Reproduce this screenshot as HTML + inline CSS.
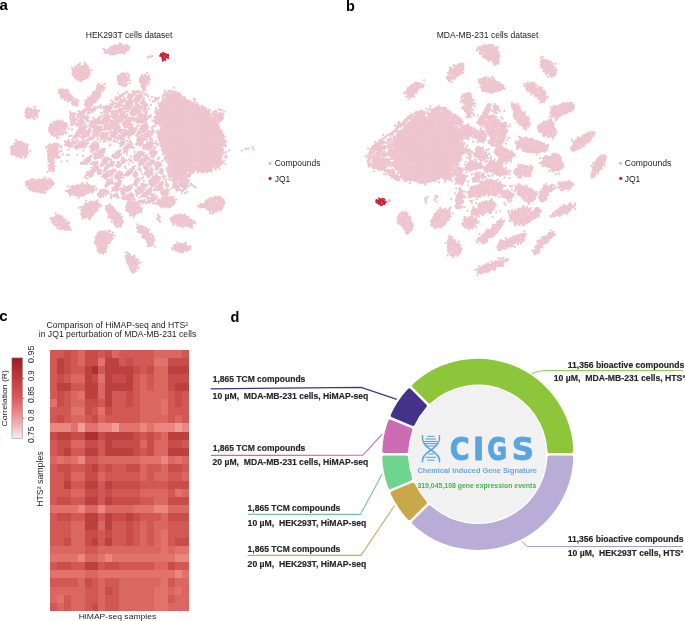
<!DOCTYPE html>
<html><head><meta charset="utf-8">
<style>
html,body{margin:0;padding:0;background:#fff;}
body{width:685px;height:621px;overflow:hidden;}
svg{display:block;}
</style></head>
<body>
<svg width="685" height="621" viewBox="0 0 685 621">
<rect width="685" height="621" fill="#fff"/>
<!-- panel a -->
<path d="M165.2 90.9h0M168.9 91.0h0M170.1 91.1h0M172.1 91.2h0M175.7 91.3h0M165.0 93.1h0M167.7 92.4h0M171.5 93.0h0M173.4 92.6h0M174.9 92.9h0M176.1 92.8h0M178.6 92.9h0M163.8 94.4h0M165.8 94.1h0M167.3 94.1h0M168.9 94.3h0M174.1 94.5h0M176.0 93.9h0M177.4 94.5h0M179.4 93.8h0M180.4 94.1h0M162.9 96.0h0M164.4 95.3h0M166.3 95.4h0M167.6 95.3h0M173.3 95.4h0M174.8 95.3h0M176.4 95.2h0M178.0 95.2h0M180.1 95.7h0M181.3 95.6h0M162.5 96.8h0M167.5 97.2h0M169.1 97.4h0M170.2 97.1h0M172.3 97.4h0M174.2 97.4h0M175.7 97.4h0M177.5 97.3h0M178.8 96.7h0M180.4 97.0h0M182.1 97.4h0M184.2 97.2h0M163.2 98.6h0M164.9 98.8h0M166.1 98.9h0M168.0 98.1h0M169.3 98.6h0M171.4 98.4h0M172.8 98.4h0M174.6 98.9h0M176.1 98.8h0M178.5 98.2h0M180.3 98.8h0M182.0 98.4h0M183.2 98.5h0M185.4 98.7h0M163.7 100.1h0M165.3 99.9h0M166.8 99.9h0M169.3 99.7h0M170.6 100.2h0M172.6 99.8h0M173.7 99.8h0M175.6 100.0h0M177.8 100.4h0M179.4 99.6h0M180.3 100.2h0M182.8 100.0h0M184.2 99.6h0M185.8 100.4h0M187.8 100.4h0M162.9 101.3h0M165.0 101.4h0M166.6 101.3h0M167.7 101.8h0M169.5 101.9h0M171.4 101.3h0M172.9 101.5h0M176.2 101.4h0M177.9 102.0h0M179.6 101.1h0M181.2 101.4h0M183.7 101.9h0M185.2 102.0h0M187.1 101.4h0M188.1 101.9h0M190.3 101.1h0M158.4 103.0h0M160.8 103.4h0M161.9 102.8h0M163.7 103.0h0M165.8 102.7h0M167.4 103.2h0M169.1 103.3h0M170.6 102.9h0M172.1 102.9h0M174.2 102.6h0M175.4 103.2h0M177.1 102.6h0M178.6 103.1h0M180.6 103.4h0M182.8 103.5h0M183.9 102.6h0M185.5 103.0h0M187.7 103.0h0M189.0 102.9h0M192.9 103.3h0M196.4 102.8h0M159.3 104.6h0M161.3 104.2h0M162.5 104.3h0M164.8 104.2h0M166.1 104.2h0M168.3 104.5h0M169.3 104.1h0M171.3 104.5h0M173.2 104.1h0M174.5 104.7h0M176.4 104.3h0M178.0 104.9h0M179.7 104.5h0M183.6 104.9h0M184.9 104.2h0M186.9 104.2h0M191.7 104.8h0M193.5 104.2h0M194.8 104.5h0M197.0 104.9h0M198.2 104.6h0M158.9 105.6h0M160.7 105.6h0M162.1 106.0h0M163.9 105.8h0M165.4 106.0h0M167.1 106.1h0M168.8 105.9h0M174.2 106.2h0M175.6 105.7h0M177.3 105.6h0M178.7 105.9h0M180.4 105.9h0M182.5 105.6h0M184.3 105.6h0M186.1 106.2h0M187.6 105.6h0M189.3 105.9h0M193.0 106.4h0M201.4 106.4h0M202.5 105.8h0M159.9 107.5h0M161.1 107.7h0M162.8 107.2h0M164.8 107.0h0M166.6 107.2h0M172.7 107.1h0M174.9 107.4h0M176.5 107.8h0M177.9 107.2h0M180.0 107.0h0M181.2 107.3h0M182.9 107.3h0M184.8 107.5h0M186.8 107.2h0M188.5 107.4h0M189.8 107.8h0M191.6 107.1h0M196.8 107.2h0M202.1 107.4h0M204.1 107.7h0M205.2 107.8h0M156.7 108.6h0M160.2 109.2h0M162.2 109.2h0M163.9 108.7h0M165.5 108.9h0M167.4 108.9h0M175.9 109.3h0M177.6 108.8h0M179.4 108.8h0M180.5 109.3h0M182.6 109.1h0M184.3 109.4h0M185.8 109.2h0M187.7 109.2h0M189.2 109.1h0M191.0 108.8h0M192.4 109.0h0M195.7 108.5h0M197.4 109.3h0M199.3 108.6h0M200.7 108.5h0M203.0 109.0h0M204.7 109.1h0M205.9 109.0h0M157.7 110.2h0M159.9 110.4h0M161.5 110.5h0M162.5 110.3h0M164.5 110.7h0M166.2 110.6h0M168.0 110.2h0M170.0 110.0h0M171.7 110.1h0M175.0 110.8h0M176.1 110.4h0M178.2 110.7h0M179.6 110.4h0M181.5 110.7h0M183.1 110.8h0M186.9 110.4h0M188.0 110.5h0M189.7 110.7h0M192.0 110.7h0M193.6 110.3h0M195.1 110.3h0M197.3 110.0h0M198.9 110.0h0M200.0 110.2h0M202.4 110.4h0M203.6 110.8h0M205.2 110.4h0M207.1 110.6h0M156.8 111.6h0M159.1 112.1h0M160.0 112.3h0M161.7 111.8h0M164.2 112.2h0M165.7 111.8h0M166.9 112.0h0M168.5 111.6h0M174.1 111.9h0M175.8 111.9h0M177.0 112.0h0M179.0 112.1h0M181.1 111.8h0M182.5 112.1h0M184.1 111.6h0M187.8 112.1h0M189.6 112.0h0M191.1 111.8h0M192.5 112.0h0M194.0 111.8h0M196.3 112.1h0M197.9 111.7h0M199.4 111.8h0M201.3 111.8h0M203.0 112.3h0M204.3 112.0h0M209.2 111.9h0M213.4 111.9h0M214.4 112.0h0M216.5 112.1h0M155.9 113.3h0M157.4 113.3h0M159.4 113.5h0M161.1 113.2h0M162.7 113.6h0M165.0 113.4h0M166.0 113.6h0M167.9 113.1h0M169.4 113.6h0M171.7 113.5h0M173.1 113.4h0M174.6 113.8h0M176.4 113.5h0M178.5 113.6h0M179.9 113.2h0M181.6 113.0h0M183.6 113.2h0M186.6 113.1h0M188.3 113.1h0M189.7 113.6h0M191.6 113.1h0M193.3 113.3h0M195.1 113.5h0M197.0 113.2h0M199.0 113.7h0M199.9 113.7h0M202.4 113.6h0M203.4 113.7h0M205.5 112.9h0M206.7 113.8h0M212.0 113.6h0M213.8 113.1h0M216.0 113.6h0M219.1 113.6h0M220.9 113.7h0M222.7 113.7h0M156.7 114.5h0M158.6 114.4h0M160.3 114.5h0M162.0 114.8h0M163.8 115.2h0M165.0 115.1h0M167.1 114.9h0M169.0 115.1h0M170.4 114.8h0M172.7 114.5h0M174.1 115.0h0M175.2 114.9h0M177.5 115.2h0M178.9 115.3h0M180.8 114.8h0M182.8 114.4h0M184.3 115.0h0M185.7 115.2h0M187.4 114.8h0M189.3 115.1h0M190.7 114.8h0M192.6 114.9h0M194.6 114.7h0M196.3 114.8h0M197.8 114.6h0M199.5 115.3h0M201.3 115.1h0M202.7 114.7h0M204.4 114.9h0M206.4 115.1h0M207.5 115.0h0M210.0 114.9h0M210.9 114.7h0M212.6 114.6h0M215.1 114.9h0M216.6 115.1h0M218.5 114.9h0M220.0 115.0h0M221.7 114.9h0M223.4 114.6h0M156.3 116.7h0M157.9 116.2h0M159.8 116.6h0M161.3 116.1h0M164.4 116.3h0M166.4 116.7h0M167.6 116.4h0M169.3 116.0h0M171.7 116.4h0M173.5 116.3h0M174.4 116.2h0M176.6 116.7h0M178.6 116.3h0M179.8 116.0h0M181.7 116.1h0M183.0 115.9h0M184.6 116.5h0M186.4 116.7h0M188.0 116.7h0M189.8 115.9h0M192.0 116.1h0M193.7 116.0h0M194.8 116.6h0M197.1 116.6h0M200.4 116.5h0M202.0 116.7h0M203.5 116.7h0M205.6 115.9h0M206.7 116.5h0M210.3 116.5h0M213.9 115.9h0M215.5 116.4h0M217.2 116.5h0M218.7 116.6h0M220.6 116.5h0M222.5 116.2h0M157.1 118.1h0M158.5 117.9h0M160.8 118.1h0M162.1 117.6h0M163.7 118.2h0M165.3 118.0h0M170.1 117.6h0M172.2 117.9h0M174.2 118.1h0M175.2 118.1h0M177.6 118.1h0M179.1 117.6h0M181.1 118.1h0M182.6 118.2h0M184.0 117.4h0M185.9 118.1h0M187.3 118.0h0M189.6 117.6h0M191.0 118.0h0M192.6 117.5h0M194.1 118.0h0M196.3 117.8h0M197.4 118.1h0M199.7 117.6h0M201.2 118.2h0M203.2 117.8h0M204.5 117.9h0M206.0 117.5h0M207.7 118.0h0M209.5 117.9h0M211.3 117.8h0M212.7 117.4h0M215.2 117.7h0M216.1 117.9h0M218.4 117.5h0M219.9 117.7h0M221.6 117.4h0M222.8 118.2h0M156.5 119.5h0M158.1 119.7h0M159.3 118.9h0M160.9 119.0h0M162.5 118.9h0M164.7 119.6h0M166.3 119.7h0M171.1 119.7h0M172.9 119.3h0M174.9 119.7h0M176.7 119.2h0M178.2 119.0h0M180.3 119.7h0M181.3 118.9h0M183.1 119.1h0M185.4 119.6h0M187.0 118.9h0M191.4 119.0h0M193.7 119.7h0M195.4 119.1h0M197.0 119.5h0M198.2 119.1h0M200.1 118.9h0M202.0 119.0h0M203.5 119.0h0M205.6 118.8h0M208.4 119.7h0M212.5 119.6h0M213.6 119.2h0M215.2 119.7h0M217.6 119.4h0M219.0 119.1h0M221.0 119.3h0M222.5 119.0h0M155.0 120.7h0M156.6 120.6h0M159.0 120.6h0M160.1 120.8h0M161.9 121.1h0M163.4 121.2h0M165.1 121.1h0M168.8 120.6h0M174.4 121.1h0M175.3 120.6h0M177.7 120.4h0M179.3 120.6h0M181.2 120.3h0M182.7 120.6h0M183.8 120.3h0M186.1 120.8h0M187.3 120.7h0M189.6 120.5h0M191.0 120.4h0M192.4 121.0h0M194.5 120.5h0M195.7 120.4h0M197.8 120.8h0M199.2 120.5h0M201.3 120.9h0M203.1 120.8h0M204.3 120.4h0M206.5 120.7h0M209.9 120.6h0M211.7 121.1h0M213.0 120.3h0M215.1 120.7h0M216.8 120.5h0M217.9 121.1h0M219.7 120.5h0M155.9 122.4h0M157.7 122.5h0M159.1 122.6h0M161.6 122.2h0M162.9 122.3h0M164.6 121.8h0M169.5 122.5h0M173.3 122.0h0M174.4 122.3h0M176.6 122.3h0M178.4 121.9h0M180.2 122.4h0M181.2 121.9h0M183.3 122.2h0M186.6 121.9h0M188.5 122.6h0M189.8 122.3h0M195.1 122.2h0M197.2 122.3h0M200.5 122.1h0M201.8 122.1h0M203.6 122.7h0M205.7 122.6h0M207.4 122.6h0M208.4 122.3h0M210.9 122.6h0M212.0 122.2h0M214.0 122.1h0M215.6 121.9h0M217.2 122.2h0M218.6 121.9h0M155.4 123.5h0M157.0 124.1h0M158.8 123.5h0M160.4 123.7h0M162.5 123.5h0M163.6 123.8h0M165.1 123.8h0M168.6 123.7h0M170.6 123.4h0M171.9 123.4h0M173.8 123.6h0M175.5 123.5h0M177.0 123.8h0M179.4 123.8h0M180.8 123.9h0M182.2 123.9h0M184.1 123.8h0M186.0 123.7h0M187.4 123.5h0M189.0 123.7h0M194.7 123.5h0M196.1 123.7h0M197.6 124.2h0M200.8 123.3h0M203.2 123.7h0M204.2 123.6h0M206.2 123.9h0M207.6 123.5h0M210.1 123.9h0M211.0 123.6h0M212.9 123.9h0M214.9 124.0h0M216.7 123.7h0M218.4 123.9h0M159.6 125.1h0M161.2 125.2h0M163.1 125.0h0M164.5 125.2h0M166.2 125.0h0M168.3 125.5h0M169.7 125.1h0M171.1 125.0h0M172.8 125.3h0M176.9 125.0h0M178.5 125.5h0M180.3 124.9h0M181.5 125.6h0M182.9 124.8h0M185.1 125.2h0M187.1 125.4h0M193.4 125.3h0M195.1 125.6h0M200.2 125.3h0M202.1 125.5h0M204.1 125.2h0M205.3 125.3h0M207.5 125.1h0M208.8 125.5h0M210.2 125.0h0M212.6 125.5h0M213.9 124.8h0M216.0 125.4h0M217.6 125.6h0M155.4 126.3h0M163.9 126.4h0M165.4 126.7h0M166.9 126.8h0M168.9 127.1h0M170.6 126.6h0M171.9 126.4h0M175.3 126.4h0M177.4 127.0h0M179.2 127.0h0M180.4 126.2h0M182.7 126.5h0M184.3 126.5h0M185.6 126.5h0M187.2 127.0h0M190.9 126.6h0M192.2 127.0h0M194.4 127.1h0M196.0 126.8h0M201.0 127.0h0M203.1 126.5h0M204.6 127.1h0M206.2 127.1h0M207.7 126.6h0M209.8 126.4h0M211.2 127.0h0M213.0 126.9h0M214.5 126.4h0M216.3 126.4h0M218.6 126.5h0M160.8 127.9h0M164.5 128.5h0M166.6 127.8h0M169.6 128.6h0M171.1 128.6h0M173.1 127.9h0M174.8 127.8h0M176.7 127.9h0M178.6 128.2h0M179.8 127.9h0M181.7 127.9h0M183.6 127.8h0M185.0 128.2h0M186.5 128.4h0M193.2 128.5h0M195.0 128.3h0M196.5 128.2h0M200.1 127.8h0M201.8 127.9h0M203.4 128.3h0M205.2 128.1h0M207.5 128.4h0M209.1 128.5h0M210.2 128.0h0M211.8 128.3h0M214.0 128.0h0M215.5 128.3h0M217.5 127.9h0M219.3 128.0h0M160.7 129.7h0M163.7 129.8h0M165.3 129.2h0M170.9 129.7h0M171.8 129.4h0M177.6 129.3h0M179.2 129.5h0M181.0 129.9h0M182.3 129.3h0M184.6 129.6h0M186.2 129.8h0M187.8 129.9h0M189.4 129.6h0M190.5 129.8h0M192.6 129.6h0M194.7 129.3h0M196.3 129.2h0M197.9 129.9h0M199.2 129.7h0M201.6 129.8h0M202.9 129.4h0M204.2 129.5h0M206.2 129.4h0M207.8 129.3h0M209.8 129.8h0M213.1 129.6h0M215.1 129.5h0M216.3 130.0h0M217.8 129.7h0M219.7 129.9h0M157.4 130.9h0M159.2 131.3h0M161.2 130.8h0M162.7 131.1h0M164.5 130.8h0M168.4 131.3h0M169.3 131.3h0M171.8 131.2h0M172.7 131.1h0M176.5 130.7h0M178.6 131.2h0M180.0 131.5h0M181.7 130.9h0M183.1 130.8h0M184.6 131.4h0M187.0 130.9h0M191.5 131.4h0M193.8 131.3h0M195.0 130.8h0M197.2 131.0h0M198.5 131.2h0M200.2 131.4h0M201.8 130.7h0M203.8 131.2h0M205.7 131.3h0M207.5 131.5h0M208.8 131.1h0M210.2 130.9h0M212.3 130.7h0M214.1 130.8h0M215.5 131.5h0M216.9 130.7h0M218.9 130.8h0M220.9 130.7h0M157.1 132.9h0M159.0 132.3h0M160.2 132.5h0M162.1 132.5h0M163.5 132.2h0M165.3 132.6h0M167.6 133.0h0M169.2 133.0h0M171.0 132.7h0M172.5 132.2h0M177.8 132.6h0M179.2 132.4h0M180.6 132.9h0M184.3 132.5h0M185.5 132.7h0M187.4 132.7h0M189.2 132.6h0M192.3 132.3h0M194.7 132.6h0M197.5 132.2h0M201.1 132.6h0M202.6 132.7h0M204.2 132.6h0M206.3 132.2h0M207.9 132.2h0M209.6 132.9h0M211.4 132.8h0M213.3 132.2h0M215.2 132.8h0M216.1 132.9h0M218.1 132.3h0M220.3 132.6h0M221.8 132.3h0M158.1 134.2h0M159.8 134.1h0M161.6 134.4h0M162.6 134.3h0M164.5 134.3h0M166.5 134.4h0M167.7 134.0h0M169.9 134.5h0M171.6 133.7h0M173.2 133.7h0M174.8 134.3h0M176.2 134.5h0M178.4 133.8h0M179.6 134.0h0M181.9 134.1h0M183.0 133.6h0M184.6 134.3h0M186.4 134.1h0M188.2 134.2h0M190.0 133.7h0M192.1 134.1h0M193.7 134.3h0M196.8 133.8h0M201.7 134.4h0M203.9 134.0h0M205.4 133.8h0M207.4 134.0h0M209.1 134.2h0M210.1 133.9h0M211.9 134.4h0M214.0 133.7h0M215.3 133.9h0M217.3 134.1h0M218.9 133.9h0M220.3 134.1h0M222.3 133.6h0M158.7 136.0h0M160.8 135.1h0M162.1 135.8h0M164.1 135.8h0M165.6 135.7h0M167.0 135.4h0M169.1 135.9h0M172.1 135.8h0M174.2 135.6h0M175.8 135.4h0M177.4 135.5h0M178.7 135.4h0M180.6 136.0h0M182.4 135.4h0M183.9 135.3h0M187.1 135.9h0M189.2 135.5h0M194.2 135.4h0M196.3 135.6h0M198.1 135.4h0M199.8 135.6h0M200.8 135.3h0M202.9 136.0h0M204.4 135.8h0M206.2 135.9h0M207.6 135.5h0M210.0 135.3h0M211.1 135.1h0M212.7 135.3h0M214.9 135.3h0M220.0 135.3h0M221.8 136.0h0M223.3 135.2h0M158.2 136.8h0M159.3 137.3h0M161.3 136.9h0M163.1 136.9h0M164.2 137.0h0M165.9 137.1h0M167.9 137.0h0M169.8 136.8h0M173.5 137.1h0M175.2 136.6h0M176.6 137.2h0M178.0 136.7h0M179.6 136.7h0M181.8 136.7h0M183.6 137.0h0M185.0 137.1h0M186.7 137.2h0M188.5 136.9h0M190.3 136.8h0M193.7 136.9h0M196.9 136.8h0M198.6 137.4h0M200.0 136.6h0M202.0 137.2h0M203.9 136.9h0M205.8 136.8h0M207.3 136.7h0M208.4 136.7h0M210.1 137.0h0M212.2 136.7h0M214.3 136.9h0M215.3 136.7h0M222.8 137.0h0M158.6 138.8h0M160.0 138.6h0M162.0 138.9h0M164.2 138.6h0M165.2 138.3h0M166.9 138.4h0M168.6 138.2h0M170.8 138.6h0M172.1 139.0h0M173.7 138.6h0M175.3 138.8h0M177.7 138.3h0M179.3 138.8h0M180.6 138.4h0M182.4 138.9h0M183.8 138.7h0M185.9 138.5h0M187.6 138.9h0M193.0 138.2h0M194.7 139.0h0M195.9 138.1h0M197.4 138.9h0M199.0 138.9h0M200.8 138.7h0M202.5 138.2h0M204.7 138.1h0M206.1 138.9h0M208.1 138.9h0M210.1 138.1h0M211.1 138.8h0M221.2 138.5h0M222.9 138.4h0M159.2 140.4h0M161.5 140.2h0M162.7 139.7h0M164.4 139.6h0M165.9 140.0h0M167.9 140.0h0M169.6 139.5h0M171.6 140.1h0M173.1 140.0h0M175.0 140.4h0M176.8 140.2h0M178.1 139.8h0M185.4 139.5h0M186.8 140.4h0M191.5 139.6h0M193.8 140.2h0M195.6 139.6h0M197.1 139.8h0M204.0 140.0h0M205.5 140.4h0M206.9 140.1h0M209.0 139.9h0M210.7 139.9h0M214.1 139.8h0M217.1 140.1h0M218.8 140.4h0M222.4 140.0h0M223.8 139.7h0M160.6 141.8h0M162.4 141.1h0M163.6 141.8h0M165.7 141.1h0M166.8 141.2h0M168.5 141.3h0M170.8 141.5h0M172.2 141.1h0M173.9 141.9h0M175.8 141.4h0M177.3 141.7h0M179.3 141.1h0M182.5 141.2h0M184.0 141.3h0M185.7 141.0h0M187.3 141.5h0M191.1 141.3h0M192.5 141.2h0M194.7 141.1h0M196.2 141.8h0M197.5 141.4h0M202.8 141.3h0M204.7 141.3h0M206.2 141.6h0M208.2 141.3h0M209.5 141.5h0M211.7 141.2h0M219.9 141.5h0M221.9 141.7h0M222.8 141.5h0M224.9 141.4h0M159.7 143.2h0M161.1 142.5h0M163.1 143.0h0M164.8 143.2h0M166.0 142.7h0M169.3 142.6h0M171.6 143.0h0M172.7 143.1h0M175.0 142.9h0M176.1 143.1h0M178.1 143.0h0M180.3 143.2h0M181.9 142.6h0M183.2 143.0h0M184.6 143.4h0M186.5 142.7h0M188.2 142.7h0M190.4 143.0h0M191.8 142.9h0M193.1 142.8h0M195.5 143.2h0M197.2 142.7h0M198.3 142.5h0M200.3 142.8h0M202.0 142.9h0M203.8 142.8h0M205.7 142.7h0M207.5 143.0h0M208.4 142.8h0M210.5 142.9h0M212.3 142.8h0M213.7 143.2h0M217.6 143.0h0M219.0 143.3h0M220.7 143.3h0M222.0 142.9h0M224.2 142.5h0M160.2 144.2h0M162.4 144.1h0M164.1 144.2h0M165.1 144.1h0M167.4 144.8h0M168.8 144.6h0M172.4 144.1h0M173.6 144.6h0M175.2 144.7h0M177.2 144.2h0M179.1 144.3h0M180.8 144.1h0M182.8 144.3h0M184.5 144.1h0M186.1 144.9h0M187.5 144.0h0M190.7 144.5h0M192.3 144.4h0M194.6 144.4h0M196.2 144.1h0M198.0 144.1h0M199.8 144.9h0M201.5 144.4h0M202.7 144.3h0M204.8 144.4h0M206.6 144.1h0M207.9 144.8h0M209.7 144.5h0M211.0 144.1h0M212.8 144.8h0M215.1 144.2h0M218.2 144.8h0M219.7 144.8h0M221.7 144.0h0M223.1 144.4h0M224.7 144.6h0M160.8 145.9h0M162.5 146.0h0M164.3 146.0h0M166.2 145.8h0M168.1 145.6h0M173.4 145.9h0M174.5 145.5h0M176.8 145.6h0M178.2 145.9h0M179.6 145.9h0M181.3 145.9h0M183.3 145.8h0M184.7 145.8h0M186.4 145.6h0M190.1 146.3h0M191.4 146.3h0M193.5 146.2h0M195.3 146.1h0M196.7 146.1h0M198.3 145.7h0M199.9 145.8h0M202.0 145.7h0M204.1 145.5h0M205.5 145.7h0M207.2 146.2h0M209.0 145.5h0M210.3 146.0h0M214.0 146.1h0M215.9 145.8h0M217.6 145.9h0M219.4 145.5h0M222.3 145.5h0M223.9 146.1h0M226.0 145.6h0M162.3 147.7h0M164.0 147.5h0M165.2 147.5h0M167.5 147.6h0M168.5 147.6h0M174.2 147.1h0M175.9 147.8h0M177.7 147.6h0M179.3 147.7h0M180.8 147.3h0M182.7 147.6h0M184.5 147.2h0M186.3 147.4h0M189.7 147.6h0M190.7 147.7h0M192.4 147.1h0M194.3 147.1h0M196.0 147.7h0M197.9 147.6h0M199.4 147.6h0M201.4 147.5h0M203.2 147.7h0M204.5 147.0h0M206.4 147.7h0M207.8 147.5h0M210.0 147.6h0M210.9 147.4h0M215.0 147.3h0M216.5 147.3h0M218.0 147.1h0M219.7 147.7h0M163.0 149.2h0M164.5 148.9h0M166.7 148.9h0M168.4 148.6h0M170.0 148.6h0M171.4 148.4h0M172.8 149.3h0M174.8 149.1h0M176.3 148.7h0M177.8 148.9h0M180.2 148.9h0M181.5 149.2h0M183.7 149.0h0M184.6 149.0h0M186.6 149.3h0M188.3 149.0h0M190.2 148.7h0M191.8 149.0h0M193.9 148.9h0M195.1 149.3h0M196.5 149.2h0M198.8 148.9h0M200.3 149.1h0M202.4 149.1h0M203.9 148.4h0M205.2 148.5h0M207.5 149.2h0M208.5 148.9h0M210.6 148.5h0M212.1 149.1h0M215.8 148.7h0M217.3 148.8h0M219.4 149.0h0M161.9 149.9h0M163.6 150.2h0M165.9 150.8h0M166.9 150.2h0M169.2 150.1h0M170.4 150.3h0M171.9 150.1h0M173.9 150.2h0M176.1 150.1h0M177.1 150.7h0M179.0 150.6h0M180.9 150.6h0M182.3 150.0h0M184.4 150.3h0M185.9 150.5h0M187.8 150.1h0M189.1 150.7h0M191.0 150.1h0M192.8 150.1h0M194.6 149.9h0M196.3 150.4h0M197.6 150.7h0M199.2 150.1h0M200.8 150.4h0M203.1 150.5h0M204.5 150.6h0M205.9 150.2h0M208.1 150.8h0M209.8 150.5h0M211.6 150.2h0M216.7 150.2h0M217.9 150.7h0M219.9 150.4h0M221.7 150.7h0M222.9 150.2h0M163.1 151.8h0M166.5 152.1h0M168.1 152.2h0M169.4 152.0h0M171.6 151.9h0M172.9 151.4h0M174.9 152.1h0M176.3 151.6h0M178.0 151.5h0M180.1 152.2h0M181.9 151.7h0M183.5 151.4h0M185.3 151.7h0M186.3 151.9h0M188.1 151.6h0M189.7 151.8h0M191.8 152.1h0M193.1 152.1h0M194.8 151.6h0M197.0 151.7h0M198.4 151.9h0M200.0 152.1h0M201.7 152.1h0M204.0 151.9h0M205.0 152.1h0M208.7 151.4h0M210.6 152.0h0M212.3 151.7h0M215.4 152.1h0M217.7 152.1h0M219.4 151.7h0M221.1 151.4h0M222.4 151.5h0M226.0 151.8h0M163.8 153.5h0M165.9 153.5h0M167.6 153.7h0M169.1 153.5h0M170.2 153.0h0M174.1 153.4h0M175.4 153.2h0M177.0 153.4h0M179.5 153.1h0M180.3 153.0h0M182.3 153.7h0M184.4 153.3h0M185.5 152.9h0M187.2 153.5h0M189.2 153.7h0M191.3 153.6h0M194.0 152.9h0M196.1 153.3h0M197.5 153.1h0M199.0 153.7h0M201.3 153.7h0M203.3 153.2h0M204.8 153.2h0M206.5 153.6h0M207.6 152.9h0M209.4 153.4h0M211.2 152.9h0M213.3 153.6h0M214.7 152.9h0M216.8 153.3h0M217.8 153.1h0M220.0 153.6h0M221.5 153.4h0M223.0 153.1h0M225.3 153.2h0M162.9 154.7h0M166.1 154.9h0M168.2 154.8h0M169.4 155.1h0M172.9 155.2h0M174.6 154.7h0M176.8 155.1h0M178.3 155.0h0M179.5 154.4h0M182.0 155.0h0M182.9 154.4h0M184.8 155.2h0M186.4 154.9h0M188.8 154.9h0M190.5 154.6h0M191.5 154.3h0M195.6 155.0h0M196.6 155.1h0M198.3 154.8h0M199.9 155.0h0M205.5 155.1h0M207.1 154.9h0M208.9 155.0h0M210.1 154.4h0M212.2 154.6h0M213.8 154.3h0M215.8 154.3h0M217.6 155.1h0M219.0 154.4h0M220.8 154.5h0M222.3 154.4h0M165.6 156.3h0M167.2 156.2h0M168.8 156.4h0M170.7 156.6h0M172.5 156.5h0M174.3 156.6h0M175.8 155.8h0M177.5 156.6h0M179.0 156.6h0M180.5 156.7h0M182.4 156.4h0M183.9 156.1h0M185.7 156.1h0M187.2 156.2h0M189.7 156.4h0M195.8 156.2h0M197.3 156.0h0M201.0 156.5h0M203.1 156.6h0M204.8 156.3h0M205.9 156.5h0M207.8 156.4h0M211.8 156.0h0M213.1 156.4h0M214.8 156.6h0M216.4 156.6h0M218.3 156.7h0M219.5 156.0h0M221.4 156.6h0M225.1 156.7h0M226.4 156.2h0M164.7 157.9h0M166.4 157.9h0M167.8 157.3h0M169.3 157.3h0M171.3 157.4h0M172.8 157.7h0M175.2 157.9h0M176.3 158.0h0M177.9 157.4h0M179.7 157.7h0M181.8 157.7h0M183.5 157.4h0M185.4 157.6h0M187.0 157.3h0M188.7 157.5h0M190.4 158.0h0M202.4 157.6h0M203.8 157.8h0M205.2 157.3h0M206.7 158.1h0M208.5 158.2h0M211.9 158.0h0M213.7 157.6h0M215.6 157.4h0M217.1 158.0h0M218.8 157.6h0M220.9 157.5h0M225.9 157.7h0M165.2 159.2h0M166.8 158.8h0M168.7 159.2h0M170.9 159.3h0M171.9 159.0h0M174.2 159.3h0M176.0 159.6h0M177.7 158.9h0M179.4 159.2h0M180.5 158.9h0M182.8 159.0h0M183.8 159.0h0M186.2 159.2h0M187.8 158.8h0M189.2 159.0h0M190.7 159.4h0M194.8 159.2h0M197.9 159.2h0M199.0 159.2h0M201.4 159.2h0M202.6 159.2h0M204.6 159.3h0M205.9 159.5h0M208.4 159.4h0M210.0 159.1h0M211.7 158.9h0M212.8 159.3h0M215.1 158.8h0M216.2 158.8h0M218.1 158.9h0M219.6 159.4h0M166.2 160.8h0M169.4 161.0h0M171.0 160.8h0M172.9 160.7h0M176.2 160.5h0M177.9 161.1h0M179.6 160.4h0M183.6 160.3h0M184.8 160.4h0M186.8 160.6h0M188.3 161.0h0M190.2 161.0h0M192.2 160.5h0M193.9 160.6h0M194.8 161.1h0M196.5 160.3h0M198.4 160.5h0M200.7 161.0h0M201.9 160.7h0M204.0 161.0h0M205.5 160.7h0M206.8 160.5h0M208.9 160.8h0M210.8 161.1h0M212.6 160.4h0M213.5 161.0h0M215.7 160.4h0M217.5 160.5h0M218.8 160.6h0M224.2 160.7h0M167.4 162.0h0M169.0 162.4h0M170.2 161.9h0M172.0 162.0h0M173.5 161.8h0M177.0 162.2h0M179.4 162.2h0M180.6 162.4h0M182.4 161.9h0M184.1 161.7h0M186.0 161.9h0M187.4 162.6h0M189.5 162.5h0M191.1 162.3h0M192.8 162.6h0M194.1 162.4h0M195.9 162.0h0M198.0 162.3h0M199.8 162.5h0M201.2 161.9h0M202.4 162.2h0M204.8 162.0h0M205.9 161.7h0M207.7 162.3h0M209.2 161.9h0M211.1 162.4h0M213.5 161.7h0M214.4 162.6h0M216.9 161.9h0M218.0 162.2h0M219.7 162.1h0M221.5 162.0h0M222.8 161.8h0M172.9 163.3h0M174.9 163.7h0M176.2 163.4h0M178.3 163.3h0M180.0 163.4h0M181.4 163.6h0M183.3 163.9h0M184.6 163.9h0M186.4 163.5h0M188.5 163.8h0M190.2 164.0h0M191.5 163.5h0M193.6 163.4h0M194.9 163.4h0M198.8 164.1h0M200.6 163.5h0M201.8 163.8h0M203.3 163.7h0M205.0 163.2h0M207.1 163.3h0M209.2 164.0h0M210.5 163.4h0M211.9 163.7h0M213.9 163.5h0M215.8 163.7h0M217.5 163.3h0M218.6 163.5h0M220.7 163.4h0M222.6 163.4h0M169.1 165.1h0M170.2 165.0h0M173.5 164.9h0M175.9 164.8h0M177.0 164.7h0M178.7 165.2h0M181.0 164.8h0M182.2 165.4h0M184.1 165.0h0M185.5 164.9h0M188.0 164.8h0M189.0 165.3h0M191.3 165.5h0M192.6 165.5h0M194.4 164.9h0M198.0 164.8h0M199.2 165.5h0M200.8 165.4h0M202.7 164.9h0M204.3 165.1h0M206.7 164.8h0M208.3 165.0h0M209.4 165.3h0M211.2 164.8h0M215.1 165.2h0M216.0 165.4h0M218.2 165.5h0M220.3 165.0h0M168.3 166.3h0M169.7 166.5h0M171.7 166.5h0M173.4 166.9h0M175.1 166.3h0M176.9 166.8h0M178.4 166.7h0M179.5 166.9h0M181.6 166.6h0M183.2 166.9h0M185.3 166.9h0M186.4 166.5h0M188.2 166.2h0M189.9 166.2h0M192.1 166.4h0M193.1 166.2h0M195.4 166.3h0M196.9 166.5h0M198.9 167.0h0M200.1 166.7h0M202.4 166.6h0M204.1 166.8h0M205.2 166.9h0M207.2 166.3h0M208.9 166.9h0M210.5 166.6h0M212.1 167.0h0M215.5 166.5h0M217.7 166.8h0M218.7 167.0h0M168.9 168.2h0M170.2 168.5h0M172.7 168.1h0M176.0 168.1h0M177.6 168.4h0M178.9 168.5h0M180.5 167.7h0M182.5 168.4h0M184.5 168.5h0M185.9 168.5h0M187.6 167.8h0M189.4 168.4h0M190.9 168.2h0M192.4 167.9h0M194.3 168.1h0M196.0 167.7h0M197.3 167.9h0M199.6 168.3h0M200.9 167.9h0M202.9 167.8h0M204.6 168.5h0M208.1 168.3h0M209.8 168.3h0M211.1 168.4h0M215.1 168.0h0M216.1 167.7h0M168.1 169.2h0M169.4 169.2h0M171.6 170.0h0M173.0 169.4h0M176.7 169.5h0M177.9 169.9h0M180.0 169.1h0M181.9 169.8h0M183.2 169.7h0M185.4 169.5h0M186.6 169.4h0M193.8 169.8h0M195.3 169.7h0M196.8 170.0h0M198.6 169.5h0M200.0 169.2h0M202.4 169.8h0M203.3 169.4h0M205.4 169.6h0M207.0 169.9h0M208.7 169.6h0M210.9 169.7h0M215.9 169.4h0M168.7 170.7h0M170.9 171.3h0M172.3 171.5h0M173.5 170.6h0M175.3 170.6h0M177.5 171.2h0M178.7 170.7h0M180.5 171.1h0M182.6 171.5h0M187.3 170.8h0M191.1 170.8h0M192.4 170.7h0M194.2 171.3h0M197.9 170.6h0M199.4 171.3h0M201.2 171.0h0M203.2 171.1h0M204.4 171.0h0M206.6 171.4h0M208.3 171.1h0M209.3 170.8h0M211.2 171.2h0M168.4 172.8h0M169.4 172.8h0M171.5 172.9h0M173.2 172.5h0M175.2 172.2h0M176.7 172.2h0M178.0 172.2h0M180.2 172.5h0M181.8 172.3h0M183.5 172.7h0M190.0 172.9h0M192.2 173.0h0M193.4 172.6h0M202.2 172.2h0M203.9 172.1h0M170.8 173.8h0M172.2 174.3h0M175.3 174.2h0M177.4 173.9h0M178.8 173.7h0M180.7 174.0h0M182.2 173.9h0M184.2 174.2h0M185.9 173.7h0M187.9 173.9h0M189.7 174.4h0M190.6 174.1h0M168.4 175.4h0M169.9 175.1h0M171.7 175.9h0M172.7 175.7h0M178.6 175.9h0M180.3 175.6h0M181.7 175.2h0M183.5 175.5h0M184.9 175.8h0M186.5 175.2h0M188.1 175.2h0M190.2 175.8h0M169.0 176.6h0M170.9 176.5h0M172.0 176.9h0M173.7 176.6h0M175.8 177.4h0M177.2 176.8h0M179.2 176.7h0M180.7 177.1h0M182.4 176.7h0M183.8 177.0h0M186.3 177.3h0M187.2 177.0h0M189.2 176.7h0M169.5 178.4h0M173.2 178.2h0M174.8 178.2h0M176.7 178.6h0M178.5 178.5h0M179.7 178.8h0M181.6 178.3h0M183.1 178.4h0M185.2 178.7h0M186.7 178.6h0M171.8 180.1h0M174.0 179.7h0M175.4 180.2h0M177.7 179.7h0M179.1 180.0h0M180.6 179.5h0M182.3 180.0h0M184.2 179.9h0M185.5 179.7h0M187.4 179.8h0M189.1 180.3h0M173.0 181.1h0M174.9 181.5h0M176.5 181.3h0M179.9 181.7h0M181.5 181.6h0M182.9 181.1h0M185.4 181.6h0M186.9 181.4h0M188.4 181.1h0M174.3 183.2h0M175.9 182.6h0M177.0 183.3h0M179.1 183.0h0M181.1 182.6h0M182.6 182.8h0M184.4 182.8h0M185.6 183.3h0M187.4 183.1h0M173.1 184.3h0M174.8 184.7h0M176.1 184.7h0M180.1 184.4h0M181.6 184.1h0M183.6 184.2h0M185.2 184.1h0M186.8 184.5h0M173.7 186.0h0M175.8 186.0h0M176.9 185.8h0M178.9 185.9h0M180.6 185.5h0M182.6 185.6h0M184.4 185.7h0M185.9 186.1h0M187.2 186.0h0M173.3 187.0h0M175.2 187.2h0M176.6 187.6h0M177.8 186.9h0M181.8 187.1h0M183.3 187.0h0M184.9 187.1h0M186.8 187.1h0M176.0 188.9h0M177.1 188.5h0M179.1 188.5h0M183.9 189.1h0M185.7 189.1h0M178.6 190.0h0M179.5 190.2h0M181.2 190.3h0M183.2 190.7h0M159.1 97.6h0M219.5 168.7h0M220.1 121.0h0M171.1 176.7h0M164.4 151.3h0M221.5 130.9h0M224.6 136.9h0M184.0 187.9h0M208.9 113.9h0M193.7 98.8h0M200.5 170.9h0M202.9 170.7h0M176.6 190.7h0M187.3 191.8h0M188.2 101.3h0M218.8 108.8h0M166.8 168.1h0M194.2 101.5h0M210.4 168.9h0M188.7 185.9h0M221.8 110.2h0M164.9 90.8h0M185.1 193.2h0M166.6 161.0h0M225.5 146.2h0M156.1 112.8h0M204.1 108.0h0M173.7 87.6h0M181.8 193.3h0M216.3 113.6h0M159.3 136.3h0M195.2 99.4h0M219.5 113.0h0M197.7 169.1h0M187.4 101.4h0M155.8 108.3h0M206.6 172.8h0M187.7 183.1h0M229.2 150.6h0M190.0 173.5h0M209.6 110.1h0M219.9 110.2h0M182.4 191.1h0M215.9 110.5h0M186.5 184.2h0M185.0 187.2h0M188.3 101.6h0M167.2 171.1h0M221.7 120.0h0M197.9 172.5h0M209.0 109.8h0M185.7 187.6h0M222.2 118.4h0M226.2 141.6h0M173.4 92.2h0M156.8 132.7h0M224.2 111.7h0M154.5 117.2h0M225.4 164.1h0M154.7 121.4h0M121.2 44.2h0M113.8 45.7h0M115.3 45.3h0M117.4 46.0h0M118.2 45.4h0M120.2 45.3h0M122.0 45.9h0M123.3 45.9h0M125.3 45.1h0M127.5 45.4h0M111.2 47.2h0M112.6 47.4h0M114.7 47.1h0M116.1 46.9h0M117.5 47.4h0M119.6 46.7h0M121.6 47.4h0M122.5 47.2h0M124.4 47.1h0M126.6 46.9h0M128.0 47.2h0M129.4 47.2h0M109.8 48.2h0M111.9 48.2h0M113.8 48.2h0M115.4 48.8h0M116.6 48.3h0M118.9 48.5h0M120.7 48.4h0M122.0 48.9h0M123.6 48.9h0M125.8 48.3h0M127.2 48.9h0M128.5 48.8h0M108.0 49.6h0M109.6 50.2h0M110.8 50.2h0M112.6 50.2h0M114.0 50.4h0M116.0 50.3h0M117.8 50.3h0M119.3 50.0h0M120.8 50.0h0M122.5 50.3h0M124.8 49.9h0M126.7 50.4h0M128.4 49.6h0M105.1 51.0h0M107.1 51.4h0M108.5 51.8h0M109.9 51.1h0M112.2 51.3h0M113.1 51.2h0M115.7 51.7h0M116.7 51.2h0M119.0 51.6h0M120.4 51.1h0M122.0 51.9h0M123.3 51.4h0M125.0 51.9h0M105.9 53.0h0M107.3 53.0h0M109.6 52.6h0M111.3 52.9h0M112.5 52.7h0M114.4 53.1h0M116.2 53.3h0M117.8 53.0h0M119.9 52.7h0M120.8 52.8h0M122.7 52.6h0M109.8 54.3h0M112.1 54.7h0M114.0 54.1h0M115.0 54.1h0M104.7 52.6h0M124.3 53.9h0M127.7 48.9h0M105.0 49.6h0M115.1 53.2h0M119.7 43.6h0M128.1 50.0h0M104.9 52.4h0M103.4 49.1h0M80.0 63.5h0M78.1 65.0h0M79.5 65.2h0M84.3 65.2h0M86.0 64.8h0M77.1 66.2h0M78.8 66.1h0M80.5 66.0h0M82.1 66.3h0M83.6 66.6h0M85.6 66.0h0M87.4 66.1h0M76.4 67.6h0M77.5 68.2h0M79.7 67.4h0M81.5 68.2h0M83.1 67.7h0M84.6 67.4h0M86.4 68.2h0M88.2 67.5h0M73.1 68.9h0M75.0 69.2h0M77.0 69.7h0M78.9 69.5h0M80.5 69.4h0M81.6 69.4h0M83.8 69.4h0M85.5 68.8h0M87.2 69.5h0M88.4 69.3h0M72.6 70.7h0M74.6 70.7h0M76.4 70.5h0M78.2 70.9h0M79.4 70.9h0M81.4 70.7h0M83.0 70.9h0M85.0 71.0h0M86.3 70.9h0M87.8 70.5h0M89.7 70.5h0M73.4 72.2h0M75.3 72.0h0M76.7 72.3h0M78.9 72.6h0M80.3 72.0h0M82.1 72.5h0M83.7 71.8h0M85.3 72.2h0M86.8 72.6h0M88.7 72.2h0M72.3 73.8h0M74.7 73.2h0M75.7 73.4h0M77.6 73.9h0M79.8 74.1h0M81.2 73.3h0M83.2 73.8h0M84.6 73.5h0M86.0 73.6h0M87.9 73.4h0M89.5 73.3h0M73.4 75.4h0M75.2 75.2h0M76.9 75.4h0M78.2 75.4h0M80.3 75.2h0M82.3 75.2h0M83.8 74.8h0M85.2 75.5h0M86.7 74.8h0M88.5 75.5h0M74.6 76.4h0M75.7 76.5h0M77.9 77.0h0M79.4 76.7h0M80.7 76.4h0M83.0 76.3h0M84.4 76.2h0M86.4 76.6h0M88.1 76.5h0M75.3 78.3h0M77.0 78.0h0M78.2 78.5h0M80.1 78.5h0M81.7 78.5h0M83.7 77.8h0M85.2 78.3h0M87.5 78.0h0M77.4 79.9h0M79.8 79.8h0M81.2 80.0h0M83.1 79.1h0M84.9 79.3h0M80.3 81.1h0M81.6 81.0h0M78.8 64.7h0M91.8 70.3h0M72.9 68.9h0M85.6 64.1h0M71.9 67.6h0M84.5 62.6h0M80.3 80.5h0M90.0 73.9h0M75.2 67.0h0M58.7 90.2h0M60.8 89.7h0M62.5 89.5h0M64.3 90.3h0M65.6 90.4h0M67.2 89.7h0M59.6 91.5h0M61.8 91.7h0M63.0 91.0h0M64.6 91.0h0M66.1 91.1h0M68.2 91.5h0M58.6 93.1h0M60.8 93.3h0M62.1 93.2h0M63.9 93.2h0M65.4 93.0h0M67.4 93.2h0M68.7 93.4h0M61.3 94.5h0M63.3 94.6h0M65.0 94.9h0M66.1 94.7h0M68.0 94.0h0M69.7 94.2h0M60.8 95.9h0M61.9 95.8h0M63.9 95.9h0M65.8 95.5h0M67.4 95.9h0M68.7 95.7h0M71.0 96.2h0M61.8 97.1h0M63.0 97.5h0M65.1 97.1h0M66.5 97.7h0M68.5 97.4h0M69.9 97.4h0M71.9 97.1h0M73.1 97.7h0M64.4 99.2h0M67.2 98.7h0M68.8 99.0h0M70.5 99.2h0M72.2 99.2h0M68.3 100.3h0M70.0 100.0h0M71.9 100.5h0M73.3 100.4h0M75.2 100.7h0M72.9 101.7h0M73.9 102.0h0M75.9 102.0h0M71.9 103.0h0M73.1 102.8h0M74.7 103.7h0M76.4 103.2h0M72.8 104.8h0M74.3 104.7h0M75.6 104.6h0M77.7 104.6h0M77.0 105.9h0M77.4 102.9h0M78.5 100.6h0M75.7 98.9h0M77.6 100.4h0M70.3 94.9h0M68.3 101.5h0M61.5 98.0h0M65.4 100.0h0M76.4 105.5h0M60.8 95.0h0M26.8 109.1h0M28.7 109.3h0M29.8 109.1h0M31.5 108.8h0M35.0 109.4h0M25.8 110.1h0M27.1 110.6h0M29.3 110.2h0M31.1 110.3h0M32.7 110.6h0M34.2 111.0h0M35.9 110.5h0M37.7 110.9h0M25.4 112.3h0M26.7 112.2h0M28.5 112.5h0M30.5 112.3h0M31.5 112.1h0M33.4 111.8h0M35.4 111.8h0M37.0 112.0h0M26.0 114.0h0M27.9 113.8h0M29.0 113.7h0M30.9 113.9h0M32.6 113.4h0M33.9 113.5h0M36.0 113.3h0M37.3 113.5h0M26.6 114.9h0M28.4 115.0h0M29.9 114.7h0M31.3 115.0h0M33.9 114.8h0M35.0 114.8h0M37.1 115.0h0M25.5 116.2h0M27.4 116.4h0M29.1 116.9h0M30.8 116.5h0M33.0 116.6h0M34.4 116.8h0M35.9 116.1h0M26.9 117.8h0M28.5 117.8h0M30.4 117.8h0M33.2 117.7h0M39.2 110.8h0M34.9 106.8h0M37.5 117.3h0M25.6 113.0h0M34.6 119.2h0M27.8 107.6h0M58.7 120.5h0M54.0 121.8h0M56.4 121.3h0M57.5 122.0h0M59.2 121.9h0M60.8 121.4h0M62.7 121.5h0M53.7 122.7h0M55.0 122.9h0M57.0 123.3h0M59.0 123.1h0M59.9 123.3h0M62.3 122.7h0M63.7 123.1h0M65.6 123.4h0M50.8 124.3h0M52.7 124.6h0M53.9 124.4h0M55.9 124.7h0M58.0 124.8h0M59.9 124.3h0M61.1 124.3h0M63.0 124.1h0M64.2 124.8h0M66.4 125.0h0M50.2 125.8h0M52.2 125.7h0M53.3 125.8h0M55.6 126.3h0M56.6 125.8h0M58.5 126.0h0M59.9 125.7h0M61.7 125.6h0M63.9 125.8h0M65.6 125.9h0M67.0 126.0h0M48.8 127.9h0M50.6 127.5h0M52.2 127.7h0M54.3 127.4h0M56.1 127.4h0M57.3 127.8h0M59.5 127.1h0M60.8 127.8h0M62.6 127.5h0M64.5 127.8h0M66.6 127.1h0M49.7 129.3h0M51.7 129.3h0M53.3 128.8h0M54.9 128.8h0M57.1 128.9h0M58.4 129.1h0M60.4 128.6h0M62.3 128.8h0M63.8 128.8h0M65.2 128.9h0M49.2 130.7h0M50.6 130.5h0M53.0 130.3h0M54.5 130.5h0M56.0 130.7h0M57.7 130.0h0M59.3 130.1h0M60.7 130.9h0M62.7 130.3h0M65.0 130.1h0M49.8 131.9h0M51.7 131.8h0M53.1 132.1h0M54.8 131.8h0M56.9 131.5h0M58.3 131.8h0M60.5 131.6h0M62.2 131.7h0M64.0 132.4h0M65.8 132.4h0M51.1 133.1h0M52.7 133.3h0M54.0 133.8h0M56.4 133.7h0M57.7 133.8h0M59.5 133.3h0M61.4 133.8h0M63.2 133.6h0M55.5 135.2h0M57.1 134.6h0M58.6 134.7h0M60.1 134.7h0M54.0 136.1h0M56.5 136.2h0M66.3 123.4h0M50.7 124.0h0M57.2 137.1h0M62.3 134.8h0M66.2 133.2h0M58.4 137.7h0M66.5 125.3h0M52.0 134.9h0M57.1 137.9h0M17.3 141.8h0M19.5 141.8h0M14.5 143.3h0M16.7 142.8h0M18.2 143.0h0M20.0 143.2h0M22.0 142.7h0M22.9 143.1h0M15.9 144.0h0M17.6 144.8h0M19.4 144.6h0M21.2 144.6h0M22.5 144.6h0M24.5 144.5h0M26.1 144.1h0M11.8 146.1h0M13.0 146.3h0M14.5 145.4h0M16.4 145.5h0M18.7 145.7h0M19.8 146.2h0M21.7 146.0h0M23.3 145.8h0M25.5 145.6h0M12.2 146.9h0M14.4 147.0h0M16.0 146.9h0M17.5 147.0h0M18.9 147.2h0M21.0 147.3h0M22.4 147.2h0M24.2 147.1h0M26.3 147.0h0M27.3 147.4h0M11.3 149.0h0M12.7 149.0h0M14.7 149.2h0M16.4 148.7h0M18.1 148.8h0M19.8 148.9h0M21.6 149.0h0M23.2 148.8h0M25.1 149.0h0M26.9 148.7h0M12.0 150.4h0M13.9 150.6h0M15.5 150.0h0M17.1 150.0h0M19.3 150.3h0M20.6 150.6h0M22.7 150.2h0M24.3 150.4h0M25.8 149.9h0M27.5 150.7h0M11.3 151.9h0M12.8 152.0h0M15.2 151.6h0M16.4 151.8h0M18.0 151.5h0M19.6 151.9h0M21.7 152.2h0M23.8 152.1h0M25.5 152.1h0M26.3 151.4h0M12.2 153.2h0M13.7 153.3h0M15.5 152.9h0M17.7 153.3h0M19.4 153.0h0M20.9 153.0h0M22.8 153.0h0M24.3 153.3h0M25.7 152.9h0M27.6 153.3h0M12.9 154.5h0M15.1 154.5h0M16.7 154.3h0M17.9 154.9h0M19.9 154.4h0M21.6 155.1h0M23.3 154.8h0M25.0 154.7h0M26.3 155.1h0M15.7 155.9h0M17.0 156.4h0M18.8 156.2h0M20.4 155.8h0M22.2 156.3h0M26.0 156.2h0M20.1 157.4h0M21.8 157.8h0M16.3 140.7h0M25.1 157.7h0M21.2 141.8h0M11.1 154.3h0M16.0 140.1h0M10.8 147.6h0M27.3 152.3h0M28.0 145.2h0M30.3 151.1h0M49.8 144.2h0M53.3 144.1h0M54.9 143.7h0M57.0 143.8h0M48.9 145.5h0M50.7 144.9h0M52.8 145.2h0M54.1 145.8h0M55.5 145.0h0M57.2 145.0h0M47.7 146.6h0M49.9 146.5h0M51.4 147.2h0M53.2 146.6h0M55.0 146.5h0M56.7 147.0h0M58.0 146.9h0M49.1 148.7h0M50.8 148.0h0M52.1 148.5h0M54.4 147.9h0M55.7 148.1h0M57.5 148.7h0M48.4 149.6h0M50.0 149.7h0M51.5 149.8h0M53.4 149.5h0M55.3 149.5h0M56.5 150.1h0M47.7 150.9h0M49.4 151.0h0M50.3 151.5h0M52.1 151.5h0M53.7 150.9h0M55.7 150.9h0M57.5 151.1h0M59.4 151.3h0M48.6 153.1h0M49.6 153.1h0M51.9 152.8h0M53.3 152.5h0M54.8 152.5h0M56.4 152.9h0M58.2 153.0h0M48.6 154.5h0M50.7 154.4h0M52.2 154.4h0M54.0 154.4h0M55.9 153.9h0M57.3 154.5h0M48.2 155.9h0M49.7 155.7h0M51.5 155.9h0M52.9 155.7h0M54.7 155.8h0M56.4 155.4h0M58.1 156.1h0M49.2 157.0h0M50.7 156.7h0M52.8 157.3h0M53.8 157.2h0M55.8 157.3h0M57.3 157.6h0M48.4 159.0h0M49.7 158.9h0M51.9 159.0h0M52.9 159.0h0M49.1 160.4h0M50.9 160.1h0M52.4 160.2h0M53.8 159.9h0M48.3 161.2h0M49.8 162.0h0M51.3 161.6h0M52.9 161.4h0M50.7 163.3h0M52.0 162.7h0M53.9 162.8h0M49.5 164.9h0M51.8 164.7h0M53.4 164.4h0M48.6 166.0h0M50.4 166.4h0M52.1 166.3h0M54.4 165.9h0M49.8 167.4h0M51.7 167.9h0M53.4 167.3h0M49.2 168.6h0M50.7 168.8h0M52.5 168.9h0M54.1 169.1h0M49.5 170.4h0M51.9 170.8h0M53.7 170.9h0M48.4 157.4h0M46.1 147.8h0M60.7 145.8h0M47.9 152.9h0M47.5 171.7h0M59.5 157.2h0M58.6 144.7h0M53.5 167.3h0M59.0 158.0h0M61.2 147.5h0M47.6 150.9h0M46.7 147.3h0M97.1 86.4h0M101.6 85.8h0M97.4 87.4h0M99.7 87.1h0M101.1 87.1h0M103.1 87.7h0M104.7 87.7h0M97.0 88.6h0M98.7 89.0h0M100.4 88.8h0M101.4 88.6h0M103.8 88.9h0M96.0 90.6h0M97.2 90.7h0M99.7 90.3h0M101.0 90.6h0M103.1 90.6h0M93.3 92.2h0M94.7 91.9h0M97.0 92.1h0M98.3 91.6h0M100.6 92.0h0M92.7 93.6h0M94.3 93.2h0M95.9 93.6h0M97.7 93.7h0M98.9 93.6h0M100.6 93.5h0M93.1 94.8h0M95.2 95.2h0M96.8 95.3h0M98.4 95.0h0M99.7 94.8h0M91.2 95.9h0M92.2 95.9h0M94.2 96.7h0M96.1 96.0h0M97.6 96.2h0M99.7 96.5h0M90.2 98.0h0M91.5 98.0h0M93.1 97.9h0M94.6 97.5h0M96.5 97.7h0M98.7 97.4h0M88.7 99.3h0M90.9 99.5h0M92.2 99.4h0M94.6 99.1h0M96.2 99.7h0M97.8 99.2h0M86.9 101.1h0M88.4 100.7h0M89.7 100.8h0M91.5 101.1h0M92.9 100.9h0M94.9 100.7h0M85.9 102.3h0M87.1 102.2h0M88.7 102.0h0M91.2 102.1h0M92.2 102.2h0M93.8 102.3h0M95.7 102.0h0M84.7 104.2h0M86.4 104.0h0M88.5 104.0h0M89.9 103.7h0M92.0 103.4h0M93.1 103.3h0M85.5 105.5h0M87.3 105.6h0M88.7 105.0h0M90.6 105.5h0M92.1 105.4h0M87.0 107.1h0M88.0 106.5h0M89.7 106.8h0M89.5 108.3h0M85.3 100.3h0M87.1 100.1h0M98.0 83.8h0M98.7 84.5h0M99.9 96.1h0M88.1 97.5h0M102.7 85.4h0M104.7 84.1h0M95.8 100.5h0M103.8 89.2h0M100.3 85.7h0M121.5 73.7h0M123.3 74.1h0M124.8 73.9h0M126.2 74.2h0M118.6 75.7h0M120.4 75.4h0M121.9 75.2h0M123.5 76.0h0M125.3 75.7h0M128.6 75.9h0M117.7 76.6h0M119.7 77.4h0M120.9 76.8h0M122.6 77.4h0M124.5 76.9h0M126.0 76.8h0M128.2 77.0h0M118.8 78.1h0M120.4 78.6h0M122.1 78.2h0M123.9 78.7h0M125.9 78.2h0M127.2 78.3h0M128.7 78.3h0M117.8 80.1h0M119.5 79.6h0M120.8 80.1h0M122.6 79.9h0M124.5 79.9h0M126.4 80.3h0M128.1 80.0h0M118.7 81.2h0M120.2 81.4h0M122.3 81.6h0M123.4 81.7h0M125.9 81.4h0M126.9 81.0h0M119.1 83.3h0M121.5 82.8h0M122.6 82.8h0M125.1 82.8h0M126.2 82.6h0M119.0 84.2h0M120.6 84.5h0M122.1 84.7h0M123.5 84.7h0M125.2 84.1h0M127.0 84.6h0M122.7 85.8h0M124.5 86.2h0M126.0 85.5h0M130.4 80.6h0M129.5 83.4h0M129.1 74.7h0M118.0 78.5h0M118.2 77.1h0M123.1 73.4h0M126.9 73.5h0M150.8 56.6h0M152.3 56.0h0M147.8 57.7h0M148.9 56.7h0M151.8 56.4h0M141.9 75.2h0M145.4 75.6h0M141.4 77.1h0M142.8 76.8h0M144.3 76.5h0M146.6 76.9h0M148.0 76.9h0M140.2 78.3h0M141.8 78.3h0M143.6 78.0h0M145.7 78.1h0M147.4 78.5h0M148.7 77.8h0M139.8 79.8h0M141.3 79.9h0M142.9 80.1h0M144.2 80.1h0M146.4 79.6h0M148.4 80.1h0M149.8 79.3h0M140.5 81.1h0M142.1 81.5h0M143.4 81.5h0M145.3 81.0h0M146.7 80.8h0M141.0 82.6h0M143.0 82.5h0M144.8 82.4h0M145.9 82.7h0M148.2 82.3h0M149.3 82.8h0M142.2 83.8h0M143.7 83.8h0M145.1 84.0h0M147.5 84.5h0M141.3 85.6h0M142.8 85.9h0M144.4 85.5h0M141.8 87.1h0M143.6 87.2h0M145.7 86.8h0M143.3 88.9h0M144.9 88.5h0M143.3 90.2h0M145.5 90.3h0M147.3 73.0h0M143.3 91.3h0M145.2 74.8h0M139.6 81.8h0M148.9 76.7h0M148.8 75.9h0M144.3 88.8h0M168.0 94.4h0M169.1 94.8h0M171.0 94.3h0M173.1 94.3h0M174.3 94.2h0M176.4 94.8h0M177.4 94.9h0M167.0 96.0h0M168.4 96.1h0M170.2 95.9h0M171.6 95.6h0M173.7 96.4h0M175.3 96.0h0M176.9 95.5h0M178.6 96.2h0M180.1 96.0h0M165.6 97.9h0M168.0 97.6h0M169.2 97.5h0M170.7 97.8h0M173.2 97.8h0M174.4 97.4h0M176.2 97.4h0M178.2 97.7h0M179.9 97.6h0M180.9 97.5h0M165.5 98.9h0M166.4 99.2h0M168.6 99.3h0M170.1 98.7h0M171.6 98.5h0M173.2 99.2h0M175.1 98.7h0M177.4 98.6h0M178.8 98.7h0M180.8 99.2h0M182.1 98.6h0M183.9 98.6h0M164.2 100.6h0M165.8 100.1h0M167.8 100.3h0M169.3 100.7h0M171.4 100.0h0M172.7 100.2h0M174.9 100.7h0M176.2 100.4h0M177.7 100.5h0M179.5 100.0h0M180.9 100.0h0M183.3 100.4h0M184.9 100.7h0M163.8 102.1h0M165.1 101.6h0M166.7 101.6h0M168.1 102.2h0M170.0 101.6h0M171.8 101.5h0M173.2 102.0h0M175.4 101.5h0M176.9 101.6h0M178.9 101.8h0M180.4 102.2h0M181.8 102.1h0M183.4 101.7h0M185.1 101.8h0M187.4 102.0h0M188.7 101.8h0M164.6 103.4h0M165.6 103.0h0M167.3 103.2h0M169.6 103.4h0M171.4 103.0h0M172.7 102.9h0M174.2 103.3h0M176.1 103.7h0M177.8 103.6h0M179.5 103.0h0M181.6 103.1h0M183.3 102.9h0M184.5 103.5h0M186.4 102.9h0M187.9 103.8h0M190.1 103.4h0M191.2 103.0h0M192.9 103.6h0M162.1 105.0h0M163.2 104.9h0M165.1 105.0h0M166.5 105.1h0M168.9 104.6h0M170.1 105.2h0M171.6 104.8h0M173.7 104.7h0M175.7 104.8h0M176.9 105.3h0M178.5 105.0h0M180.3 104.6h0M182.0 105.0h0M183.8 105.2h0M185.8 104.9h0M187.0 105.2h0M188.9 104.6h0M191.0 104.8h0M192.2 105.2h0M194.4 104.8h0M162.5 106.2h0M164.1 106.0h0M165.9 106.3h0M167.5 106.1h0M169.5 106.3h0M170.6 106.2h0M172.6 106.3h0M174.9 106.1h0M176.1 106.7h0M178.1 106.5h0M179.6 106.5h0M181.4 106.7h0M183.2 106.1h0M184.8 106.6h0M186.2 106.3h0M188.3 105.9h0M189.5 106.4h0M191.3 106.6h0M192.9 106.3h0M194.8 106.0h0M196.9 106.2h0M197.9 106.1h0M161.9 107.7h0M163.1 108.2h0M165.0 107.7h0M166.8 107.5h0M168.1 107.6h0M170.4 108.2h0M171.8 107.7h0M173.3 107.4h0M175.6 108.0h0M176.8 107.7h0M179.1 107.5h0M180.2 107.7h0M182.3 107.8h0M183.6 107.4h0M185.5 107.7h0M186.8 107.9h0M188.6 107.9h0M190.3 107.8h0M192.7 107.4h0M194.1 107.6h0M195.7 107.4h0M197.0 108.1h0M199.0 107.4h0M202.1 108.1h0M162.5 109.5h0M164.0 108.9h0M165.9 109.1h0M167.9 109.3h0M169.5 109.4h0M170.7 109.4h0M172.7 109.2h0M174.6 109.2h0M175.8 109.4h0M178.0 109.7h0M180.0 108.9h0M181.4 108.9h0M183.1 109.7h0M184.5 109.6h0M186.5 109.3h0M188.4 109.1h0M189.6 109.5h0M191.4 108.9h0M193.2 109.4h0M194.8 109.1h0M196.4 109.5h0M198.3 108.9h0M200.3 109.2h0M201.7 109.7h0M163.5 110.8h0M165.0 111.1h0M166.8 110.7h0M168.1 110.7h0M170.6 110.3h0M172.0 110.4h0M173.6 111.0h0M174.9 111.0h0M176.7 110.6h0M178.5 110.8h0M180.6 110.9h0M182.1 110.4h0M184.1 110.7h0M185.9 110.3h0M187.6 110.9h0M188.9 110.8h0M190.5 110.5h0M192.4 110.4h0M193.7 110.9h0M196.1 111.2h0M197.4 111.0h0M199.0 111.2h0M200.7 110.5h0M202.4 110.8h0M161.2 112.6h0M162.9 112.3h0M164.5 112.3h0M166.3 111.9h0M167.6 112.0h0M169.2 111.8h0M171.0 112.2h0M172.7 111.9h0M174.0 112.7h0M176.1 111.9h0M177.6 112.5h0M179.2 112.4h0M181.1 112.6h0M182.7 112.6h0M184.5 112.7h0M186.6 112.4h0M188.3 112.0h0M190.1 112.0h0M191.5 112.1h0M192.8 112.6h0M194.8 112.5h0M196.4 112.1h0M198.2 111.9h0M199.6 112.2h0M201.5 112.2h0M203.0 111.8h0M204.9 112.0h0M206.4 112.3h0M161.5 113.8h0M163.7 114.0h0M164.8 113.6h0M167.2 113.6h0M168.6 113.7h0M170.4 113.9h0M171.8 114.0h0M173.4 113.5h0M175.5 113.5h0M177.0 113.9h0M178.5 113.6h0M180.4 113.8h0M181.8 113.4h0M183.6 113.6h0M185.8 113.6h0M187.3 113.4h0M189.1 114.0h0M190.7 114.0h0M192.4 113.8h0M193.8 113.3h0M195.8 113.6h0M197.6 113.7h0M198.8 113.3h0M200.6 113.8h0M202.5 113.3h0M204.2 113.6h0M206.3 114.0h0M207.9 113.5h0M162.1 115.2h0M163.8 114.8h0M166.3 114.9h0M167.9 115.2h0M169.2 115.2h0M171.2 115.0h0M172.8 115.4h0M174.5 115.0h0M176.0 114.9h0M177.8 114.7h0M179.3 115.0h0M181.0 114.8h0M182.9 115.2h0M184.4 115.1h0M186.6 115.5h0M187.9 114.8h0M189.4 115.1h0M191.2 114.9h0M193.3 115.5h0M195.1 115.2h0M196.6 115.3h0M198.0 114.9h0M200.1 115.3h0M201.5 114.9h0M203.2 115.3h0M204.8 115.4h0M207.2 114.7h0M208.1 115.4h0M160.4 117.1h0M161.4 116.9h0M163.0 116.8h0M164.9 116.7h0M166.6 116.4h0M168.6 117.0h0M170.2 116.7h0M171.8 117.1h0M173.3 117.0h0M175.1 116.4h0M176.9 116.7h0M178.3 116.4h0M180.4 116.4h0M182.4 116.3h0M183.4 117.1h0M185.7 117.0h0M187.2 116.6h0M189.0 116.7h0M190.4 116.4h0M192.7 116.4h0M193.6 116.6h0M195.5 116.7h0M197.1 116.6h0M198.9 116.4h0M201.1 116.4h0M202.8 117.1h0M204.3 116.8h0M206.2 117.0h0M207.8 116.5h0M209.1 116.6h0M161.1 118.2h0M162.2 118.0h0M164.3 118.1h0M166.2 118.4h0M167.4 117.7h0M169.2 118.3h0M171.4 118.5h0M172.6 117.7h0M174.1 118.2h0M176.5 117.7h0M177.5 118.0h0M179.9 118.0h0M180.9 117.8h0M183.3 118.2h0M184.9 118.1h0M186.1 117.8h0M187.7 117.8h0M189.7 117.8h0M191.8 118.5h0M193.3 118.6h0M195.0 118.5h0M196.8 118.1h0M198.6 118.3h0M200.0 118.1h0M201.5 117.9h0M203.1 118.2h0M205.2 117.9h0M206.7 118.2h0M208.6 118.1h0M210.0 118.5h0M211.6 118.3h0M161.8 119.5h0M163.3 119.6h0M165.2 119.7h0M167.0 120.0h0M168.5 119.7h0M170.1 119.6h0M171.5 119.5h0M173.7 119.2h0M175.5 119.6h0M177.4 119.6h0M178.8 119.9h0M180.8 119.4h0M182.3 120.0h0M183.8 119.5h0M185.5 119.4h0M186.8 119.5h0M188.5 119.5h0M190.5 119.2h0M192.3 119.7h0M193.8 119.5h0M195.6 120.0h0M197.3 119.5h0M198.7 119.9h0M200.8 119.5h0M202.3 119.6h0M203.8 119.4h0M205.6 119.8h0M207.9 119.7h0M209.0 119.3h0M210.6 119.6h0M161.0 120.8h0M162.8 120.7h0M164.4 120.8h0M166.1 121.4h0M167.3 120.7h0M169.2 121.0h0M171.1 121.4h0M172.4 120.8h0M174.9 121.2h0M176.6 121.0h0M177.8 120.7h0M179.6 121.5h0M181.2 121.3h0M182.7 121.5h0M184.3 120.9h0M186.4 121.2h0M188.0 120.9h0M189.8 121.2h0M191.8 121.3h0M193.1 121.5h0M194.9 121.2h0M196.4 120.8h0M198.0 121.4h0M200.0 120.9h0M201.5 121.4h0M203.2 120.8h0M205.0 121.5h0M207.1 121.4h0M208.8 121.0h0M209.9 121.1h0M211.4 121.5h0M213.3 120.8h0M162.1 122.3h0M163.5 122.9h0M164.7 122.3h0M167.1 123.0h0M168.1 122.7h0M170.4 122.4h0M172.2 122.7h0M173.5 122.3h0M175.7 123.0h0M176.8 122.8h0M178.8 122.8h0M180.1 122.3h0M182.4 122.2h0M183.4 123.0h0M185.1 122.4h0M187.4 122.2h0M189.3 122.8h0M190.8 122.4h0M192.3 123.0h0M193.6 122.5h0M195.7 122.7h0M197.5 122.7h0M198.8 122.6h0M201.1 122.8h0M202.1 122.8h0M204.2 122.3h0M205.7 122.4h0M207.2 122.3h0M209.2 122.3h0M210.9 122.7h0M212.5 122.2h0M214.3 122.4h0M160.9 124.3h0M162.3 124.1h0M164.1 123.8h0M166.2 124.3h0M167.3 123.6h0M169.7 124.1h0M171.1 124.1h0M172.5 123.6h0M174.3 124.4h0M176.3 124.5h0M177.5 124.3h0M179.9 124.5h0M181.6 124.2h0M183.4 123.9h0M184.7 124.5h0M186.7 124.0h0M187.9 124.0h0M189.5 124.0h0M191.8 123.7h0M193.4 124.0h0M195.0 124.4h0M196.6 124.3h0M198.0 124.2h0M199.6 124.3h0M201.6 124.0h0M203.1 123.6h0M204.8 124.0h0M207.2 124.4h0M208.6 123.8h0M210.4 124.5h0M212.0 123.9h0M213.5 124.2h0M215.2 123.9h0M161.6 125.7h0M163.5 125.5h0M164.7 125.9h0M166.6 125.5h0M168.4 125.7h0M170.6 125.3h0M171.6 125.2h0M174.0 125.3h0M174.9 125.2h0M176.9 125.8h0M178.3 125.7h0M180.8 125.4h0M182.3 125.6h0M183.9 125.8h0M185.1 125.1h0M187.6 125.3h0M189.3 125.4h0M190.3 125.8h0M192.0 125.2h0M194.0 125.7h0M195.4 125.7h0M197.8 125.5h0M199.5 125.7h0M201.2 125.1h0M202.5 125.6h0M204.2 125.8h0M206.1 126.0h0M207.3 125.2h0M209.4 125.1h0M210.6 125.4h0M213.1 125.9h0M214.0 125.8h0M162.5 127.0h0M164.6 126.7h0M165.8 127.1h0M167.6 126.9h0M169.4 127.1h0M170.7 127.0h0M173.1 127.1h0M174.7 126.8h0M175.7 127.3h0M177.6 127.0h0M179.2 127.2h0M181.6 126.6h0M183.3 127.1h0M184.9 126.8h0M186.7 126.7h0M188.3 127.0h0M189.8 126.9h0M191.8 126.7h0M193.0 127.1h0M194.5 126.7h0M196.7 126.9h0M197.9 126.6h0M200.3 127.3h0M201.9 127.3h0M203.2 126.8h0M204.9 126.9h0M206.4 127.2h0M208.8 127.0h0M210.1 127.2h0M212.1 126.9h0M213.8 127.4h0M215.0 127.0h0M163.0 128.9h0M164.7 128.2h0M167.2 128.4h0M168.8 128.3h0M170.6 128.2h0M172.0 128.2h0M173.4 128.4h0M175.4 128.2h0M177.0 128.4h0M179.0 128.5h0M180.5 128.6h0M181.9 128.3h0M184.0 128.1h0M185.6 128.9h0M187.6 128.7h0M189.1 128.4h0M190.6 128.4h0M192.2 128.7h0M193.9 128.5h0M195.3 128.8h0M197.0 128.9h0M199.1 128.3h0M201.2 128.9h0M202.1 128.7h0M204.1 128.5h0M206.3 128.6h0M207.3 128.8h0M209.3 128.8h0M210.6 128.9h0M212.7 128.2h0M214.8 128.5h0M215.8 128.8h0M161.2 130.2h0M162.9 130.0h0M164.3 130.1h0M166.3 129.6h0M168.0 130.2h0M169.6 130.0h0M171.4 130.1h0M172.6 129.9h0M174.3 129.5h0M176.3 130.0h0M178.1 130.2h0M179.2 129.6h0M180.9 130.2h0M182.6 130.4h0M184.5 130.1h0M186.7 130.4h0M187.9 130.1h0M189.8 130.0h0M191.5 130.4h0M193.1 129.8h0M195.1 130.1h0M196.4 130.3h0M197.8 129.9h0M199.7 130.3h0M201.8 130.0h0M203.4 129.8h0M205.3 130.1h0M206.4 129.6h0M208.2 130.2h0M209.8 129.7h0M211.5 129.6h0M213.4 130.4h0M215.0 130.4h0M216.7 130.1h0M162.1 131.7h0M163.0 131.3h0M165.1 131.2h0M167.2 131.5h0M168.5 131.3h0M170.3 131.8h0M171.7 131.5h0M173.6 131.4h0M175.7 131.7h0M177.2 131.4h0M178.5 131.3h0M180.8 131.2h0M182.2 131.1h0M183.8 131.1h0M185.9 131.7h0M186.8 131.7h0M189.0 131.5h0M190.9 131.3h0M191.9 131.8h0M193.7 131.5h0M195.5 131.7h0M197.1 131.9h0M198.8 131.1h0M200.4 131.7h0M202.3 131.0h0M204.0 131.8h0M206.1 131.9h0M207.6 131.1h0M209.6 131.2h0M210.7 131.8h0M212.9 131.2h0M214.2 131.0h0M215.9 131.6h0M217.7 131.1h0M219.1 131.8h0M162.7 132.7h0M164.1 132.7h0M166.0 132.7h0M168.0 132.9h0M169.1 133.3h0M171.4 133.3h0M173.1 133.0h0M174.9 132.5h0M176.5 133.1h0M177.9 132.6h0M179.2 133.4h0M181.6 132.9h0M182.6 133.3h0M184.7 132.9h0M185.9 133.1h0M187.6 132.5h0M189.7 132.5h0M191.7 132.8h0M192.8 133.3h0M194.4 133.1h0M196.9 133.0h0M198.4 132.6h0M200.2 133.0h0M202.0 132.6h0M203.3 132.7h0M205.2 132.5h0M207.1 132.9h0M208.3 133.4h0M209.8 132.7h0M212.1 133.2h0M213.2 132.7h0M215.0 132.9h0M217.0 133.2h0M219.1 133.2h0M163.6 134.3h0M165.4 134.2h0M166.8 134.6h0M168.3 134.7h0M170.3 134.1h0M172.0 134.0h0M173.6 134.4h0M175.5 134.7h0M177.3 134.8h0M178.5 134.4h0M180.6 134.0h0M181.8 134.4h0M183.9 134.0h0M185.8 134.7h0M187.6 134.8h0M188.7 134.5h0M190.2 134.3h0M192.5 134.7h0M193.7 134.8h0M195.7 134.7h0M197.1 134.3h0M199.0 134.7h0M200.6 134.8h0M202.2 134.8h0M204.4 134.4h0M206.3 134.8h0M207.6 134.5h0M209.1 134.8h0M210.6 134.4h0M212.4 134.4h0M214.3 134.2h0M216.0 134.3h0M217.8 134.2h0M164.0 135.9h0M165.9 135.8h0M168.1 135.6h0M169.0 135.9h0M171.3 136.1h0M172.8 135.7h0M174.3 135.7h0M175.8 135.8h0M178.0 135.7h0M179.3 136.0h0M181.0 135.7h0M182.5 135.8h0M184.4 135.6h0M186.6 135.5h0M188.3 136.3h0M189.5 135.5h0M191.4 136.3h0M193.3 135.7h0M195.0 135.8h0M196.3 135.9h0M198.4 135.6h0M200.2 136.0h0M201.6 136.2h0M203.4 135.7h0M205.3 136.3h0M207.0 135.8h0M208.2 135.9h0M210.2 136.1h0M212.1 135.9h0M213.3 135.9h0M215.5 136.1h0M216.7 135.6h0M218.5 135.8h0M220.2 136.1h0M163.7 137.7h0M165.3 137.3h0M166.7 137.1h0M168.3 137.4h0M170.0 137.6h0M172.2 137.2h0M174.0 137.1h0M175.2 137.3h0M176.6 137.3h0M179.1 137.2h0M180.6 137.5h0M182.0 137.4h0M184.2 137.2h0M185.9 136.9h0M187.2 137.4h0M189.1 137.2h0M190.3 136.9h0M192.7 137.8h0M194.0 137.4h0M196.1 137.7h0M197.8 137.0h0M199.4 137.8h0M201.0 137.5h0M202.8 137.8h0M204.1 137.8h0M205.5 137.2h0M207.4 137.2h0M209.6 137.1h0M211.2 137.6h0M212.3 137.8h0M214.5 137.6h0M215.9 137.7h0M217.7 137.5h0M219.7 137.4h0M164.7 138.9h0M165.7 138.7h0M167.2 139.1h0M169.1 138.5h0M171.1 138.6h0M173.1 138.9h0M174.3 139.1h0M176.0 139.2h0M178.2 139.2h0M179.6 138.9h0M180.9 138.7h0M182.6 138.4h0M185.0 138.9h0M186.4 139.2h0M187.8 139.3h0M189.5 139.1h0M191.8 138.9h0M192.9 138.9h0M195.2 138.7h0M197.0 138.6h0M198.0 139.2h0M199.6 138.8h0M201.7 138.9h0M203.3 139.0h0M205.1 138.7h0M206.5 138.7h0M208.3 138.9h0M210.0 139.2h0M211.8 138.5h0M213.7 138.8h0M215.6 139.2h0M217.2 138.9h0M218.9 138.7h0M220.8 139.1h0M163.2 139.9h0M165.2 140.4h0M166.5 140.2h0M168.1 140.6h0M170.6 140.2h0M171.6 140.7h0M174.0 140.7h0M175.0 140.3h0M177.3 140.5h0M179.0 140.3h0M180.0 140.6h0M181.8 140.1h0M183.6 140.3h0M185.2 140.6h0M186.9 140.1h0M189.2 140.6h0M190.4 140.2h0M192.5 140.1h0M194.2 140.0h0M195.3 140.5h0M197.6 140.4h0M199.4 140.5h0M200.7 140.0h0M202.4 140.7h0M203.8 140.4h0M206.3 140.2h0M207.9 140.2h0M209.4 140.7h0M211.0 140.4h0M212.7 140.4h0M214.7 140.1h0M215.8 140.6h0M217.9 139.9h0M219.8 140.0h0M221.5 140.0h0M164.6 141.7h0M166.2 141.6h0M168.1 141.9h0M169.3 141.6h0M171.3 142.1h0M173.0 141.5h0M174.6 142.1h0M176.2 142.1h0M177.4 141.9h0M179.2 141.9h0M181.2 141.9h0M183.3 142.2h0M184.9 141.6h0M186.3 141.5h0M188.4 142.0h0M189.7 142.1h0M191.6 141.8h0M193.4 141.9h0M194.6 141.8h0M196.1 142.2h0M198.1 141.9h0M200.2 141.6h0M201.5 141.9h0M203.3 142.2h0M205.3 141.7h0M206.6 141.8h0M208.7 141.9h0M210.5 142.1h0M212.3 141.8h0M213.6 141.6h0M215.6 142.0h0M216.8 141.7h0M218.2 142.1h0M220.3 141.5h0M165.3 143.7h0M166.7 142.9h0M168.9 143.4h0M170.5 143.1h0M171.7 143.1h0M174.0 143.2h0M175.3 143.7h0M177.2 143.1h0M178.7 143.5h0M180.3 143.5h0M182.5 142.9h0M183.9 143.4h0M185.5 143.5h0M187.3 143.0h0M188.6 143.6h0M190.7 143.6h0M192.1 143.3h0M194.4 143.5h0M195.9 143.5h0M197.2 143.6h0M198.7 143.7h0M200.5 143.6h0M202.2 143.3h0M204.1 143.1h0M206.1 143.0h0M207.2 143.5h0M209.4 142.8h0M210.7 143.6h0M212.4 143.5h0M214.1 143.0h0M216.2 143.7h0M218.2 143.5h0M219.2 143.0h0M221.6 143.7h0M166.0 144.5h0M167.8 144.7h0M169.3 144.8h0M171.0 144.5h0M173.1 144.4h0M174.6 144.5h0M176.2 144.5h0M177.9 144.4h0M179.2 144.7h0M181.1 144.9h0M182.6 144.6h0M184.6 144.4h0M186.4 144.6h0M188.4 144.7h0M189.3 145.2h0M191.3 144.7h0M192.7 144.7h0M194.5 144.5h0M196.8 144.9h0M198.4 145.2h0M199.7 144.9h0M202.0 145.0h0M203.8 144.7h0M205.1 145.1h0M206.7 145.2h0M208.3 144.9h0M210.0 144.6h0M211.9 145.2h0M213.2 144.4h0M215.3 144.4h0M216.8 144.4h0M219.0 144.4h0M220.7 145.0h0M221.8 145.2h0M166.9 146.3h0M168.9 146.5h0M170.1 146.4h0M171.9 146.3h0M173.5 146.7h0M175.1 146.2h0M176.7 146.5h0M178.5 145.8h0M180.5 146.2h0M181.7 145.8h0M183.5 146.7h0M185.9 146.0h0M187.5 146.1h0M189.3 146.4h0M190.2 145.8h0M192.2 146.4h0M194.4 146.2h0M195.7 145.8h0M197.1 146.4h0M199.4 146.3h0M200.4 146.5h0M202.8 146.4h0M204.6 146.2h0M205.7 146.5h0M207.4 146.5h0M209.4 146.5h0M211.1 146.4h0M212.5 146.3h0M214.6 145.8h0M216.4 145.9h0M217.5 146.3h0M219.2 146.4h0M221.3 146.3h0M166.0 147.4h0M167.9 148.1h0M169.3 147.8h0M171.3 147.3h0M173.1 148.0h0M174.2 147.5h0M176.2 147.9h0M177.6 147.5h0M179.6 147.5h0M181.3 147.5h0M183.3 147.9h0M184.5 148.0h0M186.0 148.1h0M187.9 148.0h0M189.7 148.0h0M191.4 148.0h0M193.1 147.3h0M195.2 147.7h0M196.8 147.4h0M198.4 147.4h0M200.2 147.9h0M202.0 148.1h0M203.7 147.4h0M204.6 147.8h0M207.1 147.5h0M208.9 147.5h0M210.5 147.4h0M211.7 147.6h0M213.7 147.7h0M215.4 147.9h0M217.1 147.4h0M218.4 148.2h0M220.1 148.0h0M221.6 147.7h0M166.6 149.6h0M168.5 148.9h0M170.2 149.5h0M171.8 149.4h0M173.5 148.9h0M175.5 148.9h0M177.0 148.8h0M178.5 149.1h0M180.6 148.9h0M181.9 149.4h0M183.8 149.5h0M185.7 149.2h0M187.5 149.0h0M189.3 148.9h0M190.7 149.4h0M192.5 148.9h0M193.8 149.4h0M195.9 148.8h0M197.0 149.5h0M199.3 149.0h0M201.1 149.5h0M202.3 149.4h0M204.2 148.8h0M206.2 148.9h0M207.7 148.9h0M209.7 149.3h0M211.2 149.2h0M213.1 149.4h0M214.4 148.9h0M216.1 148.9h0M218.0 149.2h0M219.5 149.5h0M221.2 149.3h0M222.9 149.1h0M165.7 150.5h0M167.3 151.1h0M169.4 151.1h0M171.2 151.1h0M172.6 150.4h0M174.1 150.6h0M175.7 151.1h0M177.5 150.8h0M179.3 150.8h0M181.5 150.8h0M182.8 151.0h0M185.1 150.7h0M186.2 151.1h0M187.7 150.8h0M189.5 151.1h0M191.1 150.6h0M193.6 150.5h0M194.9 151.0h0M196.6 150.3h0M198.7 151.1h0M199.7 151.0h0M201.9 151.0h0M203.7 150.6h0M204.9 150.9h0M206.9 150.3h0M208.5 150.9h0M210.0 150.7h0M211.8 150.3h0M213.8 150.6h0M215.6 150.7h0M217.2 150.8h0M218.5 150.5h0M220.4 151.1h0M221.6 150.3h0M168.1 151.9h0M170.6 151.8h0M172.3 152.5h0M173.4 152.3h0M175.6 152.4h0M177.0 152.0h0M178.6 151.7h0M180.8 152.3h0M182.1 152.5h0M184.0 151.8h0M185.3 151.8h0M187.3 152.2h0M188.8 152.2h0M190.4 152.0h0M192.6 152.6h0M193.7 152.4h0M196.1 152.3h0M197.8 151.9h0M199.4 152.0h0M200.6 152.1h0M202.8 152.1h0M204.4 152.2h0M206.3 152.4h0M207.5 152.5h0M208.9 152.6h0M210.9 152.2h0M213.1 151.9h0M214.0 151.8h0M215.8 152.1h0M217.9 152.3h0M219.7 152.2h0M220.9 152.1h0M222.6 152.4h0M168.0 153.6h0M169.6 153.4h0M171.0 153.2h0M172.7 153.8h0M174.6 153.5h0M176.1 153.5h0M177.7 153.3h0M179.2 154.0h0M180.9 153.4h0M183.3 153.7h0M184.3 153.5h0M186.2 153.8h0M187.9 153.5h0M189.5 154.0h0M191.4 153.3h0M193.4 153.7h0M194.5 153.6h0M196.6 153.8h0M198.1 153.6h0M200.2 153.3h0M202.1 153.5h0M203.7 154.0h0M205.3 154.0h0M206.7 154.1h0M208.5 153.2h0M210.3 153.5h0M211.5 153.6h0M213.8 153.4h0M214.9 153.5h0M216.8 154.0h0M218.4 153.5h0M220.4 153.6h0M221.7 154.1h0M168.8 155.5h0M169.8 155.0h0M171.6 155.2h0M173.8 155.2h0M175.7 155.3h0M176.7 154.8h0M178.5 155.1h0M180.3 154.9h0M181.7 155.2h0M183.9 154.9h0M185.1 155.4h0M186.9 154.9h0M189.3 154.9h0M190.8 154.9h0M192.0 155.0h0M194.1 155.2h0M195.5 155.0h0M197.4 154.7h0M199.2 155.2h0M201.0 154.7h0M202.3 154.9h0M203.8 155.2h0M205.7 155.5h0M207.3 155.2h0M209.7 155.1h0M210.8 155.1h0M212.6 155.5h0M214.5 155.2h0M215.8 155.1h0M217.9 154.7h0M219.1 155.1h0M220.8 155.6h0M167.6 156.7h0M169.1 156.7h0M171.0 156.2h0M173.0 156.8h0M174.5 156.9h0M176.3 156.7h0M178.3 156.8h0M179.4 156.4h0M180.9 156.4h0M183.3 156.6h0M184.9 156.5h0M186.6 156.5h0M188.1 156.5h0M190.0 156.2h0M191.7 156.3h0M193.3 156.3h0M195.2 156.4h0M196.9 156.2h0M198.3 156.8h0M200.4 156.8h0M201.3 156.7h0M203.5 156.7h0M205.1 156.7h0M206.3 156.6h0M208.1 156.9h0M209.7 157.0h0M211.6 156.7h0M213.1 156.5h0M215.4 156.2h0M217.2 156.8h0M218.7 157.0h0M220.0 156.2h0M168.6 158.1h0M169.9 158.3h0M171.9 158.1h0M174.0 158.3h0M175.5 157.7h0M176.7 157.7h0M178.5 158.4h0M180.6 157.7h0M181.7 158.3h0M183.8 157.8h0M185.5 157.8h0M187.3 158.4h0M189.3 157.8h0M190.7 158.0h0M191.9 158.0h0M194.3 158.5h0M196.1 158.4h0M197.0 158.3h0M199.4 158.1h0M200.8 158.0h0M202.8 157.8h0M204.6 157.8h0M205.9 158.2h0M207.5 158.5h0M209.0 158.2h0M211.4 158.5h0M212.8 157.9h0M214.0 158.1h0M215.8 158.4h0M218.0 157.7h0M219.6 158.2h0M221.1 158.2h0M169.3 159.9h0M170.8 159.5h0M172.9 159.3h0M174.2 159.8h0M175.8 159.8h0M178.2 159.9h0M179.6 159.5h0M181.1 159.8h0M182.6 159.3h0M184.6 159.9h0M186.3 159.3h0M188.2 159.9h0M189.5 159.2h0M191.8 159.6h0M193.1 159.4h0M194.4 159.1h0M196.9 159.5h0M198.6 159.1h0M199.9 159.3h0M201.7 159.6h0M203.8 159.6h0M205.0 159.8h0M206.5 159.7h0M208.2 159.5h0M210.4 159.5h0M211.6 159.4h0M213.3 159.2h0M215.0 159.5h0M217.1 159.4h0M219.1 159.2h0M220.2 159.4h0M170.3 161.3h0M172.3 160.6h0M173.5 160.8h0M175.6 160.8h0M177.0 161.3h0M178.4 160.7h0M180.4 160.7h0M182.1 160.7h0M184.2 161.1h0M185.8 161.1h0M186.9 161.0h0M188.5 160.6h0M190.3 160.8h0M192.7 161.0h0M193.7 161.3h0M195.3 160.9h0M197.0 161.4h0M198.9 161.5h0M201.1 161.4h0M202.2 160.9h0M204.5 161.2h0M205.7 160.9h0M207.4 161.2h0M209.1 161.2h0M211.4 160.7h0M212.9 161.2h0M214.8 161.0h0M216.3 161.2h0M217.8 160.8h0M219.2 161.5h0M170.8 162.6h0M172.6 162.4h0M174.6 162.6h0M176.1 162.8h0M177.9 162.2h0M179.8 162.5h0M181.6 162.6h0M182.7 162.1h0M184.6 162.4h0M186.8 162.4h0M188.1 162.9h0M189.7 162.5h0M191.8 162.5h0M193.5 162.5h0M194.9 162.3h0M196.7 162.9h0M198.4 162.4h0M199.6 162.8h0M201.7 162.9h0M203.1 162.8h0M204.7 162.9h0M206.9 162.8h0M208.5 162.3h0M210.1 162.3h0M212.3 162.4h0M213.8 162.4h0M215.1 162.9h0M217.1 162.6h0M219.1 162.9h0M172.0 164.2h0M173.5 164.0h0M175.0 163.6h0M176.7 164.1h0M178.7 164.3h0M180.2 163.8h0M182.5 164.1h0M184.1 164.0h0M185.7 163.6h0M187.0 163.9h0M189.1 164.1h0M190.9 164.0h0M191.9 163.7h0M194.2 163.7h0M195.5 163.6h0M197.8 164.2h0M199.2 164.4h0M200.4 163.9h0M202.3 163.6h0M204.1 164.1h0M205.9 164.3h0M207.8 164.4h0M208.9 164.1h0M210.6 163.8h0M212.7 163.7h0M214.0 163.6h0M216.4 164.0h0M217.8 164.3h0M172.8 165.5h0M174.6 165.6h0M176.6 165.1h0M177.5 165.4h0M179.6 165.5h0M181.1 165.7h0M182.6 165.8h0M185.0 165.4h0M186.1 165.7h0M188.1 165.9h0M189.7 165.1h0M191.1 165.8h0M193.1 165.4h0M194.6 165.3h0M196.7 165.6h0M198.3 165.3h0M199.8 165.4h0M202.1 165.3h0M202.9 165.5h0M205.3 165.2h0M206.9 165.2h0M208.6 165.8h0M210.1 165.2h0M211.6 165.3h0M213.2 165.1h0M215.1 165.3h0M171.6 166.8h0M173.9 166.6h0M175.7 166.6h0M177.2 167.1h0M178.3 167.1h0M180.4 166.8h0M182.0 167.2h0M183.5 167.3h0M185.2 166.8h0M186.9 167.0h0M189.1 167.3h0M190.4 166.7h0M192.5 167.4h0M194.4 167.3h0M196.0 167.1h0M197.3 167.2h0M199.0 166.9h0M201.2 167.4h0M202.9 167.1h0M204.1 166.7h0M206.0 167.3h0M207.2 167.3h0M209.5 166.9h0M210.6 166.7h0M212.8 167.0h0M172.5 168.2h0M174.8 168.7h0M176.5 168.5h0M178.0 168.3h0M179.8 168.5h0M180.8 168.3h0M183.3 168.8h0M184.5 168.1h0M186.3 168.5h0M187.6 168.5h0M189.7 168.1h0M191.7 168.3h0M192.9 168.2h0M194.7 168.7h0M196.8 168.0h0M198.5 168.0h0M203.2 168.4h0M205.4 168.6h0M206.7 168.3h0M208.8 168.4h0M210.2 168.7h0M211.4 168.0h0M171.5 169.5h0M173.4 170.3h0M175.4 169.7h0M177.2 170.3h0M178.8 169.8h0M180.7 170.2h0M181.9 169.5h0M183.6 169.8h0M185.7 170.1h0M186.9 169.8h0M188.8 170.0h0M190.6 169.5h0M192.6 170.1h0M172.8 171.2h0M174.8 171.0h0M176.1 171.7h0M177.7 171.5h0M179.5 171.0h0M181.0 171.1h0M183.3 171.0h0M184.2 171.2h0M186.2 171.7h0M187.7 171.2h0M189.5 171.3h0M173.4 173.1h0M175.0 172.5h0M177.3 172.7h0M178.6 172.8h0M180.6 172.6h0M181.7 172.4h0M183.8 173.3h0M185.4 172.6h0M173.1 174.1h0M174.8 173.9h0M176.3 174.1h0M178.1 174.7h0M179.2 174.7h0M180.9 174.0h0M182.8 174.7h0M184.9 174.3h0M174.0 175.4h0M175.2 176.2h0M177.3 175.8h0M178.5 175.8h0M180.3 176.0h0M182.2 175.5h0M177.7 177.1h0M179.8 177.5h0M168.0 152.1h0M161.7 106.7h0M207.2 111.6h0M172.8 170.4h0M221.0 157.3h0M165.6 97.8h0M191.3 169.5h0M162.9 100.4h0M171.2 91.8h0M169.7 159.7h0M219.4 132.0h0M199.1 106.8h0M170.0 92.0h0M221.9 155.6h0M161.1 139.2h0M171.4 172.5h0M189.5 101.1h0M208.2 111.4h0M209.2 167.4h0M168.7 162.7h0M173.3 94.9h0M165.2 143.2h0M221.2 160.4h0M205.6 169.7h0M165.8 97.8h0M189.1 101.6h0M219.1 164.6h0M222.1 140.1h0M161.1 130.9h0M211.6 167.1h0M201.1 169.3h0M168.5 163.5h0M221.8 163.1h0M179.2 95.0h0M161.6 102.1h0M165.5 153.0h0M171.6 93.1h0M211.8 169.4h0M202.7 169.3h0M173.0 174.1h0M245.2 148.8h0M246.9 148.7h0M248.5 148.6h0M241.7 150.7h0M252.7 147.1h0M253.3 149.5h0M95.2 167.4h0M96.8 168.2h0M98.1 167.9h0M94.4 169.5h0M96.2 169.1h0M97.2 169.4h0M90.3 170.9h0M91.6 170.6h0M93.2 170.9h0M94.8 171.3h0M87.1 172.5h0M89.0 172.6h0M90.4 172.4h0M92.4 172.4h0M93.8 172.1h0M88.3 174.0h0M89.7 174.0h0M91.7 174.1h0M93.1 173.6h0M85.6 175.1h0M87.0 175.1h0M88.8 175.6h0M91.0 174.9h0M92.7 175.0h0M85.2 176.8h0M89.7 176.5h0M91.4 176.4h0M85.6 177.8h0M87.7 178.4h0M93.1 168.4h0M94.1 165.7h0M97.5 166.7h0M97.4 167.2h0M76.2 185.7h0M78.3 184.9h0M81.2 185.1h0M82.9 185.1h0M84.6 185.1h0M86.6 185.3h0M88.5 185.1h0M89.5 185.3h0M72.5 186.3h0M74.0 186.7h0M75.9 187.2h0M77.4 186.4h0M79.0 186.4h0M80.5 186.4h0M82.1 186.4h0M84.0 186.4h0M85.5 187.0h0M87.2 186.8h0M89.4 186.9h0M91.1 187.1h0M92.3 186.5h0M71.6 187.9h0M73.3 188.0h0M74.9 187.9h0M76.4 188.3h0M78.1 188.6h0M79.3 188.4h0M81.8 188.3h0M82.9 188.5h0M84.8 188.0h0M86.8 188.5h0M88.5 188.2h0M89.5 187.8h0M91.7 187.8h0M93.5 187.9h0M69.1 189.7h0M70.4 190.0h0M71.9 190.1h0M73.6 189.3h0M75.3 189.6h0M77.3 189.3h0M79.3 190.0h0M80.8 190.2h0M81.9 189.9h0M84.3 189.4h0M85.6 189.4h0M87.8 189.7h0M89.4 189.5h0M90.9 189.9h0M92.4 189.5h0M93.8 189.8h0M67.8 190.9h0M69.4 191.0h0M70.9 191.3h0M72.6 190.9h0M74.5 191.6h0M76.5 190.9h0M78.4 191.6h0M79.6 191.5h0M81.6 191.2h0M83.5 191.3h0M85.0 191.6h0M86.5 190.8h0M87.8 191.4h0M89.9 191.5h0M92.1 191.0h0M93.1 191.3h0M68.6 192.4h0M70.6 192.9h0M72.4 192.7h0M74.0 192.9h0M75.7 192.5h0M77.3 193.0h0M78.7 192.5h0M80.2 192.8h0M82.0 192.6h0M83.7 192.3h0M86.0 192.5h0M87.8 192.9h0M89.2 192.7h0M92.2 192.7h0M69.9 194.1h0M71.0 193.9h0M72.8 194.0h0M75.0 194.2h0M76.3 194.3h0M77.8 194.0h0M79.7 193.8h0M81.3 194.2h0M83.2 193.9h0M84.5 194.2h0M86.2 193.7h0M70.0 195.5h0M75.3 195.6h0M77.3 195.2h0M78.9 195.9h0M80.4 195.7h0M82.5 195.7h0M83.9 195.6h0M87.1 183.0h0M73.3 185.9h0M81.8 183.9h0M96.3 189.6h0M68.0 186.6h0M82.4 183.0h0M66.1 190.9h0M70.9 186.7h0M78.5 198.1h0M79.9 195.7h0M96.4 188.7h0M30.8 179.7h0M32.9 179.2h0M34.5 179.8h0M37.7 179.5h0M39.5 179.9h0M41.6 179.8h0M43.4 179.1h0M45.1 179.4h0M48.0 179.2h0M28.7 181.3h0M30.1 180.7h0M32.1 181.1h0M33.5 180.5h0M35.1 181.1h0M36.7 180.9h0M38.9 180.8h0M40.1 181.1h0M42.3 181.1h0M44.2 180.8h0M45.5 180.9h0M47.5 180.8h0M48.7 180.8h0M50.9 181.2h0M52.0 181.2h0M26.1 182.2h0M27.2 182.8h0M29.2 182.7h0M31.4 182.8h0M33.0 182.6h0M34.7 182.8h0M36.5 182.8h0M37.7 182.8h0M39.2 182.2h0M41.6 182.5h0M43.4 182.3h0M44.3 182.1h0M46.7 182.7h0M48.0 182.6h0M49.3 182.8h0M51.3 182.2h0M53.1 182.4h0M26.6 183.8h0M28.9 184.1h0M30.4 184.2h0M31.8 183.8h0M33.6 184.2h0M35.0 184.1h0M37.0 184.3h0M38.9 184.3h0M40.3 183.9h0M41.9 183.7h0M43.6 183.7h0M45.6 184.0h0M47.4 184.1h0M49.3 183.9h0M50.7 183.9h0M52.3 183.8h0M53.8 183.8h0M26.0 185.5h0M28.1 185.5h0M29.8 185.2h0M31.1 185.5h0M32.7 185.4h0M34.2 185.8h0M35.8 185.7h0M37.8 185.3h0M39.4 185.8h0M41.1 185.5h0M42.9 185.5h0M44.7 185.4h0M46.0 185.0h0M48.2 184.9h0M49.8 185.2h0M51.7 185.2h0M52.7 185.1h0M30.1 187.0h0M31.6 186.8h0M33.4 187.0h0M35.7 186.8h0M37.0 187.0h0M38.9 186.7h0M40.2 187.0h0M41.9 186.9h0M43.9 186.9h0M45.9 186.7h0M46.9 186.8h0M49.3 187.2h0M50.2 186.6h0M29.7 188.0h0M31.0 188.2h0M33.0 188.6h0M34.5 188.4h0M36.0 188.4h0M37.4 188.6h0M40.0 188.3h0M41.2 188.4h0M42.8 188.7h0M44.4 188.3h0M46.5 188.6h0M47.9 188.0h0M49.9 188.0h0M30.4 190.0h0M32.3 189.7h0M33.5 190.2h0M35.6 190.3h0M36.6 190.2h0M38.6 190.1h0M40.1 189.9h0M42.3 190.0h0M44.0 189.5h0M45.9 189.4h0M47.5 189.9h0M36.5 191.2h0M37.9 191.7h0M39.5 191.6h0M40.9 191.5h0M42.6 191.1h0M44.3 191.7h0M40.4 192.4h0M42.0 192.6h0M44.1 192.6h0M39.3 191.1h0M45.2 192.8h0M50.9 180.1h0M49.2 187.6h0M27.7 188.3h0M30.1 180.6h0M45.1 178.2h0M32.9 191.0h0M50.2 179.1h0M34.9 191.7h0M27.1 181.3h0M28.9 187.9h0M56.5 215.4h0M58.1 215.3h0M59.3 215.3h0M55.1 216.8h0M57.0 216.7h0M58.6 216.7h0M60.5 216.5h0M62.0 216.4h0M52.5 218.2h0M54.4 217.9h0M56.3 218.3h0M58.3 218.0h0M59.8 218.2h0M61.3 217.7h0M62.8 218.1h0M51.9 219.3h0M53.8 219.3h0M55.5 219.9h0M57.4 219.6h0M58.9 219.9h0M60.7 219.7h0M62.5 219.8h0M63.7 219.5h0M65.8 220.0h0M52.7 220.8h0M54.1 221.4h0M55.9 220.8h0M57.9 220.7h0M59.5 220.8h0M61.6 221.1h0M62.9 221.1h0M64.2 221.4h0M52.3 222.7h0M53.9 222.4h0M55.2 222.2h0M57.0 223.0h0M58.9 222.5h0M60.2 222.3h0M62.0 222.4h0M63.8 222.6h0M65.4 222.7h0M67.1 222.6h0M54.1 224.3h0M56.5 224.2h0M57.6 223.7h0M59.8 224.1h0M60.9 224.5h0M63.2 224.5h0M65.1 224.3h0M66.7 224.5h0M67.7 223.9h0M55.0 225.4h0M57.1 225.8h0M59.0 225.2h0M60.6 225.1h0M61.9 225.1h0M63.8 225.2h0M65.6 225.4h0M67.5 225.4h0M57.6 226.9h0M60.9 226.9h0M62.5 227.0h0M64.4 226.8h0M66.2 227.3h0M67.7 226.6h0M69.4 226.9h0M60.5 228.4h0M62.1 228.9h0M63.8 228.5h0M65.5 228.1h0M67.4 228.1h0M69.3 228.0h0M65.0 229.6h0M66.2 229.6h0M68.4 229.9h0M69.8 229.6h0M59.5 228.8h0M61.3 228.1h0M51.8 220.3h0M70.9 229.7h0M55.7 213.1h0M68.3 222.1h0M50.6 218.2h0M57.5 228.3h0M69.1 223.5h0M97.6 200.3h0M89.9 202.1h0M91.3 201.9h0M92.8 201.6h0M95.0 201.9h0M96.7 201.4h0M86.9 203.3h0M88.9 203.5h0M90.8 203.0h0M92.0 203.1h0M93.6 203.5h0M95.8 203.3h0M97.3 203.0h0M98.7 203.4h0M84.7 205.0h0M85.8 205.0h0M87.9 204.3h0M89.6 204.4h0M91.4 204.8h0M93.3 205.0h0M95.0 204.8h0M96.6 205.0h0M98.4 204.6h0M100.1 205.1h0M85.0 206.0h0M87.1 206.3h0M88.9 205.8h0M90.1 206.1h0M92.3 205.9h0M94.0 205.9h0M95.3 206.4h0M96.9 206.4h0M98.9 205.7h0M81.0 207.6h0M82.4 207.5h0M84.4 207.6h0M86.5 207.5h0M88.2 207.4h0M89.8 207.3h0M91.3 207.8h0M93.2 207.2h0M94.9 207.3h0M96.8 207.4h0M98.4 207.3h0M82.2 209.3h0M83.5 208.8h0M85.4 209.4h0M87.2 209.3h0M88.3 209.0h0M90.2 209.1h0M92.3 209.2h0M93.4 208.9h0M95.3 209.0h0M97.0 208.8h0M81.4 210.3h0M83.2 210.7h0M84.8 210.9h0M86.4 210.9h0M87.6 210.7h0M89.4 210.3h0M91.0 210.7h0M92.6 210.2h0M95.0 210.8h0M95.9 210.3h0M97.6 210.6h0M82.1 212.1h0M83.8 211.7h0M85.7 212.3h0M86.6 211.6h0M89.0 212.3h0M90.3 212.4h0M92.2 212.0h0M93.4 212.0h0M95.4 212.0h0M80.8 213.8h0M82.8 213.4h0M84.8 213.9h0M86.1 213.2h0M87.7 213.2h0M89.9 213.7h0M91.1 213.6h0M93.3 214.0h0M81.8 215.2h0M83.3 215.0h0M85.1 215.4h0M86.6 214.9h0M89.1 215.2h0M90.2 215.2h0M92.1 214.6h0M93.4 214.6h0M82.6 216.6h0M84.2 216.2h0M85.9 216.4h0M87.7 216.6h0M89.1 216.3h0M91.3 216.7h0M83.3 217.6h0M85.4 217.9h0M90.2 217.6h0M86.2 200.6h0M83.6 206.9h0M79.1 207.7h0M89.1 219.0h0M90.5 201.6h0M82.2 206.9h0M89.9 219.4h0M82.4 218.4h0M85.2 203.6h0M101.0 206.0h0M100.3 231.3h0M102.5 231.8h0M103.8 231.7h0M105.7 231.5h0M109.2 232.1h0M98.3 233.2h0M99.8 233.5h0M101.1 233.2h0M103.0 232.8h0M105.1 232.9h0M106.2 232.8h0M108.5 233.3h0M97.3 234.7h0M98.8 234.7h0M100.7 234.7h0M102.5 234.5h0M103.7 234.6h0M105.9 234.6h0M106.9 234.6h0M109.4 234.3h0M110.8 234.4h0M112.5 234.9h0M96.3 236.6h0M97.6 235.9h0M99.4 236.1h0M101.7 236.2h0M103.2 235.9h0M104.8 236.3h0M106.3 235.7h0M108.6 236.1h0M110.3 236.2h0M111.5 235.8h0M95.5 237.2h0M97.0 237.5h0M98.5 237.6h0M100.5 237.3h0M102.3 238.0h0M104.3 237.9h0M105.5 237.4h0M107.3 238.0h0M108.8 237.2h0M111.1 237.2h0M96.1 239.3h0M98.2 238.7h0M99.7 239.1h0M101.1 238.7h0M102.9 239.0h0M105.2 238.9h0M106.9 238.6h0M108.2 238.8h0M109.5 238.9h0M111.8 239.2h0M95.6 240.9h0M97.3 240.2h0M99.1 241.0h0M100.9 240.7h0M101.9 240.9h0M103.9 240.8h0M106.0 240.3h0M106.9 240.9h0M109.4 240.2h0M110.7 240.9h0M95.0 241.6h0M96.2 241.7h0M98.4 242.1h0M99.5 242.4h0M101.8 242.0h0M103.5 241.8h0M105.0 242.5h0M106.3 242.2h0M108.5 242.4h0M109.7 241.9h0M95.8 243.3h0M97.1 243.7h0M99.1 243.9h0M100.4 243.4h0M102.5 243.8h0M104.2 243.3h0M106.0 243.7h0M107.4 243.4h0M109.3 243.1h0M96.3 244.7h0M97.8 245.1h0M99.4 245.4h0M101.4 244.8h0M102.8 244.8h0M104.7 244.7h0M106.3 245.4h0M97.5 246.9h0M98.8 246.6h0M101.0 246.7h0M102.6 246.8h0M104.0 246.8h0M105.5 246.8h0M107.3 246.2h0M98.3 248.3h0M99.4 247.5h0M101.7 247.7h0M103.1 248.3h0M104.5 247.9h0M106.1 248.3h0M97.4 249.4h0M99.0 249.4h0M100.6 249.2h0M102.0 249.8h0M104.0 249.3h0M105.5 249.3h0M97.9 251.1h0M100.1 250.9h0M101.5 250.6h0M102.9 250.9h0M104.9 250.8h0M100.7 252.1h0M102.7 252.7h0M103.9 252.1h0M103.0 253.8h0M105.1 250.5h0M115.0 235.6h0M100.4 231.5h0M95.1 242.7h0M112.5 238.6h0M112.9 232.7h0M99.5 253.2h0M112.6 238.0h0M105.8 252.1h0M110.2 231.2h0M108.5 230.8h0M109.9 204.3h0M109.0 205.2h0M110.2 205.9h0M107.5 206.7h0M109.9 207.0h0M111.6 206.9h0M112.8 206.9h0M107.0 208.2h0M108.3 208.3h0M110.3 208.7h0M112.1 208.8h0M113.5 208.3h0M107.9 209.6h0M109.2 209.9h0M111.5 209.8h0M113.1 209.7h0M114.9 210.2h0M108.8 211.7h0M110.1 211.0h0M112.1 211.5h0M113.7 211.3h0M115.9 211.8h0M107.7 212.7h0M109.2 213.2h0M111.1 212.6h0M113.3 213.0h0M114.6 212.6h0M116.8 212.7h0M118.3 213.0h0M110.3 214.6h0M112.4 214.2h0M113.6 214.1h0M115.8 214.3h0M117.4 214.5h0M119.2 214.4h0M120.2 214.5h0M109.9 216.2h0M111.6 215.6h0M113.2 215.7h0M114.9 215.9h0M116.5 215.5h0M117.8 215.5h0M119.4 216.2h0M109.2 216.9h0M110.1 217.5h0M112.0 217.4h0M113.9 217.3h0M115.6 217.6h0M117.2 217.5h0M119.0 217.7h0M120.3 217.1h0M121.9 216.9h0M111.4 218.7h0M113.1 218.7h0M114.7 218.4h0M116.8 218.9h0M118.3 219.1h0M119.4 218.4h0M121.3 218.5h0M114.3 220.6h0M115.6 220.2h0M116.9 220.1h0M118.6 219.9h0M120.9 220.3h0M122.2 220.5h0M111.6 221.5h0M113.4 221.3h0M114.9 221.7h0M116.2 221.8h0M117.9 221.8h0M120.0 221.7h0M121.9 222.1h0M122.9 221.5h0M114.1 223.1h0M115.6 222.9h0M116.9 223.5h0M118.6 223.1h0M120.4 223.0h0M122.1 223.0h0M114.7 224.3h0M116.0 225.0h0M118.5 224.6h0M120.1 225.1h0M121.3 224.9h0M115.7 226.0h0M117.6 226.5h0M118.9 226.0h0M120.8 226.5h0M122.2 222.9h0M105.9 209.4h0M108.8 214.7h0M117.1 226.9h0M118.1 212.6h0M106.0 206.5h0M107.9 206.1h0M106.0 206.8h0M108.2 217.3h0M107.2 210.9h0M128.1 252.8h0M129.0 253.9h0M125.7 255.6h0M127.5 255.2h0M129.8 255.2h0M134.3 255.7h0M125.7 256.8h0M127.1 257.3h0M129.0 256.9h0M130.8 257.0h0M132.1 257.0h0M133.5 256.8h0M126.5 258.4h0M127.7 258.7h0M129.3 258.7h0M130.8 258.5h0M133.3 258.5h0M134.4 258.2h0M126.5 259.8h0M128.6 260.3h0M130.0 259.8h0M131.9 260.0h0M133.7 259.7h0M135.4 259.9h0M136.7 259.7h0M127.6 261.8h0M129.1 261.2h0M131.4 261.5h0M132.7 261.2h0M134.8 261.3h0M136.6 261.7h0M137.7 261.5h0M127.3 262.7h0M128.5 262.9h0M130.2 262.9h0M131.8 262.6h0M133.8 262.5h0M135.2 262.5h0M137.3 262.5h0M138.6 263.2h0M129.2 264.0h0M131.4 264.3h0M133.3 264.1h0M134.8 264.2h0M136.1 264.5h0M137.8 264.1h0M128.3 265.5h0M130.1 265.4h0M132.1 265.9h0M134.1 265.6h0M135.7 266.0h0M136.8 265.5h0M129.9 267.6h0M131.0 267.1h0M132.9 267.2h0M134.9 267.0h0M136.6 267.4h0M137.9 267.7h0M130.2 268.7h0M132.4 269.0h0M133.6 269.0h0M135.1 268.7h0M131.2 270.1h0M133.1 269.9h0M134.6 270.2h0M136.0 270.6h0M132.1 272.0h0M133.8 271.9h0M135.0 271.7h0M133.1 273.0h0M138.5 267.9h0M140.7 262.4h0M135.6 270.3h0M137.8 259.5h0M134.5 256.2h0M127.3 261.5h0M129.5 256.6h0M125.7 252.3h0M127.3 252.8h0M137.9 226.6h0M140.0 226.0h0M141.7 226.5h0M143.7 226.3h0M137.2 227.7h0M138.9 227.4h0M141.1 228.1h0M142.4 227.7h0M146.1 228.2h0M138.4 229.1h0M140.0 229.1h0M141.8 229.5h0M143.0 229.6h0M145.5 229.1h0M147.1 229.1h0M139.1 231.2h0M140.9 231.1h0M142.7 230.7h0M144.2 230.6h0M145.9 231.2h0M148.0 230.9h0M140.4 232.5h0M141.4 232.5h0M143.1 232.5h0M144.7 232.5h0M146.7 232.4h0M148.1 232.3h0M142.5 233.6h0M144.7 233.4h0M146.4 234.0h0M147.4 234.1h0M148.9 234.0h0M151.5 234.0h0M143.0 235.2h0M145.2 235.1h0M147.0 235.0h0M148.1 235.6h0M150.2 235.1h0M142.2 236.5h0M144.4 236.7h0M145.7 236.3h0M148.1 237.0h0M149.5 236.8h0M151.0 237.1h0M153.2 237.1h0M143.4 238.1h0M145.1 237.7h0M146.4 237.8h0M148.8 238.5h0M150.4 238.0h0M152.0 237.9h0M153.6 238.2h0M146.1 239.3h0M147.7 239.5h0M149.6 239.3h0M151.3 239.6h0M152.4 239.4h0M154.7 240.1h0M147.1 241.4h0M148.9 240.9h0M150.2 241.6h0M152.3 241.3h0M153.2 241.1h0M147.8 243.0h0M149.7 242.2h0M151.3 242.4h0M152.8 242.9h0M148.6 243.7h0M150.0 244.1h0M152.1 244.3h0M153.2 244.5h0M149.0 245.8h0M150.7 245.9h0M152.9 235.9h0M147.5 245.8h0M137.8 231.7h0M137.4 224.4h0M155.2 246.6h0M149.7 229.6h0M146.4 228.3h0M144.0 227.0h0M139.0 232.4h0M146.4 228.6h0M178.2 243.6h0M180.2 243.6h0M174.2 244.8h0M175.7 245.2h0M177.8 244.8h0M179.5 244.5h0M180.9 245.0h0M182.5 244.5h0M183.9 244.5h0M185.6 245.0h0M175.3 246.2h0M177.0 246.5h0M178.6 246.2h0M180.1 246.7h0M181.9 246.6h0M183.3 245.9h0M185.0 246.2h0M186.5 246.6h0M188.7 246.4h0M190.4 246.4h0M172.1 247.8h0M174.5 247.5h0M176.1 248.2h0M177.1 247.9h0M179.1 247.8h0M180.7 248.1h0M182.9 248.1h0M184.4 247.5h0M185.8 248.1h0M187.2 248.1h0M189.6 248.0h0M173.3 249.3h0M174.9 249.2h0M176.2 249.0h0M177.9 249.5h0M180.2 249.1h0M182.0 249.4h0M183.7 249.0h0M185.2 249.3h0M186.6 249.3h0M188.6 248.9h0M190.3 249.5h0M176.0 250.7h0M177.6 250.6h0M178.7 250.9h0M180.5 251.0h0M182.5 251.0h0M184.3 250.5h0M186.3 250.7h0M187.4 250.6h0M182.0 251.8h0M183.0 252.2h0M176.2 249.8h0M177.3 242.6h0M174.2 245.6h0M172.5 249.6h0M185.8 243.0h0M180.2 252.5h0M185.9 249.9h0M175.1 215.5h0M176.9 215.3h0M178.5 215.9h0M180.9 215.3h0M182.2 215.1h0M184.1 215.3h0M173.1 216.7h0M174.7 217.3h0M176.0 217.0h0M178.1 217.4h0M179.7 217.3h0M181.7 217.4h0M182.7 216.9h0M184.8 217.1h0M186.0 217.0h0M188.5 217.0h0M170.2 218.4h0M172.1 218.2h0M173.4 218.4h0M175.1 218.5h0M177.0 218.8h0M178.5 218.5h0M180.3 218.1h0M181.8 218.5h0M183.9 218.5h0M185.7 218.1h0M187.7 218.8h0M188.7 218.1h0M171.4 219.6h0M173.2 219.6h0M174.3 219.7h0M176.0 220.0h0M177.5 220.2h0M179.9 220.3h0M181.4 219.6h0M182.8 219.6h0M185.1 220.0h0M186.6 220.2h0M188.3 220.3h0M189.5 219.8h0M191.5 220.0h0M174.0 221.1h0M175.4 221.1h0M176.7 221.5h0M179.1 221.3h0M180.8 221.2h0M182.3 221.7h0M183.6 221.6h0M185.4 221.3h0M186.9 221.8h0M188.8 221.3h0M191.0 221.3h0M192.4 221.5h0M194.3 221.3h0M173.1 222.6h0M174.1 223.1h0M176.1 222.7h0M178.2 223.0h0M179.3 222.9h0M181.4 222.5h0M183.0 223.0h0M184.4 223.2h0M186.3 222.9h0M187.9 222.8h0M190.2 222.8h0M191.5 222.7h0M193.1 222.7h0M195.3 223.3h0M174.0 224.1h0M177.2 224.3h0M179.0 224.8h0M180.2 223.9h0M182.3 224.0h0M184.2 224.7h0M186.0 224.0h0M187.2 224.0h0M189.1 224.0h0M190.3 224.1h0M192.0 224.7h0M177.5 225.7h0M179.9 226.0h0M181.5 225.7h0M182.7 226.1h0M184.3 225.8h0M186.3 225.6h0M187.7 225.7h0M189.9 225.8h0M191.8 226.0h0M185.0 214.7h0M192.1 227.9h0M171.8 221.5h0M182.4 227.7h0M188.0 217.4h0M173.5 224.8h0M191.5 227.5h0M179.7 214.3h0M172.0 222.0h0M189.4 226.6h0M165.9 197.0h0M167.7 197.2h0M169.2 197.3h0M170.4 197.1h0M172.6 196.9h0M161.7 198.6h0M163.1 198.3h0M164.7 198.2h0M166.4 198.3h0M168.3 198.0h0M169.6 198.5h0M171.7 198.3h0M173.3 198.2h0M162.2 199.4h0M163.8 199.8h0M165.8 200.1h0M166.9 199.7h0M168.8 199.8h0M171.1 200.2h0M172.7 200.2h0M174.2 199.9h0M161.3 201.7h0M163.1 201.6h0M164.6 201.3h0M166.5 201.1h0M168.1 200.9h0M169.6 201.2h0M171.8 201.4h0M173.5 200.9h0M174.7 201.7h0M160.6 202.8h0M162.6 203.1h0M164.0 202.7h0M165.6 203.2h0M167.0 202.8h0M169.3 202.9h0M170.4 203.1h0M172.8 203.0h0M173.9 203.2h0M160.0 204.3h0M161.0 203.9h0M163.2 204.5h0M164.7 204.5h0M166.4 204.2h0M168.4 204.4h0M170.0 203.9h0M171.8 204.5h0M173.5 204.4h0M160.3 205.9h0M162.5 205.7h0M163.8 205.6h0M165.3 206.0h0M167.4 206.2h0M168.8 206.2h0M170.9 205.8h0M161.6 207.0h0M165.2 207.1h0M168.6 207.3h0M170.2 206.8h0M172.7 196.8h0M162.1 207.5h0M167.7 206.7h0M158.2 204.5h0M161.0 201.7h0M174.2 203.6h0M176.3 199.6h0M167.6 194.5h0M157.9 214.5h0M158.6 215.5h0M158.3 217.3h0M159.7 217.2h0M157.2 219.0h0M158.4 218.8h0M158.4 219.6h0M159.4 221.2h0M160.4 221.8h0M214.9 196.8h0M215.8 196.8h0M217.7 197.1h0M219.5 197.2h0M210.6 198.2h0M211.9 198.7h0M213.8 198.3h0M215.7 198.0h0M216.8 198.5h0M218.8 198.5h0M220.8 198.5h0M221.9 198.6h0M209.1 200.2h0M211.6 200.2h0M212.5 199.6h0M214.4 199.5h0M216.0 199.5h0M218.0 200.2h0M219.5 200.1h0M221.7 199.9h0M223.4 199.6h0M208.4 201.7h0M210.5 201.0h0M212.1 200.9h0M213.7 201.7h0M215.0 201.3h0M217.5 201.0h0M218.8 201.6h0M220.8 201.3h0M222.3 201.4h0M224.1 201.7h0M205.7 203.0h0M207.3 202.4h0M209.4 203.1h0M211.6 202.6h0M212.7 202.4h0M214.2 202.5h0M216.5 203.0h0M218.1 203.0h0M219.4 203.2h0M221.4 202.6h0M223.3 202.6h0M224.3 203.0h0M200.4 204.1h0M202.2 204.4h0M203.5 204.1h0M205.6 204.4h0M206.7 204.1h0M208.4 204.1h0M210.7 204.3h0M212.1 204.5h0M213.3 204.4h0M215.7 203.9h0M217.5 204.3h0M218.4 204.7h0M220.4 204.6h0M222.6 203.9h0M223.7 204.3h0M200.8 205.7h0M202.6 206.0h0M204.4 205.7h0M206.4 205.7h0M208.2 205.4h0M209.1 205.9h0M211.5 205.3h0M212.7 206.0h0M214.7 205.8h0M216.4 206.1h0M218.0 205.6h0M219.4 205.6h0M221.6 206.1h0M222.9 205.5h0M200.3 206.8h0M202.0 206.8h0M203.2 207.2h0M205.4 207.0h0M207.0 206.8h0M208.3 207.1h0M209.9 207.5h0M212.1 207.5h0M213.7 207.3h0M215.0 207.6h0M216.9 207.4h0M219.1 207.1h0M220.4 207.5h0M222.5 207.6h0M206.4 208.4h0M207.7 209.0h0M209.4 208.4h0M210.7 208.9h0M212.4 208.6h0M214.5 208.4h0M216.2 208.9h0M217.6 208.6h0M219.8 208.8h0M221.4 208.5h0M209.0 210.1h0M209.9 210.4h0M212.4 209.8h0M213.4 209.8h0M215.3 210.1h0M216.7 210.6h0M219.0 210.0h0M220.6 210.2h0M209.9 211.3h0M213.0 211.7h0M214.5 211.3h0M216.5 211.5h0M212.4 213.5h0M213.5 212.7h0M201.1 207.3h0M198.3 206.0h0M219.9 196.6h0M199.9 207.5h0M214.6 211.1h0M198.2 206.1h0M205.8 201.2h0M210.0 213.2h0M207.5 199.8h0M209.5 198.3h0M221.5 208.9h0M191.1 184.2h0M193.0 185.7h0M194.3 186.8h0M195.7 187.3h0M191.5 185.2h0M192.0 185.1h0M190.8 183.6h0M129.3 201.6h0M130.8 202.1h0M135.8 202.1h0M126.9 203.4h0M128.2 202.7h0M130.0 203.2h0M131.6 203.4h0M133.5 202.9h0M135.2 202.8h0M137.1 203.6h0M127.6 204.4h0M129.6 204.7h0M131.2 204.9h0M132.4 204.4h0M134.2 204.6h0M136.3 204.3h0M137.5 204.2h0M139.7 205.0h0M126.6 205.7h0M128.2 206.1h0M130.0 206.2h0M131.5 206.0h0M133.9 205.9h0M135.6 205.7h0M137.3 206.5h0M139.0 206.6h0M126.1 207.3h0M127.9 207.8h0M129.4 207.8h0M130.8 207.9h0M133.0 207.7h0M134.5 207.4h0M136.0 207.8h0M137.8 207.6h0M139.1 207.2h0M141.1 207.9h0M127.1 208.9h0M128.8 209.0h0M130.4 209.1h0M131.9 208.7h0M133.2 209.4h0M134.8 209.2h0M137.3 209.2h0M138.7 209.3h0M140.6 208.9h0M141.7 208.9h0M126.0 210.3h0M127.4 210.5h0M129.1 210.7h0M131.3 210.6h0M132.9 210.3h0M134.7 210.9h0M135.7 210.1h0M137.7 210.3h0M139.0 210.2h0M141.4 210.5h0M128.8 212.0h0M130.5 212.2h0M131.7 211.7h0M133.9 211.6h0M135.1 211.9h0M137.1 211.9h0M138.2 211.9h0M139.9 212.1h0M130.9 213.5h0M133.0 213.7h0M134.2 213.9h0M136.1 213.1h0M137.8 213.3h0M130.5 214.6h0M131.9 214.7h0M133.6 214.8h0M135.2 214.7h0M134.2 216.0h0M127.7 204.3h0M138.6 203.7h0M141.0 212.2h0M141.6 209.9h0M130.0 215.5h0M136.7 202.7h0M133.5 217.4h0M140.1 209.8h0M132.4 91.5h0M134.0 91.7h0M124.8 93.0h0M126.9 92.7h0M133.8 93.0h0M135.4 92.5h0M137.1 92.5h0M122.4 94.0h0M123.7 94.2h0M128.9 94.0h0M131.2 94.3h0M133.0 94.5h0M134.3 94.6h0M135.7 94.6h0M139.0 94.7h0M141.4 94.4h0M120.1 95.5h0M121.9 95.7h0M123.1 95.9h0M128.3 95.3h0M129.8 95.4h0M131.7 95.8h0M133.3 95.4h0M136.9 95.8h0M138.2 95.9h0M139.9 95.6h0M141.6 95.5h0M115.9 97.3h0M117.0 97.5h0M119.1 96.8h0M120.3 97.5h0M127.8 97.2h0M129.2 97.3h0M130.6 97.0h0M132.7 97.1h0M136.0 97.1h0M138.0 97.3h0M139.3 97.0h0M140.8 97.1h0M142.4 97.5h0M115.0 98.3h0M116.2 99.0h0M118.2 99.1h0M120.0 98.7h0M123.5 99.0h0M125.0 98.4h0M128.2 98.6h0M130.3 98.7h0M131.5 98.4h0M135.0 99.0h0M137.2 98.6h0M138.3 98.4h0M139.8 98.9h0M144.0 98.9h0M115.8 99.9h0M117.0 100.3h0M121.0 100.1h0M122.7 100.0h0M124.3 100.4h0M126.0 100.6h0M128.9 100.3h0M131.1 100.2h0M133.9 100.5h0M136.2 100.4h0M137.7 100.1h0M139.3 100.6h0M143.0 100.3h0M112.7 101.3h0M119.7 101.9h0M121.5 101.5h0M123.5 101.4h0M126.8 101.7h0M128.4 101.9h0M130.2 101.3h0M132.2 101.4h0M135.5 101.9h0M137.0 101.9h0M138.6 101.2h0M142.1 101.6h0M144.0 101.5h0M144.9 101.9h0M112.4 103.3h0M113.7 103.1h0M115.6 103.4h0M117.0 103.4h0M119.0 102.7h0M120.9 102.7h0M122.1 102.8h0M125.7 103.0h0M127.5 102.9h0M129.6 103.3h0M130.9 102.9h0M132.3 102.7h0M136.1 103.3h0M140.9 103.1h0M142.7 103.0h0M144.1 103.0h0M110.0 104.3h0M111.5 104.2h0M112.7 104.7h0M116.7 104.8h0M118.3 104.9h0M119.4 104.4h0M121.7 104.9h0M125.4 104.6h0M127.0 104.8h0M128.4 105.0h0M129.7 104.9h0M131.3 104.2h0M135.5 104.3h0M137.1 104.6h0M138.4 104.4h0M143.4 104.6h0M145.6 104.2h0M105.8 106.2h0M107.3 106.1h0M108.7 106.5h0M110.8 106.4h0M112.2 105.9h0M115.5 106.5h0M117.2 106.3h0M119.2 106.5h0M120.7 105.8h0M123.7 106.2h0M126.2 105.7h0M127.9 105.7h0M129.6 106.4h0M130.9 106.3h0M132.7 105.8h0M135.7 105.8h0M137.8 106.0h0M139.3 106.2h0M141.4 105.8h0M144.7 106.2h0M146.0 105.7h0M94.5 107.2h0M96.0 107.7h0M97.8 107.4h0M103.1 107.2h0M104.2 107.3h0M106.4 107.8h0M107.8 107.5h0M109.7 107.9h0M111.5 108.0h0M114.8 107.7h0M116.8 107.3h0M123.1 107.6h0M125.2 108.0h0M126.8 107.6h0M128.7 107.3h0M130.2 107.4h0M133.3 107.7h0M135.3 108.0h0M137.3 107.6h0M138.7 107.4h0M140.4 107.2h0M142.1 107.6h0M144.0 107.7h0M145.0 107.5h0M88.2 109.2h0M90.5 108.7h0M91.4 109.1h0M93.5 109.0h0M95.1 109.1h0M103.7 108.8h0M105.0 108.6h0M107.0 108.8h0M108.5 109.2h0M110.5 109.5h0M118.9 108.8h0M120.7 109.1h0M122.4 109.4h0M123.7 108.8h0M125.4 108.9h0M127.2 109.1h0M129.0 108.6h0M131.2 109.3h0M132.5 109.3h0M134.6 109.1h0M136.2 109.3h0M137.5 109.1h0M139.1 108.6h0M140.9 108.8h0M144.3 108.6h0M145.9 108.8h0M82.8 111.0h0M84.1 110.7h0M86.1 110.5h0M89.5 110.1h0M91.0 110.2h0M92.7 110.9h0M94.4 110.4h0M104.4 110.9h0M106.5 110.3h0M107.5 110.9h0M109.5 110.9h0M113.2 110.8h0M115.0 110.8h0M116.4 110.8h0M118.1 110.8h0M119.7 110.8h0M121.5 110.3h0M128.3 110.8h0M131.4 110.7h0M133.3 110.9h0M134.7 110.7h0M136.7 110.8h0M138.4 110.9h0M140.5 110.7h0M143.2 110.7h0M145.4 111.0h0M80.1 112.0h0M81.6 112.5h0M83.0 112.3h0M84.7 111.9h0M88.3 111.8h0M90.0 112.4h0M92.2 111.9h0M103.7 112.3h0M105.7 112.1h0M107.2 112.3h0M110.7 111.8h0M112.2 112.0h0M114.2 111.7h0M115.2 111.8h0M117.6 111.6h0M119.4 112.1h0M120.4 112.0h0M122.1 112.4h0M124.0 111.7h0M125.9 111.6h0M127.5 111.7h0M131.2 112.1h0M132.2 112.4h0M134.7 111.8h0M136.3 112.2h0M137.7 111.9h0M139.4 112.1h0M144.5 111.6h0M70.3 113.9h0M72.3 113.5h0M73.9 113.2h0M75.9 113.9h0M78.7 113.7h0M81.1 113.7h0M82.2 113.1h0M84.4 113.5h0M87.4 113.6h0M89.5 113.7h0M101.1 113.1h0M104.1 113.1h0M107.9 113.7h0M111.5 113.5h0M113.0 113.4h0M115.2 113.1h0M116.3 113.5h0M117.8 113.6h0M121.1 113.8h0M123.5 113.8h0M124.8 113.7h0M130.4 113.2h0M131.9 113.5h0M133.4 113.2h0M135.5 113.5h0M136.7 113.5h0M139.0 113.6h0M140.4 113.6h0M142.2 113.6h0M145.6 113.9h0M146.6 113.3h0M71.6 114.7h0M73.1 115.4h0M74.6 114.6h0M78.4 114.7h0M80.3 114.7h0M81.5 114.5h0M83.5 115.1h0M102.3 115.4h0M105.5 114.8h0M106.8 114.7h0M112.6 115.4h0M114.0 115.2h0M115.4 114.5h0M117.3 114.9h0M120.3 115.1h0M122.4 115.1h0M124.4 114.8h0M127.1 115.0h0M130.5 114.5h0M133.0 115.4h0M134.7 115.1h0M136.4 114.6h0M139.1 115.3h0M141.0 115.3h0M142.6 115.1h0M144.6 115.0h0M146.0 114.8h0M70.6 116.0h0M72.3 116.1h0M73.6 116.3h0M77.4 116.2h0M78.7 116.5h0M81.1 116.7h0M82.6 116.3h0M84.5 116.4h0M85.8 116.8h0M87.7 116.5h0M99.4 116.6h0M101.4 116.6h0M104.4 116.5h0M106.7 116.5h0M108.3 116.2h0M109.3 116.4h0M111.1 116.5h0M112.8 116.7h0M114.8 116.5h0M116.5 116.6h0M118.3 116.4h0M119.8 116.9h0M121.2 116.8h0M123.5 116.3h0M125.1 116.3h0M126.8 116.3h0M138.6 116.2h0M140.5 116.3h0M141.7 116.9h0M144.0 116.8h0M145.7 116.8h0M147.0 116.9h0M70.0 117.5h0M73.0 117.8h0M74.7 117.5h0M78.1 117.7h0M80.3 117.9h0M83.5 117.7h0M85.1 117.9h0M86.7 118.3h0M88.1 118.0h0M93.1 118.2h0M98.8 117.6h0M100.2 117.7h0M104.1 117.7h0M105.3 118.3h0M107.3 117.7h0M108.7 118.0h0M112.6 118.2h0M114.2 118.4h0M115.2 117.9h0M117.1 118.3h0M119.4 117.7h0M120.4 118.0h0M122.5 117.5h0M124.5 118.2h0M125.9 117.7h0M128.8 117.6h0M131.0 117.8h0M132.4 117.8h0M134.2 118.1h0M137.3 117.9h0M139.5 118.3h0M140.7 118.2h0M142.6 117.5h0M144.6 117.7h0M146.4 118.4h0M70.6 119.6h0M71.8 119.5h0M73.5 119.3h0M75.8 119.1h0M77.1 119.8h0M80.4 119.5h0M82.4 119.1h0M85.8 119.0h0M87.4 119.8h0M94.5 119.8h0M95.6 119.5h0M97.4 119.3h0M99.2 119.5h0M102.6 119.4h0M104.7 119.2h0M106.4 119.4h0M107.9 119.6h0M109.3 119.5h0M116.5 119.6h0M118.3 119.0h0M119.4 119.3h0M121.4 119.3h0M123.0 119.8h0M126.5 119.5h0M128.3 119.2h0M130.2 119.5h0M131.8 119.8h0M133.3 119.1h0M135.1 119.1h0M137.1 119.4h0M138.6 119.3h0M139.9 119.7h0M141.8 119.1h0M143.9 119.6h0M145.7 119.3h0M147.3 119.6h0M71.8 121.1h0M72.7 120.7h0M74.8 121.0h0M78.5 120.6h0M80.2 121.2h0M81.9 121.1h0M83.0 120.6h0M86.6 121.3h0M88.5 121.0h0M91.6 120.9h0M93.9 120.8h0M95.2 120.9h0M97.1 121.0h0M98.3 120.8h0M100.1 120.7h0M101.8 121.2h0M103.3 120.6h0M105.4 121.0h0M107.1 121.2h0M108.7 121.0h0M110.5 120.6h0M111.8 120.7h0M114.3 120.5h0M115.2 121.2h0M117.2 120.5h0M119.1 120.8h0M121.0 121.2h0M122.0 120.6h0M125.5 120.9h0M127.7 120.9h0M129.2 121.1h0M131.1 120.5h0M132.8 120.4h0M134.1 120.8h0M136.2 121.1h0M138.1 120.9h0M139.3 120.5h0M140.9 120.7h0M142.6 121.2h0M144.5 120.6h0M146.0 120.9h0M70.9 122.2h0M72.3 122.1h0M74.4 122.6h0M75.6 122.8h0M78.8 122.1h0M80.6 121.9h0M82.3 122.0h0M84.0 122.7h0M90.6 122.3h0M92.7 122.2h0M94.5 122.4h0M95.7 122.1h0M97.3 122.2h0M99.4 122.6h0M101.4 122.5h0M103.2 122.4h0M104.2 121.9h0M106.4 121.9h0M107.8 122.1h0M111.0 122.2h0M113.1 122.3h0M114.5 122.6h0M116.3 122.6h0M118.5 122.5h0M119.5 122.4h0M123.5 122.2h0M125.2 122.3h0M126.5 122.1h0M128.7 122.2h0M130.0 122.7h0M136.8 122.4h0M138.3 122.4h0M140.3 122.4h0M141.6 122.0h0M143.3 122.1h0M71.8 124.2h0M73.1 123.5h0M74.8 123.4h0M76.4 124.0h0M77.8 123.8h0M79.7 124.2h0M81.2 123.8h0M83.6 123.7h0M85.4 124.3h0M90.0 123.6h0M92.1 123.6h0M93.1 124.1h0M95.4 123.7h0M97.3 123.6h0M98.8 123.6h0M100.7 123.4h0M102.3 123.4h0M104.0 124.2h0M105.7 123.8h0M106.8 123.6h0M108.6 123.8h0M110.8 123.4h0M112.2 123.6h0M113.8 124.2h0M115.4 124.2h0M117.3 123.6h0M122.8 123.8h0M123.8 123.8h0M125.8 123.9h0M127.5 124.1h0M128.9 124.1h0M130.7 124.3h0M144.3 123.5h0M146.3 124.1h0M70.8 125.3h0M72.6 125.2h0M76.1 125.6h0M77.7 125.3h0M79.0 125.6h0M81.1 125.5h0M83.9 125.0h0M89.5 125.3h0M91.4 125.7h0M92.6 125.2h0M94.7 125.8h0M96.3 125.6h0M104.4 124.9h0M106.1 125.8h0M107.8 125.8h0M110.0 125.7h0M111.7 125.3h0M113.1 125.0h0M115.0 125.1h0M116.2 125.0h0M118.4 125.1h0M123.5 125.1h0M124.9 125.8h0M126.6 125.2h0M128.3 125.5h0M130.0 125.6h0M132.2 124.9h0M138.7 125.1h0M142.0 124.9h0M143.8 125.0h0M145.3 125.3h0M147.3 125.2h0M81.2 127.1h0M83.0 127.1h0M85.1 126.8h0M87.1 126.4h0M89.7 126.5h0M92.2 127.2h0M93.9 127.2h0M97.3 127.2h0M98.6 126.5h0M100.0 126.6h0M101.9 126.8h0M105.0 126.9h0M107.2 126.6h0M108.5 127.0h0M110.9 127.2h0M112.2 126.9h0M114.3 127.1h0M117.0 126.4h0M119.3 126.4h0M124.5 127.0h0M125.5 127.0h0M127.3 126.7h0M131.0 127.0h0M132.5 127.1h0M137.3 126.5h0M140.8 126.6h0M143.0 126.9h0M144.3 127.0h0M146.2 126.9h0M147.9 127.2h0M79.1 128.0h0M81.0 128.5h0M82.6 128.4h0M84.0 128.5h0M85.6 127.9h0M89.6 128.5h0M94.7 127.8h0M95.6 127.9h0M97.8 128.0h0M99.6 128.5h0M100.7 128.0h0M104.3 128.3h0M106.6 128.4h0M108.2 128.4h0M109.6 127.9h0M111.5 128.3h0M112.9 128.1h0M115.0 128.4h0M116.1 127.9h0M117.9 128.0h0M119.9 128.0h0M128.5 128.1h0M130.1 127.9h0M131.7 128.5h0M133.3 128.2h0M135.5 128.2h0M136.5 128.4h0M140.5 128.6h0M142.4 128.2h0M143.7 128.6h0M145.1 128.0h0M147.2 128.0h0M78.4 129.8h0M79.9 129.6h0M81.6 129.6h0M83.5 129.3h0M85.0 129.6h0M88.7 129.3h0M90.1 129.4h0M93.5 130.0h0M95.6 129.4h0M96.7 129.4h0M99.0 129.9h0M100.2 130.2h0M102.1 129.7h0M103.8 129.8h0M105.1 129.9h0M106.9 129.3h0M108.5 129.7h0M110.3 130.1h0M114.0 130.1h0M115.7 129.3h0M117.4 129.3h0M119.1 129.5h0M120.8 130.1h0M122.7 129.8h0M124.1 129.7h0M126.2 129.9h0M129.4 129.9h0M130.5 129.6h0M132.4 130.0h0M134.0 129.7h0M136.2 129.5h0M139.6 129.5h0M140.9 129.5h0M142.6 130.1h0M144.2 130.1h0M146.0 130.0h0M77.0 131.6h0M78.7 131.4h0M80.3 131.0h0M82.5 130.8h0M84.3 130.9h0M86.0 131.5h0M87.2 131.2h0M89.3 130.9h0M90.9 130.9h0M94.4 130.9h0M96.0 131.3h0M97.7 131.3h0M99.2 131.0h0M100.9 131.4h0M111.0 131.6h0M113.3 131.3h0M114.5 131.0h0M116.1 131.1h0M118.3 131.0h0M120.0 131.2h0M121.7 131.6h0M124.6 131.6h0M126.8 131.3h0M128.6 131.4h0M130.0 131.2h0M131.8 131.0h0M133.4 130.8h0M135.4 131.5h0M138.4 131.6h0M140.7 131.7h0M141.8 131.0h0M143.5 131.0h0M145.3 131.1h0M148.3 131.2h0M76.2 133.1h0M78.0 133.1h0M79.8 132.5h0M81.2 132.5h0M83.2 132.9h0M84.8 133.0h0M86.5 132.9h0M88.3 132.3h0M89.7 132.3h0M93.5 132.3h0M95.2 132.4h0M97.1 132.8h0M98.7 132.7h0M101.9 133.0h0M103.5 133.0h0M105.8 132.8h0M107.2 133.0h0M108.5 133.1h0M110.3 132.3h0M112.6 133.1h0M114.1 132.5h0M115.4 132.4h0M117.2 133.1h0M118.6 132.4h0M121.1 133.1h0M123.9 133.0h0M125.9 133.1h0M127.4 132.6h0M128.8 133.0h0M130.5 133.1h0M132.2 132.7h0M134.2 132.4h0M138.1 132.3h0M139.6 132.6h0M140.9 132.6h0M143.2 132.4h0M146.6 133.0h0M75.7 134.5h0M77.3 133.8h0M78.9 133.9h0M80.9 134.1h0M82.6 134.6h0M84.0 133.8h0M85.9 133.8h0M87.4 134.2h0M88.9 134.1h0M92.5 134.3h0M93.9 134.1h0M96.2 134.6h0M97.3 133.9h0M100.8 134.3h0M103.1 134.2h0M104.4 134.5h0M106.0 133.9h0M107.8 134.0h0M111.6 133.9h0M113.5 134.3h0M114.9 134.0h0M116.3 133.9h0M121.9 133.8h0M123.4 134.4h0M124.9 134.6h0M126.7 134.3h0M128.8 134.4h0M130.2 133.9h0M131.5 134.2h0M133.6 134.1h0M137.1 134.3h0M138.8 134.3h0M139.9 134.0h0M145.0 133.7h0M147.1 134.4h0M148.7 133.9h0M71.8 135.6h0M75.2 135.8h0M76.9 135.7h0M78.1 135.9h0M79.5 135.8h0M83.0 135.7h0M84.8 135.4h0M87.0 135.9h0M88.7 135.4h0M93.7 135.8h0M95.0 135.9h0M96.8 135.4h0M98.5 135.4h0M100.4 135.3h0M101.6 135.4h0M103.4 135.3h0M105.8 135.5h0M107.2 135.8h0M110.3 135.6h0M112.5 135.5h0M114.2 135.5h0M115.3 135.7h0M118.6 135.3h0M120.4 136.1h0M122.7 135.7h0M123.7 136.0h0M125.7 135.9h0M129.5 135.5h0M130.8 135.5h0M136.2 135.5h0M137.3 136.1h0M141.3 135.4h0M142.8 135.2h0M144.1 135.4h0M146.6 135.6h0M148.0 135.9h0M73.7 136.8h0M76.1 137.6h0M77.0 137.3h0M81.2 136.9h0M82.7 137.3h0M84.3 137.0h0M85.8 136.7h0M89.6 137.3h0M91.3 137.5h0M92.7 137.2h0M97.6 136.9h0M100.8 137.5h0M102.9 137.2h0M104.6 136.9h0M106.7 137.2h0M109.9 137.5h0M111.2 136.8h0M113.2 137.1h0M115.1 137.5h0M116.5 137.4h0M118.4 137.5h0M120.1 137.1h0M121.5 136.9h0M123.0 137.3h0M128.5 137.5h0M138.8 137.3h0M140.6 137.0h0M141.6 137.6h0M144.1 137.4h0M144.9 137.1h0M146.9 137.3h0M150.0 136.8h0M73.4 138.6h0M74.4 138.6h0M81.8 138.2h0M83.2 138.6h0M88.7 138.7h0M90.3 138.8h0M91.8 138.2h0M93.8 138.2h0M100.7 138.7h0M101.8 138.5h0M103.8 138.9h0M105.2 138.7h0M107.2 138.7h0M109.1 138.5h0M110.7 138.2h0M117.1 138.8h0M118.6 138.6h0M121.0 138.9h0M122.4 138.2h0M123.8 138.9h0M128.8 138.2h0M137.5 139.0h0M139.5 139.0h0M141.3 139.0h0M143.0 139.0h0M144.2 138.6h0M149.9 139.0h0M151.2 138.9h0M68.5 140.0h0M77.3 139.9h0M83.8 140.3h0M86.3 140.0h0M88.8 140.4h0M91.4 139.7h0M104.6 139.8h0M109.2 140.0h0M111.1 139.8h0M114.4 139.7h0M121.8 140.0h0M130.3 140.4h0M137.1 139.7h0M138.3 140.2h0M140.4 139.9h0M142.2 140.5h0M143.3 139.9h0M145.3 139.8h0M147.1 139.9h0M76.2 141.3h0M78.6 141.7h0M81.5 141.6h0M137.8 141.4h0M139.8 141.2h0M142.8 141.4h0M144.0 108.5h0M69.2 136.3h0M92.6 138.7h0M138.3 91.0h0M99.5 106.3h0M86.3 109.9h0M101.1 105.2h0M142.3 142.3h0M138.9 92.4h0M111.3 105.8h0M136.1 91.3h0M126.6 91.5h0M151.8 139.0h0M100.5 107.3h0M99.7 106.3h0M89.9 109.9h0M87.9 143.1h0M68.8 128.4h0M146.0 113.7h0M78.7 111.2h0M69.7 136.3h0M142.5 93.6h0M100.8 108.1h0M70.1 111.9h0M140.5 92.1h0M143.3 98.6h0M72.1 129.4h0M146.8 104.6h0M118.1 93.3h0M111.2 100.3h0M101.4 137.6h0M84.6 109.1h0M142.3 93.5h0M96.8 142.4h0M86.7 108.0h0M131.4 142.6h0M87.5 140.1h0M72.0 139.9h0M72.1 116.8h0M106.0 106.3h0M66.6 141.8h0M68.3 141.0h0M69.5 141.9h0M72.8 141.8h0M74.8 141.4h0M83.3 141.7h0M84.7 141.8h0M94.9 141.6h0M100.5 141.3h0M105.4 141.5h0M113.6 141.6h0M115.2 141.5h0M117.2 141.7h0M121.0 141.8h0M122.0 141.4h0M124.2 141.4h0M127.1 141.1h0M149.7 141.6h0M151.1 141.5h0M65.7 143.1h0M67.2 142.7h0M68.9 143.1h0M70.2 143.0h0M72.3 143.0h0M74.1 143.3h0M76.0 143.4h0M79.2 143.2h0M80.7 142.9h0M82.3 142.8h0M84.0 142.7h0M86.1 143.0h0M87.9 143.0h0M92.7 143.3h0M94.2 143.2h0M97.6 143.0h0M119.5 143.4h0M121.9 143.1h0M123.1 143.3h0M124.5 142.7h0M130.4 143.2h0M136.7 143.4h0M138.1 143.1h0M139.9 142.7h0M141.8 142.9h0M146.9 142.8h0M148.4 143.0h0M150.3 142.8h0M151.9 143.2h0M65.9 144.1h0M67.8 144.4h0M69.2 144.7h0M70.9 144.7h0M72.9 144.3h0M78.4 144.6h0M79.6 144.7h0M81.2 144.1h0M83.0 144.4h0M85.3 144.2h0M86.6 144.5h0M92.1 144.7h0M93.5 144.3h0M95.2 144.3h0M96.7 144.6h0M98.2 144.1h0M110.6 144.3h0M121.0 144.4h0M122.7 144.0h0M123.6 144.0h0M127.5 144.1h0M128.8 144.6h0M131.2 144.6h0M132.2 144.5h0M136.3 144.7h0M137.9 144.5h0M139.2 144.1h0M140.7 144.0h0M143.1 144.7h0M144.4 144.8h0M146.2 144.6h0M147.4 144.8h0M149.3 144.3h0M151.1 144.4h0M67.2 145.5h0M68.8 145.9h0M70.5 146.2h0M72.4 146.0h0M75.7 145.7h0M77.2 145.6h0M79.4 145.9h0M80.8 146.3h0M82.3 145.8h0M83.7 145.9h0M85.7 146.0h0M91.1 145.7h0M92.9 145.8h0M93.9 146.0h0M96.0 146.0h0M97.9 145.7h0M109.7 145.7h0M120.2 146.3h0M121.6 145.8h0M126.2 145.7h0M128.2 146.1h0M130.1 146.1h0M140.3 145.8h0M143.7 146.3h0M145.6 145.5h0M147.4 146.3h0M148.4 146.2h0M150.6 146.0h0M151.8 146.3h0M69.9 147.5h0M74.6 147.2h0M76.6 147.0h0M78.4 147.4h0M79.8 147.3h0M81.4 147.3h0M83.2 147.0h0M84.7 147.4h0M89.9 147.0h0M91.7 147.7h0M93.2 147.0h0M94.9 147.3h0M96.9 147.3h0M98.8 147.5h0M124.5 147.5h0M125.7 147.0h0M127.7 147.0h0M129.0 147.1h0M131.2 147.5h0M132.6 147.0h0M134.0 147.8h0M143.0 147.4h0M144.6 147.1h0M145.7 147.2h0M147.4 147.7h0M149.5 147.0h0M151.5 147.2h0M75.7 148.5h0M76.9 148.7h0M91.2 149.3h0M92.8 149.2h0M94.4 148.6h0M95.8 148.8h0M97.8 148.8h0M102.9 149.0h0M104.7 149.0h0M123.5 148.7h0M125.0 148.6h0M126.8 148.7h0M128.0 148.5h0M144.0 149.0h0M145.6 148.5h0M146.9 148.8h0M148.6 148.7h0M150.7 148.6h0M153.9 148.5h0M68.2 149.9h0M83.4 150.4h0M92.1 149.9h0M93.1 150.2h0M95.4 150.2h0M96.5 150.4h0M99.9 150.5h0M101.9 150.0h0M103.9 150.3h0M118.9 150.7h0M120.5 150.3h0M124.0 150.7h0M126.0 150.7h0M127.5 150.3h0M147.9 149.9h0M151.3 150.5h0M152.9 150.4h0M154.7 150.8h0M90.9 151.4h0M92.4 152.0h0M97.8 151.7h0M99.4 151.5h0M101.4 151.7h0M103.1 151.6h0M104.1 151.5h0M116.6 151.8h0M118.0 151.9h0M119.8 151.7h0M124.5 151.6h0M126.8 152.2h0M134.7 151.9h0M138.2 151.8h0M140.6 151.6h0M141.8 151.9h0M150.6 151.5h0M152.4 152.0h0M154.1 151.7h0M155.3 152.2h0M156.8 151.8h0M93.2 153.7h0M95.5 153.1h0M96.9 153.6h0M98.6 152.9h0M100.3 153.0h0M102.2 153.0h0M103.7 153.1h0M115.7 153.7h0M117.3 153.7h0M119.0 153.2h0M120.6 153.6h0M124.1 153.1h0M137.4 153.6h0M139.5 153.2h0M141.1 153.6h0M142.9 153.0h0M144.0 152.9h0M149.6 153.4h0M151.5 153.5h0M153.1 153.1h0M154.4 153.0h0M156.1 153.2h0M66.7 154.9h0M68.8 155.0h0M77.2 154.8h0M94.3 155.0h0M95.6 154.4h0M98.1 154.7h0M99.4 154.8h0M100.8 155.1h0M102.6 155.1h0M113.3 154.7h0M114.7 154.6h0M116.6 154.5h0M118.3 154.5h0M119.4 154.8h0M121.2 154.9h0M126.9 154.6h0M135.5 155.0h0M136.5 154.4h0M138.5 155.0h0M139.8 154.5h0M142.1 154.7h0M143.5 154.5h0M146.7 155.0h0M151.7 155.1h0M154.1 154.7h0M155.3 154.4h0M83.0 156.0h0M90.3 156.4h0M91.4 156.1h0M95.3 156.3h0M96.9 155.8h0M98.9 156.2h0M100.4 156.3h0M101.8 156.1h0M103.2 156.1h0M112.2 156.0h0M113.9 156.3h0M115.1 156.7h0M116.9 156.4h0M118.9 156.5h0M131.0 156.7h0M134.6 155.9h0M136.0 156.2h0M137.4 156.7h0M139.4 156.7h0M141.2 155.9h0M144.4 156.0h0M146.5 156.0h0M151.1 156.0h0M153.3 156.2h0M154.2 156.6h0M87.1 158.2h0M89.0 157.7h0M90.7 157.3h0M94.2 157.3h0M95.7 158.0h0M97.3 157.9h0M99.3 157.8h0M101.3 157.6h0M104.5 157.8h0M106.1 157.8h0M108.2 157.8h0M113.1 157.4h0M115.0 158.1h0M116.3 157.6h0M117.8 157.9h0M121.9 157.7h0M123.5 158.2h0M133.8 157.8h0M134.7 157.7h0M136.5 157.4h0M138.1 157.8h0M139.8 157.6h0M144.0 157.4h0M145.6 157.7h0M147.2 157.7h0M148.5 157.7h0M152.4 157.6h0M158.5 158.1h0M85.3 159.4h0M86.4 159.5h0M88.7 159.4h0M90.0 159.0h0M95.3 158.9h0M103.5 159.0h0M105.6 158.8h0M106.9 158.8h0M108.9 159.0h0M110.8 159.4h0M122.6 159.2h0M124.3 159.4h0M129.2 159.1h0M134.5 158.8h0M136.0 159.2h0M137.9 159.5h0M141.3 159.0h0M142.8 159.4h0M144.8 159.3h0M145.9 159.6h0M148.3 159.0h0M149.4 159.4h0M158.2 159.2h0M67.2 161.1h0M84.5 160.6h0M85.9 161.1h0M87.3 160.6h0M89.2 161.0h0M90.5 160.8h0M102.9 160.7h0M104.1 160.5h0M105.8 160.3h0M107.7 160.4h0M111.2 160.9h0M121.2 160.7h0M123.2 160.5h0M124.8 160.9h0M126.2 160.4h0M130.0 161.1h0M131.3 160.5h0M135.1 160.4h0M136.9 160.7h0M139.9 160.3h0M141.6 161.0h0M143.4 160.4h0M144.9 160.6h0M147.1 161.1h0M150.8 160.6h0M151.8 160.3h0M153.6 160.5h0M81.7 162.5h0M83.6 162.5h0M84.9 161.8h0M87.0 162.0h0M88.5 161.9h0M93.3 162.1h0M95.6 162.5h0M97.2 161.7h0M102.3 162.1h0M103.7 162.0h0M105.8 162.0h0M106.8 162.4h0M110.6 162.0h0M112.4 162.2h0M113.9 162.0h0M117.5 162.4h0M118.9 161.9h0M122.4 162.3h0M124.1 162.5h0M132.7 162.6h0M139.6 161.8h0M140.7 162.0h0M142.9 162.6h0M144.6 161.8h0M149.5 162.3h0M151.1 162.3h0M152.6 161.8h0M154.3 162.1h0M156.7 162.6h0M157.8 162.0h0M160.0 162.6h0M80.7 163.5h0M82.6 164.1h0M83.7 163.6h0M85.9 163.9h0M87.1 163.8h0M90.7 163.9h0M92.6 163.4h0M94.4 163.3h0M95.9 163.9h0M97.5 163.4h0M101.5 164.0h0M103.0 163.8h0M104.4 163.5h0M106.3 163.5h0M109.4 164.1h0M111.4 163.4h0M113.1 164.0h0M117.8 163.3h0M119.8 164.0h0M121.5 163.7h0M128.6 163.8h0M138.8 163.8h0M140.6 163.6h0M142.3 163.7h0M143.7 163.9h0M146.9 163.5h0M148.9 163.3h0M150.5 163.4h0M151.8 163.7h0M153.8 163.3h0M157.3 163.8h0M158.7 163.7h0M160.4 163.6h0M93.7 165.4h0M94.8 165.6h0M97.2 165.4h0M100.6 164.9h0M101.5 164.8h0M103.8 165.3h0M106.8 165.5h0M108.6 165.2h0M110.8 165.2h0M112.0 164.8h0M115.4 165.3h0M117.0 165.3h0M119.0 165.4h0M120.4 165.1h0M139.4 165.3h0M140.8 165.1h0M146.1 165.1h0M148.3 164.7h0M149.6 164.8h0M151.0 164.9h0M155.0 164.9h0M156.5 165.3h0M158.1 165.4h0M159.5 164.9h0M161.1 164.7h0M94.5 166.6h0M95.9 167.0h0M101.4 166.2h0M106.3 166.9h0M108.3 166.7h0M109.6 166.6h0M112.7 166.2h0M117.8 167.0h0M119.7 166.6h0M124.9 166.6h0M133.1 167.0h0M135.3 166.3h0M143.8 166.2h0M145.4 166.8h0M146.7 166.9h0M148.9 166.5h0M155.9 166.9h0M156.9 166.3h0M159.3 166.2h0M160.3 166.2h0M96.9 168.5h0M105.1 168.1h0M107.2 168.2h0M125.8 168.2h0M132.7 167.7h0M134.1 168.5h0M139.3 167.9h0M144.4 168.0h0M146.2 167.9h0M147.6 168.1h0M151.3 168.1h0M156.0 168.4h0M158.4 167.8h0M96.2 169.7h0M97.8 169.5h0M99.1 169.8h0M101.3 169.8h0M104.9 169.7h0M106.6 169.2h0M112.8 169.6h0M115.1 169.4h0M129.8 169.4h0M131.7 169.5h0M133.0 169.3h0M138.5 169.5h0M140.3 169.1h0M145.3 169.3h0M147.3 169.3h0M148.3 170.0h0M150.6 169.2h0M152.4 169.4h0M155.8 169.5h0M157.2 169.6h0M160.6 169.2h0M162.4 169.6h0M97.3 171.3h0M99.0 171.3h0M100.3 171.2h0M103.4 171.3h0M105.5 171.0h0M109.1 171.2h0M110.8 171.1h0M112.0 171.0h0M113.8 170.8h0M115.4 171.0h0M119.3 171.4h0M127.6 171.2h0M128.8 171.5h0M130.8 170.8h0M132.4 170.7h0M135.7 171.4h0M141.0 171.5h0M146.5 171.3h0M147.6 171.2h0M149.4 171.2h0M151.5 170.8h0M152.7 170.7h0M159.9 171.3h0M161.5 170.9h0M162.9 170.8h0M97.9 172.2h0M99.3 172.7h0M100.7 172.5h0M106.3 172.9h0M108.1 172.2h0M109.6 172.1h0M111.0 172.8h0M113.4 172.2h0M116.8 172.7h0M118.3 172.6h0M120.2 172.2h0M121.4 172.4h0M126.7 172.3h0M128.7 172.7h0M130.3 172.4h0M131.7 172.6h0M135.0 172.3h0M136.6 172.8h0M145.2 172.3h0M147.4 172.7h0M148.7 172.7h0M150.0 172.4h0M152.1 172.8h0M158.6 172.7h0M160.9 172.4h0M162.0 172.3h0M98.2 174.2h0M100.6 173.8h0M104.0 173.8h0M105.3 174.0h0M107.1 173.8h0M108.6 174.3h0M110.2 174.3h0M112.6 173.6h0M117.7 174.1h0M118.7 174.1h0M120.8 173.7h0M122.7 174.0h0M125.8 173.8h0M127.8 173.6h0M129.0 174.1h0M130.5 173.6h0M134.0 173.9h0M135.9 174.0h0M137.3 174.3h0M142.5 174.4h0M144.7 173.8h0M145.8 174.3h0M147.5 173.7h0M149.7 174.1h0M151.4 173.7h0M152.8 174.5h0M156.2 173.7h0M161.3 173.6h0M162.7 173.6h0M103.0 175.6h0M104.8 175.5h0M106.1 175.7h0M107.6 175.7h0M109.2 175.9h0M111.7 175.3h0M115.1 175.5h0M116.4 175.5h0M117.7 175.8h0M119.9 175.7h0M121.8 175.2h0M124.6 175.5h0M126.6 175.3h0M127.9 175.6h0M133.5 175.6h0M135.2 175.3h0M136.6 175.9h0M146.7 175.3h0M148.5 175.8h0M150.4 175.1h0M155.7 175.8h0M156.9 175.9h0M164.0 175.6h0M102.0 176.7h0M103.9 176.8h0M105.3 177.0h0M106.7 177.2h0M108.3 176.7h0M112.3 177.3h0M115.3 177.4h0M117.4 176.9h0M119.2 176.7h0M120.9 177.2h0M134.7 176.9h0M136.2 176.9h0M143.1 177.4h0M147.9 176.8h0M149.5 177.1h0M152.6 177.3h0M154.2 177.0h0M156.4 177.3h0M157.9 177.1h0M159.8 177.2h0M163.2 176.6h0M165.2 176.6h0M104.5 178.2h0M106.1 178.3h0M116.4 178.4h0M117.7 178.6h0M119.9 178.6h0M123.2 178.0h0M136.5 178.8h0M138.8 178.6h0M141.7 178.4h0M152.2 178.0h0M154.0 178.2h0M155.3 178.8h0M156.9 178.7h0M159.3 178.7h0M160.4 178.2h0M163.9 178.6h0M107.2 179.9h0M108.6 179.8h0M110.8 179.5h0M111.8 179.8h0M118.8 179.9h0M135.8 180.0h0M137.3 179.7h0M139.1 179.9h0M149.8 180.1h0M151.7 179.9h0M153.2 180.1h0M154.3 179.6h0M156.7 180.3h0M157.9 179.5h0M159.5 180.2h0M166.3 179.7h0M107.6 181.8h0M109.9 181.9h0M111.6 181.5h0M112.7 181.7h0M118.4 181.6h0M119.9 181.0h0M121.2 181.0h0M134.9 181.2h0M136.9 181.3h0M138.3 181.3h0M144.0 181.0h0M149.1 181.7h0M150.1 181.6h0M151.8 181.4h0M153.8 181.4h0M155.1 181.6h0M157.1 181.8h0M158.5 181.2h0M162.0 181.8h0M165.7 181.4h0M106.8 182.9h0M108.6 182.5h0M110.3 183.0h0M112.3 183.2h0M115.7 183.3h0M117.2 182.8h0M119.3 183.1h0M120.6 182.8h0M134.7 182.9h0M135.6 182.7h0M149.5 182.9h0M151.4 183.2h0M152.9 183.1h0M154.5 182.8h0M156.1 182.7h0M158.2 182.7h0M161.4 182.8h0M162.9 182.4h0M166.6 183.3h0M106.1 184.7h0M108.1 184.6h0M109.6 184.3h0M114.5 184.1h0M116.6 184.1h0M118.0 184.5h0M119.9 184.4h0M133.5 184.5h0M135.3 184.6h0M137.2 184.0h0M142.1 184.0h0M143.3 184.1h0M145.7 184.7h0M147.3 184.6h0M150.4 184.7h0M152.3 184.3h0M153.6 184.5h0M155.5 184.2h0M159.3 184.2h0M160.2 184.0h0M162.4 184.5h0M165.8 184.5h0M167.7 184.4h0M105.2 185.7h0M107.0 185.5h0M115.6 186.0h0M116.8 186.1h0M119.4 185.5h0M123.9 185.9h0M129.1 186.0h0M131.0 185.5h0M136.3 186.0h0M141.2 185.5h0M142.8 185.7h0M144.5 185.5h0M145.8 186.0h0M151.5 186.1h0M153.2 185.9h0M156.2 185.9h0M158.3 185.7h0M159.4 185.9h0M161.2 186.0h0M166.6 185.8h0M168.0 186.2h0M105.9 187.1h0M114.5 187.4h0M116.3 187.6h0M118.0 186.9h0M124.9 187.7h0M126.3 187.2h0M128.3 187.1h0M129.9 187.1h0M132.0 187.1h0M138.1 187.7h0M140.2 187.3h0M141.7 187.8h0M143.4 187.1h0M145.6 187.0h0M151.8 187.1h0M155.5 186.9h0M156.9 187.1h0M159.0 187.1h0M160.2 187.8h0M162.3 187.6h0M112.4 188.4h0M114.2 188.8h0M115.8 189.0h0M117.5 188.5h0M118.6 188.8h0M120.4 188.4h0M122.4 189.1h0M123.8 189.2h0M125.4 189.2h0M127.7 188.6h0M129.2 188.8h0M130.7 189.0h0M137.8 188.8h0M139.0 189.0h0M141.3 188.9h0M142.5 189.1h0M144.6 189.1h0M149.4 188.5h0M151.2 188.5h0M154.2 189.1h0M156.5 189.2h0M158.2 188.9h0M159.5 188.5h0M161.8 189.1h0M166.8 188.7h0M99.8 190.3h0M101.4 190.4h0M102.7 190.2h0M104.1 190.0h0M105.8 190.5h0M113.1 190.0h0M115.1 190.4h0M116.6 190.6h0M118.0 189.9h0M121.7 190.3h0M123.2 190.0h0M124.6 189.9h0M126.5 190.5h0M127.9 190.2h0M130.1 189.9h0M135.5 190.2h0M136.5 190.6h0M138.4 190.1h0M140.2 190.7h0M141.7 190.4h0M143.6 189.9h0M147.2 190.5h0M148.3 190.4h0M150.7 190.0h0M153.9 190.0h0M155.7 190.3h0M157.6 190.0h0M158.6 190.0h0M160.7 190.2h0M163.7 190.4h0M165.3 190.5h0M167.7 190.0h0M169.2 190.0h0M100.1 192.0h0M102.2 192.1h0M103.4 192.0h0M105.0 191.8h0M107.4 191.5h0M108.6 191.9h0M111.8 191.4h0M121.0 191.6h0M122.1 191.8h0M124.3 191.5h0M127.7 191.6h0M136.0 191.5h0M138.0 192.2h0M139.2 192.2h0M141.1 191.9h0M142.7 191.5h0M146.1 191.7h0M147.8 192.1h0M149.3 192.1h0M151.3 191.6h0M161.4 192.0h0M163.0 191.6h0M164.6 191.4h0M166.8 191.6h0M167.9 192.1h0M97.9 193.7h0M99.2 193.5h0M101.0 193.1h0M102.6 193.0h0M104.4 192.8h0M106.5 193.5h0M108.3 193.1h0M116.7 193.4h0M121.9 193.1h0M122.8 192.8h0M124.7 193.2h0M130.0 193.6h0M131.5 193.4h0M136.5 193.3h0M138.3 193.2h0M139.8 193.5h0M143.8 193.5h0M145.4 192.9h0M146.8 193.6h0M148.8 193.7h0M150.3 193.4h0M160.8 193.3h0M162.7 193.0h0M164.2 193.6h0M165.6 193.5h0M167.2 192.9h0M98.4 194.3h0M100.1 194.8h0M102.0 194.3h0M103.5 194.8h0M105.8 195.0h0M110.9 194.4h0M113.9 194.6h0M115.1 195.1h0M117.5 194.6h0M121.9 194.4h0M124.0 194.6h0M127.0 194.9h0M129.5 194.5h0M130.8 194.8h0M133.0 194.8h0M137.4 194.6h0M142.5 194.4h0M144.8 195.1h0M146.0 194.4h0M147.9 194.8h0M151.4 194.9h0M153.2 194.6h0M154.3 194.3h0M162.8 194.7h0M164.4 194.9h0M166.4 194.7h0M99.0 196.0h0M101.1 195.9h0M103.1 196.6h0M110.9 196.6h0M112.8 196.4h0M114.6 195.9h0M116.5 196.2h0M117.7 196.1h0M123.5 196.4h0M124.7 196.1h0M126.9 196.0h0M128.7 195.9h0M129.8 196.3h0M131.8 196.5h0M133.1 196.4h0M136.5 195.9h0M141.5 196.3h0M143.2 196.2h0M144.9 196.5h0M147.3 196.5h0M152.3 196.0h0M154.1 195.9h0M156.9 196.3h0M162.6 196.6h0M100.5 197.6h0M117.4 197.3h0M118.6 197.8h0M122.1 197.8h0M124.4 197.5h0M125.4 197.8h0M127.1 197.4h0M128.8 197.3h0M131.1 197.4h0M132.9 197.5h0M139.6 197.4h0M146.6 197.3h0M149.5 198.0h0M151.4 197.9h0M153.2 198.1h0M154.5 197.7h0M156.5 197.4h0M123.6 198.9h0M125.0 199.3h0M126.4 198.9h0M128.1 198.7h0M130.2 199.5h0M133.5 199.3h0M134.7 199.2h0M148.3 198.7h0M150.7 199.0h0M152.0 199.4h0M154.0 198.9h0M155.6 199.2h0M158.7 199.3h0M162.3 199.1h0M127.8 200.2h0M134.2 200.6h0M139.0 201.0h0M141.1 200.7h0M142.5 200.6h0M144.6 200.2h0M148.2 200.6h0M149.9 200.9h0M151.1 201.0h0M152.8 200.6h0M154.4 200.6h0M157.8 200.3h0M159.9 200.7h0M161.5 200.4h0M138.7 202.1h0M140.2 201.9h0M142.2 202.4h0M143.2 201.9h0M145.2 202.1h0M147.3 202.4h0M149.0 201.8h0M150.1 202.0h0M152.4 201.8h0M157.6 201.9h0M158.6 201.8h0M160.7 201.7h0M155.0 203.3h0M156.6 203.6h0M158.2 203.6h0M160.0 203.3h0M146.0 203.2h0M148.6 202.7h0M131.6 202.0h0M64.9 145.2h0M152.1 146.4h0M99.6 196.5h0M129.7 141.7h0M98.0 195.5h0M165.8 195.7h0M129.4 142.0h0M152.5 141.1h0M89.2 139.1h0M142.5 203.5h0M107.1 138.2h0M124.2 197.8h0M61.6 151.2h0M159.7 203.0h0M153.2 203.5h0M94.8 186.3h0M171.5 188.3h0M110.9 198.2h0M108.4 140.0h0M61.5 161.6h0M97.9 139.4h0M68.1 140.5h0M62.7 154.5h0M74.4 142.7h0M123.7 141.9h0M103.6 141.6h0M86.3 164.2h0M91.4 167.7h0M144.3 201.7h0M131.9 200.2h0M120.7 138.1h0M129.5 199.9h0M152.1 144.8h0M64.8 141.5h0M169.6 179.7h0M120.0 138.9h0M162.4 161.0h0M145.6 93.3h0M145.2 94.5h0M147.4 95.1h0M147.9 96.6h0M151.9 96.9h0M155.1 98.0h0M157.0 97.9h0M149.7 99.6h0M155.8 99.7h0M157.8 99.6h0M152.6 101.5h0M154.8 101.5h0M143.7 103.6h0M145.9 103.8h0M142.7 105.0h0M144.9 104.8h0M147.3 105.1h0M151.1 105.0h0M146.4 106.6h0M145.3 109.0h0M148.7 109.1h0M143.8 110.2h0M155.8 110.8h0M145.2 112.0h0M147.0 111.7h0M155.4 112.0h0M156.8 112.0h0M145.3 115.4h0M149.4 116.0h0M151.1 115.5h0M145.8 117.6h0M148.4 117.4h0M150.1 117.3h0M156.3 117.0h0M155.1 118.7h0M145.7 121.0h0M152.4 120.5h0M154.3 121.0h0M146.6 122.7h0M147.0 126.1h0M152.7 126.5h0M154.9 126.0h0M151.6 128.2h0M147.3 129.2h0M152.8 129.7h0M148.2 131.6h0M149.7 131.6h0M152.4 130.9h0M154.1 131.4h0M150.9 132.7h0M152.8 132.7h0M150.2 135.0h0M152.1 134.6h0M150.6 136.6h0M156.2 141.3h0M152.8 143.6h0M154.7 143.3h0M156.7 143.7h0M152.0 145.2h0M157.7 145.3h0M155.3 147.2h0M153.6 148.6h0M153.1 150.8h0M155.1 153.7h0M159.3 157.7h0" stroke="#EEC5CF" stroke-width="2.3" stroke-linecap="round" fill="none"/>
<path d="M163.0 52.6h0M160.7 54.0h0M162.3 54.0h0M162.9 54.0h0M164.6 53.4h0M166.4 54.1h0M161.4 54.8h0M162.8 54.7h0M163.9 54.7h0M165.2 55.3h0M167.3 55.0h0M168.2 54.7h0M160.0 55.9h0M161.7 56.5h0M163.0 56.5h0M165.2 56.7h0M166.5 56.5h0M168.2 56.0h0M162.7 57.4h0M163.9 57.7h0M165.8 57.2h0M167.1 57.6h0M168.2 58.0h0M162.2 58.7h0M163.6 58.8h0M165.0 59.1h0M162.8 60.7h0M163.7 59.8h0M165.4 60.0h0" stroke="#C22232" stroke-width="1.9" stroke-linecap="round" fill="none"/>
<circle cx="270" cy="163.4" r="1.6" fill="#DDBCC5"/>
<circle cx="270.1" cy="178.4" r="1.6" fill="#B22A3A"/>
<!-- panel b -->
<path d="M435.6 108.1h0M437.0 107.5h0M439.1 107.6h0M440.1 108.0h0M442.1 108.0h0M443.5 107.6h0M445.7 108.1h0M426.3 108.8h0M429.1 109.3h0M430.8 109.5h0M433.2 109.2h0M434.8 109.6h0M436.6 109.5h0M437.7 109.1h0M439.2 108.7h0M441.2 108.9h0M443.1 109.2h0M444.6 109.0h0M446.3 109.1h0M420.3 110.6h0M421.8 110.6h0M431.7 110.8h0M433.7 110.2h0M435.7 110.2h0M437.1 110.9h0M439.1 110.7h0M440.1 110.5h0M442.6 110.4h0M443.8 110.5h0M445.8 110.9h0M447.2 110.5h0M449.1 111.0h0M416.1 111.9h0M417.3 112.2h0M418.8 112.4h0M420.7 112.4h0M422.3 111.9h0M424.4 111.9h0M427.6 112.2h0M432.9 111.7h0M434.8 111.9h0M436.6 111.9h0M438.2 112.0h0M439.4 111.8h0M442.9 112.2h0M445.1 112.1h0M446.6 112.5h0M447.7 112.2h0M450.1 112.4h0M451.3 112.3h0M415.0 113.5h0M416.6 113.8h0M418.3 113.8h0M419.7 113.6h0M421.4 113.9h0M423.3 113.4h0M425.0 113.4h0M427.2 113.2h0M428.4 113.9h0M429.8 113.6h0M431.6 113.7h0M433.4 113.5h0M435.4 113.6h0M439.1 114.0h0M440.5 113.6h0M442.4 113.5h0M444.2 113.9h0M445.9 113.6h0M447.7 113.2h0M448.8 113.8h0M451.0 113.6h0M410.4 115.2h0M412.1 115.1h0M415.5 115.5h0M417.9 115.3h0M419.5 114.7h0M421.0 114.8h0M423.0 114.9h0M424.1 115.2h0M429.6 115.1h0M431.3 115.5h0M432.8 114.8h0M434.4 115.5h0M439.6 114.8h0M441.5 115.3h0M442.9 115.5h0M444.8 114.7h0M446.0 115.4h0M448.3 115.1h0M449.4 114.7h0M451.5 114.7h0M453.3 114.7h0M455.1 115.0h0M408.6 116.7h0M409.7 116.5h0M411.3 116.9h0M413.2 116.7h0M415.3 116.9h0M416.7 116.5h0M418.8 116.4h0M420.1 116.5h0M422.1 116.8h0M423.1 116.3h0M424.8 116.7h0M428.3 116.4h0M430.2 116.2h0M431.8 116.2h0M439.2 116.6h0M440.2 116.2h0M442.2 116.3h0M444.3 116.6h0M445.8 116.3h0M447.3 116.9h0M448.6 116.7h0M450.8 116.8h0M452.3 117.0h0M454.0 116.2h0M455.6 116.7h0M457.3 116.2h0M407.5 117.7h0M408.7 117.9h0M410.5 118.3h0M414.4 117.7h0M415.6 117.7h0M417.6 118.4h0M419.5 117.8h0M420.7 118.5h0M422.7 118.0h0M424.3 118.4h0M426.3 118.3h0M429.1 118.2h0M432.4 117.9h0M434.7 118.4h0M440.0 118.4h0M441.2 118.4h0M443.4 117.6h0M444.5 118.1h0M446.1 117.8h0M447.9 118.1h0M450.1 117.8h0M451.3 118.4h0M453.0 118.3h0M454.5 118.0h0M456.5 117.7h0M458.2 117.6h0M459.6 118.0h0M405.0 119.8h0M406.1 119.4h0M407.8 119.2h0M411.4 119.8h0M413.0 119.3h0M414.7 119.8h0M416.9 119.7h0M418.0 119.5h0M420.1 119.9h0M422.0 119.7h0M423.8 119.5h0M424.9 119.3h0M426.4 119.3h0M430.2 119.1h0M432.3 119.6h0M433.9 119.9h0M435.0 119.8h0M440.4 119.9h0M441.9 119.7h0M443.8 119.6h0M445.3 119.8h0M447.5 119.6h0M449.0 119.6h0M450.5 119.2h0M452.0 119.7h0M453.6 119.2h0M455.8 119.5h0M457.5 119.1h0M459.3 119.8h0M461.0 119.5h0M403.8 121.3h0M405.2 120.5h0M407.6 120.9h0M410.9 120.6h0M412.1 121.0h0M414.2 120.7h0M415.4 121.3h0M417.8 121.0h0M418.9 121.4h0M420.7 120.9h0M424.6 120.9h0M429.1 120.9h0M432.5 121.0h0M434.2 120.6h0M435.9 120.7h0M437.9 121.3h0M439.2 120.9h0M441.6 121.4h0M443.2 121.0h0M444.9 121.3h0M446.8 120.9h0M448.0 120.6h0M449.7 121.0h0M451.3 121.3h0M453.1 121.0h0M454.6 121.1h0M457.0 120.7h0M458.2 120.7h0M459.7 121.0h0M461.4 120.7h0M403.4 122.7h0M405.0 122.8h0M411.7 122.2h0M413.3 122.8h0M415.4 122.1h0M417.0 122.8h0M418.0 122.8h0M420.3 122.4h0M421.5 122.1h0M430.6 122.7h0M431.6 122.2h0M433.7 122.7h0M434.9 122.8h0M437.1 122.9h0M438.6 122.2h0M445.7 122.3h0M446.9 122.4h0M449.0 122.1h0M450.2 122.5h0M452.7 122.5h0M454.3 122.2h0M455.3 122.6h0M457.4 122.5h0M459.5 122.3h0M460.8 122.5h0M462.9 122.1h0M400.8 124.0h0M402.3 124.4h0M403.6 123.7h0M405.2 124.1h0M410.8 124.1h0M412.5 124.1h0M414.0 123.9h0M417.8 123.6h0M418.8 124.1h0M421.0 123.6h0M422.6 124.3h0M424.4 123.8h0M425.8 124.4h0M427.6 123.5h0M429.3 123.5h0M431.1 124.3h0M432.8 123.9h0M434.4 123.6h0M435.9 123.5h0M438.3 124.4h0M439.5 123.8h0M441.4 123.9h0M442.8 124.4h0M444.4 124.2h0M446.5 124.2h0M447.8 123.7h0M450.1 124.1h0M451.9 123.5h0M453.4 123.7h0M455.2 124.0h0M456.9 124.2h0M458.0 123.5h0M460.2 124.1h0M461.4 124.2h0M399.3 125.2h0M401.2 125.5h0M403.2 125.6h0M404.9 125.7h0M407.9 125.5h0M409.7 125.3h0M413.4 125.5h0M415.1 125.0h0M418.0 125.0h0M420.2 125.5h0M422.1 125.3h0M423.3 125.2h0M425.4 125.4h0M426.9 125.6h0M428.9 125.5h0M430.3 125.2h0M431.8 125.4h0M438.6 125.7h0M440.4 125.8h0M442.5 125.0h0M443.8 125.2h0M445.4 125.7h0M449.4 125.2h0M450.4 125.5h0M452.0 125.2h0M455.4 125.3h0M458.7 125.7h0M461.0 125.3h0M397.1 127.2h0M398.5 127.3h0M400.4 126.7h0M407.2 127.2h0M408.9 127.3h0M410.7 127.2h0M412.3 126.9h0M414.3 126.5h0M415.8 126.8h0M417.9 126.8h0M418.8 127.3h0M421.0 127.0h0M422.8 127.3h0M423.9 126.6h0M425.7 127.4h0M427.5 126.5h0M429.3 127.0h0M431.5 126.5h0M432.6 126.6h0M439.8 127.2h0M441.3 127.2h0M442.6 126.6h0M444.8 126.7h0M449.8 127.3h0M451.9 126.9h0M453.5 126.8h0M457.0 126.9h0M461.8 126.5h0M463.7 126.7h0M465.0 127.2h0M467.1 126.6h0M396.2 128.3h0M397.9 128.0h0M404.6 128.5h0M406.0 127.9h0M408.4 128.4h0M409.5 128.6h0M411.2 128.1h0M413.1 128.6h0M414.8 128.2h0M416.4 128.0h0M418.0 128.1h0M420.2 128.5h0M423.4 128.1h0M425.5 128.4h0M427.0 128.7h0M428.4 128.8h0M430.1 128.1h0M431.9 128.0h0M433.9 128.1h0M435.2 128.3h0M440.5 128.8h0M442.4 128.6h0M445.8 128.0h0M447.3 128.2h0M448.6 128.1h0M452.4 128.0h0M454.2 128.2h0M455.8 128.0h0M457.2 128.1h0M460.7 128.0h0M462.7 128.3h0M464.5 128.2h0M465.8 128.4h0M467.6 128.4h0M395.0 130.3h0M396.7 129.8h0M402.5 129.7h0M404.0 129.7h0M405.6 130.2h0M407.3 130.2h0M409.2 129.5h0M411.0 130.0h0M412.7 130.0h0M414.5 129.9h0M415.7 130.1h0M417.7 129.8h0M419.3 130.1h0M421.0 129.8h0M425.7 130.2h0M427.9 129.7h0M429.0 130.3h0M431.5 129.5h0M432.4 130.0h0M434.5 129.9h0M436.1 129.4h0M437.5 129.6h0M439.7 130.2h0M441.1 129.8h0M443.0 129.8h0M444.9 129.6h0M446.3 129.6h0M448.2 130.0h0M451.9 129.4h0M453.3 129.8h0M454.7 129.9h0M456.8 129.6h0M458.0 129.7h0M459.6 129.7h0M461.3 129.6h0M463.0 130.1h0M464.8 129.6h0M466.8 129.7h0M468.5 129.7h0M470.4 130.0h0M392.9 131.6h0M394.5 131.3h0M396.6 131.3h0M398.1 131.4h0M399.2 131.3h0M401.0 131.0h0M402.8 131.5h0M404.5 131.2h0M406.6 131.4h0M408.6 130.9h0M410.0 131.4h0M411.7 131.1h0M412.9 131.4h0M415.4 131.1h0M416.3 131.6h0M418.4 131.2h0M420.1 131.3h0M422.2 131.3h0M425.3 131.1h0M426.6 131.6h0M429.0 131.2h0M432.2 131.5h0M433.5 131.2h0M435.4 130.9h0M436.9 131.7h0M438.8 131.3h0M440.3 131.3h0M442.5 131.8h0M450.5 131.7h0M452.2 131.5h0M453.6 131.0h0M455.6 131.1h0M457.4 131.6h0M458.7 131.4h0M461.1 131.2h0M463.0 131.3h0M464.1 131.7h0M465.8 131.7h0M468.0 131.3h0M469.5 131.7h0M470.8 131.6h0M391.9 133.0h0M393.3 132.5h0M397.1 132.7h0M398.5 133.0h0M400.3 133.0h0M402.3 133.1h0M405.5 132.8h0M409.2 132.9h0M410.3 132.6h0M412.8 133.2h0M414.5 132.6h0M415.8 133.1h0M417.7 132.9h0M419.0 132.4h0M421.0 133.0h0M422.3 133.2h0M424.0 132.6h0M426.4 133.1h0M427.5 133.2h0M431.1 132.6h0M432.9 132.9h0M436.2 132.7h0M437.9 133.0h0M439.2 132.9h0M441.5 132.6h0M442.9 133.2h0M444.9 133.3h0M446.7 132.5h0M447.7 132.5h0M450.1 132.9h0M451.9 132.5h0M452.8 132.8h0M454.5 132.6h0M456.3 133.3h0M458.5 133.1h0M459.7 132.9h0M461.4 132.7h0M463.7 133.0h0M464.8 133.2h0M467.0 132.6h0M468.6 132.6h0M470.5 133.2h0M471.6 132.7h0M473.2 132.7h0M388.0 134.7h0M389.6 134.3h0M391.3 133.9h0M392.5 134.5h0M397.6 134.7h0M399.9 134.3h0M401.4 134.1h0M402.7 134.3h0M404.6 134.7h0M406.8 134.5h0M408.2 134.1h0M410.1 134.6h0M411.7 134.4h0M413.1 134.3h0M415.0 134.5h0M416.7 134.0h0M418.7 134.7h0M420.1 133.9h0M422.1 134.6h0M423.8 134.0h0M425.5 134.5h0M427.1 134.1h0M430.5 134.1h0M431.9 134.5h0M435.2 134.0h0M436.8 134.6h0M438.3 134.3h0M440.4 134.4h0M442.2 134.5h0M443.6 134.3h0M447.1 134.4h0M449.2 134.5h0M450.8 134.5h0M452.5 134.0h0M453.7 134.6h0M455.4 134.1h0M457.8 134.2h0M459.0 134.2h0M460.9 134.0h0M463.9 133.9h0M467.2 134.7h0M469.7 133.9h0M471.2 134.4h0M473.0 134.0h0M386.7 135.6h0M393.4 136.1h0M397.0 135.6h0M398.7 135.6h0M400.1 135.4h0M402.4 136.1h0M404.2 136.0h0M406.0 135.6h0M407.7 136.1h0M409.0 136.1h0M410.4 135.5h0M415.7 135.6h0M422.7 136.0h0M424.1 135.7h0M425.9 136.2h0M428.0 135.8h0M431.0 136.0h0M432.8 135.5h0M434.9 135.6h0M435.9 136.2h0M437.5 136.1h0M439.3 135.4h0M443.3 135.8h0M444.8 135.7h0M446.1 135.9h0M448.4 136.2h0M450.0 136.2h0M451.4 135.4h0M453.1 135.6h0M455.0 136.2h0M456.8 135.4h0M458.1 135.9h0M460.4 135.7h0M461.5 136.2h0M466.6 135.9h0M468.2 135.8h0M470.5 135.7h0M384.4 137.5h0M385.8 137.0h0M394.4 137.5h0M397.5 137.6h0M399.7 137.0h0M401.0 137.1h0M403.5 137.1h0M404.9 137.4h0M406.3 137.6h0M408.0 136.8h0M410.0 137.7h0M411.9 137.2h0M416.6 137.0h0M418.2 137.1h0M421.9 137.5h0M423.7 136.9h0M425.0 137.6h0M428.9 137.6h0M431.7 137.4h0M433.9 137.3h0M435.8 136.9h0M437.0 137.3h0M438.6 137.5h0M444.1 137.3h0M445.7 137.5h0M447.0 137.5h0M449.3 137.0h0M451.0 137.0h0M452.8 137.6h0M454.3 137.3h0M455.9 137.0h0M457.7 137.2h0M459.5 137.0h0M462.2 137.6h0M464.7 137.6h0M465.8 137.4h0M468.1 136.9h0M381.8 139.2h0M383.7 138.8h0M388.2 139.2h0M390.7 138.6h0M393.7 138.5h0M395.7 138.9h0M396.9 138.9h0M398.9 139.1h0M400.1 139.1h0M402.5 139.0h0M403.6 138.9h0M405.4 138.6h0M406.9 138.5h0M408.6 138.5h0M411.1 138.6h0M412.4 138.7h0M414.5 138.7h0M419.2 138.9h0M421.3 138.4h0M422.6 139.1h0M424.5 139.1h0M425.9 138.9h0M428.1 138.7h0M429.0 138.3h0M431.4 138.7h0M433.1 138.8h0M434.3 138.4h0M436.4 138.5h0M439.6 139.2h0M442.8 139.1h0M444.7 138.4h0M446.6 139.2h0M450.2 138.6h0M451.1 139.1h0M452.8 139.1h0M455.1 138.9h0M456.2 138.6h0M458.6 138.4h0M460.4 139.0h0M461.4 138.7h0M463.8 138.5h0M466.8 138.7h0M379.0 140.5h0M380.9 140.4h0M382.2 140.5h0M387.8 140.5h0M389.2 140.3h0M391.1 140.4h0M393.2 140.1h0M394.3 140.4h0M396.3 140.3h0M398.3 140.4h0M400.0 140.6h0M401.1 140.4h0M402.9 140.6h0M404.8 140.4h0M406.1 140.4h0M408.0 140.0h0M409.5 139.9h0M411.3 140.4h0M413.6 139.8h0M414.9 140.0h0M418.7 140.2h0M419.8 140.3h0M421.5 139.9h0M423.6 139.9h0M425.1 140.4h0M426.5 140.4h0M428.4 140.7h0M430.4 140.6h0M431.6 139.8h0M433.8 140.5h0M435.6 139.8h0M444.1 140.2h0M445.9 140.5h0M446.8 140.1h0M449.2 140.5h0M450.5 139.9h0M452.4 140.2h0M453.6 140.5h0M456.0 139.9h0M457.7 140.3h0M461.0 139.8h0M462.5 140.4h0M379.7 141.7h0M382.1 142.1h0M383.9 142.1h0M384.9 142.1h0M389.9 141.8h0M394.0 141.6h0M395.8 142.0h0M396.7 141.4h0M398.8 141.5h0M400.7 141.5h0M402.0 141.3h0M403.9 141.4h0M405.6 142.1h0M407.0 141.4h0M409.0 141.4h0M410.6 141.4h0M412.6 142.1h0M414.5 141.3h0M417.1 141.3h0M419.5 141.8h0M420.9 141.4h0M422.3 142.1h0M424.0 142.0h0M425.7 141.6h0M427.3 141.4h0M429.3 141.6h0M431.1 141.4h0M432.4 141.9h0M434.5 141.6h0M436.5 141.7h0M437.5 141.3h0M439.3 141.7h0M441.1 141.4h0M443.1 141.7h0M444.6 141.4h0M449.5 142.1h0M451.1 142.0h0M453.1 141.3h0M455.0 141.3h0M456.8 141.5h0M458.7 142.0h0M459.7 141.9h0M462.0 142.1h0M376.1 143.3h0M377.3 143.2h0M379.1 142.9h0M381.1 143.2h0M383.1 143.6h0M386.0 143.1h0M387.9 142.8h0M391.5 143.3h0M392.6 142.7h0M394.1 142.8h0M396.2 143.5h0M398.1 143.2h0M399.7 142.9h0M401.6 143.4h0M403.3 143.1h0M404.6 142.8h0M406.1 143.5h0M408.5 143.3h0M409.8 143.6h0M413.2 143.2h0M415.3 143.0h0M416.7 142.8h0M418.2 143.0h0M420.1 143.2h0M421.5 143.4h0M423.8 142.7h0M424.9 143.5h0M428.8 143.5h0M430.7 143.5h0M432.1 143.0h0M434.0 142.9h0M434.9 143.3h0M437.0 142.8h0M438.4 143.3h0M440.5 142.8h0M442.5 143.4h0M444.3 142.9h0M445.2 143.6h0M450.4 143.3h0M452.0 142.9h0M454.2 143.4h0M457.2 143.3h0M459.0 143.2h0M461.1 142.9h0M374.8 144.9h0M376.8 144.8h0M378.8 144.4h0M380.5 144.6h0M381.4 144.3h0M388.4 144.8h0M390.5 144.2h0M391.8 144.8h0M393.9 144.9h0M395.4 144.6h0M396.7 144.5h0M398.9 144.4h0M400.3 145.0h0M404.3 144.7h0M406.0 144.3h0M407.5 144.7h0M409.2 144.6h0M410.6 144.2h0M412.1 144.7h0M413.9 145.1h0M417.6 144.7h0M419.5 144.3h0M420.5 144.5h0M422.9 144.7h0M424.3 144.5h0M425.9 144.9h0M427.8 144.7h0M429.8 145.1h0M431.3 144.7h0M432.5 145.0h0M434.7 144.7h0M436.5 144.4h0M437.5 144.5h0M439.9 144.8h0M441.5 144.6h0M442.9 144.6h0M444.4 144.2h0M446.2 144.9h0M447.8 144.8h0M449.9 144.7h0M451.2 144.6h0M452.9 144.5h0M455.1 144.6h0M456.9 144.7h0M458.3 144.6h0M459.8 145.1h0M372.9 146.2h0M374.6 146.0h0M375.7 145.9h0M377.3 146.3h0M379.0 146.2h0M381.3 146.4h0M382.9 146.3h0M384.1 146.2h0M385.6 146.1h0M388.2 146.0h0M389.0 146.0h0M391.4 145.8h0M392.9 146.0h0M394.6 146.2h0M398.2 146.5h0M399.9 146.0h0M401.4 146.4h0M404.8 146.2h0M406.8 146.3h0M408.3 146.0h0M410.0 146.0h0M411.5 145.7h0M413.0 145.8h0M415.0 146.0h0M416.7 145.9h0M418.0 146.0h0M420.3 146.5h0M421.7 146.1h0M423.9 146.3h0M424.9 146.5h0M426.6 145.9h0M428.7 146.6h0M430.4 146.3h0M432.2 146.2h0M433.9 146.1h0M435.0 145.7h0M437.2 146.2h0M438.6 146.2h0M440.0 146.6h0M442.0 145.9h0M444.0 146.2h0M445.5 146.2h0M450.4 146.5h0M451.9 146.3h0M455.4 146.0h0M457.5 146.0h0M459.0 146.2h0M460.5 145.9h0M372.9 147.5h0M375.0 147.8h0M377.1 148.0h0M378.7 147.3h0M379.7 147.2h0M381.6 148.0h0M383.3 147.6h0M385.1 147.4h0M387.2 147.6h0M388.3 147.2h0M390.7 147.4h0M391.7 148.0h0M395.1 147.9h0M397.2 147.2h0M398.9 147.5h0M400.1 147.7h0M402.5 147.8h0M404.0 147.6h0M405.7 148.0h0M407.3 147.9h0M408.8 147.4h0M410.8 147.3h0M412.6 147.8h0M414.5 147.9h0M415.5 147.9h0M417.7 148.0h0M418.8 147.4h0M421.2 147.9h0M422.5 147.9h0M423.9 147.9h0M425.8 147.3h0M427.7 147.9h0M429.5 147.2h0M431.5 147.3h0M432.7 147.9h0M434.4 147.6h0M436.6 147.3h0M438.2 147.8h0M440.0 147.4h0M441.5 147.7h0M442.9 147.7h0M445.0 147.5h0M446.3 147.3h0M449.5 147.8h0M451.7 147.6h0M453.3 147.8h0M456.4 147.2h0M458.3 147.9h0M459.7 147.4h0M370.7 149.5h0M372.8 149.3h0M374.1 149.2h0M375.6 149.0h0M377.9 149.5h0M379.1 149.1h0M381.0 148.7h0M382.8 148.8h0M384.5 148.9h0M389.4 148.9h0M390.8 148.8h0M392.6 149.4h0M394.4 148.9h0M396.1 148.6h0M397.8 149.5h0M399.7 149.4h0M401.7 149.4h0M403.3 149.0h0M404.6 149.2h0M406.3 149.3h0M408.3 148.7h0M409.6 148.7h0M411.5 148.9h0M413.7 148.7h0M415.1 148.9h0M416.6 148.7h0M418.1 149.2h0M419.6 148.7h0M422.2 149.4h0M423.2 149.3h0M425.4 148.7h0M426.7 149.5h0M428.8 148.9h0M431.6 149.2h0M434.1 148.8h0M436.7 149.5h0M438.8 148.7h0M441.8 149.0h0M443.7 149.4h0M445.8 149.1h0M447.1 149.5h0M450.4 148.9h0M452.3 148.7h0M453.7 148.8h0M456.0 149.2h0M457.6 148.8h0M459.1 149.4h0M460.4 149.4h0M370.1 150.9h0M374.8 150.5h0M376.6 150.3h0M378.7 150.8h0M379.8 150.1h0M381.6 150.3h0M388.7 150.8h0M390.6 150.3h0M391.8 150.7h0M393.7 150.9h0M395.3 150.6h0M396.9 150.6h0M398.7 151.0h0M400.6 150.3h0M402.0 150.7h0M403.6 150.6h0M410.8 150.3h0M412.0 150.6h0M414.4 150.9h0M415.6 150.8h0M417.3 150.5h0M419.3 150.2h0M421.3 150.4h0M422.7 150.2h0M424.0 150.7h0M429.4 150.9h0M432.8 150.5h0M436.1 150.6h0M438.2 150.8h0M441.5 150.2h0M443.4 150.4h0M444.3 150.3h0M446.6 150.7h0M448.5 150.3h0M449.5 150.2h0M451.7 150.2h0M453.6 150.4h0M454.7 151.0h0M456.7 150.9h0M457.9 150.5h0M460.1 151.0h0M369.4 152.3h0M370.5 151.6h0M372.4 152.0h0M374.3 151.9h0M377.8 152.1h0M379.6 152.1h0M380.5 151.7h0M382.9 152.2h0M384.6 152.0h0M389.5 152.0h0M390.8 151.9h0M392.6 152.0h0M394.5 151.7h0M396.6 152.1h0M398.4 152.0h0M399.8 152.4h0M401.8 152.3h0M403.2 152.4h0M404.3 152.5h0M408.6 152.1h0M409.8 152.0h0M411.7 151.7h0M413.4 152.3h0M415.3 151.7h0M416.9 152.3h0M418.6 151.9h0M420.3 151.8h0M421.5 151.6h0M423.8 152.0h0M425.1 151.9h0M427.1 152.4h0M428.9 152.3h0M430.1 151.9h0M431.9 152.5h0M433.4 151.9h0M435.1 151.7h0M436.8 152.0h0M438.9 152.5h0M440.5 152.1h0M441.9 152.0h0M443.6 152.0h0M445.4 152.2h0M447.4 152.4h0M450.7 152.2h0M452.2 152.1h0M453.9 152.4h0M455.8 151.9h0M457.9 151.7h0M459.2 152.3h0M369.8 153.9h0M371.3 153.7h0M373.4 153.2h0M376.4 153.1h0M378.0 153.7h0M380.4 153.1h0M381.4 153.8h0M383.3 153.1h0M385.0 153.3h0M386.7 153.6h0M388.5 153.2h0M390.5 153.4h0M391.9 153.9h0M393.8 153.5h0M395.8 154.0h0M396.9 153.9h0M398.9 154.0h0M400.7 153.5h0M402.5 153.3h0M404.1 153.3h0M405.2 154.0h0M407.4 153.8h0M409.2 153.9h0M411.0 153.6h0M412.6 153.9h0M414.5 153.1h0M415.9 153.9h0M417.9 153.2h0M419.5 153.8h0M421.2 153.3h0M422.8 153.2h0M424.7 153.9h0M426.4 153.4h0M427.7 153.8h0M429.1 153.5h0M430.9 153.7h0M432.9 153.9h0M434.2 153.9h0M436.6 153.2h0M437.5 153.8h0M439.7 153.7h0M441.6 153.1h0M442.7 153.6h0M444.9 153.9h0M446.1 153.9h0M451.8 153.4h0M453.3 153.3h0M455.2 153.7h0M456.8 153.9h0M458.0 153.5h0M460.2 153.2h0M367.8 155.3h0M369.3 155.5h0M371.0 154.6h0M373.9 155.0h0M375.5 155.4h0M377.1 154.7h0M379.2 154.7h0M381.3 155.1h0M382.9 155.4h0M383.9 154.7h0M385.8 155.2h0M387.5 154.6h0M389.1 155.4h0M390.8 154.8h0M392.7 154.6h0M394.3 155.0h0M395.9 154.6h0M398.2 155.0h0M399.4 154.9h0M400.9 154.7h0M404.8 155.1h0M406.6 155.2h0M408.1 154.6h0M409.5 155.0h0M411.8 154.7h0M413.5 155.3h0M415.0 155.2h0M416.9 154.9h0M418.5 154.8h0M420.1 155.0h0M422.2 154.6h0M423.3 154.7h0M425.5 155.0h0M426.7 155.3h0M428.8 154.6h0M430.7 154.9h0M432.4 155.0h0M433.8 154.8h0M435.7 154.7h0M437.3 155.3h0M438.5 155.2h0M440.5 155.2h0M441.9 154.8h0M443.6 155.3h0M446.0 154.9h0M447.5 154.6h0M450.7 154.9h0M452.1 154.8h0M454.2 155.2h0M456.0 154.7h0M457.5 154.8h0M458.8 154.6h0M371.2 156.5h0M373.4 156.3h0M374.7 156.3h0M377.0 156.9h0M378.1 156.5h0M380.1 156.9h0M383.6 156.2h0M385.3 156.4h0M390.7 156.6h0M392.4 156.8h0M393.9 156.9h0M395.5 156.2h0M397.2 156.7h0M399.1 156.4h0M400.6 156.3h0M401.8 156.1h0M404.0 156.3h0M405.3 156.3h0M407.2 156.4h0M409.1 156.4h0M410.5 156.4h0M412.8 156.7h0M414.1 156.4h0M415.4 156.5h0M417.8 156.6h0M419.0 156.5h0M421.2 156.3h0M422.5 156.5h0M424.3 156.4h0M426.1 156.2h0M427.5 156.8h0M429.0 156.8h0M432.8 156.7h0M434.1 156.2h0M435.9 156.9h0M438.1 156.2h0M439.7 156.7h0M441.6 156.6h0M442.8 156.8h0M444.7 156.9h0M446.3 156.1h0M447.8 156.6h0M449.6 156.4h0M451.4 156.5h0M452.8 156.3h0M454.8 156.2h0M456.2 156.7h0M458.3 156.2h0M459.6 156.5h0M367.6 157.7h0M368.8 157.8h0M370.7 157.6h0M372.7 158.3h0M374.2 158.3h0M376.3 157.8h0M377.9 158.3h0M378.8 158.3h0M382.4 157.8h0M391.4 158.4h0M392.7 158.2h0M394.7 158.0h0M396.2 158.2h0M397.6 158.3h0M399.3 157.8h0M401.2 157.9h0M402.8 157.7h0M404.4 158.2h0M406.5 158.1h0M408.5 157.8h0M410.1 157.6h0M411.5 157.7h0M413.5 157.7h0M415.0 157.6h0M416.9 158.4h0M418.6 158.2h0M420.2 158.1h0M422.0 158.2h0M423.5 157.6h0M425.4 157.9h0M426.6 157.7h0M428.7 157.8h0M432.0 157.6h0M434.0 157.9h0M435.0 158.3h0M436.8 158.4h0M438.8 158.2h0M440.5 158.4h0M441.8 157.6h0M443.8 157.9h0M445.9 157.7h0M447.5 157.7h0M449.4 158.2h0M450.9 157.7h0M452.2 157.7h0M454.1 157.6h0M455.4 158.0h0M457.9 157.7h0M459.1 158.2h0M369.8 159.8h0M372.9 159.4h0M374.7 159.4h0M376.5 159.0h0M378.8 159.3h0M380.5 159.5h0M382.0 159.4h0M383.9 159.0h0M385.6 159.6h0M387.1 159.2h0M388.4 159.3h0M390.6 159.2h0M394.0 159.7h0M395.5 159.7h0M396.8 159.7h0M398.4 159.3h0M400.6 159.9h0M402.5 159.5h0M404.1 159.8h0M405.4 159.7h0M407.0 159.6h0M408.6 159.3h0M410.9 159.3h0M412.5 159.8h0M413.8 159.4h0M415.8 159.6h0M417.2 159.6h0M419.0 159.5h0M420.5 159.2h0M422.9 159.7h0M424.5 159.1h0M425.6 159.6h0M427.3 159.3h0M429.3 159.0h0M431.4 159.6h0M433.0 159.7h0M434.2 159.5h0M436.0 159.0h0M438.2 159.1h0M440.0 159.5h0M441.6 159.2h0M442.7 159.8h0M444.7 159.1h0M446.1 159.4h0M447.8 159.1h0M449.4 159.6h0M451.5 159.3h0M453.1 159.0h0M455.0 159.1h0M456.3 159.7h0M458.5 159.3h0M367.6 160.7h0M372.6 160.9h0M373.8 160.6h0M375.7 160.9h0M377.7 161.0h0M379.1 161.3h0M380.6 160.5h0M382.5 161.1h0M384.1 161.0h0M385.9 160.9h0M387.4 160.8h0M389.2 160.6h0M395.0 161.1h0M396.2 161.0h0M397.9 160.8h0M399.5 160.9h0M402.8 161.2h0M404.8 161.1h0M406.5 161.3h0M408.6 160.9h0M410.2 161.1h0M411.4 160.5h0M413.5 161.0h0M415.0 161.2h0M416.7 160.7h0M418.6 160.6h0M420.1 161.2h0M421.9 160.9h0M423.2 160.8h0M424.9 161.3h0M428.6 160.9h0M430.1 160.8h0M431.8 160.8h0M433.9 160.5h0M435.5 161.0h0M436.9 160.9h0M438.8 161.2h0M440.1 161.3h0M442.4 161.1h0M447.3 160.5h0M449.4 161.0h0M452.3 160.8h0M454.4 161.0h0M456.0 161.0h0M457.3 161.0h0M458.7 160.6h0M368.1 162.7h0M373.1 162.0h0M375.0 162.6h0M376.3 162.8h0M378.1 162.5h0M380.3 162.5h0M381.7 162.2h0M383.6 162.6h0M385.5 162.3h0M387.3 162.2h0M388.3 162.4h0M390.1 162.3h0M392.1 162.6h0M393.6 162.3h0M395.7 162.8h0M397.4 162.6h0M398.8 162.0h0M400.2 162.3h0M402.0 162.7h0M403.6 162.7h0M405.2 162.4h0M407.0 162.2h0M411.1 162.3h0M412.6 162.3h0M413.8 162.1h0M415.6 162.7h0M417.8 162.3h0M419.1 162.8h0M420.7 162.2h0M422.4 162.1h0M424.6 162.4h0M427.6 162.1h0M429.5 162.1h0M431.2 162.1h0M432.6 162.7h0M434.9 162.3h0M435.9 162.4h0M438.2 162.6h0M439.2 162.4h0M441.2 162.2h0M443.1 162.1h0M444.7 162.2h0M446.8 162.4h0M447.8 162.0h0M450.2 162.1h0M455.1 162.3h0M457.0 162.8h0M458.5 162.1h0M368.8 164.3h0M371.2 164.1h0M372.3 164.0h0M374.1 163.7h0M375.9 163.8h0M377.8 163.6h0M378.8 164.3h0M380.7 163.8h0M382.9 163.9h0M384.1 164.0h0M385.9 164.2h0M388.2 163.6h0M389.6 163.7h0M391.1 163.6h0M393.2 164.2h0M394.9 163.7h0M396.2 163.7h0M398.1 163.9h0M399.3 164.0h0M401.0 163.7h0M403.2 163.7h0M404.9 164.2h0M406.4 163.8h0M408.2 164.0h0M409.5 163.6h0M414.6 163.9h0M416.4 164.0h0M418.6 163.9h0M419.8 163.4h0M421.8 164.3h0M423.6 164.1h0M425.1 164.1h0M427.0 164.0h0M428.5 163.7h0M430.2 163.6h0M431.9 164.3h0M433.3 163.9h0M435.6 163.5h0M437.4 163.6h0M438.8 164.3h0M440.1 163.8h0M442.2 163.8h0M450.8 163.8h0M452.1 163.9h0M453.7 163.6h0M457.5 163.4h0M368.4 165.3h0M369.5 165.6h0M371.9 165.2h0M373.3 165.6h0M374.7 165.0h0M376.7 165.1h0M378.7 165.2h0M379.8 165.6h0M382.2 165.5h0M383.7 165.6h0M384.8 165.0h0M386.8 165.7h0M388.7 165.4h0M390.1 165.0h0M392.3 165.7h0M393.6 165.2h0M395.7 165.4h0M397.4 165.3h0M398.8 165.2h0M400.5 165.7h0M402.1 165.4h0M404.0 165.3h0M405.3 165.2h0M406.9 165.4h0M408.9 165.1h0M412.0 165.7h0M415.6 165.8h0M417.8 165.0h0M419.5 165.7h0M420.9 165.6h0M422.6 165.3h0M424.3 165.0h0M431.5 165.0h0M433.2 165.3h0M434.6 165.3h0M436.1 165.7h0M437.6 165.5h0M439.8 165.7h0M440.9 164.9h0M443.2 165.7h0M444.6 164.9h0M456.4 165.5h0M372.3 167.2h0M373.8 167.2h0M375.7 166.6h0M377.4 166.9h0M379.4 167.2h0M381.4 166.5h0M382.5 167.0h0M384.7 166.9h0M386.3 167.1h0M391.4 166.4h0M394.5 166.7h0M396.5 166.7h0M398.1 166.4h0M400.1 166.9h0M401.0 166.6h0M402.6 166.5h0M404.8 166.9h0M406.8 167.3h0M407.8 166.6h0M412.0 166.9h0M414.6 166.7h0M418.0 166.7h0M419.7 167.0h0M421.6 167.0h0M423.9 167.0h0M424.9 166.4h0M426.9 166.9h0M428.2 166.9h0M430.0 167.1h0M431.7 166.7h0M433.9 166.9h0M435.3 166.6h0M436.8 166.4h0M438.5 166.6h0M440.4 167.0h0M442.0 166.7h0M444.1 166.5h0M445.5 167.1h0M447.4 167.0h0M448.7 167.0h0M455.6 166.7h0M457.6 167.1h0M373.4 168.0h0M375.1 168.2h0M377.0 168.1h0M378.7 168.7h0M380.2 168.2h0M382.2 168.2h0M383.4 168.2h0M395.6 168.0h0M396.9 168.4h0M398.4 168.3h0M400.8 168.3h0M403.9 168.1h0M415.7 167.9h0M417.2 168.3h0M418.9 168.6h0M420.8 168.7h0M422.5 168.3h0M424.0 168.2h0M426.0 168.5h0M427.7 168.7h0M429.6 168.4h0M430.7 168.3h0M432.6 168.2h0M434.7 168.1h0M436.2 168.4h0M437.7 168.7h0M439.3 168.1h0M441.4 167.9h0M442.7 168.5h0M445.1 168.1h0M446.3 168.1h0M448.1 168.3h0M450.0 168.0h0M451.9 168.5h0M455.2 168.1h0M377.8 169.8h0M379.0 169.4h0M381.3 170.1h0M382.5 169.8h0M384.7 169.4h0M385.9 169.8h0M388.0 169.9h0M389.1 170.1h0M391.4 170.1h0M392.7 169.5h0M396.0 169.5h0M398.3 170.2h0M399.9 169.7h0M401.4 169.6h0M403.4 170.0h0M408.2 169.8h0M410.1 169.4h0M415.3 170.0h0M418.6 170.0h0M420.5 169.6h0M421.4 169.6h0M423.7 169.8h0M424.9 169.4h0M427.2 169.6h0M428.7 170.0h0M430.2 169.5h0M431.8 169.6h0M433.7 169.6h0M435.5 169.7h0M436.9 169.9h0M439.0 170.1h0M440.4 169.5h0M441.8 170.2h0M444.2 169.9h0M445.7 169.4h0M454.1 169.8h0M455.7 169.6h0M385.1 171.1h0M386.9 170.9h0M388.9 171.4h0M390.0 171.6h0M392.1 171.1h0M393.9 171.0h0M398.6 171.3h0M400.1 171.1h0M402.2 171.7h0M403.7 171.6h0M407.6 171.6h0M408.7 171.0h0M410.5 171.2h0M412.0 171.4h0M415.6 171.2h0M417.2 170.9h0M419.4 171.4h0M420.6 170.8h0M422.2 171.1h0M424.6 170.8h0M425.8 171.6h0M427.3 170.9h0M429.1 171.2h0M431.3 171.4h0M432.5 171.0h0M434.9 170.9h0M436.3 171.3h0M437.5 171.4h0M439.7 170.9h0M440.9 170.9h0M442.8 170.9h0M444.9 171.3h0M446.3 171.0h0M447.8 170.9h0M449.5 171.5h0M451.6 171.0h0M453.5 170.9h0M455.2 171.2h0M388.1 172.5h0M389.5 173.2h0M391.2 172.4h0M393.3 173.0h0M394.3 172.9h0M397.8 172.9h0M399.9 172.3h0M401.8 172.7h0M403.1 172.8h0M404.6 172.6h0M407.8 172.5h0M409.5 172.4h0M411.8 172.4h0M413.1 172.4h0M415.3 173.1h0M418.7 173.1h0M420.2 172.9h0M421.4 172.9h0M423.1 172.8h0M425.1 173.1h0M426.4 172.9h0M428.5 172.9h0M430.1 172.4h0M432.3 173.2h0M434.0 172.7h0M435.5 172.7h0M437.4 172.6h0M439.1 172.6h0M440.6 172.7h0M441.7 172.6h0M443.9 172.4h0M446.0 172.7h0M447.3 172.4h0M448.9 173.2h0M450.9 173.1h0M453.7 173.0h0M455.5 172.7h0M389.9 174.4h0M392.3 174.0h0M393.5 174.6h0M397.2 174.2h0M400.8 174.3h0M402.0 173.8h0M403.7 174.6h0M405.3 174.5h0M407.7 174.3h0M409.1 173.9h0M410.8 174.4h0M412.2 174.0h0M414.3 174.0h0M417.4 174.2h0M419.0 174.1h0M420.5 173.8h0M422.9 174.4h0M424.7 173.8h0M425.8 174.6h0M427.4 174.5h0M433.1 174.0h0M434.8 174.3h0M436.3 174.2h0M438.2 174.7h0M439.3 174.1h0M441.7 173.9h0M443.1 174.1h0M444.8 173.8h0M446.5 174.4h0M448.3 174.0h0M450.0 174.7h0M451.6 174.2h0M453.4 174.3h0M389.8 175.4h0M391.5 176.0h0M392.7 175.4h0M394.9 176.0h0M395.9 175.5h0M397.9 176.1h0M401.0 175.6h0M403.3 175.7h0M405.0 175.7h0M406.2 175.4h0M408.3 175.5h0M410.1 175.9h0M411.8 176.0h0M413.5 175.5h0M416.9 175.4h0M418.3 175.9h0M420.2 175.7h0M421.6 175.5h0M423.5 175.7h0M425.0 175.9h0M427.2 176.0h0M428.8 175.6h0M429.8 176.1h0M432.1 175.7h0M433.9 175.6h0M435.7 175.5h0M437.2 175.8h0M438.3 175.3h0M440.4 175.6h0M442.0 175.6h0M443.6 175.5h0M445.6 175.7h0M447.2 175.3h0M448.7 175.6h0M450.3 175.8h0M452.4 175.7h0M391.6 177.5h0M393.5 177.2h0M395.3 177.0h0M396.8 177.4h0M399.2 177.1h0M400.4 176.8h0M402.0 176.8h0M404.1 177.1h0M405.8 176.8h0M407.2 177.3h0M408.6 177.4h0M410.7 177.1h0M412.5 177.1h0M413.7 177.1h0M416.0 177.5h0M417.4 177.5h0M419.3 176.9h0M421.0 177.5h0M422.5 177.3h0M424.0 177.6h0M426.2 176.8h0M428.1 177.5h0M429.0 176.9h0M430.8 177.1h0M432.6 177.6h0M434.8 177.2h0M436.6 177.1h0M438.1 177.1h0M439.6 176.8h0M440.9 177.2h0M443.1 176.9h0M444.6 176.9h0M446.6 177.6h0M448.4 177.3h0M449.6 177.2h0M451.1 176.7h0M394.4 178.9h0M396.3 179.0h0M397.9 179.0h0M399.6 178.4h0M403.1 178.8h0M405.1 178.7h0M406.2 178.5h0M408.1 178.9h0M410.1 178.5h0M411.4 178.9h0M412.9 178.5h0M414.9 178.3h0M416.2 178.3h0M417.9 178.3h0M420.0 178.9h0M421.6 178.6h0M423.1 178.8h0M425.1 178.5h0M427.2 178.7h0M428.3 178.5h0M430.5 178.9h0M432.1 179.1h0M434.1 178.5h0M437.1 178.2h0M439.0 179.0h0M443.7 178.3h0M445.8 178.6h0M447.4 178.7h0M448.7 178.4h0M450.5 178.9h0M398.5 179.9h0M404.3 179.8h0M405.5 179.9h0M407.0 180.5h0M409.2 179.8h0M411.1 180.5h0M412.8 180.2h0M414.4 179.7h0M415.7 180.4h0M417.8 179.8h0M419.5 180.4h0M421.3 180.1h0M422.9 180.4h0M424.3 180.0h0M425.9 180.6h0M428.1 180.6h0M429.8 180.0h0M431.1 180.0h0M433.1 180.2h0M434.9 180.3h0M435.9 179.8h0M449.5 180.4h0M405.1 181.2h0M415.3 181.2h0M416.7 181.3h0M418.4 181.5h0M419.7 181.7h0M421.8 181.7h0M423.7 181.9h0M424.9 182.0h0M426.6 181.8h0M428.1 181.5h0M430.6 181.4h0M431.8 181.2h0M419.4 182.8h0M420.9 182.7h0M422.8 182.8h0M424.4 183.4h0M425.4 184.5h0M449.2 177.3h0M466.0 136.4h0M427.6 181.9h0M450.7 178.9h0M385.0 171.3h0M437.3 109.5h0M375.2 141.8h0M475.7 134.1h0M397.5 180.4h0M444.5 179.3h0M383.2 134.9h0M398.4 123.7h0M365.5 156.3h0M458.6 168.0h0M437.8 178.3h0M467.4 127.4h0M455.4 174.6h0M434.3 178.1h0M395.1 125.5h0M374.1 171.3h0M409.9 183.0h0M470.8 135.8h0M445.3 108.0h0M452.2 181.0h0M412.6 114.1h0M390.3 136.0h0M458.6 169.5h0M468.7 139.1h0M369.8 166.1h0M384.1 174.1h0M386.6 173.9h0M399.1 122.2h0M398.9 180.2h0M368.8 166.6h0M435.2 181.2h0M456.9 172.3h0M371.3 149.6h0M392.9 132.1h0M444.4 180.1h0M369.3 159.8h0M394.3 175.9h0M371.3 148.3h0M457.5 168.6h0M397.7 125.7h0M368.0 148.6h0M445.3 179.9h0M370.5 164.3h0M445.3 182.1h0M392.2 174.8h0M369.6 162.2h0M429.1 181.5h0M438.8 105.6h0M439.0 182.3h0M430.5 106.4h0M369.6 166.0h0M466.6 128.2h0M400.9 124.3h0M463.4 149.9h0M470.0 128.7h0M461.8 145.4h0M415.2 82.8h0M416.1 83.0h0M418.3 83.1h0M419.8 83.4h0M412.5 84.4h0M414.1 84.6h0M415.6 84.1h0M417.2 84.5h0M418.8 84.4h0M420.9 84.1h0M411.9 85.9h0M413.5 85.8h0M414.7 85.8h0M416.9 85.5h0M418.3 86.3h0M419.6 86.3h0M421.5 85.8h0M408.6 87.6h0M410.8 87.3h0M412.2 87.0h0M413.6 87.3h0M415.9 87.8h0M417.4 87.4h0M419.2 87.3h0M421.1 87.4h0M422.1 87.3h0M407.8 88.5h0M409.8 89.0h0M411.8 89.0h0M413.4 89.1h0M414.9 88.8h0M416.9 89.2h0M418.6 89.0h0M407.3 90.2h0M409.0 90.6h0M411.0 90.8h0M411.9 90.0h0M414.0 90.5h0M415.5 90.3h0M417.4 90.6h0M406.2 91.9h0M408.2 91.5h0M409.9 92.2h0M411.3 91.7h0M413.1 91.6h0M414.6 91.5h0M416.8 91.6h0M405.7 93.6h0M407.1 93.6h0M408.9 93.3h0M410.7 93.3h0M412.6 93.6h0M414.1 93.4h0M416.1 92.9h0M408.5 95.0h0M410.0 94.9h0M411.3 94.4h0M412.8 95.0h0M407.0 96.4h0M409.3 96.7h0M410.6 96.7h0M412.4 96.6h0M410.0 97.5h0M410.8 85.8h0M414.3 96.5h0M408.4 99.6h0M423.4 85.4h0M422.8 87.0h0M423.5 84.6h0M406.5 97.1h0M403.9 92.4h0M424.3 80.3h0M460.3 63.6h0M462.3 63.6h0M458.1 64.4h0M459.5 64.9h0M460.7 64.7h0M463.0 64.6h0M453.8 66.4h0M455.0 66.1h0M456.7 65.8h0M458.6 66.3h0M460.0 65.9h0M461.6 65.8h0M450.6 68.1h0M454.6 67.6h0M456.2 67.7h0M457.6 67.2h0M459.2 68.0h0M461.5 67.4h0M463.2 67.2h0M450.5 68.9h0M451.8 69.1h0M453.9 69.5h0M455.5 69.1h0M457.2 69.0h0M458.5 69.4h0M460.3 69.5h0M461.7 69.3h0M463.7 69.1h0M449.4 70.7h0M450.6 70.8h0M452.2 70.7h0M454.0 70.8h0M455.6 70.7h0M457.9 70.3h0M459.4 70.9h0M461.4 70.6h0M462.4 70.8h0M450.2 72.5h0M452.0 72.4h0M453.5 72.1h0M454.9 72.3h0M457.1 72.5h0M458.8 71.7h0M460.3 72.2h0M461.9 72.5h0M447.7 73.1h0M449.5 73.3h0M451.0 73.1h0M452.7 73.8h0M454.3 73.5h0M456.0 73.7h0M457.5 73.2h0M459.6 73.9h0M460.9 73.3h0M448.7 75.3h0M449.7 74.7h0M452.1 75.5h0M453.3 75.3h0M455.0 74.8h0M457.1 75.4h0M459.0 74.9h0M447.3 76.8h0M448.8 76.9h0M451.2 76.7h0M452.3 76.5h0M454.1 76.8h0M455.8 76.8h0M446.8 77.6h0M448.8 77.9h0M449.7 78.1h0M451.6 78.4h0M453.4 78.1h0M455.0 78.2h0M447.7 79.2h0M449.7 79.2h0M450.8 79.3h0M454.2 79.2h0M448.7 81.1h0M450.1 80.6h0M463.4 64.1h0M450.0 67.7h0M450.5 68.3h0M463.3 65.2h0M451.8 82.2h0M462.3 69.7h0M451.2 68.5h0M453.7 65.0h0M463.3 72.8h0M484.7 45.0h0M488.3 45.0h0M489.2 44.9h0M491.2 45.1h0M481.6 46.1h0M484.0 46.0h0M487.4 45.9h0M488.5 46.3h0M490.8 46.1h0M492.1 46.1h0M493.7 46.2h0M478.0 48.1h0M479.3 48.0h0M481.0 48.2h0M482.7 47.4h0M484.3 47.3h0M486.2 47.6h0M487.5 47.9h0M489.7 48.2h0M491.0 47.8h0M493.1 47.4h0M494.5 47.6h0M496.5 48.1h0M497.8 47.6h0M479.0 49.3h0M479.9 49.1h0M481.6 49.6h0M483.5 49.0h0M485.7 49.3h0M487.4 48.9h0M488.4 48.9h0M490.0 48.9h0M492.3 48.9h0M494.1 48.9h0M495.7 49.3h0M496.9 49.6h0M481.3 50.7h0M483.1 50.6h0M484.1 51.1h0M486.2 50.7h0M488.1 51.1h0M489.4 50.7h0M491.1 50.5h0M493.1 50.5h0M495.0 51.0h0M496.4 50.7h0M479.9 51.9h0M481.7 51.9h0M484.1 51.8h0M485.4 52.3h0M487.4 52.2h0M489.0 52.3h0M490.6 51.8h0M491.7 51.9h0M494.1 52.1h0M495.1 52.6h0M497.0 52.1h0M479.8 53.9h0M480.8 54.1h0M482.5 53.6h0M484.8 53.5h0M486.1 53.6h0M487.6 53.6h0M489.3 53.3h0M490.9 53.6h0M493.2 53.3h0M495.1 53.8h0M496.0 53.7h0M498.4 53.6h0M483.3 55.3h0M485.1 55.1h0M487.4 55.1h0M488.8 55.5h0M490.8 54.9h0M491.9 54.7h0M494.1 55.4h0M495.3 55.0h0M497.0 54.8h0M499.0 54.9h0M482.7 56.6h0M484.3 56.5h0M485.8 56.3h0M487.8 56.8h0M489.2 56.3h0M491.7 56.6h0M492.7 56.6h0M494.6 56.7h0M496.6 56.7h0M498.0 56.5h0M499.6 56.4h0M485.2 58.3h0M486.6 58.0h0M488.6 57.7h0M490.3 58.0h0M491.8 58.2h0M494.2 58.0h0M495.5 58.5h0M497.3 58.2h0M498.6 57.7h0M487.6 59.4h0M489.2 59.3h0M491.2 59.8h0M493.3 59.4h0M494.9 59.4h0M496.6 59.4h0M498.3 59.3h0M488.6 61.1h0M492.4 60.9h0M494.0 60.7h0M495.4 61.0h0M497.3 61.4h0M498.8 61.3h0M493.4 62.3h0M495.1 62.1h0M496.2 62.8h0M498.3 62.4h0M493.9 64.3h0M495.3 64.1h0M497.6 64.0h0M482.9 55.9h0M478.7 47.2h0M492.2 45.0h0M485.7 46.2h0M476.9 50.2h0M483.4 57.2h0M498.4 51.6h0M480.4 48.2h0M496.4 47.2h0M497.9 63.7h0M494.8 64.9h0M485.6 77.0h0M482.9 78.2h0M485.0 78.5h0M485.9 78.6h0M488.1 78.1h0M493.2 78.2h0M480.3 79.3h0M481.8 79.7h0M483.9 79.8h0M485.3 79.6h0M486.8 80.1h0M489.1 79.4h0M490.3 79.3h0M492.1 80.1h0M493.6 79.4h0M479.2 81.5h0M481.6 81.1h0M483.1 81.1h0M484.4 81.4h0M485.8 81.0h0M488.1 81.0h0M489.9 81.2h0M491.5 81.4h0M492.9 80.8h0M495.1 80.8h0M480.6 82.5h0M482.2 82.6h0M483.7 82.9h0M485.7 82.9h0M486.7 82.8h0M489.1 82.5h0M490.2 82.5h0M491.8 82.9h0M493.7 82.9h0M495.2 82.2h0M497.0 82.2h0M499.2 82.4h0M481.1 84.0h0M482.8 84.0h0M484.1 84.3h0M485.9 84.2h0M487.7 84.5h0M489.9 84.4h0M490.9 83.8h0M492.9 83.9h0M494.9 83.8h0M496.6 84.1h0M498.1 84.5h0M499.8 84.1h0M482.2 85.9h0M483.5 85.3h0M485.0 85.2h0M486.9 85.3h0M489.0 85.9h0M490.2 85.5h0M492.3 85.5h0M494.0 85.8h0M495.6 85.1h0M497.7 85.7h0M498.8 85.8h0M500.6 85.7h0M502.1 86.0h0M480.7 87.2h0M482.9 87.1h0M485.0 87.5h0M486.1 87.0h0M487.7 86.9h0M489.7 87.0h0M490.9 87.1h0M492.7 87.4h0M494.5 87.1h0M496.2 87.2h0M497.9 87.2h0M500.1 87.2h0M501.4 87.2h0M503.4 87.4h0M481.8 88.4h0M484.0 88.2h0M485.7 88.4h0M487.4 88.5h0M488.9 88.4h0M490.8 88.2h0M491.9 88.4h0M493.9 88.1h0M495.3 88.5h0M497.3 88.9h0M499.0 88.4h0M501.1 88.3h0M502.3 88.7h0M482.5 90.0h0M484.5 90.5h0M486.7 90.1h0M488.4 90.0h0M489.4 89.9h0M490.9 90.1h0M492.8 90.0h0M494.9 89.9h0M496.5 89.8h0M498.0 89.9h0M499.8 90.4h0M501.4 89.8h0M485.5 91.6h0M487.5 91.6h0M488.6 91.6h0M490.6 91.6h0M492.5 91.5h0M493.5 91.6h0M495.2 91.2h0M497.4 91.6h0M489.8 92.6h0M491.4 92.6h0M493.1 92.6h0M503.1 86.8h0M478.8 79.8h0M489.5 78.7h0M503.5 85.8h0M479.2 82.6h0M500.9 89.2h0M502.3 84.9h0M482.4 91.0h0M501.8 85.0h0M491.7 76.8h0M504.5 88.7h0M465.3 93.9h0M467.3 93.5h0M462.5 94.7h0M464.7 94.9h0M466.4 95.3h0M468.4 95.3h0M469.4 95.6h0M461.8 97.0h0M463.9 96.4h0M465.7 96.3h0M467.3 96.5h0M468.5 96.8h0M470.8 96.3h0M461.6 98.0h0M464.9 98.3h0M466.2 97.8h0M467.7 98.0h0M469.7 97.9h0M471.0 97.9h0M462.3 100.0h0M464.1 99.2h0M465.0 99.6h0M467.2 99.8h0M469.0 99.3h0M470.4 99.4h0M472.0 99.4h0M462.7 101.0h0M464.9 101.4h0M466.2 101.1h0M468.1 100.8h0M469.7 100.6h0M471.6 100.9h0M463.4 102.3h0M465.9 102.5h0M467.0 102.7h0M468.8 102.5h0M470.2 102.5h0M472.5 102.8h0M464.2 103.8h0M466.5 103.8h0M468.2 103.9h0M469.4 103.7h0M471.2 104.1h0M473.5 103.6h0M465.1 105.8h0M467.6 105.4h0M469.1 105.8h0M470.3 105.9h0M472.1 105.4h0M462.8 106.7h0M464.7 107.1h0M465.9 106.7h0M467.6 107.4h0M469.4 106.6h0M471.2 107.3h0M465.0 108.2h0M467.2 108.4h0M468.8 108.3h0M470.4 108.7h0M464.9 110.4h0M466.7 109.9h0M467.6 109.8h0M469.7 110.3h0M471.0 110.1h0M472.9 110.2h0M465.9 111.2h0M467.5 111.1h0M469.3 111.8h0M470.3 111.5h0M466.5 113.1h0M467.7 112.5h0M469.8 113.1h0M471.7 113.0h0M467.4 113.9h0M468.5 114.7h0M470.5 114.8h0M468.1 115.4h0M469.4 116.2h0M466.9 117.2h0M468.5 117.1h0M470.5 117.4h0M463.7 108.4h0M468.9 92.8h0M460.8 101.7h0M472.7 104.7h0M470.9 94.1h0M474.8 103.4h0M473.2 113.4h0M462.5 108.3h0M468.8 93.6h0M467.9 93.1h0M541.5 59.9h0M543.0 59.8h0M545.3 59.9h0M546.4 60.0h0M540.7 61.6h0M542.2 61.1h0M544.2 61.1h0M545.7 61.6h0M547.4 61.1h0M549.3 60.9h0M541.8 62.4h0M543.3 62.6h0M544.5 62.9h0M546.3 62.5h0M548.3 62.9h0M549.6 62.5h0M540.6 64.3h0M542.8 64.4h0M543.9 64.3h0M546.1 64.3h0M547.7 64.4h0M549.4 64.7h0M550.7 64.0h0M552.8 63.9h0M541.3 65.7h0M542.8 66.0h0M544.9 66.1h0M546.5 65.6h0M548.6 65.8h0M550.4 65.8h0M552.1 65.9h0M553.1 66.2h0M541.0 67.2h0M542.0 67.5h0M544.3 67.7h0M546.0 67.6h0M547.5 67.2h0M549.3 66.8h0M551.0 67.4h0M553.0 67.0h0M554.5 67.3h0M543.5 68.3h0M544.8 68.5h0M546.2 68.7h0M548.2 68.7h0M550.3 68.5h0M551.4 68.5h0M553.1 69.1h0M555.6 69.2h0M543.8 70.6h0M545.7 69.9h0M547.9 69.8h0M549.6 69.8h0M550.9 70.1h0M552.7 70.3h0M553.9 70.6h0M555.7 70.4h0M545.3 71.9h0M546.2 71.5h0M548.1 71.6h0M550.1 71.9h0M552.1 71.7h0M553.5 72.0h0M555.3 71.9h0M546.1 73.4h0M547.2 72.8h0M549.6 72.8h0M550.9 73.5h0M552.5 72.8h0M554.6 73.1h0M555.7 72.8h0M546.8 74.3h0M549.9 75.0h0M551.8 74.6h0M553.5 74.9h0M555.3 75.0h0M550.8 76.5h0M552.8 76.3h0M541.5 65.0h0M541.0 57.7h0M543.1 57.1h0M555.3 73.3h0M547.8 76.8h0M551.1 62.1h0M555.7 63.8h0M543.4 71.3h0M556.6 70.1h0M527.5 82.8h0M529.9 83.0h0M530.9 83.4h0M533.0 82.7h0M526.8 84.1h0M528.2 84.9h0M530.6 84.6h0M532.3 84.2h0M533.6 84.0h0M535.7 84.8h0M524.2 86.2h0M526.2 85.9h0M528.0 86.3h0M529.5 86.2h0M531.3 86.1h0M533.3 85.8h0M534.4 86.3h0M526.5 87.8h0M529.0 87.8h0M530.4 87.4h0M532.1 87.2h0M533.7 87.5h0M535.4 87.4h0M538.9 87.9h0M540.5 87.4h0M541.9 87.7h0M526.5 89.1h0M528.0 88.7h0M529.3 89.3h0M531.1 88.8h0M532.5 88.6h0M534.7 88.5h0M536.1 88.9h0M538.2 89.0h0M539.7 88.6h0M541.3 89.3h0M527.3 90.1h0M528.5 90.4h0M530.4 90.5h0M532.3 90.7h0M533.7 90.2h0M535.1 90.4h0M536.8 90.4h0M538.6 90.1h0M540.4 90.4h0M541.9 90.4h0M543.7 90.7h0M529.7 91.5h0M531.4 92.0h0M532.7 91.5h0M534.5 92.1h0M535.8 91.7h0M538.3 92.0h0M539.5 92.2h0M541.7 91.4h0M542.8 91.9h0M544.8 91.4h0M532.1 92.9h0M534.0 92.9h0M535.4 93.4h0M536.8 93.7h0M539.1 93.0h0M540.3 93.7h0M542.1 92.9h0M543.7 93.0h0M545.4 93.5h0M534.7 94.8h0M536.3 94.5h0M537.9 95.0h0M540.0 95.3h0M541.2 94.9h0M543.2 95.1h0M544.6 94.5h0M535.3 96.0h0M537.4 96.5h0M538.6 96.1h0M540.3 96.2h0M542.5 96.0h0M544.0 96.2h0M545.9 96.3h0M537.7 97.5h0M539.9 97.9h0M541.7 97.8h0M542.6 97.7h0M544.9 98.1h0M539.2 98.9h0M540.1 99.4h0M542.2 99.7h0M544.0 99.5h0M545.6 99.0h0M541.6 100.4h0M543.1 100.3h0M544.8 100.4h0M542.0 101.8h0M543.9 102.2h0M540.3 102.5h0M524.4 84.0h0M531.0 94.6h0M545.2 97.7h0M545.1 94.0h0M535.2 96.2h0M534.2 83.3h0M527.5 90.9h0M547.9 97.5h0M537.6 85.9h0M513.5 104.7h0M515.6 104.2h0M513.0 106.1h0M514.5 105.7h0M516.2 106.2h0M517.8 106.1h0M511.8 106.9h0M513.8 106.8h0M514.9 107.3h0M516.6 107.1h0M518.4 107.5h0M520.0 107.6h0M512.9 108.8h0M514.3 108.9h0M515.8 109.1h0M517.7 109.0h0M519.3 109.0h0M513.8 110.4h0M515.0 110.5h0M516.9 110.4h0M518.9 110.1h0M520.8 110.4h0M514.1 112.1h0M515.9 111.6h0M517.4 111.4h0M519.5 111.3h0M521.5 111.8h0M513.9 113.6h0M515.6 113.0h0M517.4 112.7h0M518.4 113.2h0M520.7 112.9h0M522.5 113.4h0M523.6 113.4h0M514.7 114.5h0M515.7 114.6h0M517.9 114.2h0M519.8 114.8h0M521.0 114.6h0M522.8 114.8h0M524.6 114.7h0M513.7 116.2h0M515.1 116.2h0M516.6 116.3h0M518.5 115.9h0M520.2 115.8h0M522.4 115.8h0M523.8 115.9h0M525.2 116.3h0M514.7 117.4h0M515.9 117.2h0M518.2 117.5h0M519.3 117.8h0M521.0 117.2h0M522.5 117.8h0M524.7 117.3h0M526.0 117.6h0M515.4 119.2h0M517.3 119.2h0M519.1 119.2h0M520.5 119.2h0M521.6 119.3h0M523.4 119.3h0M525.1 118.7h0M527.0 118.8h0M517.5 120.4h0M519.4 120.8h0M520.9 121.0h0M522.9 120.9h0M524.6 120.6h0M526.3 120.3h0M527.8 120.6h0M517.4 122.5h0M518.9 121.7h0M520.2 122.1h0M521.6 122.1h0M524.0 121.7h0M525.4 122.4h0M526.8 122.4h0M528.5 122.1h0M519.9 123.4h0M521.1 123.9h0M523.3 123.4h0M524.6 123.9h0M526.3 123.2h0M527.7 123.4h0M520.1 125.1h0M521.8 125.1h0M523.8 125.2h0M525.1 125.1h0M527.3 124.6h0M529.0 124.8h0M523.0 126.0h0M524.7 126.9h0M526.3 126.7h0M528.3 126.8h0M523.8 128.2h0M525.5 128.3h0M518.4 106.0h0M512.3 103.1h0M529.0 119.3h0M515.3 118.3h0M526.0 129.7h0M518.3 104.1h0M530.4 123.3h0M521.7 112.4h0M511.5 104.5h0M528.1 117.0h0M525.1 112.2h0M562.2 103.7h0M563.5 103.2h0M566.1 103.2h0M567.3 103.2h0M569.4 102.8h0M570.8 103.1h0M572.0 102.8h0M560.0 104.9h0M561.6 104.7h0M563.5 104.6h0M565.0 104.7h0M566.4 104.3h0M568.3 105.1h0M570.2 104.4h0M571.6 105.0h0M573.6 105.2h0M553.6 106.1h0M555.5 106.2h0M557.0 106.4h0M559.0 106.3h0M560.3 106.6h0M562.6 106.5h0M563.9 106.3h0M565.2 106.5h0M567.6 106.7h0M569.5 106.4h0M571.1 106.1h0M572.7 106.2h0M574.0 106.6h0M553.2 107.6h0M554.8 107.7h0M556.1 108.1h0M557.7 107.7h0M559.9 107.4h0M561.0 107.8h0M562.7 107.6h0M565.1 107.9h0M566.7 107.6h0M567.9 107.8h0M570.0 107.6h0M572.0 107.8h0M573.6 107.5h0M552.4 109.2h0M554.1 109.6h0M555.1 108.9h0M556.9 109.0h0M559.3 109.0h0M560.4 109.3h0M562.7 109.3h0M563.7 109.5h0M566.0 109.4h0M567.4 109.6h0M569.1 109.1h0M570.8 109.5h0M551.6 110.3h0M552.8 110.9h0M554.2 110.8h0M556.1 110.3h0M557.9 111.1h0M559.3 110.7h0M561.5 110.7h0M563.1 110.5h0M565.0 111.1h0M566.7 110.3h0M568.0 110.7h0M570.2 111.0h0M550.6 112.2h0M551.8 112.0h0M553.4 112.4h0M555.9 111.9h0M556.9 112.3h0M559.1 111.9h0M561.0 112.4h0M562.4 112.5h0M563.7 112.6h0M565.4 112.3h0M567.2 112.1h0M551.1 113.9h0M553.1 113.4h0M554.8 113.3h0M556.3 113.5h0M558.1 113.8h0M559.9 113.5h0M561.6 113.6h0M562.8 113.4h0M564.4 113.7h0M566.3 113.5h0M552.0 114.7h0M554.1 114.8h0M555.8 115.1h0M557.2 115.5h0M559.2 115.3h0M560.7 114.8h0M561.9 115.1h0M553.2 116.3h0M554.2 116.3h0M556.4 116.5h0M557.7 116.3h0M559.7 116.7h0M555.6 118.4h0M557.5 118.3h0M555.9 118.2h0M560.4 105.6h0M569.6 111.6h0M571.1 111.4h0M573.0 109.4h0M551.2 111.7h0M549.7 116.3h0M556.9 119.2h0M555.6 120.6h0M551.4 107.3h0M551.5 112.6h0M548.0 120.7h0M549.3 119.8h0M551.2 119.9h0M543.5 121.9h0M545.2 121.6h0M547.5 121.6h0M548.8 121.3h0M550.9 121.3h0M552.2 122.1h0M543.0 123.3h0M544.2 123.5h0M545.8 123.2h0M548.0 123.1h0M549.6 123.1h0M550.9 122.9h0M553.2 123.3h0M540.2 125.1h0M542.0 124.5h0M544.0 124.3h0M545.3 125.1h0M547.4 125.0h0M548.8 124.8h0M550.4 125.1h0M552.3 124.3h0M538.0 126.2h0M539.1 126.6h0M541.1 126.6h0M543.0 126.5h0M544.2 126.2h0M546.1 126.0h0M547.8 126.0h0M549.3 126.2h0M551.2 126.2h0M553.0 125.9h0M538.7 127.5h0M540.4 128.0h0M541.7 127.9h0M543.3 128.0h0M545.2 127.5h0M547.0 127.3h0M548.7 127.9h0M550.3 128.0h0M552.4 127.5h0M554.2 127.9h0M539.7 128.7h0M540.7 129.2h0M542.5 129.4h0M544.2 129.6h0M545.8 129.2h0M548.0 128.9h0M549.3 129.6h0M551.5 128.8h0M553.4 128.9h0M555.1 128.8h0M538.7 130.3h0M540.5 130.9h0M541.7 130.5h0M543.6 130.2h0M545.5 131.1h0M546.9 130.9h0M548.8 130.9h0M550.9 130.9h0M551.9 130.7h0M553.6 130.6h0M555.4 130.2h0M539.7 131.9h0M541.5 131.8h0M543.0 132.2h0M544.6 132.2h0M546.5 132.2h0M547.6 131.6h0M549.2 132.2h0M550.9 132.3h0M553.4 131.8h0M554.3 131.7h0M556.7 132.2h0M543.5 133.7h0M545.1 133.2h0M546.9 133.1h0M548.7 133.5h0M550.1 133.3h0M551.7 133.5h0M554.1 133.8h0M555.3 134.0h0M543.0 134.7h0M544.2 135.2h0M545.9 134.9h0M548.2 134.8h0M549.5 134.9h0M551.0 135.4h0M553.3 134.9h0M555.0 135.2h0M548.8 136.2h0M550.5 136.4h0M552.3 136.3h0M553.5 136.3h0M552.9 138.4h0M538.2 128.6h0M553.2 123.9h0M548.1 137.0h0M543.1 134.7h0M553.2 137.9h0M538.9 131.1h0M540.5 124.0h0M543.9 136.4h0M551.4 117.5h0M553.8 124.3h0M521.5 137.9h0M525.0 137.7h0M520.7 139.2h0M522.4 139.2h0M524.5 138.7h0M525.7 138.9h0M527.7 139.3h0M529.5 139.4h0M531.3 138.6h0M532.3 139.1h0M520.0 140.5h0M521.2 140.6h0M522.9 140.4h0M524.6 140.0h0M526.4 140.2h0M528.4 140.3h0M530.1 140.5h0M531.8 140.1h0M533.5 140.5h0M535.4 140.6h0M537.1 140.9h0M515.7 142.0h0M517.8 141.5h0M519.1 142.1h0M520.7 142.4h0M522.7 141.5h0M523.8 142.0h0M526.3 141.9h0M527.2 142.2h0M529.5 142.2h0M530.9 141.9h0M532.7 142.3h0M534.0 141.8h0M536.5 141.7h0M537.6 142.4h0M539.0 142.0h0M540.9 142.3h0M516.8 143.8h0M518.2 143.5h0M520.1 143.8h0M521.4 143.8h0M523.7 143.6h0M525.0 143.7h0M526.4 143.7h0M528.8 143.1h0M529.8 143.7h0M532.0 143.2h0M533.9 143.4h0M535.5 143.4h0M537.1 143.3h0M538.8 143.5h0M540.6 143.1h0M542.2 143.1h0M544.0 143.8h0M517.5 145.2h0M519.4 144.8h0M521.2 145.3h0M522.8 145.1h0M524.3 144.7h0M525.5 145.1h0M527.3 145.2h0M529.3 145.3h0M530.5 144.9h0M533.0 144.7h0M534.3 144.8h0M536.1 144.6h0M538.0 145.2h0M539.7 144.4h0M540.8 144.9h0M543.0 144.6h0M544.4 144.9h0M518.2 146.7h0M519.6 146.1h0M521.4 146.7h0M523.2 146.4h0M525.0 146.0h0M526.8 146.0h0M528.8 146.5h0M529.9 146.1h0M532.2 145.9h0M533.4 146.3h0M535.1 146.6h0M537.1 146.0h0M538.4 146.7h0M540.2 146.5h0M541.9 146.6h0M543.3 146.2h0M545.0 146.5h0M547.4 146.0h0M517.6 147.9h0M518.7 147.8h0M521.1 147.8h0M522.5 148.1h0M524.0 147.8h0M526.0 147.9h0M527.4 148.2h0M528.9 148.1h0M530.5 147.8h0M532.7 148.2h0M534.4 148.1h0M536.0 147.5h0M537.6 148.1h0M539.9 147.5h0M541.4 147.9h0M542.7 147.4h0M544.4 147.7h0M546.2 147.5h0M547.7 147.6h0M523.6 149.5h0M525.2 149.0h0M526.3 149.6h0M528.2 149.3h0M529.9 149.7h0M532.1 149.2h0M533.4 149.0h0M535.0 149.7h0M536.6 149.0h0M539.0 149.1h0M540.2 149.7h0M542.4 149.1h0M543.8 149.5h0M545.5 149.1h0M546.7 149.1h0M522.6 150.5h0M524.1 150.8h0M525.6 151.0h0M527.8 150.4h0M529.7 151.1h0M531.4 151.0h0M532.6 151.0h0M533.9 150.8h0M536.4 150.6h0M538.0 150.6h0M539.4 150.4h0M541.5 150.5h0M543.3 151.1h0M544.5 150.7h0M546.6 150.5h0M527.1 152.2h0M528.7 152.0h0M531.9 152.5h0M533.9 152.0h0M535.5 151.9h0M536.8 152.2h0M538.5 152.7h0M540.0 152.0h0M520.0 137.6h0M529.3 151.8h0M516.8 145.6h0M518.8 136.7h0M517.1 149.1h0M536.7 154.6h0M515.8 142.8h0M548.2 144.8h0M527.0 138.0h0M519.7 137.4h0M517.0 148.1h0M546.4 145.6h0M544.4 151.8h0M593.2 131.9h0M587.2 133.4h0M589.4 133.0h0M591.0 133.3h0M593.2 133.6h0M594.7 132.9h0M583.8 135.1h0M585.1 134.6h0M586.8 135.1h0M588.6 134.4h0M589.8 134.5h0M591.5 135.0h0M593.3 135.1h0M582.6 135.9h0M584.6 136.4h0M586.0 136.4h0M587.3 136.3h0M589.0 136.4h0M591.2 136.5h0M577.9 137.5h0M579.8 137.9h0M581.4 137.6h0M583.8 137.4h0M585.3 137.7h0M586.8 137.9h0M588.1 137.4h0M590.5 137.5h0M591.8 137.6h0M577.4 139.2h0M578.8 138.9h0M580.6 139.1h0M582.4 139.3h0M584.5 139.4h0M585.9 139.3h0M587.8 139.3h0M589.4 138.9h0M590.8 139.6h0M575.3 140.6h0M576.9 140.6h0M578.3 141.1h0M580.0 140.3h0M581.6 140.6h0M583.5 140.9h0M585.3 140.3h0M586.7 140.5h0M588.8 140.3h0M574.2 142.5h0M575.7 141.9h0M577.4 141.8h0M579.0 141.9h0M580.6 141.9h0M582.7 142.4h0M584.6 142.2h0M585.7 141.9h0M588.0 141.8h0M573.6 143.4h0M574.9 143.7h0M576.8 143.4h0M578.0 143.2h0M580.3 143.7h0M581.4 143.9h0M583.5 144.1h0M585.3 143.5h0M586.4 143.3h0M572.6 145.6h0M574.2 145.0h0M575.3 144.8h0M577.1 145.5h0M579.1 145.3h0M581.2 144.9h0M582.9 145.1h0M571.8 146.7h0M573.1 146.4h0M574.5 146.3h0M576.5 146.4h0M578.6 146.5h0M580.0 146.8h0M582.1 146.1h0M583.7 146.5h0M570.8 148.1h0M572.5 147.8h0M574.3 148.1h0M575.8 148.2h0M577.4 148.1h0M579.1 148.3h0M580.4 148.2h0M571.7 149.5h0M573.1 149.8h0M574.6 150.0h0M576.7 149.3h0M572.5 150.7h0M573.8 150.7h0M593.7 135.9h0M574.6 150.4h0M573.1 142.2h0M590.6 133.1h0M584.3 144.3h0M590.2 132.0h0M589.6 139.7h0M589.3 142.2h0M572.0 139.9h0M584.6 135.1h0M577.1 149.6h0M554.4 154.3h0M554.0 155.9h0M555.2 155.8h0M557.0 155.2h0M558.9 155.2h0M551.5 157.0h0M553.0 156.8h0M555.0 157.1h0M556.0 156.9h0M558.0 156.9h0M550.3 158.5h0M553.5 158.6h0M555.1 158.0h0M557.0 158.1h0M554.4 159.9h0M555.9 159.8h0M552.0 159.8h0M551.7 158.7h0M557.4 158.1h0M551.5 157.6h0M601.3 155.3h0M602.9 155.7h0M604.4 155.2h0M598.9 157.1h0M599.9 157.1h0M601.9 156.5h0M604.1 157.2h0M605.2 156.5h0M598.1 158.4h0M599.4 158.1h0M601.4 158.2h0M603.2 158.8h0M604.2 157.9h0M596.6 159.8h0M598.5 159.8h0M600.4 159.6h0M602.0 159.9h0M603.3 159.5h0M605.3 159.9h0M596.2 161.6h0M598.1 161.4h0M599.1 161.0h0M601.0 161.4h0M602.8 161.5h0M604.3 161.2h0M595.5 162.4h0M597.2 162.7h0M599.0 163.1h0M600.0 163.2h0M601.9 163.2h0M603.5 162.6h0M594.8 164.6h0M595.8 164.5h0M597.6 164.0h0M599.4 164.3h0M600.9 164.3h0M603.2 164.1h0M593.6 165.6h0M595.2 165.6h0M596.7 166.0h0M598.6 165.4h0M599.9 166.0h0M601.8 165.5h0M592.8 167.1h0M594.5 167.1h0M596.2 166.9h0M597.7 166.9h0M599.4 167.7h0M601.2 167.1h0M593.1 168.8h0M595.2 169.0h0M596.5 168.9h0M598.5 169.1h0M600.0 169.0h0M601.6 168.7h0M592.9 170.1h0M594.0 170.0h0M595.6 170.6h0M597.6 170.5h0M599.4 170.0h0M592.1 172.0h0M593.8 171.2h0M595.5 171.3h0M597.2 171.2h0M598.3 171.7h0M592.4 172.9h0M594.7 172.7h0M595.7 173.4h0M597.9 173.6h0M593.2 174.5h0M595.3 174.4h0M592.6 176.2h0M594.6 175.8h0M593.6 177.3h0M591.7 176.6h0M604.5 163.1h0M593.1 163.2h0M592.3 172.5h0M591.7 177.8h0M606.0 157.7h0M605.4 156.6h0M591.0 166.1h0M604.6 165.8h0M591.4 174.8h0M552.6 155.5h0M554.7 155.6h0M556.2 155.7h0M558.1 155.3h0M545.4 157.0h0M547.2 156.9h0M548.8 157.0h0M550.1 156.7h0M551.7 156.7h0M553.6 156.6h0M555.1 156.8h0M557.0 157.1h0M558.9 157.1h0M560.4 157.0h0M542.9 158.3h0M544.0 158.1h0M545.6 158.5h0M547.3 158.3h0M549.0 158.4h0M551.2 158.8h0M552.9 158.1h0M554.2 158.7h0M556.0 158.3h0M557.7 158.5h0M559.4 158.7h0M561.0 158.5h0M543.7 160.3h0M545.3 160.4h0M546.6 160.1h0M548.3 159.5h0M549.9 160.1h0M551.8 159.5h0M553.8 159.5h0M555.2 159.7h0M557.0 159.7h0M558.6 159.6h0M560.0 160.0h0M542.4 161.7h0M544.1 161.7h0M545.7 161.5h0M547.4 161.2h0M549.2 161.5h0M551.2 161.8h0M552.3 161.5h0M554.7 161.3h0M555.8 161.5h0M557.7 161.5h0M559.9 161.4h0M561.6 161.4h0M541.9 162.9h0M543.1 163.3h0M545.1 162.9h0M546.5 162.6h0M548.5 162.7h0M550.0 163.1h0M552.3 162.6h0M553.8 162.6h0M554.9 162.6h0M557.2 162.8h0M558.9 162.7h0M560.7 162.9h0M561.9 162.6h0M542.4 164.7h0M544.5 164.0h0M545.7 164.6h0M547.4 164.1h0M549.7 164.7h0M551.0 164.3h0M552.7 164.3h0M554.3 164.8h0M555.7 163.9h0M558.1 164.5h0M559.6 164.5h0M560.9 163.9h0M562.8 163.9h0M543.1 166.2h0M544.8 166.1h0M547.0 165.8h0M548.6 165.7h0M549.8 165.8h0M552.0 165.6h0M554.0 166.1h0M555.7 166.2h0M557.3 165.6h0M558.9 166.0h0M560.5 165.8h0M561.9 165.5h0M548.1 167.2h0M549.4 167.1h0M551.0 167.5h0M552.7 167.5h0M554.6 167.2h0M556.0 167.3h0M557.9 167.1h0M560.0 167.3h0M561.6 167.5h0M562.6 167.3h0M551.7 168.9h0M553.4 168.8h0M555.1 168.6h0M556.8 169.0h0M558.7 168.7h0M560.7 168.9h0M551.2 169.8h0M552.9 169.9h0M554.3 170.3h0M556.2 170.1h0M557.6 170.3h0M559.3 169.9h0M553.2 171.5h0M539.8 163.2h0M552.4 153.9h0M563.5 165.6h0M540.2 158.2h0M555.5 155.2h0M549.2 171.2h0M556.2 154.0h0M545.7 155.9h0M558.8 173.7h0M555.7 174.2h0M542.7 166.1h0M518.4 165.7h0M520.9 165.7h0M522.1 165.6h0M523.7 165.9h0M526.0 166.2h0M527.0 166.4h0M530.2 166.0h0M532.0 166.3h0M518.3 167.8h0M519.5 167.7h0M521.6 167.1h0M523.0 167.7h0M525.0 167.3h0M526.1 167.1h0M528.0 167.1h0M529.7 167.1h0M516.7 169.0h0M518.9 169.3h0M520.6 168.7h0M521.7 168.5h0M524.0 169.3h0M525.8 169.3h0M526.8 169.2h0M529.3 169.1h0M530.8 168.7h0M532.1 169.3h0M514.6 170.5h0M515.9 170.4h0M517.9 170.1h0M520.0 170.1h0M521.5 170.5h0M522.6 170.8h0M524.6 170.2h0M526.0 170.0h0M527.9 170.6h0M529.7 170.4h0M531.7 170.2h0M515.1 171.8h0M517.4 171.8h0M518.3 171.5h0M520.3 171.9h0M522.3 172.0h0M523.7 172.1h0M525.5 171.5h0M527.7 172.3h0M529.2 172.3h0M530.6 172.1h0M514.8 173.4h0M516.2 173.6h0M517.7 173.5h0M519.5 173.3h0M521.5 173.7h0M523.2 173.5h0M524.8 173.7h0M526.2 173.6h0M528.2 173.0h0M529.7 173.4h0M515.6 174.6h0M516.8 174.8h0M518.9 174.7h0M520.1 174.7h0M521.9 174.6h0M524.1 174.6h0M525.5 174.7h0M527.1 175.3h0M529.2 174.6h0M530.4 174.6h0M517.9 176.8h0M519.8 176.7h0M521.2 176.1h0M524.5 176.1h0M526.0 176.6h0M528.1 176.0h0M519.1 177.6h0M520.4 177.9h0M532.2 167.6h0M514.2 173.1h0M522.6 164.9h0M515.3 174.0h0M530.1 176.5h0M520.4 165.0h0M515.4 169.3h0M518.2 165.2h0M528.3 175.2h0M568.7 180.9h0M562.1 182.2h0M564.5 182.2h0M565.5 182.3h0M567.1 182.4h0M569.3 182.6h0M571.3 182.1h0M558.6 184.2h0M559.8 183.7h0M561.6 183.4h0M563.0 184.2h0M565.1 184.0h0M566.5 184.0h0M568.4 183.9h0M570.3 183.7h0M571.8 184.1h0M573.6 184.3h0M560.6 185.2h0M562.2 185.3h0M564.5 185.3h0M566.1 185.3h0M567.8 185.1h0M569.3 185.3h0M570.7 185.4h0M572.4 185.2h0M560.0 186.7h0M561.3 187.1h0M563.3 186.6h0M565.2 187.2h0M566.3 186.6h0M568.7 186.9h0M569.8 187.1h0M562.6 188.2h0M564.4 188.6h0M565.8 188.7h0M567.6 187.9h0M569.2 188.2h0M570.8 188.1h0M563.0 189.7h0M568.3 189.7h0M565.1 188.8h0M558.2 187.2h0M559.7 188.1h0M561.6 190.4h0M560.5 189.9h0M558.5 182.0h0M518.8 184.1h0M518.4 185.4h0M519.7 185.5h0M521.3 185.5h0M516.0 186.3h0M517.3 187.1h0M519.0 187.0h0M520.9 187.2h0M522.6 186.9h0M524.6 186.8h0M526.1 186.4h0M527.2 186.7h0M516.2 188.1h0M518.2 188.1h0M520.2 188.4h0M521.9 188.3h0M523.0 188.0h0M524.7 188.4h0M527.2 188.6h0M528.5 188.6h0M530.4 188.6h0M515.7 189.6h0M517.4 190.1h0M519.2 189.9h0M521.1 189.6h0M522.7 190.0h0M524.2 189.7h0M526.2 189.3h0M527.3 190.0h0M529.4 189.8h0M530.7 189.9h0M532.3 189.9h0M518.0 191.4h0M519.5 191.5h0M521.3 191.0h0M523.8 190.9h0M524.9 190.9h0M526.7 191.6h0M528.8 191.0h0M529.7 191.5h0M531.6 191.2h0M533.1 191.2h0M517.6 193.0h0M519.1 192.2h0M520.5 192.4h0M522.9 192.8h0M524.5 193.0h0M525.6 192.8h0M527.6 193.0h0M529.1 192.9h0M531.1 192.7h0M532.7 192.5h0M534.4 192.4h0M535.7 192.6h0M518.6 194.3h0M519.7 193.9h0M521.6 194.0h0M522.9 194.4h0M525.3 194.1h0M526.6 193.9h0M528.7 194.0h0M530.3 194.3h0M531.7 194.2h0M533.7 193.9h0M534.9 194.4h0M536.6 194.0h0M519.5 195.6h0M520.9 195.6h0M522.5 195.6h0M524.0 195.9h0M526.3 195.3h0M527.7 195.3h0M529.3 195.9h0M531.2 196.0h0M532.4 195.5h0M534.7 195.9h0M535.8 195.4h0M523.0 197.1h0M525.5 197.4h0M526.3 196.9h0M528.8 196.7h0M530.0 197.0h0M532.3 197.2h0M533.2 197.2h0M535.0 197.6h0M524.4 198.5h0M525.6 198.8h0M528.0 198.4h0M529.5 198.3h0M531.0 198.2h0M532.5 198.2h0M534.7 198.9h0M524.9 200.5h0M526.7 200.4h0M528.1 200.2h0M530.3 200.0h0M531.5 200.4h0M533.3 199.9h0M527.4 201.6h0M529.7 201.2h0M530.6 201.2h0M532.4 201.5h0M528.9 202.9h0M517.4 193.6h0M528.6 203.9h0M537.0 194.0h0M526.2 185.6h0M522.2 198.3h0M515.5 185.7h0M518.4 184.5h0M514.6 191.2h0M529.0 202.1h0M536.4 191.8h0M545.3 185.7h0M550.8 185.1h0M552.2 185.2h0M545.2 186.9h0M546.2 186.5h0M548.1 186.7h0M549.6 187.1h0M551.2 186.9h0M542.6 188.7h0M543.9 188.1h0M545.9 188.2h0M547.5 188.2h0M548.7 188.7h0M551.2 188.5h0M552.6 188.6h0M553.9 188.2h0M543.3 189.8h0M544.6 189.8h0M546.3 190.1h0M548.1 189.3h0M550.2 190.0h0M551.2 190.0h0M552.9 189.5h0M540.3 191.0h0M542.5 191.3h0M543.6 191.1h0M545.5 191.0h0M547.7 191.1h0M549.4 191.0h0M551.2 191.4h0M539.9 192.8h0M541.2 192.8h0M543.4 192.3h0M545.0 192.5h0M546.9 193.0h0M548.2 192.7h0M540.6 194.0h0M541.9 193.9h0M543.5 194.4h0M545.7 194.4h0M547.2 194.5h0M539.7 195.3h0M541.1 195.4h0M542.8 195.5h0M544.6 195.5h0M546.4 195.7h0M548.0 195.2h0M538.9 197.1h0M540.1 197.0h0M542.0 196.7h0M543.9 197.3h0M545.4 196.9h0M539.6 198.1h0M541.5 198.9h0M543.5 199.0h0M545.1 198.7h0M546.6 198.3h0M540.2 199.8h0M542.5 200.4h0M544.0 200.1h0M545.7 200.1h0M541.3 201.2h0M542.7 201.4h0M552.3 185.3h0M544.2 185.3h0M544.0 187.0h0M555.6 188.0h0M554.4 185.5h0M546.3 183.8h0M553.5 188.4h0M540.5 194.6h0M568.7 204.4h0M570.3 204.3h0M574.9 204.9h0M564.1 205.7h0M565.4 205.8h0M567.9 206.2h0M568.9 205.7h0M570.6 205.7h0M572.4 206.0h0M574.0 206.5h0M560.2 207.3h0M562.0 207.4h0M563.5 207.1h0M565.0 207.5h0M566.8 207.5h0M568.0 207.9h0M570.4 207.4h0M571.9 207.6h0M573.6 207.1h0M558.7 209.2h0M560.3 208.9h0M562.0 209.1h0M563.9 209.4h0M566.1 209.1h0M567.7 209.3h0M569.3 209.3h0M571.0 209.2h0M556.3 210.3h0M558.4 210.2h0M559.7 210.3h0M561.4 210.7h0M563.5 210.7h0M564.8 210.7h0M566.9 210.6h0M568.8 210.1h0M569.8 210.3h0M554.2 212.3h0M556.0 211.8h0M557.1 211.8h0M558.9 212.0h0M560.6 211.8h0M562.5 212.1h0M564.4 211.9h0M565.8 211.8h0M567.2 211.7h0M552.9 213.3h0M554.4 213.4h0M556.5 213.9h0M557.9 213.0h0M559.9 213.8h0M561.1 213.9h0M563.0 213.1h0M565.3 213.3h0M552.6 215.0h0M553.8 215.2h0M555.5 215.2h0M557.6 214.9h0M559.2 214.6h0M561.0 215.0h0M551.5 216.6h0M552.7 216.2h0M554.8 216.4h0M559.6 216.0h0M560.2 207.9h0M568.5 211.4h0M571.3 204.6h0M574.9 203.5h0M575.3 208.8h0M563.4 204.9h0M570.1 203.2h0M550.4 216.2h0M567.4 214.2h0M522.7 207.3h0M524.0 207.8h0M526.3 207.9h0M527.2 207.1h0M518.3 208.7h0M520.1 208.6h0M522.0 208.8h0M523.1 209.1h0M524.7 209.0h0M526.6 208.7h0M528.8 209.1h0M530.1 209.2h0M535.4 208.9h0M536.7 209.0h0M515.2 210.0h0M517.8 210.7h0M518.9 210.4h0M520.9 210.0h0M522.9 210.0h0M524.1 210.7h0M525.5 210.4h0M527.5 210.9h0M529.5 210.7h0M534.4 210.7h0M536.2 210.9h0M538.1 210.6h0M539.2 210.1h0M512.8 211.9h0M515.0 212.0h0M516.8 211.8h0M518.0 212.0h0M519.8 212.2h0M521.5 211.8h0M523.2 211.9h0M525.1 211.7h0M526.5 212.2h0M528.8 211.5h0M529.8 211.5h0M531.7 211.6h0M533.2 211.6h0M534.8 212.2h0M537.1 212.3h0M539.0 212.3h0M540.6 211.8h0M511.9 213.8h0M513.8 213.0h0M515.5 213.1h0M516.9 213.6h0M519.0 213.6h0M520.5 213.2h0M522.5 213.0h0M524.0 213.0h0M526.3 213.4h0M527.2 213.6h0M529.7 213.2h0M531.4 213.7h0M532.9 213.5h0M534.6 213.6h0M536.5 213.7h0M538.0 213.3h0M509.5 214.5h0M511.5 214.7h0M513.2 214.7h0M514.7 214.6h0M516.9 215.1h0M518.4 215.0h0M519.5 215.2h0M521.9 214.8h0M523.4 214.6h0M525.1 214.7h0M526.6 214.6h0M528.0 214.8h0M530.0 215.3h0M531.9 214.5h0M533.4 215.2h0M535.4 214.9h0M536.9 214.4h0M538.7 215.0h0M510.7 216.3h0M512.6 216.3h0M514.0 215.9h0M515.3 216.0h0M517.7 216.6h0M519.4 216.3h0M520.3 216.2h0M522.0 216.2h0M524.5 216.6h0M526.3 216.7h0M528.0 216.7h0M529.4 216.8h0M531.1 216.5h0M532.8 216.2h0M534.0 216.4h0M536.1 216.4h0M509.9 217.6h0M511.0 217.7h0M513.1 217.9h0M514.7 217.9h0M516.4 217.7h0M518.0 217.9h0M520.1 217.7h0M521.2 218.2h0M523.5 218.1h0M525.3 217.4h0M527.1 218.2h0M528.0 217.9h0M529.9 217.7h0M532.1 217.9h0M533.8 217.4h0M535.6 218.2h0M510.6 219.7h0M512.2 219.7h0M514.2 219.2h0M515.5 219.6h0M517.1 219.0h0M518.9 219.7h0M521.1 219.1h0M522.2 219.2h0M524.2 219.2h0M525.4 219.2h0M527.6 219.4h0M529.2 219.3h0M530.9 218.9h0M532.3 219.4h0M509.4 221.2h0M511.6 220.5h0M513.4 220.4h0M514.6 220.9h0M516.1 221.2h0M518.2 220.9h0M520.2 220.9h0M521.5 220.6h0M523.4 220.8h0M524.9 221.0h0M526.4 220.9h0M528.6 220.7h0M530.3 221.0h0M514.4 222.4h0M515.8 221.9h0M517.0 221.8h0M519.5 221.9h0M520.8 221.8h0M522.5 222.3h0M523.8 222.0h0M526.2 221.9h0M527.4 222.0h0M528.9 221.8h0M514.5 223.7h0M516.1 223.7h0M518.3 224.0h0M519.6 223.6h0M521.8 223.7h0M523.3 223.3h0M524.6 224.0h0M526.5 223.4h0M519.1 224.8h0M522.9 225.4h0M524.2 224.9h0M540.1 209.8h0M535.3 209.7h0M515.2 225.5h0M538.2 208.2h0M536.2 208.1h0M511.4 211.8h0M508.8 212.4h0M537.1 207.9h0M523.1 206.1h0M511.9 210.5h0M538.2 208.9h0M530.8 208.2h0M537.9 216.5h0M539.1 216.0h0M499.0 221.0h0M501.0 221.0h0M503.1 221.3h0M496.9 222.2h0M498.1 222.4h0M500.0 222.6h0M502.0 222.0h0M503.2 222.2h0M497.4 224.2h0M499.2 223.7h0M500.7 224.1h0M502.6 224.4h0M492.9 225.1h0M495.2 225.0h0M497.1 225.4h0M498.6 225.6h0M500.1 225.6h0M501.8 225.0h0M492.8 227.3h0M493.7 227.1h0M496.3 226.7h0M497.6 227.1h0M499.3 226.8h0M500.6 227.1h0M491.7 228.3h0M493.0 228.5h0M495.2 228.0h0M496.9 228.3h0M498.3 228.8h0M500.0 228.5h0M487.4 229.7h0M488.9 230.0h0M491.1 230.2h0M492.3 230.3h0M494.3 230.1h0M495.7 230.3h0M497.7 230.3h0M499.0 229.7h0M486.3 231.3h0M488.0 231.5h0M490.1 231.1h0M491.6 231.5h0M493.3 231.2h0M494.6 231.7h0M497.1 231.7h0M485.7 232.5h0M487.2 233.2h0M489.1 232.5h0M490.7 233.0h0M492.3 232.9h0M494.1 232.9h0M496.1 232.9h0M497.1 232.7h0M484.6 234.2h0M486.3 234.5h0M487.9 234.4h0M489.7 234.2h0M491.4 234.0h0M493.6 234.3h0M494.9 233.9h0M482.7 235.8h0M483.9 235.7h0M485.5 236.0h0M487.5 236.2h0M488.7 235.8h0M490.8 235.7h0M492.1 236.1h0M479.3 237.6h0M481.0 237.0h0M483.4 237.5h0M484.8 237.2h0M486.8 236.9h0M488.0 237.3h0M490.0 237.1h0M491.6 237.2h0M478.6 238.7h0M480.7 238.8h0M482.2 238.9h0M484.1 239.1h0M485.5 238.3h0M487.4 239.1h0M479.5 240.4h0M481.6 240.3h0M483.3 240.5h0M485.0 239.8h0M486.7 240.0h0M481.0 241.6h0M481.9 241.9h0M483.8 242.0h0M486.1 241.5h0M486.9 241.4h0M482.7 243.3h0M484.4 243.0h0M477.8 242.3h0M482.7 234.6h0M477.3 242.0h0M504.4 220.4h0M476.7 241.3h0M479.4 234.2h0M501.0 219.1h0M477.9 239.0h0M480.3 237.6h0M493.9 235.8h0M478.5 239.6h0M485.7 232.0h0M521.7 233.9h0M523.3 233.9h0M525.5 233.9h0M518.9 235.2h0M520.6 235.3h0M522.8 235.2h0M524.6 234.9h0M513.7 236.1h0M515.4 236.1h0M517.2 236.2h0M518.5 236.8h0M520.0 236.1h0M522.2 236.5h0M523.9 236.6h0M525.0 236.4h0M510.5 238.3h0M512.6 237.6h0M514.6 238.4h0M515.8 238.0h0M518.0 238.0h0M518.9 238.1h0M521.2 238.2h0M522.7 237.7h0M506.6 239.8h0M507.9 239.6h0M510.3 239.3h0M511.8 239.6h0M513.4 239.8h0M515.3 239.8h0M517.2 239.1h0M518.5 239.7h0M519.9 239.9h0M522.1 239.1h0M523.9 239.2h0M500.2 241.3h0M502.3 240.7h0M503.7 241.4h0M505.8 241.0h0M507.2 241.0h0M509.3 241.2h0M510.7 241.1h0M512.3 240.7h0M514.4 241.1h0M515.5 241.3h0M517.2 241.2h0M519.3 241.1h0M520.9 241.1h0M522.4 241.1h0M499.8 242.6h0M501.5 242.2h0M503.5 242.5h0M505.2 242.6h0M506.3 242.8h0M507.8 242.0h0M509.9 242.5h0M511.6 242.7h0M513.4 242.5h0M514.9 242.7h0M516.4 242.4h0M518.1 242.4h0M520.2 242.0h0M498.9 244.0h0M500.8 243.9h0M502.6 244.3h0M504.3 244.2h0M505.3 244.2h0M507.6 243.7h0M509.1 244.0h0M510.7 243.8h0M512.3 243.7h0M514.3 243.5h0M518.0 244.0h0M498.5 245.4h0M499.8 245.7h0M501.8 245.7h0M503.0 245.7h0M505.3 245.8h0M506.8 245.1h0M508.6 245.2h0M510.3 245.6h0M511.5 245.3h0M512.9 245.8h0M497.3 246.7h0M498.8 247.0h0M500.4 247.2h0M502.1 247.0h0M503.8 246.7h0M506.0 246.9h0M507.4 246.6h0M508.7 246.7h0M511.1 246.5h0M499.5 248.6h0M501.5 248.0h0M503.5 248.4h0M505.2 248.8h0M506.5 248.4h0M499.3 250.0h0M501.0 250.1h0M500.4 240.3h0M497.7 246.9h0M521.0 243.6h0M518.3 234.9h0M499.3 249.3h0M498.1 246.5h0M500.4 241.0h0M505.8 238.2h0M523.8 240.9h0M498.2 249.5h0M515.0 247.0h0M524.4 231.3h0M549.1 232.8h0M550.4 233.0h0M552.9 232.2h0M548.1 233.9h0M550.0 234.3h0M551.7 233.8h0M553.4 233.6h0M547.8 235.4h0M549.5 235.8h0M551.2 235.2h0M552.6 235.8h0M542.9 237.1h0M545.0 236.7h0M546.6 237.1h0M548.7 237.3h0M550.0 237.2h0M551.8 236.9h0M542.3 238.1h0M544.5 238.3h0M545.7 238.8h0M547.5 238.3h0M549.0 238.9h0M551.0 238.1h0M540.1 240.1h0M541.6 240.4h0M543.3 240.2h0M545.0 239.9h0M546.8 240.0h0M548.7 240.4h0M538.7 241.0h0M540.5 241.4h0M542.1 241.8h0M544.2 241.1h0M546.0 241.8h0M547.1 241.8h0M537.7 242.7h0M539.4 243.1h0M541.6 243.0h0M543.5 243.4h0M544.9 243.2h0M546.8 242.8h0M539.4 244.7h0M540.9 244.1h0M542.5 244.1h0M543.7 244.0h0M538.0 245.7h0M539.8 246.1h0M541.3 246.0h0M535.3 247.0h0M537.2 247.4h0M539.2 247.4h0M540.9 247.2h0M542.0 246.9h0M536.3 248.5h0M538.5 249.1h0M539.4 249.2h0M533.7 250.1h0M535.9 250.1h0M537.5 250.5h0M538.6 250.0h0M534.9 251.9h0M536.3 251.6h0M538.1 251.4h0M539.4 252.1h0M535.6 253.1h0M537.3 253.0h0M535.0 254.4h0M536.7 245.3h0M550.8 230.3h0M554.0 234.4h0M534.0 252.6h0M542.0 238.3h0M553.4 231.8h0M555.2 234.8h0M532.4 250.7h0M537.5 241.0h0M553.2 235.3h0M535.2 254.1h0M507.1 259.0h0M502.9 260.4h0M504.7 259.9h0M506.6 260.2h0M507.9 259.9h0M495.7 261.1h0M497.7 261.6h0M499.3 261.5h0M500.4 261.5h0M502.3 261.9h0M503.8 261.2h0M506.0 261.3h0M488.1 263.1h0M492.7 262.8h0M494.4 262.8h0M496.3 262.7h0M498.6 263.3h0M500.2 263.0h0M502.0 263.3h0M503.3 262.9h0M485.7 264.5h0M487.0 264.8h0M489.0 264.7h0M490.8 264.4h0M492.0 264.9h0M494.3 264.1h0M495.3 264.3h0M497.5 264.1h0M499.4 264.5h0M501.1 264.7h0M502.6 264.5h0M482.9 265.8h0M484.4 265.9h0M486.5 265.9h0M487.9 266.3h0M489.5 265.7h0M491.5 266.3h0M492.8 265.8h0M494.5 266.4h0M496.2 266.1h0M497.8 265.9h0M499.4 265.8h0M501.3 265.9h0M480.5 267.7h0M482.3 267.4h0M483.8 267.7h0M485.6 267.5h0M487.4 267.5h0M488.4 267.9h0M490.9 267.4h0M492.3 267.5h0M493.7 267.7h0M495.3 267.2h0M477.7 269.0h0M479.7 268.8h0M480.9 268.7h0M482.8 269.2h0M484.7 269.2h0M486.2 269.0h0M487.9 268.8h0M489.3 269.0h0M491.7 268.7h0M493.0 268.9h0M495.0 268.8h0M478.6 270.6h0M480.1 270.3h0M482.2 270.5h0M483.7 270.7h0M485.0 270.7h0M487.1 270.9h0M489.0 270.1h0M490.2 270.1h0M477.9 272.1h0M479.9 272.1h0M481.4 272.0h0M482.6 271.9h0M484.4 271.7h0M486.3 272.3h0M488.3 271.8h0M478.4 273.0h0M480.5 273.1h0M481.8 273.6h0M498.6 258.3h0M503.1 265.8h0M501.9 258.4h0M494.7 262.7h0M475.4 269.9h0M491.4 261.5h0M503.2 257.8h0M496.1 262.3h0M477.3 275.3h0M479.1 266.3h0M499.9 258.8h0M494.4 270.2h0M480.2 269.1h0M450.1 236.6h0M449.1 237.7h0M451.3 237.5h0M448.5 239.9h0M450.5 239.7h0M452.1 239.0h0M447.8 240.7h0M449.4 240.8h0M451.1 241.2h0M452.9 241.1h0M454.2 241.1h0M448.3 242.4h0M450.2 242.5h0M452.1 242.8h0M453.7 242.4h0M454.7 242.7h0M447.9 243.7h0M449.5 243.8h0M451.0 244.0h0M452.8 244.3h0M454.1 244.0h0M456.2 243.8h0M458.1 243.8h0M448.2 245.1h0M450.0 245.4h0M451.9 245.1h0M453.4 245.5h0M455.0 245.7h0M456.7 245.4h0M458.2 245.8h0M459.9 245.5h0M447.6 246.6h0M449.1 246.6h0M450.6 247.2h0M452.9 247.1h0M454.4 246.4h0M455.6 246.9h0M457.7 246.4h0M459.3 246.7h0M448.0 248.1h0M450.3 248.4h0M451.9 248.3h0M453.9 248.8h0M455.6 248.6h0M456.5 248.7h0M458.7 248.0h0M460.2 248.5h0M461.6 248.4h0M447.9 250.0h0M449.5 249.7h0M450.6 249.6h0M452.3 250.0h0M454.7 250.0h0M455.6 250.0h0M457.8 250.1h0M459.1 249.9h0M461.1 249.7h0M448.4 251.5h0M449.8 251.1h0M451.9 250.8h0M453.8 251.6h0M455.0 251.4h0M457.1 251.3h0M458.6 251.2h0M460.3 251.5h0M448.8 252.6h0M450.9 253.1h0M452.3 252.5h0M454.7 252.7h0M455.6 252.7h0M457.4 252.6h0M459.1 253.2h0M450.4 254.6h0M451.6 254.6h0M453.8 254.6h0M455.1 254.5h0M457.2 253.9h0M458.5 254.1h0M450.7 255.4h0M452.6 255.6h0M454.0 255.6h0M457.5 255.8h0M453.3 257.4h0M457.1 243.9h0M447.6 255.5h0M460.6 252.5h0M459.1 241.7h0M449.3 236.1h0M454.4 239.8h0M455.5 242.0h0M445.6 242.8h0M451.7 237.3h0M455.4 243.9h0M441.0 209.4h0M443.3 209.7h0M445.0 209.3h0M448.4 209.6h0M449.5 209.0h0M437.1 211.3h0M438.9 210.5h0M440.1 211.2h0M442.3 211.3h0M443.6 210.9h0M445.2 210.8h0M446.9 211.0h0M449.2 210.8h0M436.7 212.6h0M437.7 212.7h0M440.0 212.2h0M441.5 212.2h0M442.9 212.4h0M444.8 212.6h0M446.6 212.7h0M447.8 212.8h0M450.1 212.1h0M435.0 214.0h0M436.9 214.2h0M439.0 214.0h0M440.5 214.3h0M441.8 214.2h0M444.3 214.0h0M445.2 213.9h0M447.4 214.2h0M449.4 213.8h0M434.5 215.4h0M436.6 215.7h0M437.9 215.3h0M440.0 215.5h0M441.3 215.1h0M442.7 215.7h0M444.9 215.2h0M446.3 215.3h0M448.2 215.6h0M449.7 215.4h0M434.0 217.0h0M435.2 217.0h0M437.0 216.9h0M438.7 217.0h0M440.2 216.6h0M441.8 216.4h0M443.8 217.1h0M445.7 216.8h0M447.7 216.7h0M448.9 216.6h0M432.9 218.4h0M434.4 218.4h0M436.3 218.0h0M438.1 218.7h0M439.8 218.0h0M441.1 218.1h0M443.5 218.6h0M445.1 218.6h0M446.0 218.5h0M448.1 218.5h0M431.9 220.2h0M433.9 220.0h0M435.7 220.0h0M437.0 219.7h0M438.9 219.6h0M440.7 220.2h0M441.8 219.7h0M443.6 219.6h0M445.5 220.1h0M446.9 219.8h0M448.6 219.9h0M431.0 221.2h0M432.6 221.6h0M434.2 221.4h0M436.4 221.1h0M438.0 221.0h0M439.8 221.4h0M441.3 221.0h0M443.4 221.3h0M445.0 220.9h0M446.0 221.7h0M432.1 222.4h0M433.5 222.6h0M435.4 222.5h0M437.4 222.6h0M438.5 223.0h0M440.2 222.6h0M442.3 223.1h0M443.7 222.9h0M445.3 222.5h0M431.2 224.7h0M432.7 223.9h0M434.3 224.6h0M436.6 224.5h0M438.2 223.8h0M439.5 224.6h0M441.1 224.2h0M443.1 224.3h0M444.9 224.0h0M432.2 225.9h0M434.0 226.1h0M435.2 226.0h0M436.7 225.9h0M438.4 226.2h0M440.8 225.5h0M442.5 225.7h0M443.5 225.5h0M434.4 227.1h0M435.8 227.6h0M437.6 226.8h0M439.8 226.8h0M441.4 227.4h0M440.2 207.8h0M445.4 208.6h0M450.6 207.5h0M431.9 223.9h0M452.7 213.3h0M439.4 226.7h0M439.1 209.8h0M450.7 216.4h0M435.0 228.7h0M449.6 213.7h0M450.3 217.0h0M405.2 212.1h0M401.3 212.9h0M402.6 213.6h0M404.8 213.5h0M406.0 212.9h0M407.7 213.6h0M399.1 215.0h0M400.5 214.6h0M401.9 214.8h0M403.7 214.6h0M405.8 214.9h0M407.2 215.1h0M399.1 216.1h0M401.5 216.0h0M403.0 216.7h0M404.8 215.9h0M406.3 215.9h0M407.7 216.6h0M409.6 216.6h0M397.4 217.5h0M398.8 217.7h0M400.6 217.4h0M401.9 218.0h0M403.7 218.0h0M405.4 217.7h0M406.9 217.4h0M408.5 217.8h0M410.3 217.9h0M398.2 219.4h0M399.7 219.4h0M401.2 218.8h0M402.6 219.1h0M404.4 218.8h0M406.0 219.6h0M408.2 218.8h0M410.0 218.8h0M398.7 221.0h0M400.8 220.7h0M402.3 220.6h0M404.1 220.3h0M405.7 220.8h0M407.0 220.8h0M409.3 220.8h0M410.6 220.8h0M399.1 222.1h0M401.1 222.1h0M403.1 221.8h0M404.2 222.4h0M406.1 222.5h0M408.5 222.4h0M409.4 222.2h0M400.7 223.9h0M401.9 223.3h0M403.6 223.3h0M405.2 223.2h0M407.1 223.3h0M409.1 223.5h0M410.6 223.3h0M412.3 223.8h0M401.5 225.2h0M403.0 224.9h0M405.0 225.2h0M405.9 224.8h0M408.3 225.2h0M410.1 225.2h0M411.7 225.0h0M402.1 226.7h0M403.9 226.8h0M405.8 226.6h0M407.0 226.3h0M409.3 226.6h0M410.8 226.6h0M412.5 226.4h0M404.6 228.1h0M406.7 227.9h0M408.1 228.5h0M409.7 228.1h0M411.6 228.5h0M403.8 229.2h0M405.7 229.5h0M407.1 230.0h0M408.5 229.3h0M410.5 229.5h0M406.6 230.9h0M408.2 231.2h0M410.1 230.8h0M405.5 232.1h0M407.5 232.2h0M407.6 234.0h0M411.5 230.2h0M411.9 223.2h0M397.6 222.5h0M412.9 225.7h0M406.1 232.9h0M409.1 232.3h0M400.3 214.0h0M399.3 224.0h0M402.8 211.8h0M471.7 216.0h0M469.1 217.3h0M470.7 217.1h0M472.6 216.8h0M464.5 219.1h0M466.0 218.3h0M468.2 218.6h0M469.3 218.4h0M471.6 218.3h0M472.7 218.2h0M474.9 219.0h0M476.1 218.6h0M463.7 220.3h0M465.3 220.5h0M466.8 220.3h0M468.5 220.4h0M470.3 220.2h0M471.8 220.2h0M473.6 220.0h0M476.0 220.1h0M464.7 221.4h0M466.1 222.0h0M468.0 221.5h0M469.5 222.0h0M471.3 221.5h0M473.1 222.0h0M475.0 221.5h0M476.5 221.5h0M462.2 223.5h0M463.5 223.4h0M465.4 222.8h0M467.1 222.8h0M469.1 223.3h0M470.7 223.1h0M472.5 222.9h0M473.7 223.1h0M475.4 222.8h0M462.5 224.4h0M464.2 224.8h0M466.3 224.3h0M467.6 225.0h0M469.8 224.8h0M471.5 224.5h0M473.5 224.8h0M475.1 224.9h0M465.1 226.4h0M467.4 225.7h0M468.9 226.4h0M470.9 226.3h0M472.2 226.0h0M464.7 227.6h0M466.4 227.3h0M468.0 227.7h0M469.8 227.7h0M471.6 227.7h0M468.8 229.4h0M472.2 228.6h0M464.1 226.0h0M478.9 221.6h0M477.5 223.1h0M464.9 217.2h0M473.7 227.1h0M464.4 217.2h0M475.7 220.0h0M476.4 226.9h0M425.0 198.3h0M426.4 199.0h0M425.5 200.7h0M426.2 202.5h0M427.7 196.9h0M425.6 201.6h0M436.8 196.1h0M436.0 197.0h0M437.0 197.2h0M435.3 198.6h0M434.3 199.9h0M436.4 201.7h0M437.5 196.8h0M435.3 196.0h0M430.9 114.7h0M433.2 114.7h0M434.8 114.6h0M436.2 114.8h0M437.6 114.5h0M440.2 114.7h0M428.4 116.3h0M430.4 115.9h0M432.4 115.9h0M433.6 116.1h0M435.8 116.0h0M437.1 116.4h0M439.0 116.0h0M440.7 116.1h0M442.0 115.8h0M443.7 115.6h0M417.7 117.4h0M419.2 117.3h0M421.2 117.7h0M422.5 117.7h0M424.9 117.5h0M425.7 117.5h0M427.9 117.2h0M429.7 117.3h0M431.4 117.5h0M432.7 117.7h0M434.6 117.6h0M436.0 117.3h0M438.3 117.3h0M440.0 117.1h0M441.2 117.7h0M443.4 117.2h0M416.7 119.1h0M418.3 118.9h0M420.6 119.2h0M421.8 118.5h0M423.7 119.2h0M425.6 119.2h0M426.6 118.9h0M429.1 118.5h0M430.2 119.0h0M431.9 118.7h0M433.6 118.8h0M435.7 118.7h0M437.0 119.3h0M438.5 119.0h0M440.9 118.7h0M442.5 118.7h0M443.9 119.2h0M445.3 118.6h0M447.6 118.9h0M416.1 120.2h0M417.8 120.8h0M419.2 120.3h0M421.2 120.1h0M422.7 120.5h0M424.5 120.7h0M426.4 120.5h0M427.5 120.4h0M429.3 120.0h0M430.9 120.0h0M432.8 120.5h0M434.5 119.9h0M436.2 120.3h0M438.2 120.6h0M439.4 120.5h0M441.1 120.1h0M443.1 120.0h0M444.8 120.0h0M446.8 120.4h0M448.1 120.1h0M449.9 120.8h0M410.2 122.0h0M411.7 122.2h0M413.3 121.7h0M415.5 122.2h0M417.1 122.1h0M418.3 122.1h0M420.0 122.0h0M422.3 122.0h0M423.3 121.8h0M425.1 121.9h0M426.8 121.5h0M429.0 121.5h0M430.6 121.5h0M432.5 121.8h0M433.6 122.3h0M435.5 121.5h0M437.2 121.6h0M438.8 122.3h0M440.7 122.0h0M442.0 121.6h0M444.1 121.4h0M445.6 121.9h0M447.3 121.6h0M448.8 122.0h0M451.1 121.5h0M452.5 121.4h0M408.8 123.4h0M411.1 123.1h0M412.9 123.1h0M414.3 123.4h0M415.7 123.0h0M417.7 123.2h0M419.1 122.9h0M421.0 123.7h0M422.8 123.7h0M424.6 123.0h0M426.3 123.7h0M428.2 123.0h0M429.9 123.1h0M430.9 123.2h0M433.3 123.1h0M434.4 123.5h0M436.1 123.6h0M437.9 123.1h0M440.1 123.2h0M441.3 123.3h0M442.9 123.0h0M445.0 123.8h0M446.5 123.3h0M448.2 123.5h0M449.6 123.7h0M451.5 123.2h0M406.3 124.8h0M408.0 124.4h0M410.1 124.6h0M411.7 124.7h0M413.2 124.9h0M414.9 124.5h0M416.4 125.2h0M418.4 125.1h0M419.8 124.9h0M422.2 124.7h0M423.4 124.6h0M425.0 124.8h0M427.1 125.2h0M428.6 124.6h0M430.6 124.7h0M432.3 125.3h0M434.1 125.2h0M435.6 124.6h0M437.6 124.9h0M438.8 124.8h0M441.0 124.7h0M442.4 124.5h0M443.8 125.0h0M445.8 124.7h0M447.2 124.6h0M449.1 124.9h0M450.8 124.7h0M452.9 125.2h0M406.1 126.6h0M407.5 126.7h0M409.3 126.0h0M410.8 125.9h0M412.4 126.3h0M413.9 126.6h0M415.7 126.5h0M417.3 126.2h0M419.4 125.9h0M420.8 126.4h0M422.6 126.2h0M424.3 126.6h0M425.7 126.7h0M427.7 126.1h0M429.8 125.9h0M431.4 126.1h0M433.2 126.4h0M434.2 126.1h0M436.8 126.7h0M438.2 125.9h0M439.4 126.6h0M441.0 126.1h0M442.8 126.1h0M444.8 126.0h0M446.5 126.7h0M447.9 126.6h0M449.7 126.0h0M451.6 126.1h0M453.0 126.4h0M404.5 127.8h0M407.0 127.8h0M407.9 127.7h0M409.7 127.5h0M411.6 128.1h0M413.2 127.8h0M414.7 127.4h0M417.1 128.1h0M418.4 128.1h0M420.3 127.8h0M421.6 128.0h0M423.3 127.5h0M425.1 128.2h0M427.0 127.9h0M428.4 128.0h0M430.8 127.4h0M432.0 128.0h0M433.5 127.9h0M435.4 127.8h0M437.3 127.4h0M438.7 127.6h0M440.6 128.1h0M442.4 127.6h0M443.6 127.7h0M446.0 127.8h0M447.7 127.9h0M448.8 128.2h0M450.5 127.9h0M452.4 127.5h0M454.3 127.9h0M404.0 129.6h0M406.0 129.2h0M407.5 129.3h0M408.8 129.5h0M410.9 129.1h0M412.2 128.9h0M414.5 129.7h0M415.5 129.6h0M417.9 129.2h0M419.6 129.3h0M421.4 129.0h0M422.8 129.2h0M424.5 129.2h0M426.6 128.9h0M427.5 129.7h0M429.2 129.7h0M431.5 129.0h0M433.4 128.9h0M434.7 129.5h0M436.0 129.4h0M437.7 129.3h0M439.7 129.2h0M441.8 129.2h0M442.9 129.2h0M444.8 129.7h0M446.3 129.3h0M447.9 129.5h0M450.2 128.9h0M451.2 129.1h0M453.7 129.6h0M455.2 129.5h0M456.4 128.9h0M401.3 131.1h0M402.9 131.0h0M404.7 131.2h0M406.7 130.3h0M408.2 130.7h0M409.6 131.1h0M412.0 130.6h0M413.5 130.3h0M414.7 130.6h0M416.5 130.3h0M418.4 130.3h0M420.2 130.3h0M421.9 130.4h0M423.5 131.1h0M425.6 131.1h0M426.6 130.7h0M428.7 130.9h0M430.1 130.4h0M432.4 130.8h0M433.4 130.7h0M435.5 131.0h0M437.0 130.5h0M438.9 130.5h0M440.2 130.6h0M442.5 130.5h0M443.9 130.7h0M445.9 130.4h0M447.6 130.5h0M449.0 130.7h0M451.0 130.4h0M452.5 130.4h0M454.4 131.1h0M455.8 130.8h0M457.4 130.6h0M400.9 131.9h0M402.3 132.6h0M403.9 131.8h0M405.4 132.3h0M407.6 132.2h0M408.7 131.9h0M410.6 131.9h0M412.9 131.9h0M413.8 132.2h0M416.3 131.9h0M417.6 132.6h0M419.1 132.3h0M420.7 132.3h0M422.8 132.4h0M424.2 132.1h0M426.5 131.8h0M428.0 132.5h0M429.5 132.1h0M431.1 132.0h0M433.1 132.6h0M434.3 132.5h0M436.7 132.3h0M437.9 132.5h0M439.5 132.0h0M441.8 131.9h0M442.9 132.6h0M445.0 132.2h0M446.4 132.2h0M448.3 131.8h0M449.8 131.9h0M452.0 132.0h0M453.1 132.3h0M454.7 132.3h0M457.2 131.8h0M458.0 132.3h0M399.8 133.4h0M401.3 134.1h0M403.2 133.5h0M404.9 133.7h0M406.5 133.3h0M408.0 133.6h0M410.0 134.0h0M411.4 133.8h0M413.7 133.7h0M415.5 133.9h0M416.8 134.0h0M418.5 134.0h0M420.0 133.8h0M422.2 133.6h0M423.7 133.7h0M425.6 133.6h0M427.2 133.5h0M428.7 133.9h0M430.1 133.7h0M431.7 133.4h0M433.8 134.1h0M435.9 133.6h0M437.2 134.1h0M438.8 134.1h0M440.2 133.8h0M442.1 134.1h0M444.0 133.8h0M446.0 133.7h0M447.1 134.0h0M449.3 133.6h0M450.6 133.3h0M452.9 133.9h0M454.5 133.7h0M455.8 133.3h0M457.3 133.7h0M400.7 134.9h0M402.0 134.9h0M403.7 134.8h0M405.5 135.3h0M407.4 135.2h0M409.3 135.1h0M410.7 134.9h0M412.4 134.9h0M414.4 134.8h0M415.7 135.4h0M417.7 135.3h0M419.5 135.4h0M421.4 135.6h0M423.1 134.8h0M424.1 135.0h0M425.9 135.5h0M428.3 134.9h0M429.4 134.8h0M431.2 135.0h0M432.5 135.1h0M435.0 134.8h0M436.1 135.6h0M438.0 135.6h0M440.2 135.6h0M441.1 135.3h0M443.2 135.2h0M444.8 135.6h0M446.9 135.2h0M448.2 134.9h0M450.3 134.9h0M451.5 135.6h0M453.4 134.9h0M454.9 135.6h0M456.6 135.4h0M458.5 135.1h0M398.0 136.6h0M399.7 136.4h0M401.2 136.4h0M402.8 136.4h0M405.3 136.4h0M406.4 136.3h0M408.2 137.1h0M409.7 136.3h0M411.6 137.1h0M413.5 136.9h0M415.4 136.6h0M416.5 136.3h0M418.8 137.1h0M419.9 136.3h0M421.6 136.3h0M423.8 136.9h0M425.5 137.1h0M427.4 136.7h0M428.3 136.2h0M430.6 136.3h0M432.0 137.0h0M433.9 136.5h0M435.6 136.5h0M437.5 136.5h0M438.9 136.7h0M441.0 136.5h0M442.7 137.0h0M443.6 136.5h0M445.8 136.8h0M447.4 136.5h0M449.4 137.1h0M451.2 136.8h0M452.7 136.8h0M454.2 136.8h0M455.5 137.0h0M457.9 137.0h0M459.2 136.6h0M396.8 137.9h0M399.2 138.2h0M400.8 138.5h0M402.7 137.9h0M404.0 138.2h0M406.1 137.8h0M407.9 138.3h0M408.9 138.3h0M410.6 138.4h0M413.0 138.1h0M413.8 138.0h0M415.7 137.7h0M417.3 137.9h0M419.4 137.8h0M421.3 138.5h0M422.9 138.0h0M424.7 137.8h0M426.5 138.4h0M428.2 137.8h0M429.3 138.3h0M431.4 138.6h0M433.1 138.3h0M434.4 137.9h0M436.3 138.2h0M438.0 138.3h0M440.2 137.8h0M441.8 138.1h0M443.2 138.1h0M444.5 138.2h0M446.2 138.1h0M448.2 138.0h0M450.1 137.7h0M451.6 138.2h0M453.4 137.9h0M454.9 138.5h0M456.7 137.9h0M458.4 137.7h0M396.4 139.4h0M398.5 139.6h0M400.0 139.4h0M401.8 139.6h0M403.2 140.1h0M405.3 139.5h0M406.5 139.9h0M408.5 139.6h0M409.9 139.3h0M411.4 140.0h0M413.1 139.6h0M414.9 139.3h0M416.5 139.7h0M418.4 139.8h0M420.2 140.0h0M421.5 139.4h0M424.0 139.5h0M425.3 139.8h0M427.3 139.6h0M428.4 139.5h0M430.6 140.1h0M432.0 139.5h0M434.0 139.5h0M435.2 139.8h0M437.1 139.8h0M439.0 139.8h0M440.7 139.2h0M441.9 139.4h0M443.8 139.9h0M445.6 139.6h0M447.1 139.4h0M449.3 139.7h0M450.9 139.8h0M452.9 139.2h0M454.3 139.4h0M455.8 140.1h0M458.0 139.7h0M459.1 139.7h0M397.6 141.2h0M398.6 141.0h0M400.6 141.4h0M402.1 140.7h0M403.8 141.3h0M405.6 141.0h0M407.7 140.9h0M409.3 141.5h0M410.7 141.4h0M412.8 141.1h0M414.0 140.7h0M416.2 141.4h0M417.2 140.9h0M419.7 141.0h0M421.2 141.4h0M422.5 141.2h0M424.2 141.3h0M426.3 141.0h0M428.2 141.1h0M429.2 141.2h0M431.6 141.0h0M432.9 141.5h0M434.7 140.9h0M436.3 141.2h0M438.5 140.7h0M439.8 141.5h0M441.7 141.5h0M443.0 141.4h0M445.2 141.0h0M446.9 140.8h0M447.9 140.8h0M449.5 141.1h0M451.6 141.1h0M453.3 140.9h0M455.2 141.2h0M456.5 140.8h0M458.7 141.2h0M396.8 142.2h0M398.0 142.3h0M400.2 142.9h0M401.2 142.9h0M403.4 142.8h0M405.1 142.8h0M406.6 142.4h0M408.4 142.3h0M410.4 142.4h0M412.1 142.9h0M413.6 142.4h0M414.9 142.6h0M416.7 142.6h0M418.5 142.7h0M419.9 142.2h0M421.7 142.9h0M423.4 142.3h0M424.9 142.7h0M427.4 142.3h0M428.9 142.6h0M430.3 142.4h0M432.0 142.9h0M434.1 142.2h0M435.6 143.0h0M436.8 142.3h0M439.0 142.3h0M440.2 142.9h0M442.3 142.7h0M443.6 142.9h0M445.4 142.7h0M447.0 142.3h0M449.0 142.8h0M450.5 142.6h0M452.1 142.3h0M454.1 142.2h0M455.5 142.6h0M458.0 142.3h0M395.2 143.9h0M397.3 143.8h0M398.9 143.6h0M400.3 144.5h0M402.1 143.8h0M404.1 143.9h0M405.5 144.5h0M407.4 144.1h0M408.8 144.0h0M410.8 143.9h0M412.2 143.9h0M413.9 143.7h0M416.2 143.9h0M417.2 144.0h0M419.0 144.2h0M421.0 143.7h0M422.4 144.0h0M424.2 144.0h0M426.2 144.0h0M427.8 143.6h0M429.6 143.9h0M430.9 143.6h0M432.6 144.3h0M434.7 143.9h0M436.8 143.7h0M438.3 144.0h0M440.1 144.0h0M441.2 144.3h0M443.0 144.1h0M444.7 143.9h0M447.0 144.5h0M448.6 144.2h0M450.2 144.5h0M451.5 144.3h0M453.4 144.3h0M454.8 143.7h0M456.7 144.2h0M458.8 144.1h0M396.5 145.9h0M398.2 145.5h0M399.6 145.2h0M401.6 145.7h0M403.2 145.4h0M405.2 145.7h0M407.0 145.7h0M408.3 145.5h0M410.0 145.9h0M411.4 145.4h0M413.2 145.8h0M415.4 145.1h0M416.7 145.7h0M418.1 145.9h0M420.2 145.6h0M421.5 145.8h0M423.2 145.7h0M424.9 145.6h0M426.7 145.2h0M428.4 145.1h0M430.0 145.2h0M432.0 145.3h0M433.5 145.8h0M435.3 145.8h0M437.0 145.7h0M438.9 145.7h0M440.3 145.9h0M442.4 145.3h0M443.9 145.9h0M445.4 145.7h0M447.0 145.9h0M449.4 145.1h0M450.8 145.7h0M452.3 145.3h0M454.6 145.8h0M456.3 145.2h0M457.9 145.2h0M459.7 145.3h0M395.7 147.2h0M397.5 147.4h0M399.3 147.1h0M400.2 146.6h0M402.1 146.7h0M403.9 146.9h0M405.9 147.1h0M407.2 146.8h0M408.9 147.1h0M411.2 147.3h0M412.5 147.0h0M413.9 146.6h0M416.1 147.0h0M417.6 146.8h0M419.4 147.5h0M420.7 147.3h0M422.5 146.9h0M424.4 147.0h0M426.3 147.3h0M428.0 146.7h0M429.7 147.2h0M431.2 147.3h0M432.6 147.1h0M434.5 147.1h0M436.5 146.9h0M437.8 147.4h0M439.3 147.4h0M441.3 147.3h0M442.7 147.1h0M444.7 147.3h0M446.8 147.3h0M448.6 146.7h0M449.5 147.0h0M451.7 147.3h0M453.4 147.3h0M454.9 147.1h0M456.3 147.3h0M458.4 147.5h0M394.9 148.2h0M396.5 148.1h0M398.1 148.6h0M399.8 148.5h0M401.2 148.7h0M403.1 148.8h0M404.8 148.5h0M406.5 148.9h0M408.0 148.1h0M410.1 148.5h0M411.6 148.9h0M413.6 148.6h0M415.2 148.7h0M417.2 148.2h0M418.2 148.7h0M420.3 148.6h0M422.0 148.6h0M423.5 148.4h0M425.6 148.7h0M426.7 148.4h0M429.0 148.7h0M430.8 148.3h0M431.7 148.4h0M433.4 148.3h0M435.5 148.6h0M437.0 148.7h0M438.5 148.3h0M440.9 148.2h0M442.2 148.6h0M443.6 148.6h0M445.3 148.3h0M447.4 148.2h0M448.7 148.3h0M450.6 148.2h0M452.6 148.2h0M454.3 148.6h0M456.3 148.4h0M457.3 148.4h0M396.0 149.9h0M397.0 149.6h0M398.6 150.4h0M400.9 150.4h0M402.5 149.7h0M404.4 149.9h0M405.3 149.5h0M407.5 149.9h0M409.3 150.4h0M410.6 149.6h0M412.9 150.3h0M414.2 150.4h0M416.0 149.9h0M417.5 150.3h0M419.8 150.0h0M421.2 149.6h0M422.3 150.0h0M424.2 150.3h0M426.0 150.3h0M428.0 150.0h0M429.2 149.6h0M431.6 149.8h0M432.6 150.4h0M434.3 150.4h0M436.6 149.5h0M437.8 149.9h0M440.0 150.4h0M441.7 149.8h0M443.5 149.7h0M445.2 149.8h0M446.2 150.0h0M448.0 150.4h0M450.1 149.6h0M451.6 150.3h0M453.0 150.4h0M455.3 150.0h0M457.1 149.9h0M458.1 150.3h0M394.4 151.1h0M396.0 151.7h0M398.3 151.7h0M399.6 151.3h0M401.6 151.9h0M403.5 151.5h0M404.8 151.5h0M406.7 151.2h0M408.1 151.7h0M410.4 151.3h0M411.8 151.4h0M413.4 151.2h0M415.3 151.1h0M417.1 151.8h0M418.8 151.1h0M419.8 151.3h0M421.7 151.0h0M423.5 151.8h0M425.3 151.1h0M426.6 151.4h0M428.8 151.8h0M430.2 151.2h0M432.0 151.7h0M434.2 151.6h0M435.6 151.8h0M437.0 151.2h0M438.7 151.2h0M440.5 151.5h0M442.3 151.2h0M443.7 151.5h0M445.5 151.8h0M447.1 151.5h0M449.3 151.4h0M451.2 151.8h0M452.1 151.9h0M453.8 151.2h0M455.7 151.3h0M457.5 151.4h0M458.9 151.9h0M395.9 153.2h0M396.9 152.6h0M399.2 153.4h0M400.5 152.7h0M402.4 152.8h0M404.1 153.1h0M405.7 153.0h0M407.7 152.5h0M409.3 153.3h0M411.0 152.5h0M412.2 153.4h0M414.5 153.4h0M416.4 152.7h0M417.6 152.7h0M419.6 153.0h0M421.3 153.0h0M423.0 152.8h0M424.7 152.9h0M426.6 153.1h0M427.8 152.9h0M429.7 152.5h0M431.0 153.0h0M433.3 152.9h0M434.9 153.0h0M435.9 152.6h0M437.7 153.1h0M439.3 152.7h0M441.4 152.9h0M442.8 152.9h0M444.9 153.0h0M446.8 153.1h0M447.9 153.3h0M450.1 152.5h0M451.7 152.5h0M453.1 153.4h0M455.0 153.3h0M456.4 152.8h0M458.3 153.3h0M394.5 154.0h0M396.4 154.3h0M397.9 154.4h0M399.6 154.1h0M401.1 154.2h0M403.6 154.8h0M405.1 154.6h0M406.6 154.6h0M408.2 154.8h0M410.3 154.4h0M412.1 154.3h0M413.7 154.1h0M414.9 154.0h0M416.8 154.3h0M418.4 154.2h0M420.5 154.6h0M421.8 154.5h0M423.2 154.5h0M425.4 154.5h0M426.7 154.5h0M428.9 154.0h0M430.6 154.2h0M432.3 154.3h0M433.7 154.2h0M435.4 154.4h0M437.3 154.4h0M439.2 154.6h0M440.4 154.0h0M442.7 154.3h0M444.4 154.4h0M446.0 154.6h0M447.8 154.7h0M449.1 154.1h0M451.0 154.7h0M452.8 154.9h0M454.4 154.4h0M455.5 154.4h0M457.9 154.6h0M459.0 154.0h0M393.7 156.0h0M395.3 156.3h0M397.0 156.2h0M398.8 155.9h0M400.3 156.3h0M402.1 156.3h0M403.9 155.7h0M405.7 156.3h0M407.2 156.2h0M409.5 156.1h0M410.8 155.6h0M412.8 155.9h0M414.4 156.1h0M416.3 156.2h0M417.5 156.2h0M419.7 155.6h0M421.5 156.3h0M422.9 155.5h0M424.7 156.2h0M425.9 156.1h0M428.1 156.3h0M429.7 155.5h0M431.0 156.2h0M432.9 155.6h0M434.3 155.9h0M436.7 156.2h0M438.0 156.0h0M439.5 155.9h0M441.7 155.5h0M442.9 155.9h0M444.4 156.0h0M446.3 155.9h0M448.2 156.1h0M450.0 155.7h0M451.7 156.3h0M452.9 156.2h0M455.2 155.8h0M456.4 155.6h0M458.6 156.3h0M394.9 157.0h0M396.1 157.6h0M397.9 157.4h0M399.5 157.7h0M401.9 157.2h0M403.5 157.3h0M405.3 157.4h0M406.6 157.6h0M408.0 157.0h0M409.8 157.1h0M411.7 157.1h0M413.4 157.8h0M415.1 157.4h0M416.9 157.0h0M418.1 156.9h0M420.2 157.6h0M422.3 157.2h0M423.2 157.6h0M425.2 157.1h0M427.4 157.5h0M428.8 157.3h0M430.4 157.8h0M432.4 157.0h0M433.6 157.2h0M435.8 157.6h0M436.9 157.6h0M438.6 157.1h0M440.3 157.0h0M441.9 157.1h0M443.6 157.0h0M445.9 157.2h0M447.0 157.5h0M449.1 157.0h0M450.7 157.6h0M452.3 157.1h0M453.9 157.0h0M455.6 157.8h0M457.3 157.2h0M459.5 157.0h0M395.5 158.9h0M397.4 159.1h0M399.3 158.5h0M400.5 159.1h0M402.4 159.0h0M403.8 159.3h0M406.1 158.4h0M407.2 158.5h0M409.3 158.9h0M411.0 158.5h0M412.1 158.9h0M414.6 159.0h0M415.7 158.9h0M418.1 158.7h0M419.4 158.5h0M420.9 158.8h0M422.9 159.2h0M424.5 158.6h0M426.0 158.6h0M428.0 158.7h0M429.4 158.7h0M431.1 158.4h0M433.3 159.1h0M434.6 158.6h0M435.9 158.5h0M438.0 159.2h0M439.6 158.9h0M441.2 159.2h0M442.8 158.5h0M444.5 159.0h0M446.4 158.6h0M448.3 159.3h0M449.6 158.6h0M451.3 159.1h0M453.3 158.8h0M454.7 158.7h0M456.3 159.0h0M396.5 160.5h0M398.2 160.6h0M399.6 160.1h0M401.7 160.2h0M402.9 160.4h0M405.2 160.3h0M406.7 159.9h0M408.7 160.0h0M409.7 160.3h0M411.6 160.5h0M413.2 160.6h0M415.3 160.0h0M416.8 160.7h0M418.5 159.9h0M419.9 160.8h0M421.9 160.1h0M423.2 160.0h0M425.4 160.5h0M427.0 160.4h0M428.3 160.1h0M430.1 160.6h0M432.4 160.4h0M434.2 159.9h0M435.5 160.1h0M437.5 160.0h0M438.5 160.8h0M440.3 160.6h0M442.1 160.4h0M444.4 160.7h0M445.9 160.7h0M447.5 160.1h0M448.8 160.7h0M451.0 160.7h0M452.3 160.7h0M453.8 159.9h0M455.8 160.1h0M397.1 162.1h0M398.8 161.4h0M401.1 162.2h0M402.5 162.1h0M404.0 161.4h0M405.4 162.1h0M407.7 161.7h0M409.3 162.2h0M410.7 162.0h0M412.1 162.0h0M414.3 162.1h0M416.1 161.7h0M418.1 161.7h0M419.0 161.7h0M420.6 162.2h0M422.8 162.0h0M424.8 162.2h0M425.7 162.2h0M427.6 161.5h0M429.9 161.5h0M431.6 161.6h0M433.1 161.4h0M434.4 161.6h0M436.4 161.9h0M438.5 162.2h0M439.9 161.8h0M441.3 161.5h0M443.4 161.5h0M445.2 161.8h0M446.8 162.2h0M448.2 161.6h0M449.7 161.6h0M451.6 161.6h0M453.7 162.2h0M454.9 162.2h0M456.5 162.2h0M398.5 163.5h0M399.5 163.2h0M401.6 163.2h0M403.2 163.7h0M404.7 163.5h0M406.4 163.5h0M408.1 163.4h0M409.9 163.5h0M411.4 162.9h0M413.8 163.7h0M415.1 162.9h0M417.0 162.9h0M418.3 163.6h0M420.2 162.9h0M421.6 163.7h0M423.5 163.2h0M425.5 163.5h0M427.2 163.7h0M428.5 163.2h0M430.4 163.6h0M432.4 163.3h0M433.9 163.5h0M435.4 162.9h0M437.6 163.5h0M439.3 163.4h0M440.2 163.1h0M442.7 163.3h0M444.2 163.3h0M445.6 163.6h0M447.4 162.9h0M449.2 162.9h0M450.7 163.5h0M452.6 163.6h0M453.9 163.7h0M455.8 163.7h0M398.8 165.0h0M400.3 164.7h0M402.6 164.6h0M404.2 165.1h0M405.5 164.9h0M407.1 164.8h0M408.9 164.7h0M410.6 164.5h0M412.2 164.8h0M414.4 164.7h0M415.9 164.9h0M417.4 164.8h0M419.6 165.2h0M421.2 164.6h0M422.3 165.1h0M424.3 164.7h0M425.9 165.1h0M427.9 164.3h0M429.1 164.7h0M431.2 164.9h0M432.7 164.8h0M434.9 164.6h0M436.6 165.0h0M438.4 165.1h0M439.9 165.0h0M441.2 165.1h0M443.3 164.8h0M444.8 164.9h0M446.1 164.5h0M448.0 165.0h0M450.3 164.9h0M451.4 164.4h0M453.5 164.4h0M397.7 165.8h0M399.7 166.5h0M401.8 165.9h0M403.3 165.8h0M405.2 166.4h0M406.6 166.2h0M408.6 166.5h0M410.1 166.4h0M411.9 166.4h0M413.8 166.4h0M415.2 166.4h0M417.0 166.1h0M418.1 166.6h0M419.9 166.2h0M421.6 166.5h0M423.7 166.6h0M425.6 166.0h0M426.9 166.5h0M428.9 166.1h0M430.8 166.4h0M432.4 166.4h0M434.0 166.7h0M435.1 165.8h0M437.4 166.5h0M439.3 166.3h0M440.2 166.1h0M442.5 165.9h0M443.6 166.7h0M446.0 166.1h0M447.0 165.9h0M448.8 166.4h0M451.1 165.9h0M452.7 166.7h0M454.0 165.9h0M398.9 167.6h0M400.9 167.7h0M401.9 167.6h0M404.1 167.4h0M405.3 167.7h0M407.4 167.9h0M409.6 167.4h0M410.7 167.6h0M412.7 167.4h0M414.2 168.1h0M416.1 168.0h0M417.5 167.3h0M419.0 168.1h0M421.5 168.1h0M422.5 167.9h0M424.7 167.9h0M426.5 168.0h0M427.4 168.1h0M429.6 168.1h0M431.0 167.5h0M433.1 167.6h0M434.5 167.5h0M436.5 167.5h0M437.7 168.1h0M439.9 167.9h0M441.6 167.8h0M442.7 167.7h0M444.6 167.7h0M446.7 167.7h0M448.4 167.9h0M450.1 168.0h0M451.3 167.4h0M399.6 168.8h0M403.3 169.2h0M405.0 169.6h0M406.6 169.6h0M408.7 169.4h0M409.7 169.3h0M412.1 169.2h0M413.0 169.3h0M415.1 169.2h0M416.8 169.2h0M418.5 169.4h0M420.2 169.6h0M421.6 169.6h0M423.8 169.5h0M424.9 168.9h0M427.3 169.5h0M429.0 169.6h0M430.7 168.8h0M432.3 169.6h0M433.6 169.0h0M435.3 169.2h0M437.4 168.9h0M438.5 168.8h0M441.0 168.9h0M442.0 169.3h0M444.0 169.2h0M446.1 169.4h0M447.3 169.4h0M449.5 169.3h0M450.9 168.9h0M452.7 169.3h0M404.5 170.5h0M405.8 170.9h0M407.8 170.9h0M409.0 170.5h0M410.6 171.1h0M412.3 171.0h0M414.1 170.3h0M415.7 170.9h0M417.2 170.6h0M419.5 170.3h0M421.0 170.3h0M423.1 170.8h0M424.4 170.3h0M426.2 170.5h0M427.8 171.0h0M429.7 170.4h0M431.6 170.3h0M432.7 170.6h0M434.7 170.6h0M436.6 170.6h0M438.2 170.9h0M439.3 170.3h0M441.6 170.6h0M443.0 170.6h0M444.9 170.7h0M446.4 170.4h0M448.0 170.5h0M450.1 170.7h0M404.8 172.3h0M406.2 172.3h0M408.3 172.2h0M410.3 172.4h0M411.6 171.8h0M413.5 171.8h0M415.1 172.6h0M417.0 172.0h0M418.9 172.2h0M420.6 171.9h0M422.1 172.0h0M423.3 172.2h0M425.4 172.5h0M426.6 172.4h0M428.5 172.5h0M430.8 172.4h0M431.8 172.5h0M433.6 172.3h0M435.9 171.7h0M437.6 171.9h0M439.0 171.9h0M440.3 172.2h0M442.7 172.2h0M443.6 171.8h0M445.9 172.5h0M447.6 172.0h0M449.1 171.8h0M407.1 173.3h0M409.4 173.3h0M411.0 173.7h0M412.2 174.0h0M413.9 173.7h0M415.8 173.7h0M417.4 173.3h0M419.4 173.3h0M421.4 173.3h0M422.9 173.9h0M424.6 173.7h0M426.2 174.0h0M428.0 173.9h0M429.4 173.4h0M430.9 173.8h0M433.3 173.2h0M434.3 173.9h0M436.3 174.1h0M437.7 173.3h0M439.8 173.8h0M441.9 174.1h0M443.1 173.9h0M445.0 173.6h0M446.3 173.6h0M447.9 173.6h0M408.3 175.4h0M410.4 175.4h0M411.6 174.7h0M413.8 174.9h0M414.9 175.4h0M416.7 175.3h0M418.9 175.2h0M420.3 175.2h0M422.0 175.5h0M423.2 175.1h0M425.6 174.9h0M426.6 175.2h0M428.4 175.5h0M430.8 175.4h0M431.8 174.9h0M433.4 175.1h0M435.2 175.4h0M437.6 175.1h0M438.5 175.1h0M441.0 175.3h0M442.1 175.1h0M444.1 175.0h0M445.6 174.9h0M412.8 176.7h0M414.6 176.8h0M415.6 176.5h0M418.1 176.3h0M419.0 176.2h0M421.2 176.9h0M422.8 176.9h0M424.4 176.6h0M425.9 176.3h0M427.9 176.5h0M429.5 176.9h0M430.9 176.6h0M433.4 176.4h0M434.6 176.6h0M436.8 176.9h0M438.3 176.5h0M439.3 177.0h0M441.4 176.5h0M414.8 177.9h0M416.7 178.2h0M418.3 177.8h0M419.9 177.8h0M422.0 178.0h0M423.7 178.1h0M425.1 178.1h0M427.4 177.9h0M429.1 178.0h0M430.6 178.1h0M432.1 178.0h0M433.6 178.0h0M435.4 177.7h0M436.9 178.5h0M438.6 177.8h0M424.6 179.8h0M427.6 179.4h0M429.5 179.2h0M395.8 139.3h0M414.6 119.5h0M408.2 122.8h0M396.5 167.8h0M397.8 134.4h0M447.7 175.1h0M403.4 129.4h0M411.1 177.0h0M448.3 119.5h0M445.0 117.2h0M441.8 112.9h0M393.3 154.1h0M444.0 175.3h0M461.0 135.3h0M392.2 156.7h0M459.1 157.1h0M450.1 118.2h0M458.6 164.8h0M417.6 178.4h0M455.6 129.5h0M394.2 156.9h0M398.1 167.1h0M419.9 116.7h0M459.8 158.9h0M429.2 114.7h0M395.0 137.2h0M415.9 117.7h0M450.5 117.3h0M420.6 179.7h0M395.6 140.6h0M430.6 112.8h0M459.5 133.1h0M460.6 137.7h0M411.5 175.7h0M392.8 156.0h0M389.4 200.1h0M388.5 201.3h0M390.3 201.0h0M386.4 201.7h0M387.1 201.9h0M487.8 104.5h0M489.4 103.8h0M487.3 105.9h0M489.1 105.4h0M486.7 107.6h0M488.2 106.7h0M489.3 107.0h0M485.3 108.7h0M486.8 108.3h0M489.1 108.8h0M485.8 110.4h0M487.7 110.0h0M489.5 110.2h0M483.9 111.6h0M485.7 111.9h0M487.1 111.6h0M488.6 111.2h0M483.3 112.9h0M484.8 113.3h0M485.9 113.1h0M487.8 113.3h0M483.4 114.5h0M485.8 114.2h0M487.1 114.9h0M481.5 115.7h0M483.0 116.1h0M484.3 116.0h0M485.9 116.4h0M480.8 117.2h0M481.6 117.3h0M483.9 117.8h0M485.3 117.2h0M487.5 117.2h0M479.5 118.5h0M481.1 119.4h0M482.5 119.0h0M484.7 119.3h0M479.0 120.1h0M480.6 120.5h0M481.9 120.2h0M483.9 120.9h0M478.0 121.6h0M479.6 121.9h0M481.0 121.5h0M482.8 122.0h0M484.9 122.2h0M477.4 123.0h0M478.6 123.1h0M480.4 123.1h0M481.8 123.3h0M484.1 123.4h0M481.2 125.1h0M483.1 124.5h0M486.6 123.0h0M477.7 122.0h0M489.1 105.0h0M489.9 107.5h0M481.5 126.1h0M488.2 116.1h0M490.8 105.2h0M486.3 118.2h0M489.0 117.3h0M494.1 105.5h0M495.5 106.2h0M497.6 105.8h0M494.9 107.7h0M496.5 106.9h0M497.8 107.2h0M494.0 108.3h0M495.6 109.1h0M497.2 108.7h0M498.5 108.7h0M494.5 110.4h0M498.3 110.1h0M495.7 111.8h0M494.5 104.1h0M492.3 110.9h0M494.3 112.6h0M495.0 106.1h0M490.3 115.7h0M492.2 116.4h0M493.8 116.2h0M487.4 117.7h0M489.5 117.3h0M491.2 117.2h0M492.5 117.5h0M494.5 117.3h0M496.0 117.2h0M488.5 119.0h0M490.5 119.0h0M492.1 119.2h0M493.8 119.4h0M495.1 119.3h0M496.7 119.3h0M487.9 120.3h0M489.0 120.1h0M491.1 120.2h0M493.2 120.6h0M494.7 120.8h0M495.8 120.9h0M498.3 120.4h0M499.4 120.8h0M486.8 121.6h0M488.2 122.3h0M490.4 122.2h0M491.8 122.2h0M493.2 122.0h0M495.0 122.1h0M496.7 122.1h0M499.1 122.0h0M485.9 123.6h0M487.6 123.3h0M489.2 123.0h0M490.9 123.5h0M493.0 123.6h0M494.5 123.2h0M496.2 123.4h0M497.9 123.1h0M499.8 123.4h0M501.1 123.4h0M502.9 123.7h0M504.4 123.5h0M485.1 124.7h0M486.7 125.2h0M488.9 125.2h0M490.3 125.3h0M492.1 125.1h0M493.7 125.2h0M495.4 125.2h0M496.7 124.5h0M498.9 124.8h0M500.1 124.7h0M501.8 125.0h0M504.1 125.0h0M505.4 125.1h0M486.0 126.1h0M487.2 126.6h0M489.4 126.0h0M490.7 126.5h0M492.4 126.1h0M494.5 126.1h0M496.5 126.8h0M497.6 126.6h0M499.6 126.1h0M501.4 126.6h0M502.6 126.2h0M504.7 126.4h0M506.0 125.9h0M487.0 127.7h0M488.6 127.4h0M490.1 128.1h0M491.6 128.2h0M493.4 127.8h0M495.4 127.5h0M496.8 128.2h0M498.4 128.3h0M500.4 128.2h0M502.0 127.9h0M504.0 128.2h0M505.3 127.4h0M486.3 129.4h0M487.6 129.0h0M489.5 129.2h0M490.6 129.4h0M492.9 129.6h0M494.1 129.4h0M496.4 129.6h0M498.0 129.1h0M499.2 129.2h0M501.3 129.8h0M503.1 129.4h0M504.4 129.1h0M506.7 129.5h0M486.6 131.0h0M488.5 130.6h0M490.7 131.0h0M492.1 130.8h0M493.7 130.5h0M494.9 131.0h0M496.6 130.9h0M499.1 131.2h0M500.4 131.1h0M502.6 130.9h0M503.7 131.2h0M505.6 130.8h0M507.3 131.2h0M487.6 132.1h0M489.8 132.6h0M490.9 132.0h0M492.8 132.5h0M494.3 132.7h0M495.9 132.4h0M498.3 132.0h0M499.8 132.7h0M501.6 132.0h0M502.7 132.2h0M504.5 132.3h0M506.5 132.1h0M488.6 133.4h0M490.6 133.7h0M492.0 133.8h0M493.2 133.4h0M494.9 133.8h0M497.4 134.2h0M498.6 134.0h0M500.8 134.1h0M501.8 133.9h0M503.9 133.8h0M505.3 133.5h0M489.7 135.3h0M491.0 135.1h0M492.6 135.6h0M494.4 134.9h0M495.8 135.2h0M498.2 135.5h0M499.6 135.4h0M501.1 134.9h0M503.1 135.0h0M505.1 135.6h0M490.7 136.7h0M491.9 137.1h0M493.4 136.8h0M495.2 136.4h0M497.3 136.4h0M499.1 137.0h0M500.3 136.5h0M502.2 136.4h0M503.9 137.1h0M505.3 136.5h0M491.3 138.5h0M492.5 138.5h0M494.6 138.2h0M495.8 138.3h0M498.3 138.0h0M499.7 138.0h0M501.3 138.5h0M503.3 138.1h0M504.3 138.3h0M490.4 139.8h0M492.2 139.8h0M493.3 139.5h0M495.7 139.9h0M497.2 140.1h0M499.0 139.6h0M500.1 140.1h0M502.4 140.0h0M503.7 139.6h0M490.8 141.1h0M493.2 141.2h0M494.5 141.6h0M496.3 141.0h0M497.9 140.9h0M499.6 140.9h0M501.3 141.4h0M502.6 141.3h0M492.2 142.9h0M493.3 143.1h0M494.9 142.3h0M497.4 142.6h0M498.7 142.6h0M500.8 142.7h0M502.5 142.6h0M490.9 144.3h0M492.5 144.4h0M494.2 144.3h0M496.6 144.5h0M497.6 144.5h0M499.5 143.7h0M501.4 143.9h0M492.1 145.8h0M493.3 145.4h0M495.5 145.7h0M496.6 145.6h0M499.1 145.6h0M495.1 116.8h0M488.6 141.3h0M504.5 122.7h0M490.1 143.4h0M485.7 121.3h0M487.9 133.9h0M490.9 115.8h0M488.6 142.9h0M500.1 145.9h0M484.3 127.5h0M493.4 115.4h0M492.9 144.9h0M506.1 126.1h0M485.0 134.0h0M463.6 125.5h0M466.1 125.8h0M467.1 125.3h0M468.8 125.6h0M463.0 127.3h0M464.8 126.7h0M466.2 127.1h0M467.9 127.6h0M469.8 127.1h0M471.4 127.3h0M462.3 128.4h0M463.6 128.5h0M465.3 128.3h0M467.4 128.6h0M469.2 128.3h0M471.2 128.5h0M472.2 128.5h0M474.6 128.2h0M461.5 129.8h0M463.2 130.2h0M465.1 129.9h0M466.3 130.0h0M468.7 130.0h0M469.8 129.7h0M471.7 130.2h0M473.0 130.4h0M474.7 130.0h0M462.3 131.2h0M464.4 131.7h0M465.3 132.0h0M467.3 131.2h0M469.1 132.0h0M471.2 131.7h0M472.6 132.1h0M474.1 131.4h0M461.2 133.0h0M463.6 132.9h0M465.1 132.7h0M466.9 133.1h0M468.7 133.0h0M469.6 132.7h0M471.4 133.2h0M473.1 133.3h0M460.2 134.3h0M462.6 134.2h0M464.0 134.6h0M465.8 134.9h0M467.0 134.2h0M468.8 134.2h0M462.8 135.8h0M464.5 135.9h0M466.1 135.6h0M460.5 130.5h0M460.1 131.4h0M476.7 130.5h0M462.3 137.0h0M463.9 135.9h0M460.2 132.0h0M470.6 133.2h0M474.8 131.0h0M476.5 131.6h0M478.3 131.5h0M480.0 131.6h0M482.0 131.0h0M483.3 131.1h0M474.0 132.6h0M475.6 132.5h0M477.8 132.3h0M479.4 132.9h0M481.0 132.7h0M483.1 133.0h0M484.6 132.7h0M473.7 134.4h0M474.7 134.4h0M476.7 134.5h0M478.7 134.3h0M479.9 134.6h0M482.0 134.3h0M483.4 134.0h0M485.6 133.8h0M474.3 135.9h0M476.1 135.8h0M478.0 135.4h0M479.4 135.5h0M481.0 135.2h0M482.3 135.6h0M484.6 135.8h0M473.8 136.7h0M475.0 136.9h0M476.4 136.7h0M478.1 137.1h0M480.0 137.5h0M481.9 136.8h0M483.2 136.8h0M485.1 137.5h0M475.9 138.7h0M477.7 138.3h0M478.9 138.8h0M480.8 138.6h0M482.8 138.5h0M484.5 138.4h0M478.7 140.2h0M480.3 140.1h0M482.1 139.7h0M483.5 140.1h0M484.9 139.9h0M479.3 141.2h0M481.3 141.5h0M482.9 141.2h0M472.6 137.4h0M481.0 128.4h0M486.2 136.0h0M471.5 131.0h0M483.3 142.4h0M482.1 130.8h0M471.0 135.4h0M456.1 144.5h0M457.9 144.0h0M461.5 144.4h0M463.3 144.0h0M455.4 145.6h0M457.2 145.4h0M458.4 145.7h0M460.0 145.9h0M461.7 145.9h0M463.8 145.8h0M455.7 147.3h0M457.9 147.5h0M459.4 147.1h0M461.1 147.4h0M462.4 146.8h0M457.1 148.9h0M458.7 148.9h0M460.3 148.2h0M461.8 148.6h0M463.3 148.4h0M465.2 149.0h0M456.3 150.2h0M457.7 149.8h0M459.5 150.5h0M461.3 150.3h0M463.2 150.5h0M464.1 150.1h0M466.2 149.8h0M457.3 151.9h0M458.3 151.5h0M460.4 151.3h0M461.6 151.3h0M463.3 151.7h0M465.8 152.0h0M457.7 152.7h0M459.3 153.0h0M461.5 152.9h0M462.7 153.1h0M464.1 153.5h0M456.7 154.4h0M458.3 154.2h0M460.7 154.8h0M462.0 154.2h0M455.8 156.3h0M457.8 156.1h0M459.6 156.1h0M460.9 156.0h0M456.6 157.9h0M459.0 157.2h0M460.1 157.2h0M459.9 158.7h0M461.1 158.6h0M459.0 160.1h0M460.7 160.0h0M461.8 144.8h0M462.6 144.2h0M461.3 154.7h0M464.7 143.6h0M457.0 152.1h0M457.3 142.3h0M466.3 147.4h0M457.9 143.2h0M477.5 146.9h0M476.6 147.8h0M478.0 148.4h0M480.2 148.1h0M481.3 148.4h0M475.7 149.7h0M477.7 150.1h0M478.8 150.1h0M480.7 149.5h0M482.6 150.1h0M476.5 151.5h0M478.0 151.3h0M480.3 151.3h0M482.2 150.9h0M483.7 151.1h0M475.5 153.1h0M477.2 152.6h0M479.5 152.2h0M480.4 152.9h0M482.3 152.7h0M484.0 152.4h0M485.8 152.9h0M475.3 154.2h0M477.0 154.3h0M478.5 154.5h0M479.9 153.9h0M481.5 153.9h0M483.9 153.9h0M485.3 153.8h0M474.4 156.0h0M475.7 155.9h0M477.1 155.8h0M479.4 155.9h0M481.1 155.5h0M482.6 155.8h0M484.6 156.0h0M486.4 155.3h0M476.7 156.9h0M478.3 157.4h0M479.7 157.5h0M481.3 157.4h0M483.6 157.4h0M484.7 157.5h0M486.8 156.7h0M479.3 159.0h0M480.5 158.9h0M482.9 158.1h0M484.0 158.5h0M485.7 158.6h0M488.0 158.3h0M480.4 160.2h0M482.1 160.0h0M483.7 159.6h0M484.9 160.1h0M480.5 161.7h0M485.5 162.2h0M475.1 159.5h0M476.1 160.2h0M482.0 148.1h0M486.3 152.1h0M487.3 161.1h0M487.7 155.2h0M498.0 145.6h0M500.5 145.6h0M497.3 146.7h0M499.3 147.0h0M500.9 147.1h0M502.4 146.8h0M496.9 148.4h0M498.7 148.6h0M500.4 148.5h0M501.6 148.4h0M503.1 148.8h0M505.2 148.7h0M495.5 149.6h0M497.7 149.5h0M499.6 149.6h0M500.8 149.8h0M502.4 149.7h0M503.9 149.4h0M506.1 150.3h0M507.7 150.1h0M495.1 151.4h0M497.0 151.2h0M498.5 151.5h0M499.8 151.7h0M501.4 151.1h0M503.7 151.5h0M505.6 151.7h0M507.0 151.3h0M508.8 151.7h0M510.1 151.6h0M511.7 151.1h0M494.6 152.8h0M496.0 152.7h0M497.2 152.4h0M499.1 152.7h0M500.5 152.5h0M503.0 152.5h0M504.0 153.2h0M506.4 153.0h0M508.1 153.0h0M509.8 152.4h0M511.3 152.8h0M512.8 153.2h0M496.9 153.8h0M498.7 154.2h0M499.6 154.2h0M502.0 154.4h0M503.9 154.5h0M505.1 153.8h0M506.7 154.1h0M508.5 154.5h0M510.6 154.2h0M512.2 154.0h0M513.8 153.9h0M497.5 155.5h0M499.1 155.4h0M501.0 155.9h0M502.2 155.5h0M504.7 156.0h0M506.4 155.9h0M507.5 155.6h0M509.2 155.8h0M511.1 155.8h0M512.7 156.1h0M500.1 156.8h0M501.4 157.6h0M503.3 157.4h0M505.4 156.9h0M506.8 156.8h0M508.2 157.6h0M510.2 157.1h0M511.6 157.3h0M499.1 158.5h0M501.1 158.3h0M503.0 159.0h0M504.5 158.5h0M506.3 158.7h0M507.7 158.4h0M509.7 159.0h0M510.7 158.9h0M500.2 160.0h0M501.6 160.1h0M503.1 159.9h0M505.3 160.5h0M506.6 160.0h0M508.3 160.5h0M510.4 160.0h0M501.1 161.2h0M502.4 161.6h0M504.2 161.5h0M507.7 161.4h0M502.1 163.0h0M505.1 150.6h0M505.9 163.4h0M507.1 161.3h0M510.8 151.7h0M514.7 155.2h0M502.8 162.7h0M514.7 156.0h0M496.3 154.9h0M507.4 161.1h0M511.1 161.5h0M469.5 150.0h0M468.7 150.7h0M470.2 151.4h0M469.3 152.9h0M471.1 152.4h0M469.0 154.5h0M469.8 154.0h0M469.3 155.3h0M471.2 155.4h0M470.6 157.4h0M469.5 158.7h0M470.2 159.7h0M470.3 150.8h0M468.0 150.9h0M472.0 151.7h0M467.0 153.3h0M471.8 161.3h0M472.9 161.2h0M469.2 162.7h0M470.6 162.8h0M472.6 162.4h0M473.9 162.5h0M475.4 162.6h0M476.9 162.3h0M468.0 164.0h0M470.0 163.8h0M471.1 163.7h0M473.2 163.9h0M474.8 164.0h0M476.6 163.5h0M478.4 163.8h0M479.6 164.1h0M468.6 165.2h0M470.4 165.6h0M472.0 165.4h0M473.6 165.5h0M475.8 165.1h0M477.6 165.6h0M479.0 165.0h0M480.3 165.4h0M482.1 165.5h0M467.8 166.8h0M470.1 167.0h0M471.4 167.2h0M472.7 167.1h0M474.6 166.4h0M476.6 166.9h0M478.3 167.2h0M480.0 166.9h0M481.2 167.1h0M482.8 167.2h0M465.5 168.0h0M467.4 168.0h0M469.2 168.2h0M470.8 168.0h0M472.5 168.0h0M473.9 168.6h0M475.7 168.3h0M477.1 168.6h0M478.8 168.1h0M481.1 168.1h0M465.9 169.3h0M467.6 169.8h0M469.3 169.6h0M471.4 169.9h0M473.3 169.8h0M470.2 171.3h0M476.1 169.6h0M477.7 165.2h0M466.4 166.8h0M465.5 169.7h0M465.6 162.1h0M475.7 168.9h0M479.1 167.6h0M470.5 161.0h0M489.9 161.1h0M491.4 161.1h0M492.7 161.6h0M494.3 161.4h0M497.7 161.5h0M488.9 162.8h0M490.1 163.1h0M491.9 162.5h0M493.9 163.2h0M495.3 163.2h0M497.4 162.5h0M498.6 163.1h0M500.3 163.0h0M487.9 164.4h0M489.9 164.4h0M491.1 164.1h0M493.1 164.2h0M495.0 164.3h0M496.4 164.3h0M497.9 164.4h0M499.8 164.1h0M501.8 164.3h0M486.8 165.6h0M488.6 165.7h0M490.6 166.2h0M492.4 166.0h0M494.1 166.0h0M495.3 166.2h0M497.3 166.2h0M498.8 165.9h0M500.6 165.4h0M502.4 165.9h0M482.8 167.3h0M484.7 167.5h0M486.5 166.9h0M487.8 167.4h0M489.6 167.3h0M491.0 167.1h0M493.0 167.3h0M494.3 167.6h0M496.3 167.4h0M498.5 167.7h0M500.1 167.2h0M501.8 167.6h0M484.1 169.2h0M485.7 168.5h0M487.1 169.2h0M488.8 168.9h0M490.1 169.1h0M492.5 169.2h0M493.5 168.7h0M495.8 168.5h0M497.3 168.4h0M498.6 169.0h0M501.0 168.7h0M502.2 169.2h0M503.8 168.7h0M484.9 170.3h0M486.5 170.0h0M488.2 170.7h0M489.8 170.2h0M491.4 170.6h0M493.0 170.0h0M494.8 170.1h0M496.1 170.3h0M498.0 170.5h0M499.6 170.0h0M501.8 169.9h0M503.4 170.3h0M504.8 170.5h0M507.0 170.6h0M486.9 172.0h0M490.2 171.5h0M492.3 171.7h0M493.5 172.1h0M495.3 171.8h0M497.3 172.0h0M499.3 171.4h0M500.4 171.8h0M502.8 172.1h0M503.9 172.1h0M505.4 171.9h0M507.1 171.9h0M493.4 173.5h0M494.5 173.3h0M496.0 173.4h0M497.7 173.1h0M499.4 173.6h0M501.5 173.5h0M503.5 173.6h0M504.7 173.6h0M506.6 173.1h0M508.4 173.0h0M497.6 175.1h0M498.8 174.6h0M500.4 174.3h0M502.1 175.0h0M504.4 174.3h0M506.0 174.7h0M509.2 174.6h0M506.1 167.9h0M492.1 175.7h0M498.3 161.9h0M509.5 170.4h0M491.1 159.7h0M504.7 177.5h0M499.3 160.0h0M486.1 171.7h0M490.5 158.5h0M501.3 163.4h0M510.3 171.6h0M475.8 172.8h0M474.9 174.3h0M476.3 174.5h0M478.3 174.3h0M482.0 173.9h0M483.4 173.9h0M475.5 175.9h0M477.1 175.4h0M478.8 175.9h0M480.4 175.7h0M482.3 175.1h0M484.3 175.8h0M475.2 177.4h0M476.2 176.8h0M477.9 176.8h0M479.7 177.0h0M482.0 177.3h0M483.6 176.9h0M485.1 177.2h0M472.6 178.8h0M473.7 178.1h0M475.5 178.6h0M477.0 178.4h0M479.1 178.3h0M482.1 178.7h0M474.8 180.0h0M476.9 180.2h0M478.2 180.0h0M474.0 181.3h0M476.1 181.3h0M477.5 181.0h0M485.6 177.1h0M473.2 181.8h0M478.3 172.7h0M471.9 174.5h0M475.4 181.0h0M483.8 173.9h0M459.5 168.0h0M460.9 168.8h0M457.2 170.1h0M458.4 169.5h0M460.5 170.1h0M456.2 171.2h0M458.0 171.1h0M459.4 171.2h0M461.1 171.0h0M457.2 172.8h0M458.5 173.2h0M460.6 173.0h0M461.5 172.5h0M456.0 174.7h0M457.4 174.3h0M459.5 174.6h0M461.5 173.9h0M464.0 174.7h0M456.5 175.6h0M458.4 175.9h0M460.2 175.5h0M462.1 176.0h0M463.4 175.6h0M465.6 176.1h0M458.0 177.6h0M459.0 177.1h0M461.4 177.5h0M463.1 177.2h0M464.7 177.5h0M456.9 178.8h0M458.5 179.2h0M460.0 179.0h0M462.0 178.4h0M463.5 179.0h0M465.1 178.7h0M457.2 180.1h0M459.3 180.2h0M461.4 179.9h0M462.7 180.1h0M464.6 180.0h0M456.4 182.0h0M458.2 181.7h0M459.8 181.4h0M461.9 181.8h0M463.2 181.9h0M458.1 183.7h0M459.6 183.5h0M461.4 183.4h0M463.0 183.4h0M457.3 179.9h0M455.9 171.9h0M461.9 185.2h0M457.0 174.9h0M464.6 181.1h0M457.6 179.1h0M462.8 170.2h0M486.7 179.7h0M487.8 180.4h0M489.6 180.1h0M491.4 179.9h0M480.4 181.8h0M481.7 182.0h0M483.9 182.0h0M485.2 181.2h0M486.9 182.0h0M488.9 181.3h0M490.6 181.7h0M492.6 181.2h0M494.1 181.2h0M496.0 181.5h0M480.0 182.6h0M481.4 183.5h0M483.0 183.4h0M485.0 183.0h0M486.4 182.8h0M487.8 182.7h0M489.6 183.0h0M492.0 183.0h0M493.6 182.9h0M495.3 182.8h0M496.9 183.2h0M498.7 183.3h0M500.4 182.8h0M478.9 185.0h0M480.7 184.9h0M482.0 184.1h0M484.0 184.5h0M485.8 184.4h0M487.5 184.1h0M488.6 184.2h0M490.6 184.7h0M492.5 184.6h0M493.7 184.2h0M495.9 184.4h0M497.7 184.5h0M498.9 184.8h0M500.7 184.8h0M502.1 184.8h0M474.3 186.3h0M476.0 185.8h0M477.5 186.1h0M479.3 185.9h0M480.9 185.6h0M483.3 186.4h0M484.3 185.8h0M486.7 186.1h0M488.3 186.4h0M489.6 186.4h0M491.8 185.7h0M493.0 185.9h0M495.0 186.0h0M496.4 185.7h0M498.3 186.3h0M499.9 186.5h0M501.8 185.7h0M503.0 186.0h0M472.2 187.2h0M473.7 187.9h0M475.0 187.2h0M476.9 187.3h0M478.7 187.3h0M480.6 187.4h0M481.8 187.7h0M483.8 187.3h0M485.7 187.4h0M487.6 187.9h0M489.1 187.4h0M490.2 187.1h0M492.4 187.3h0M494.1 187.1h0M495.4 187.7h0M497.5 187.6h0M499.6 187.3h0M500.7 187.5h0M502.3 187.9h0M470.9 189.2h0M473.2 189.4h0M474.8 188.7h0M476.7 188.8h0M477.6 189.0h0M479.8 188.7h0M481.0 189.3h0M483.4 188.7h0M484.6 189.1h0M486.4 189.0h0M488.5 188.9h0M489.5 189.1h0M491.8 189.4h0M493.7 189.4h0M494.6 188.7h0M496.8 188.7h0M498.5 188.6h0M500.1 188.8h0M501.7 189.2h0M470.1 190.1h0M471.9 190.5h0M474.0 190.9h0M475.1 190.2h0M477.3 190.4h0M478.3 190.4h0M480.6 190.3h0M482.3 190.5h0M484.3 190.4h0M485.2 190.5h0M487.3 190.7h0M488.7 190.7h0M490.2 190.4h0M492.6 190.6h0M493.9 190.5h0M495.6 190.9h0M497.2 190.3h0M499.2 190.6h0M501.1 190.7h0M502.4 190.2h0M467.3 192.2h0M469.3 191.8h0M471.3 192.0h0M472.9 191.8h0M474.9 192.2h0M476.2 192.1h0M478.1 191.8h0M479.6 191.7h0M481.5 192.2h0M483.1 192.0h0M484.9 192.4h0M486.4 191.5h0M487.7 191.6h0M490.1 192.3h0M491.9 192.2h0M493.1 191.7h0M494.9 192.2h0M496.2 191.8h0M498.3 191.9h0M500.2 192.3h0M502.0 191.9h0M468.5 193.6h0M470.2 193.6h0M471.7 193.1h0M473.8 193.2h0M475.2 193.3h0M477.2 193.1h0M478.8 193.5h0M480.1 193.2h0M482.3 193.3h0M483.6 193.3h0M485.9 193.2h0M487.6 193.2h0M488.6 193.3h0M490.3 193.2h0M492.1 193.6h0M493.7 193.7h0M495.7 193.1h0M497.8 193.2h0M500.9 193.1h0M469.7 194.8h0M471.3 194.7h0M472.8 194.6h0M474.8 194.9h0M475.8 194.9h0M478.3 194.8h0M479.2 195.0h0M481.2 194.8h0M482.8 195.0h0M484.7 195.0h0M488.5 194.9h0M489.7 194.5h0M491.8 194.7h0M493.2 194.6h0M494.7 194.9h0M496.9 194.8h0M468.9 196.3h0M470.1 196.3h0M471.5 196.5h0M473.5 196.1h0M475.6 196.6h0M476.9 196.3h0M478.8 196.7h0M480.5 196.5h0M479.5 181.2h0M470.3 197.2h0M477.1 199.2h0M503.4 185.9h0M467.5 192.0h0M484.8 195.6h0M492.4 181.8h0M494.2 195.3h0M471.5 187.2h0M469.3 197.5h0M488.5 195.8h0M500.3 182.2h0M504.2 185.8h0M470.6 187.8h0M503.8 191.6h0M460.1 187.8h0M459.3 189.0h0M460.7 189.0h0M460.4 190.5h0M459.3 192.1h0M460.4 192.3h0M462.4 192.4h0M458.4 193.8h0M460.3 193.3h0M461.8 193.5h0M457.8 194.8h0M458.9 195.2h0M460.4 195.2h0M462.4 195.0h0M456.6 196.5h0M458.6 196.1h0M459.7 196.7h0M462.0 196.3h0M463.7 196.5h0M457.9 197.8h0M458.9 197.8h0M460.7 197.8h0M462.5 197.8h0M456.1 199.3h0M457.8 199.0h0M460.0 199.3h0M461.3 199.7h0M456.1 200.9h0M457.3 200.4h0M459.0 200.7h0M461.2 201.2h0M462.8 200.8h0M456.5 202.7h0M458.3 202.4h0M460.2 202.2h0M461.7 202.2h0M463.3 201.9h0M457.0 203.5h0M459.2 204.1h0M461.0 203.4h0M456.3 205.0h0M458.1 204.8h0M459.5 205.5h0M455.3 206.4h0M457.1 206.9h0M458.8 206.6h0M461.2 206.8h0M462.3 206.4h0M456.5 208.3h0M458.7 208.3h0M460.0 207.8h0M464.2 196.3h0M462.2 191.4h0M461.1 207.3h0M465.2 197.4h0M462.3 206.5h0M464.9 197.5h0M464.2 195.6h0M460.5 207.6h0M486.3 200.8h0M482.4 202.2h0M483.7 202.2h0M485.7 201.9h0M487.3 202.3h0M488.7 202.3h0M490.5 202.3h0M492.2 201.7h0M494.0 202.5h0M479.7 203.6h0M481.1 203.6h0M483.1 203.2h0M484.2 203.7h0M486.4 203.3h0M488.1 203.8h0M490.0 203.7h0M491.1 203.6h0M492.9 203.2h0M494.6 204.0h0M478.3 205.0h0M480.5 205.5h0M481.8 205.2h0M483.9 204.9h0M485.6 205.5h0M486.9 205.2h0M489.2 204.9h0M490.5 205.4h0M491.9 204.6h0M493.9 205.0h0M479.5 206.1h0M481.0 206.9h0M483.1 206.2h0M484.7 206.3h0M486.1 206.9h0M488.0 206.7h0M490.0 206.4h0M491.0 206.2h0M492.8 206.9h0M494.5 206.3h0M474.9 208.3h0M478.3 208.2h0M479.9 208.3h0M481.9 207.7h0M484.1 207.8h0M485.2 208.0h0M487.1 207.7h0M488.6 207.8h0M490.8 208.1h0M492.4 208.4h0M472.9 209.5h0M474.1 209.2h0M476.0 209.5h0M478.1 209.6h0M479.5 209.0h0M481.3 209.7h0M482.7 209.7h0M484.2 209.0h0M486.6 209.2h0M487.6 209.4h0M489.8 209.7h0M491.3 209.9h0M493.5 209.5h0M472.1 210.9h0M473.3 211.0h0M474.9 210.5h0M476.7 210.7h0M478.6 211.3h0M480.2 210.8h0M482.5 210.5h0M483.8 210.9h0M485.1 210.9h0M487.5 210.9h0M488.9 210.9h0M490.1 211.3h0M472.3 212.0h0M474.5 212.8h0M475.8 212.4h0M477.9 212.6h0M479.2 212.7h0M481.4 212.6h0M482.8 212.4h0M484.3 212.1h0M486.1 212.3h0M488.4 212.1h0M489.4 212.5h0M473.4 214.0h0M475.3 213.9h0M476.6 214.1h0M478.4 213.5h0M480.7 213.8h0M482.3 213.8h0M484.1 213.6h0M474.2 215.1h0M476.5 215.0h0M477.9 215.2h0M483.0 215.0h0M476.6 216.9h0M491.5 200.3h0M493.4 207.6h0M479.2 216.4h0M479.1 207.0h0M491.1 212.9h0M478.4 204.9h0M495.9 205.4h0M471.5 211.3h0M472.0 211.9h0M494.3 207.2h0M471.5 214.3h0M502.6 190.9h0M504.0 191.1h0M506.2 190.9h0M507.7 191.1h0M509.6 191.5h0M499.9 192.5h0M501.6 192.3h0M503.4 193.1h0M505.3 192.4h0M506.5 192.8h0M509.1 192.5h0M510.5 192.9h0M500.6 194.1h0M503.1 193.8h0M504.5 193.8h0M506.4 194.0h0M507.9 194.5h0M509.7 194.3h0M511.0 193.8h0M513.0 193.8h0M501.8 195.7h0M503.7 195.5h0M505.5 195.4h0M506.7 195.4h0M508.6 195.5h0M510.1 195.5h0M511.7 195.3h0M513.4 195.4h0M502.4 196.9h0M504.0 196.8h0M505.9 197.5h0M508.1 197.0h0M509.4 196.8h0M511.0 197.1h0M506.6 198.2h0M508.3 198.2h0M510.7 198.6h0M508.0 200.0h0M500.3 191.3h0M512.2 196.6h0M513.7 194.4h0M507.4 189.9h0M499.3 197.0h0M511.4 200.7h0M511.6 197.2h0M473.5 100.2h0M468.9 103.6h0M475.1 105.9h0M493.6 107.2h0M465.6 109.5h0M485.4 109.5h0M490.2 109.8h0M496.6 109.4h0M464.8 111.0h0M467.0 111.2h0M499.8 111.3h0M504.3 110.9h0M486.0 113.3h0M496.4 113.0h0M473.9 115.5h0M477.7 115.4h0M501.1 117.1h0M502.6 118.7h0M491.2 122.8h0M506.4 123.2h0M468.1 124.4h0M479.1 124.6h0M494.8 125.0h0M510.0 124.6h0M469.6 127.0h0M508.8 126.4h0M480.5 130.3h0M490.1 132.0h0M503.7 132.8h0M484.6 134.1h0M470.3 136.2h0M480.9 136.2h0M492.2 136.3h0M475.6 138.1h0M482.5 138.1h0M484.3 137.7h0M509.2 137.9h0M503.5 140.4h0M507.3 139.9h0M473.3 142.0h0M477.7 142.3h0M490.2 143.5h0M492.4 143.4h0M496.8 143.7h0M505.9 143.6h0M467.3 145.5h0M495.6 146.1h0M478.7 147.2h0M483.2 147.7h0M466.9 149.5h0M469.0 149.6h0M475.7 149.8h0M486.5 150.0h0M488.7 149.3h0M498.1 150.0h0M501.9 149.8h0M506.4 149.4h0M463.9 151.7h0M465.8 151.2h0M479.1 151.6h0M497.1 151.7h0M473.5 153.5h0M484.6 153.1h0M489.4 153.9h0M497.7 153.7h0M502.4 153.4h0M510.8 153.4h0M500.9 155.0h0M511.8 155.7h0M466.6 157.7h0M468.9 157.2h0M491.3 156.9h0M499.8 156.9h0M494.9 159.6h0M498.8 159.4h0M493.2 161.5h0M498.2 161.3h0M468.4 162.9h0M481.2 163.2h0M464.7 164.6h0M467.0 165.0h0M487.1 164.9h0M467.7 166.4h0M462.4 168.5h0M493.5 168.7h0M459.1 170.7h0M492.5 171.0h0M466.6 172.6h0M479.9 172.7h0M504.8 172.6h0M487.9 174.8h0M496.4 174.3h0M501.5 174.1h0M453.5 176.3h0M460.7 176.1h0M467.2 176.1h0M478.0 176.7h0M489.0 176.2h0M499.9 176.0h0M455.2 178.7h0M457.1 178.1h0M509.7 178.2h0M456.2 180.5h0M473.3 180.0h0M497.5 179.9h0M468.2 181.9h0M481.1 182.0h0M485.7 182.5h0M492.1 182.5h0M455.7 183.9h0M488.6 183.8h0M491.2 183.7h0M468.0 185.6h0M474.4 186.1h0M477.1 185.9h0M485.3 185.5h0M505.3 185.7h0M510.0 186.2h0M512.0 186.1h0M456.1 188.3h0M471.5 188.1h0M493.6 187.7h0M497.9 188.0h0M511.9 189.4h0M462.3 191.5h0M464.5 191.7h0M474.0 191.6h0M495.8 191.8h0M455.0 193.4h0M494.9 193.2h0M473.8 195.3h0M495.8 195.5h0M479.2 197.0h0M451.3 198.9h0M460.5 199.2h0M491.6 199.1h0M461.8 200.9h0M470.3 201.0h0M472.1 200.8h0M489.7 200.9h0M509.5 201.6h0M462.3 202.8h0M471.7 203.3h0M476.0 203.0h0M504.4 202.9h0M505.4 204.9h0M464.5 207.2h0M473.2 206.8h0M487.0 206.6h0M491.3 206.8h0M493.6 206.8h0M479.1 209.1h0M489.8 209.3h0M467.4 210.6h0M475.9 210.4h0M491.4 211.0h0M500.1 211.1h0M508.6 211.0h0M472.3 212.5h0M483.1 212.8h0M496.3 212.4h0M492.7 216.7h0" stroke="#EEC5CF" stroke-width="2.3" stroke-linecap="round" fill="none"/>
<path d="M378.9 198.5h0M380.3 199.1h0M381.9 199.2h0M382.9 198.6h0M384.2 199.2h0M376.4 199.9h0M377.4 200.5h0M379.2 200.5h0M380.5 200.5h0M382.6 200.6h0M384.2 200.0h0M376.0 201.4h0M377.1 201.1h0M378.7 201.3h0M380.2 201.8h0M381.9 201.1h0M382.7 201.3h0M384.2 201.9h0M385.8 201.9h0M376.5 202.5h0M378.0 203.0h0M379.2 203.1h0M380.4 203.0h0M382.3 202.6h0M383.6 203.1h0M385.0 202.9h0M378.6 203.9h0M379.8 203.8h0M381.1 204.1h0M383.3 204.1h0M384.1 204.2h0M381.0 205.3h0M381.9 205.1h0" stroke="#C22232" stroke-width="1.9" stroke-linecap="round" fill="none"/>
<circle cx="620.5" cy="163.3" r="1.6" fill="#DDBCC5"/>
<circle cx="620.8" cy="178.4" r="1.6" fill="#B22A3A"/>
<!-- panel c -->
<g shape-rendering="crispEdges">
<rect x="49.80" y="350.00" width="7.01" height="8.21" fill="#D25953"/>
<rect x="56.75" y="350.00" width="7.01" height="8.21" fill="#D25953"/>
<rect x="63.71" y="350.00" width="7.01" height="8.21" fill="#C84C4A"/>
<rect x="70.66" y="350.00" width="7.01" height="8.21" fill="#D25953"/>
<rect x="77.62" y="350.00" width="7.01" height="8.21" fill="#DB6761"/>
<rect x="84.58" y="350.00" width="7.01" height="8.21" fill="#C84C4A"/>
<rect x="91.53" y="350.00" width="7.01" height="8.21" fill="#C84C4A"/>
<rect x="98.49" y="350.00" width="7.01" height="8.21" fill="#D25953"/>
<rect x="105.44" y="350.00" width="7.01" height="8.21" fill="#C84C4A"/>
<rect x="112.40" y="350.00" width="7.01" height="8.21" fill="#DB6761"/>
<rect x="119.35" y="350.00" width="7.01" height="8.21" fill="#D25953"/>
<rect x="126.31" y="350.00" width="7.01" height="8.21" fill="#D25953"/>
<rect x="133.26" y="350.00" width="7.01" height="8.21" fill="#D25953"/>
<rect x="140.22" y="350.00" width="7.01" height="8.21" fill="#D25953"/>
<rect x="147.17" y="350.00" width="7.01" height="8.21" fill="#D25953"/>
<rect x="154.12" y="350.00" width="7.01" height="8.21" fill="#DB6761"/>
<rect x="161.08" y="350.00" width="7.01" height="8.21" fill="#DB6761"/>
<rect x="168.04" y="350.00" width="7.01" height="8.21" fill="#DB6761"/>
<rect x="174.99" y="350.00" width="7.01" height="8.21" fill="#DB6761"/>
<rect x="181.94" y="350.00" width="7.01" height="8.21" fill="#D25953"/>
<rect x="49.80" y="358.16" width="7.01" height="8.21" fill="#D25953"/>
<rect x="56.75" y="358.16" width="7.01" height="8.21" fill="#BC4040"/>
<rect x="63.71" y="358.16" width="7.01" height="8.21" fill="#C84C4A"/>
<rect x="70.66" y="358.16" width="7.01" height="8.21" fill="#D25953"/>
<rect x="77.62" y="358.16" width="7.01" height="8.21" fill="#DB6761"/>
<rect x="84.58" y="358.16" width="7.01" height="8.21" fill="#C84C4A"/>
<rect x="91.53" y="358.16" width="7.01" height="8.21" fill="#C84C4A"/>
<rect x="98.49" y="358.16" width="7.01" height="8.21" fill="#E2736C"/>
<rect x="105.44" y="358.16" width="7.01" height="8.21" fill="#BC4040"/>
<rect x="112.40" y="358.16" width="7.01" height="8.21" fill="#BC4040"/>
<rect x="119.35" y="358.16" width="7.01" height="8.21" fill="#D25953"/>
<rect x="126.31" y="358.16" width="7.01" height="8.21" fill="#C84C4A"/>
<rect x="133.26" y="358.16" width="7.01" height="8.21" fill="#D25953"/>
<rect x="140.22" y="358.16" width="7.01" height="8.21" fill="#D25953"/>
<rect x="147.17" y="358.16" width="7.01" height="8.21" fill="#D25953"/>
<rect x="154.12" y="358.16" width="7.01" height="8.21" fill="#E2736C"/>
<rect x="161.08" y="358.16" width="7.01" height="8.21" fill="#E2736C"/>
<rect x="168.04" y="358.16" width="7.01" height="8.21" fill="#C84C4A"/>
<rect x="174.99" y="358.16" width="7.01" height="8.21" fill="#C84C4A"/>
<rect x="181.94" y="358.16" width="7.01" height="8.21" fill="#C84C4A"/>
<rect x="49.80" y="366.32" width="7.01" height="8.21" fill="#D25953"/>
<rect x="56.75" y="366.32" width="7.01" height="8.21" fill="#BC4040"/>
<rect x="63.71" y="366.32" width="7.01" height="8.21" fill="#C84C4A"/>
<rect x="70.66" y="366.32" width="7.01" height="8.21" fill="#D25953"/>
<rect x="77.62" y="366.32" width="7.01" height="8.21" fill="#D25953"/>
<rect x="84.58" y="366.32" width="7.01" height="8.21" fill="#BC4040"/>
<rect x="91.53" y="366.32" width="7.01" height="8.21" fill="#AC3032"/>
<rect x="98.49" y="366.32" width="7.01" height="8.21" fill="#D25953"/>
<rect x="105.44" y="366.32" width="7.01" height="8.21" fill="#BC4040"/>
<rect x="112.40" y="366.32" width="7.01" height="8.21" fill="#BC4040"/>
<rect x="119.35" y="366.32" width="7.01" height="8.21" fill="#BC4040"/>
<rect x="126.31" y="366.32" width="7.01" height="8.21" fill="#BC4040"/>
<rect x="133.26" y="366.32" width="7.01" height="8.21" fill="#C84C4A"/>
<rect x="140.22" y="366.32" width="7.01" height="8.21" fill="#D25953"/>
<rect x="147.17" y="366.32" width="7.01" height="8.21" fill="#C84C4A"/>
<rect x="154.12" y="366.32" width="7.01" height="8.21" fill="#DB6761"/>
<rect x="161.08" y="366.32" width="7.01" height="8.21" fill="#DB6761"/>
<rect x="168.04" y="366.32" width="7.01" height="8.21" fill="#BC4040"/>
<rect x="174.99" y="366.32" width="7.01" height="8.21" fill="#BC4040"/>
<rect x="181.94" y="366.32" width="7.01" height="8.21" fill="#BC4040"/>
<rect x="49.80" y="374.48" width="7.01" height="8.21" fill="#D25953"/>
<rect x="56.75" y="374.48" width="7.01" height="8.21" fill="#C84C4A"/>
<rect x="63.71" y="374.48" width="7.01" height="8.21" fill="#D25953"/>
<rect x="70.66" y="374.48" width="7.01" height="8.21" fill="#DB6761"/>
<rect x="77.62" y="374.48" width="7.01" height="8.21" fill="#DB6761"/>
<rect x="84.58" y="374.48" width="7.01" height="8.21" fill="#BC4040"/>
<rect x="91.53" y="374.48" width="7.01" height="8.21" fill="#C84C4A"/>
<rect x="98.49" y="374.48" width="7.01" height="8.21" fill="#E2736C"/>
<rect x="105.44" y="374.48" width="7.01" height="8.21" fill="#BC4040"/>
<rect x="112.40" y="374.48" width="7.01" height="8.21" fill="#C84C4A"/>
<rect x="119.35" y="374.48" width="7.01" height="8.21" fill="#C84C4A"/>
<rect x="126.31" y="374.48" width="7.01" height="8.21" fill="#BC4040"/>
<rect x="133.26" y="374.48" width="7.01" height="8.21" fill="#D25953"/>
<rect x="140.22" y="374.48" width="7.01" height="8.21" fill="#DB6761"/>
<rect x="147.17" y="374.48" width="7.01" height="8.21" fill="#D25953"/>
<rect x="154.12" y="374.48" width="7.01" height="8.21" fill="#DB6761"/>
<rect x="161.08" y="374.48" width="7.01" height="8.21" fill="#DB6761"/>
<rect x="168.04" y="374.48" width="7.01" height="8.21" fill="#C84C4A"/>
<rect x="174.99" y="374.48" width="7.01" height="8.21" fill="#C84C4A"/>
<rect x="181.94" y="374.48" width="7.01" height="8.21" fill="#C84C4A"/>
<rect x="49.80" y="382.64" width="7.01" height="8.21" fill="#D25953"/>
<rect x="56.75" y="382.64" width="7.01" height="8.21" fill="#BC4040"/>
<rect x="63.71" y="382.64" width="7.01" height="8.21" fill="#BC4040"/>
<rect x="70.66" y="382.64" width="7.01" height="8.21" fill="#D25953"/>
<rect x="77.62" y="382.64" width="7.01" height="8.21" fill="#D25953"/>
<rect x="84.58" y="382.64" width="7.01" height="8.21" fill="#BC4040"/>
<rect x="91.53" y="382.64" width="7.01" height="8.21" fill="#BC4040"/>
<rect x="98.49" y="382.64" width="7.01" height="8.21" fill="#DB6761"/>
<rect x="105.44" y="382.64" width="7.01" height="8.21" fill="#BC4040"/>
<rect x="112.40" y="382.64" width="7.01" height="8.21" fill="#BC4040"/>
<rect x="119.35" y="382.64" width="7.01" height="8.21" fill="#BC4040"/>
<rect x="126.31" y="382.64" width="7.01" height="8.21" fill="#BC4040"/>
<rect x="133.26" y="382.64" width="7.01" height="8.21" fill="#D25953"/>
<rect x="140.22" y="382.64" width="7.01" height="8.21" fill="#DB6761"/>
<rect x="147.17" y="382.64" width="7.01" height="8.21" fill="#D25953"/>
<rect x="154.12" y="382.64" width="7.01" height="8.21" fill="#DB6761"/>
<rect x="161.08" y="382.64" width="7.01" height="8.21" fill="#DB6761"/>
<rect x="168.04" y="382.64" width="7.01" height="8.21" fill="#C84C4A"/>
<rect x="174.99" y="382.64" width="7.01" height="8.21" fill="#BC4040"/>
<rect x="181.94" y="382.64" width="7.01" height="8.21" fill="#BC4040"/>
<rect x="49.80" y="390.80" width="7.01" height="8.21" fill="#D25953"/>
<rect x="56.75" y="390.80" width="7.01" height="8.21" fill="#C84C4A"/>
<rect x="63.71" y="390.80" width="7.01" height="8.21" fill="#D25953"/>
<rect x="70.66" y="390.80" width="7.01" height="8.21" fill="#DB6761"/>
<rect x="77.62" y="390.80" width="7.01" height="8.21" fill="#E2736C"/>
<rect x="84.58" y="390.80" width="7.01" height="8.21" fill="#BC4040"/>
<rect x="91.53" y="390.80" width="7.01" height="8.21" fill="#BC4040"/>
<rect x="98.49" y="390.80" width="7.01" height="8.21" fill="#DB6761"/>
<rect x="105.44" y="390.80" width="7.01" height="8.21" fill="#BC4040"/>
<rect x="112.40" y="390.80" width="7.01" height="8.21" fill="#D25953"/>
<rect x="119.35" y="390.80" width="7.01" height="8.21" fill="#D25953"/>
<rect x="126.31" y="390.80" width="7.01" height="8.21" fill="#C84C4A"/>
<rect x="133.26" y="390.80" width="7.01" height="8.21" fill="#D25953"/>
<rect x="140.22" y="390.80" width="7.01" height="8.21" fill="#DB6761"/>
<rect x="147.17" y="390.80" width="7.01" height="8.21" fill="#DB6761"/>
<rect x="154.12" y="390.80" width="7.01" height="8.21" fill="#DB6761"/>
<rect x="161.08" y="390.80" width="7.01" height="8.21" fill="#DB6761"/>
<rect x="168.04" y="390.80" width="7.01" height="8.21" fill="#D25953"/>
<rect x="174.99" y="390.80" width="7.01" height="8.21" fill="#C84C4A"/>
<rect x="181.94" y="390.80" width="7.01" height="8.21" fill="#D25953"/>
<rect x="49.80" y="398.96" width="7.01" height="8.21" fill="#E2736C"/>
<rect x="56.75" y="398.96" width="7.01" height="8.21" fill="#C84C4A"/>
<rect x="63.71" y="398.96" width="7.01" height="8.21" fill="#D25953"/>
<rect x="70.66" y="398.96" width="7.01" height="8.21" fill="#DB6761"/>
<rect x="77.62" y="398.96" width="7.01" height="8.21" fill="#DB6761"/>
<rect x="84.58" y="398.96" width="7.01" height="8.21" fill="#C84C4A"/>
<rect x="91.53" y="398.96" width="7.01" height="8.21" fill="#C84C4A"/>
<rect x="98.49" y="398.96" width="7.01" height="8.21" fill="#D25953"/>
<rect x="105.44" y="398.96" width="7.01" height="8.21" fill="#BC4040"/>
<rect x="112.40" y="398.96" width="7.01" height="8.21" fill="#D25953"/>
<rect x="119.35" y="398.96" width="7.01" height="8.21" fill="#D25953"/>
<rect x="126.31" y="398.96" width="7.01" height="8.21" fill="#C84C4A"/>
<rect x="133.26" y="398.96" width="7.01" height="8.21" fill="#D25953"/>
<rect x="140.22" y="398.96" width="7.01" height="8.21" fill="#DB6761"/>
<rect x="147.17" y="398.96" width="7.01" height="8.21" fill="#DB6761"/>
<rect x="154.12" y="398.96" width="7.01" height="8.21" fill="#DB6761"/>
<rect x="161.08" y="398.96" width="7.01" height="8.21" fill="#E2736C"/>
<rect x="168.04" y="398.96" width="7.01" height="8.21" fill="#D25953"/>
<rect x="174.99" y="398.96" width="7.01" height="8.21" fill="#C84C4A"/>
<rect x="181.94" y="398.96" width="7.01" height="8.21" fill="#D25953"/>
<rect x="49.80" y="407.12" width="7.01" height="8.21" fill="#D25953"/>
<rect x="56.75" y="407.12" width="7.01" height="8.21" fill="#D25953"/>
<rect x="63.71" y="407.12" width="7.01" height="8.21" fill="#D25953"/>
<rect x="70.66" y="407.12" width="7.01" height="8.21" fill="#E2736C"/>
<rect x="77.62" y="407.12" width="7.01" height="8.21" fill="#E2736C"/>
<rect x="84.58" y="407.12" width="7.01" height="8.21" fill="#C84C4A"/>
<rect x="91.53" y="407.12" width="7.01" height="8.21" fill="#D25953"/>
<rect x="98.49" y="407.12" width="7.01" height="8.21" fill="#E2736C"/>
<rect x="105.44" y="407.12" width="7.01" height="8.21" fill="#C84C4A"/>
<rect x="112.40" y="407.12" width="7.01" height="8.21" fill="#D25953"/>
<rect x="119.35" y="407.12" width="7.01" height="8.21" fill="#D25953"/>
<rect x="126.31" y="407.12" width="7.01" height="8.21" fill="#D25953"/>
<rect x="133.26" y="407.12" width="7.01" height="8.21" fill="#D25953"/>
<rect x="140.22" y="407.12" width="7.01" height="8.21" fill="#DB6761"/>
<rect x="147.17" y="407.12" width="7.01" height="8.21" fill="#DB6761"/>
<rect x="154.12" y="407.12" width="7.01" height="8.21" fill="#DB6761"/>
<rect x="161.08" y="407.12" width="7.01" height="8.21" fill="#E2736C"/>
<rect x="168.04" y="407.12" width="7.01" height="8.21" fill="#D25953"/>
<rect x="174.99" y="407.12" width="7.01" height="8.21" fill="#D25953"/>
<rect x="181.94" y="407.12" width="7.01" height="8.21" fill="#D25953"/>
<rect x="49.80" y="415.27" width="7.01" height="8.21" fill="#D25953"/>
<rect x="56.75" y="415.27" width="7.01" height="8.21" fill="#C84C4A"/>
<rect x="63.71" y="415.27" width="7.01" height="8.21" fill="#D25953"/>
<rect x="70.66" y="415.27" width="7.01" height="8.21" fill="#DB6761"/>
<rect x="77.62" y="415.27" width="7.01" height="8.21" fill="#DB6761"/>
<rect x="84.58" y="415.27" width="7.01" height="8.21" fill="#D25953"/>
<rect x="91.53" y="415.27" width="7.01" height="8.21" fill="#C84C4A"/>
<rect x="98.49" y="415.27" width="7.01" height="8.21" fill="#DB6761"/>
<rect x="105.44" y="415.27" width="7.01" height="8.21" fill="#D25953"/>
<rect x="112.40" y="415.27" width="7.01" height="8.21" fill="#D25953"/>
<rect x="119.35" y="415.27" width="7.01" height="8.21" fill="#D25953"/>
<rect x="126.31" y="415.27" width="7.01" height="8.21" fill="#D25953"/>
<rect x="133.26" y="415.27" width="7.01" height="8.21" fill="#D25953"/>
<rect x="140.22" y="415.27" width="7.01" height="8.21" fill="#DB6761"/>
<rect x="147.17" y="415.27" width="7.01" height="8.21" fill="#DB6761"/>
<rect x="154.12" y="415.27" width="7.01" height="8.21" fill="#DB6761"/>
<rect x="161.08" y="415.27" width="7.01" height="8.21" fill="#DB6761"/>
<rect x="168.04" y="415.27" width="7.01" height="8.21" fill="#D25953"/>
<rect x="174.99" y="415.27" width="7.01" height="8.21" fill="#DB6761"/>
<rect x="181.94" y="415.27" width="7.01" height="8.21" fill="#D25953"/>
<rect x="49.80" y="423.43" width="7.01" height="8.21" fill="#E98880"/>
<rect x="56.75" y="423.43" width="7.01" height="8.21" fill="#E98880"/>
<rect x="63.71" y="423.43" width="7.01" height="8.21" fill="#E98880"/>
<rect x="70.66" y="423.43" width="7.01" height="8.21" fill="#E2736C"/>
<rect x="77.62" y="423.43" width="7.01" height="8.21" fill="#EEA098"/>
<rect x="84.58" y="423.43" width="7.01" height="8.21" fill="#E2736C"/>
<rect x="91.53" y="423.43" width="7.01" height="8.21" fill="#E2736C"/>
<rect x="98.49" y="423.43" width="7.01" height="8.21" fill="#E98880"/>
<rect x="105.44" y="423.43" width="7.01" height="8.21" fill="#E98880"/>
<rect x="112.40" y="423.43" width="7.01" height="8.21" fill="#EEA098"/>
<rect x="119.35" y="423.43" width="7.01" height="8.21" fill="#E2736C"/>
<rect x="126.31" y="423.43" width="7.01" height="8.21" fill="#E2736C"/>
<rect x="133.26" y="423.43" width="7.01" height="8.21" fill="#E2736C"/>
<rect x="140.22" y="423.43" width="7.01" height="8.21" fill="#E98880"/>
<rect x="147.17" y="423.43" width="7.01" height="8.21" fill="#E2736C"/>
<rect x="154.12" y="423.43" width="7.01" height="8.21" fill="#E98880"/>
<rect x="161.08" y="423.43" width="7.01" height="8.21" fill="#E98880"/>
<rect x="168.04" y="423.43" width="7.01" height="8.21" fill="#E98880"/>
<rect x="174.99" y="423.43" width="7.01" height="8.21" fill="#EEA098"/>
<rect x="181.94" y="423.43" width="7.01" height="8.21" fill="#E98880"/>
<rect x="49.80" y="431.59" width="7.01" height="8.21" fill="#C84C4A"/>
<rect x="56.75" y="431.59" width="7.01" height="8.21" fill="#BC4040"/>
<rect x="63.71" y="431.59" width="7.01" height="8.21" fill="#BC4040"/>
<rect x="70.66" y="431.59" width="7.01" height="8.21" fill="#C84C4A"/>
<rect x="77.62" y="431.59" width="7.01" height="8.21" fill="#C84C4A"/>
<rect x="84.58" y="431.59" width="7.01" height="8.21" fill="#AC3032"/>
<rect x="91.53" y="431.59" width="7.01" height="8.21" fill="#AC3032"/>
<rect x="98.49" y="431.59" width="7.01" height="8.21" fill="#C84C4A"/>
<rect x="105.44" y="431.59" width="7.01" height="8.21" fill="#BC4040"/>
<rect x="112.40" y="431.59" width="7.01" height="8.21" fill="#BC4040"/>
<rect x="119.35" y="431.59" width="7.01" height="8.21" fill="#BC4040"/>
<rect x="126.31" y="431.59" width="7.01" height="8.21" fill="#BC4040"/>
<rect x="133.26" y="431.59" width="7.01" height="8.21" fill="#C84C4A"/>
<rect x="140.22" y="431.59" width="7.01" height="8.21" fill="#D25953"/>
<rect x="147.17" y="431.59" width="7.01" height="8.21" fill="#C84C4A"/>
<rect x="154.12" y="431.59" width="7.01" height="8.21" fill="#D25953"/>
<rect x="161.08" y="431.59" width="7.01" height="8.21" fill="#DB6761"/>
<rect x="168.04" y="431.59" width="7.01" height="8.21" fill="#BC4040"/>
<rect x="174.99" y="431.59" width="7.01" height="8.21" fill="#BC4040"/>
<rect x="181.94" y="431.59" width="7.01" height="8.21" fill="#BC4040"/>
<rect x="49.80" y="439.75" width="7.01" height="8.21" fill="#D25953"/>
<rect x="56.75" y="439.75" width="7.01" height="8.21" fill="#C84C4A"/>
<rect x="63.71" y="439.75" width="7.01" height="8.21" fill="#C84C4A"/>
<rect x="70.66" y="439.75" width="7.01" height="8.21" fill="#DB6761"/>
<rect x="77.62" y="439.75" width="7.01" height="8.21" fill="#DB6761"/>
<rect x="84.58" y="439.75" width="7.01" height="8.21" fill="#C84C4A"/>
<rect x="91.53" y="439.75" width="7.01" height="8.21" fill="#C84C4A"/>
<rect x="98.49" y="439.75" width="7.01" height="8.21" fill="#D25953"/>
<rect x="105.44" y="439.75" width="7.01" height="8.21" fill="#BC4040"/>
<rect x="112.40" y="439.75" width="7.01" height="8.21" fill="#C84C4A"/>
<rect x="119.35" y="439.75" width="7.01" height="8.21" fill="#C84C4A"/>
<rect x="126.31" y="439.75" width="7.01" height="8.21" fill="#C84C4A"/>
<rect x="133.26" y="439.75" width="7.01" height="8.21" fill="#C84C4A"/>
<rect x="140.22" y="439.75" width="7.01" height="8.21" fill="#DB6761"/>
<rect x="147.17" y="439.75" width="7.01" height="8.21" fill="#C84C4A"/>
<rect x="154.12" y="439.75" width="7.01" height="8.21" fill="#DB6761"/>
<rect x="161.08" y="439.75" width="7.01" height="8.21" fill="#DB6761"/>
<rect x="168.04" y="439.75" width="7.01" height="8.21" fill="#C84C4A"/>
<rect x="174.99" y="439.75" width="7.01" height="8.21" fill="#C84C4A"/>
<rect x="181.94" y="439.75" width="7.01" height="8.21" fill="#D25953"/>
<rect x="49.80" y="447.91" width="7.01" height="8.21" fill="#D25953"/>
<rect x="56.75" y="447.91" width="7.01" height="8.21" fill="#C84C4A"/>
<rect x="63.71" y="447.91" width="7.01" height="8.21" fill="#BC4040"/>
<rect x="70.66" y="447.91" width="7.01" height="8.21" fill="#D25953"/>
<rect x="77.62" y="447.91" width="7.01" height="8.21" fill="#D25953"/>
<rect x="84.58" y="447.91" width="7.01" height="8.21" fill="#BC4040"/>
<rect x="91.53" y="447.91" width="7.01" height="8.21" fill="#BC4040"/>
<rect x="98.49" y="447.91" width="7.01" height="8.21" fill="#D25953"/>
<rect x="105.44" y="447.91" width="7.01" height="8.21" fill="#BC4040"/>
<rect x="112.40" y="447.91" width="7.01" height="8.21" fill="#BC4040"/>
<rect x="119.35" y="447.91" width="7.01" height="8.21" fill="#BC4040"/>
<rect x="126.31" y="447.91" width="7.01" height="8.21" fill="#BC4040"/>
<rect x="133.26" y="447.91" width="7.01" height="8.21" fill="#C84C4A"/>
<rect x="140.22" y="447.91" width="7.01" height="8.21" fill="#D25953"/>
<rect x="147.17" y="447.91" width="7.01" height="8.21" fill="#C84C4A"/>
<rect x="154.12" y="447.91" width="7.01" height="8.21" fill="#DB6761"/>
<rect x="161.08" y="447.91" width="7.01" height="8.21" fill="#DB6761"/>
<rect x="168.04" y="447.91" width="7.01" height="8.21" fill="#BC4040"/>
<rect x="174.99" y="447.91" width="7.01" height="8.21" fill="#BC4040"/>
<rect x="181.94" y="447.91" width="7.01" height="8.21" fill="#BC4040"/>
<rect x="49.80" y="456.07" width="7.01" height="8.21" fill="#DB6761"/>
<rect x="56.75" y="456.07" width="7.01" height="8.21" fill="#E2736C"/>
<rect x="63.71" y="456.07" width="7.01" height="8.21" fill="#DB6761"/>
<rect x="70.66" y="456.07" width="7.01" height="8.21" fill="#E2736C"/>
<rect x="77.62" y="456.07" width="7.01" height="8.21" fill="#E98880"/>
<rect x="84.58" y="456.07" width="7.01" height="8.21" fill="#D25953"/>
<rect x="91.53" y="456.07" width="7.01" height="8.21" fill="#D25953"/>
<rect x="98.49" y="456.07" width="7.01" height="8.21" fill="#DB6761"/>
<rect x="105.44" y="456.07" width="7.01" height="8.21" fill="#DB6761"/>
<rect x="112.40" y="456.07" width="7.01" height="8.21" fill="#DB6761"/>
<rect x="119.35" y="456.07" width="7.01" height="8.21" fill="#DB6761"/>
<rect x="126.31" y="456.07" width="7.01" height="8.21" fill="#DB6761"/>
<rect x="133.26" y="456.07" width="7.01" height="8.21" fill="#DB6761"/>
<rect x="140.22" y="456.07" width="7.01" height="8.21" fill="#E2736C"/>
<rect x="147.17" y="456.07" width="7.01" height="8.21" fill="#E2736C"/>
<rect x="154.12" y="456.07" width="7.01" height="8.21" fill="#E2736C"/>
<rect x="161.08" y="456.07" width="7.01" height="8.21" fill="#E98880"/>
<rect x="168.04" y="456.07" width="7.01" height="8.21" fill="#DB6761"/>
<rect x="174.99" y="456.07" width="7.01" height="8.21" fill="#E2736C"/>
<rect x="181.94" y="456.07" width="7.01" height="8.21" fill="#DB6761"/>
<rect x="49.80" y="464.23" width="7.01" height="8.21" fill="#D25953"/>
<rect x="56.75" y="464.23" width="7.01" height="8.21" fill="#C84C4A"/>
<rect x="63.71" y="464.23" width="7.01" height="8.21" fill="#C84C4A"/>
<rect x="70.66" y="464.23" width="7.01" height="8.21" fill="#D25953"/>
<rect x="77.62" y="464.23" width="7.01" height="8.21" fill="#D25953"/>
<rect x="84.58" y="464.23" width="7.01" height="8.21" fill="#C84C4A"/>
<rect x="91.53" y="464.23" width="7.01" height="8.21" fill="#BC4040"/>
<rect x="98.49" y="464.23" width="7.01" height="8.21" fill="#D25953"/>
<rect x="105.44" y="464.23" width="7.01" height="8.21" fill="#C84C4A"/>
<rect x="112.40" y="464.23" width="7.01" height="8.21" fill="#D25953"/>
<rect x="119.35" y="464.23" width="7.01" height="8.21" fill="#D25953"/>
<rect x="126.31" y="464.23" width="7.01" height="8.21" fill="#C84C4A"/>
<rect x="133.26" y="464.23" width="7.01" height="8.21" fill="#C84C4A"/>
<rect x="140.22" y="464.23" width="7.01" height="8.21" fill="#DB6761"/>
<rect x="147.17" y="464.23" width="7.01" height="8.21" fill="#D25953"/>
<rect x="154.12" y="464.23" width="7.01" height="8.21" fill="#D25953"/>
<rect x="161.08" y="464.23" width="7.01" height="8.21" fill="#DB6761"/>
<rect x="168.04" y="464.23" width="7.01" height="8.21" fill="#C84C4A"/>
<rect x="174.99" y="464.23" width="7.01" height="8.21" fill="#C84C4A"/>
<rect x="181.94" y="464.23" width="7.01" height="8.21" fill="#D25953"/>
<rect x="49.80" y="472.39" width="7.01" height="8.21" fill="#D25953"/>
<rect x="56.75" y="472.39" width="7.01" height="8.21" fill="#D25953"/>
<rect x="63.71" y="472.39" width="7.01" height="8.21" fill="#C84C4A"/>
<rect x="70.66" y="472.39" width="7.01" height="8.21" fill="#DB6761"/>
<rect x="77.62" y="472.39" width="7.01" height="8.21" fill="#DB6761"/>
<rect x="84.58" y="472.39" width="7.01" height="8.21" fill="#C84C4A"/>
<rect x="91.53" y="472.39" width="7.01" height="8.21" fill="#C84C4A"/>
<rect x="98.49" y="472.39" width="7.01" height="8.21" fill="#DB6761"/>
<rect x="105.44" y="472.39" width="7.01" height="8.21" fill="#D25953"/>
<rect x="112.40" y="472.39" width="7.01" height="8.21" fill="#D25953"/>
<rect x="119.35" y="472.39" width="7.01" height="8.21" fill="#D25953"/>
<rect x="126.31" y="472.39" width="7.01" height="8.21" fill="#D25953"/>
<rect x="133.26" y="472.39" width="7.01" height="8.21" fill="#D25953"/>
<rect x="140.22" y="472.39" width="7.01" height="8.21" fill="#DB6761"/>
<rect x="147.17" y="472.39" width="7.01" height="8.21" fill="#D25953"/>
<rect x="154.12" y="472.39" width="7.01" height="8.21" fill="#DB6761"/>
<rect x="161.08" y="472.39" width="7.01" height="8.21" fill="#DB6761"/>
<rect x="168.04" y="472.39" width="7.01" height="8.21" fill="#D25953"/>
<rect x="174.99" y="472.39" width="7.01" height="8.21" fill="#D25953"/>
<rect x="181.94" y="472.39" width="7.01" height="8.21" fill="#DB6761"/>
<rect x="49.80" y="480.55" width="7.01" height="8.21" fill="#D25953"/>
<rect x="56.75" y="480.55" width="7.01" height="8.21" fill="#D25953"/>
<rect x="63.71" y="480.55" width="7.01" height="8.21" fill="#BC4040"/>
<rect x="70.66" y="480.55" width="7.01" height="8.21" fill="#D25953"/>
<rect x="77.62" y="480.55" width="7.01" height="8.21" fill="#D25953"/>
<rect x="84.58" y="480.55" width="7.01" height="8.21" fill="#BC4040"/>
<rect x="91.53" y="480.55" width="7.01" height="8.21" fill="#BC4040"/>
<rect x="98.49" y="480.55" width="7.01" height="8.21" fill="#D25953"/>
<rect x="105.44" y="480.55" width="7.01" height="8.21" fill="#BC4040"/>
<rect x="112.40" y="480.55" width="7.01" height="8.21" fill="#C84C4A"/>
<rect x="119.35" y="480.55" width="7.01" height="8.21" fill="#C84C4A"/>
<rect x="126.31" y="480.55" width="7.01" height="8.21" fill="#C84C4A"/>
<rect x="133.26" y="480.55" width="7.01" height="8.21" fill="#C84C4A"/>
<rect x="140.22" y="480.55" width="7.01" height="8.21" fill="#D25953"/>
<rect x="147.17" y="480.55" width="7.01" height="8.21" fill="#D25953"/>
<rect x="154.12" y="480.55" width="7.01" height="8.21" fill="#D25953"/>
<rect x="161.08" y="480.55" width="7.01" height="8.21" fill="#D25953"/>
<rect x="168.04" y="480.55" width="7.01" height="8.21" fill="#C84C4A"/>
<rect x="174.99" y="480.55" width="7.01" height="8.21" fill="#C84C4A"/>
<rect x="181.94" y="480.55" width="7.01" height="8.21" fill="#C84C4A"/>
<rect x="49.80" y="488.71" width="7.01" height="8.21" fill="#D25953"/>
<rect x="56.75" y="488.71" width="7.01" height="8.21" fill="#D25953"/>
<rect x="63.71" y="488.71" width="7.01" height="8.21" fill="#D25953"/>
<rect x="70.66" y="488.71" width="7.01" height="8.21" fill="#DB6761"/>
<rect x="77.62" y="488.71" width="7.01" height="8.21" fill="#DB6761"/>
<rect x="84.58" y="488.71" width="7.01" height="8.21" fill="#C84C4A"/>
<rect x="91.53" y="488.71" width="7.01" height="8.21" fill="#C84C4A"/>
<rect x="98.49" y="488.71" width="7.01" height="8.21" fill="#D25953"/>
<rect x="105.44" y="488.71" width="7.01" height="8.21" fill="#C84C4A"/>
<rect x="112.40" y="488.71" width="7.01" height="8.21" fill="#D25953"/>
<rect x="119.35" y="488.71" width="7.01" height="8.21" fill="#D25953"/>
<rect x="126.31" y="488.71" width="7.01" height="8.21" fill="#D25953"/>
<rect x="133.26" y="488.71" width="7.01" height="8.21" fill="#D25953"/>
<rect x="140.22" y="488.71" width="7.01" height="8.21" fill="#DB6761"/>
<rect x="147.17" y="488.71" width="7.01" height="8.21" fill="#DB6761"/>
<rect x="154.12" y="488.71" width="7.01" height="8.21" fill="#DB6761"/>
<rect x="161.08" y="488.71" width="7.01" height="8.21" fill="#DB6761"/>
<rect x="168.04" y="488.71" width="7.01" height="8.21" fill="#D25953"/>
<rect x="174.99" y="488.71" width="7.01" height="8.21" fill="#E2736C"/>
<rect x="181.94" y="488.71" width="7.01" height="8.21" fill="#DB6761"/>
<rect x="49.80" y="496.87" width="7.01" height="8.21" fill="#D25953"/>
<rect x="56.75" y="496.87" width="7.01" height="8.21" fill="#C84C4A"/>
<rect x="63.71" y="496.87" width="7.01" height="8.21" fill="#C84C4A"/>
<rect x="70.66" y="496.87" width="7.01" height="8.21" fill="#D25953"/>
<rect x="77.62" y="496.87" width="7.01" height="8.21" fill="#D25953"/>
<rect x="84.58" y="496.87" width="7.01" height="8.21" fill="#BC4040"/>
<rect x="91.53" y="496.87" width="7.01" height="8.21" fill="#BC4040"/>
<rect x="98.49" y="496.87" width="7.01" height="8.21" fill="#D25953"/>
<rect x="105.44" y="496.87" width="7.01" height="8.21" fill="#BC4040"/>
<rect x="112.40" y="496.87" width="7.01" height="8.21" fill="#C84C4A"/>
<rect x="119.35" y="496.87" width="7.01" height="8.21" fill="#C84C4A"/>
<rect x="126.31" y="496.87" width="7.01" height="8.21" fill="#C84C4A"/>
<rect x="133.26" y="496.87" width="7.01" height="8.21" fill="#C84C4A"/>
<rect x="140.22" y="496.87" width="7.01" height="8.21" fill="#D25953"/>
<rect x="147.17" y="496.87" width="7.01" height="8.21" fill="#D25953"/>
<rect x="154.12" y="496.87" width="7.01" height="8.21" fill="#DB6761"/>
<rect x="161.08" y="496.87" width="7.01" height="8.21" fill="#DB6761"/>
<rect x="168.04" y="496.87" width="7.01" height="8.21" fill="#C84C4A"/>
<rect x="174.99" y="496.87" width="7.01" height="8.21" fill="#C84C4A"/>
<rect x="181.94" y="496.87" width="7.01" height="8.21" fill="#C84C4A"/>
<rect x="49.80" y="505.03" width="7.01" height="8.21" fill="#E2736C"/>
<rect x="56.75" y="505.03" width="7.01" height="8.21" fill="#E2736C"/>
<rect x="63.71" y="505.03" width="7.01" height="8.21" fill="#E2736C"/>
<rect x="70.66" y="505.03" width="7.01" height="8.21" fill="#E2736C"/>
<rect x="77.62" y="505.03" width="7.01" height="8.21" fill="#E98880"/>
<rect x="84.58" y="505.03" width="7.01" height="8.21" fill="#DB6761"/>
<rect x="91.53" y="505.03" width="7.01" height="8.21" fill="#DB6761"/>
<rect x="98.49" y="505.03" width="7.01" height="8.21" fill="#E98880"/>
<rect x="105.44" y="505.03" width="7.01" height="8.21" fill="#DB6761"/>
<rect x="112.40" y="505.03" width="7.01" height="8.21" fill="#DB6761"/>
<rect x="119.35" y="505.03" width="7.01" height="8.21" fill="#DB6761"/>
<rect x="126.31" y="505.03" width="7.01" height="8.21" fill="#DB6761"/>
<rect x="133.26" y="505.03" width="7.01" height="8.21" fill="#E2736C"/>
<rect x="140.22" y="505.03" width="7.01" height="8.21" fill="#E2736C"/>
<rect x="147.17" y="505.03" width="7.01" height="8.21" fill="#E2736C"/>
<rect x="154.12" y="505.03" width="7.01" height="8.21" fill="#E98880"/>
<rect x="161.08" y="505.03" width="7.01" height="8.21" fill="#E98880"/>
<rect x="168.04" y="505.03" width="7.01" height="8.21" fill="#DB6761"/>
<rect x="174.99" y="505.03" width="7.01" height="8.21" fill="#DB6761"/>
<rect x="181.94" y="505.03" width="7.01" height="8.21" fill="#DB6761"/>
<rect x="49.80" y="513.19" width="7.01" height="8.21" fill="#D25953"/>
<rect x="56.75" y="513.19" width="7.01" height="8.21" fill="#C84C4A"/>
<rect x="63.71" y="513.19" width="7.01" height="8.21" fill="#C84C4A"/>
<rect x="70.66" y="513.19" width="7.01" height="8.21" fill="#D25953"/>
<rect x="77.62" y="513.19" width="7.01" height="8.21" fill="#D25953"/>
<rect x="84.58" y="513.19" width="7.01" height="8.21" fill="#BC4040"/>
<rect x="91.53" y="513.19" width="7.01" height="8.21" fill="#BC4040"/>
<rect x="98.49" y="513.19" width="7.01" height="8.21" fill="#D25953"/>
<rect x="105.44" y="513.19" width="7.01" height="8.21" fill="#BC4040"/>
<rect x="112.40" y="513.19" width="7.01" height="8.21" fill="#C84C4A"/>
<rect x="119.35" y="513.19" width="7.01" height="8.21" fill="#C84C4A"/>
<rect x="126.31" y="513.19" width="7.01" height="8.21" fill="#BC4040"/>
<rect x="133.26" y="513.19" width="7.01" height="8.21" fill="#C84C4A"/>
<rect x="140.22" y="513.19" width="7.01" height="8.21" fill="#D25953"/>
<rect x="147.17" y="513.19" width="7.01" height="8.21" fill="#D25953"/>
<rect x="154.12" y="513.19" width="7.01" height="8.21" fill="#D25953"/>
<rect x="161.08" y="513.19" width="7.01" height="8.21" fill="#DB6761"/>
<rect x="168.04" y="513.19" width="7.01" height="8.21" fill="#C84C4A"/>
<rect x="174.99" y="513.19" width="7.01" height="8.21" fill="#C84C4A"/>
<rect x="181.94" y="513.19" width="7.01" height="8.21" fill="#C84C4A"/>
<rect x="49.80" y="521.35" width="7.01" height="8.21" fill="#D25953"/>
<rect x="56.75" y="521.35" width="7.01" height="8.21" fill="#D25953"/>
<rect x="63.71" y="521.35" width="7.01" height="8.21" fill="#D25953"/>
<rect x="70.66" y="521.35" width="7.01" height="8.21" fill="#DB6761"/>
<rect x="77.62" y="521.35" width="7.01" height="8.21" fill="#DB6761"/>
<rect x="84.58" y="521.35" width="7.01" height="8.21" fill="#BC4040"/>
<rect x="91.53" y="521.35" width="7.01" height="8.21" fill="#BC4040"/>
<rect x="98.49" y="521.35" width="7.01" height="8.21" fill="#DB6761"/>
<rect x="105.44" y="521.35" width="7.01" height="8.21" fill="#BC4040"/>
<rect x="112.40" y="521.35" width="7.01" height="8.21" fill="#D25953"/>
<rect x="119.35" y="521.35" width="7.01" height="8.21" fill="#D25953"/>
<rect x="126.31" y="521.35" width="7.01" height="8.21" fill="#C84C4A"/>
<rect x="133.26" y="521.35" width="7.01" height="8.21" fill="#D25953"/>
<rect x="140.22" y="521.35" width="7.01" height="8.21" fill="#DB6761"/>
<rect x="147.17" y="521.35" width="7.01" height="8.21" fill="#D25953"/>
<rect x="154.12" y="521.35" width="7.01" height="8.21" fill="#DB6761"/>
<rect x="161.08" y="521.35" width="7.01" height="8.21" fill="#DB6761"/>
<rect x="168.04" y="521.35" width="7.01" height="8.21" fill="#D25953"/>
<rect x="174.99" y="521.35" width="7.01" height="8.21" fill="#D25953"/>
<rect x="181.94" y="521.35" width="7.01" height="8.21" fill="#D25953"/>
<rect x="49.80" y="529.51" width="7.01" height="8.21" fill="#D25953"/>
<rect x="56.75" y="529.51" width="7.01" height="8.21" fill="#D25953"/>
<rect x="63.71" y="529.51" width="7.01" height="8.21" fill="#D25953"/>
<rect x="70.66" y="529.51" width="7.01" height="8.21" fill="#DB6761"/>
<rect x="77.62" y="529.51" width="7.01" height="8.21" fill="#DB6761"/>
<rect x="84.58" y="529.51" width="7.01" height="8.21" fill="#C84C4A"/>
<rect x="91.53" y="529.51" width="7.01" height="8.21" fill="#C84C4A"/>
<rect x="98.49" y="529.51" width="7.01" height="8.21" fill="#D25953"/>
<rect x="105.44" y="529.51" width="7.01" height="8.21" fill="#C84C4A"/>
<rect x="112.40" y="529.51" width="7.01" height="8.21" fill="#D25953"/>
<rect x="119.35" y="529.51" width="7.01" height="8.21" fill="#D25953"/>
<rect x="126.31" y="529.51" width="7.01" height="8.21" fill="#C84C4A"/>
<rect x="133.26" y="529.51" width="7.01" height="8.21" fill="#D25953"/>
<rect x="140.22" y="529.51" width="7.01" height="8.21" fill="#DB6761"/>
<rect x="147.17" y="529.51" width="7.01" height="8.21" fill="#D25953"/>
<rect x="154.12" y="529.51" width="7.01" height="8.21" fill="#DB6761"/>
<rect x="161.08" y="529.51" width="7.01" height="8.21" fill="#E2736C"/>
<rect x="168.04" y="529.51" width="7.01" height="8.21" fill="#D25953"/>
<rect x="174.99" y="529.51" width="7.01" height="8.21" fill="#D25953"/>
<rect x="181.94" y="529.51" width="7.01" height="8.21" fill="#D25953"/>
<rect x="49.80" y="537.67" width="7.01" height="8.21" fill="#D25953"/>
<rect x="56.75" y="537.67" width="7.01" height="8.21" fill="#D25953"/>
<rect x="63.71" y="537.67" width="7.01" height="8.21" fill="#C84C4A"/>
<rect x="70.66" y="537.67" width="7.01" height="8.21" fill="#DB6761"/>
<rect x="77.62" y="537.67" width="7.01" height="8.21" fill="#DB6761"/>
<rect x="84.58" y="537.67" width="7.01" height="8.21" fill="#C84C4A"/>
<rect x="91.53" y="537.67" width="7.01" height="8.21" fill="#BC4040"/>
<rect x="98.49" y="537.67" width="7.01" height="8.21" fill="#D25953"/>
<rect x="105.44" y="537.67" width="7.01" height="8.21" fill="#BC4040"/>
<rect x="112.40" y="537.67" width="7.01" height="8.21" fill="#D25953"/>
<rect x="119.35" y="537.67" width="7.01" height="8.21" fill="#D25953"/>
<rect x="126.31" y="537.67" width="7.01" height="8.21" fill="#C84C4A"/>
<rect x="133.26" y="537.67" width="7.01" height="8.21" fill="#D25953"/>
<rect x="140.22" y="537.67" width="7.01" height="8.21" fill="#DB6761"/>
<rect x="147.17" y="537.67" width="7.01" height="8.21" fill="#D25953"/>
<rect x="154.12" y="537.67" width="7.01" height="8.21" fill="#DB6761"/>
<rect x="161.08" y="537.67" width="7.01" height="8.21" fill="#E2736C"/>
<rect x="168.04" y="537.67" width="7.01" height="8.21" fill="#D25953"/>
<rect x="174.99" y="537.67" width="7.01" height="8.21" fill="#C84C4A"/>
<rect x="181.94" y="537.67" width="7.01" height="8.21" fill="#C84C4A"/>
<rect x="49.80" y="545.83" width="7.01" height="8.21" fill="#DB6761"/>
<rect x="56.75" y="545.83" width="7.01" height="8.21" fill="#DB6761"/>
<rect x="63.71" y="545.83" width="7.01" height="8.21" fill="#DB6761"/>
<rect x="70.66" y="545.83" width="7.01" height="8.21" fill="#DB6761"/>
<rect x="77.62" y="545.83" width="7.01" height="8.21" fill="#DB6761"/>
<rect x="84.58" y="545.83" width="7.01" height="8.21" fill="#D25953"/>
<rect x="91.53" y="545.83" width="7.01" height="8.21" fill="#D25953"/>
<rect x="98.49" y="545.83" width="7.01" height="8.21" fill="#DB6761"/>
<rect x="105.44" y="545.83" width="7.01" height="8.21" fill="#DB6761"/>
<rect x="112.40" y="545.83" width="7.01" height="8.21" fill="#DB6761"/>
<rect x="119.35" y="545.83" width="7.01" height="8.21" fill="#DB6761"/>
<rect x="126.31" y="545.83" width="7.01" height="8.21" fill="#DB6761"/>
<rect x="133.26" y="545.83" width="7.01" height="8.21" fill="#DB6761"/>
<rect x="140.22" y="545.83" width="7.01" height="8.21" fill="#DB6761"/>
<rect x="147.17" y="545.83" width="7.01" height="8.21" fill="#DB6761"/>
<rect x="154.12" y="545.83" width="7.01" height="8.21" fill="#DB6761"/>
<rect x="161.08" y="545.83" width="7.01" height="8.21" fill="#E2736C"/>
<rect x="168.04" y="545.83" width="7.01" height="8.21" fill="#DB6761"/>
<rect x="174.99" y="545.83" width="7.01" height="8.21" fill="#E2736C"/>
<rect x="181.94" y="545.83" width="7.01" height="8.21" fill="#E2736C"/>
<rect x="49.80" y="553.98" width="7.01" height="8.21" fill="#E2736C"/>
<rect x="56.75" y="553.98" width="7.01" height="8.21" fill="#E2736C"/>
<rect x="63.71" y="553.98" width="7.01" height="8.21" fill="#E2736C"/>
<rect x="70.66" y="553.98" width="7.01" height="8.21" fill="#E2736C"/>
<rect x="77.62" y="553.98" width="7.01" height="8.21" fill="#E98880"/>
<rect x="84.58" y="553.98" width="7.01" height="8.21" fill="#DB6761"/>
<rect x="91.53" y="553.98" width="7.01" height="8.21" fill="#DB6761"/>
<rect x="98.49" y="553.98" width="7.01" height="8.21" fill="#E2736C"/>
<rect x="105.44" y="553.98" width="7.01" height="8.21" fill="#E98880"/>
<rect x="112.40" y="553.98" width="7.01" height="8.21" fill="#E2736C"/>
<rect x="119.35" y="553.98" width="7.01" height="8.21" fill="#E2736C"/>
<rect x="126.31" y="553.98" width="7.01" height="8.21" fill="#E2736C"/>
<rect x="133.26" y="553.98" width="7.01" height="8.21" fill="#E2736C"/>
<rect x="140.22" y="553.98" width="7.01" height="8.21" fill="#E2736C"/>
<rect x="147.17" y="553.98" width="7.01" height="8.21" fill="#E2736C"/>
<rect x="154.12" y="553.98" width="7.01" height="8.21" fill="#E2736C"/>
<rect x="161.08" y="553.98" width="7.01" height="8.21" fill="#E2736C"/>
<rect x="168.04" y="553.98" width="7.01" height="8.21" fill="#E2736C"/>
<rect x="174.99" y="553.98" width="7.01" height="8.21" fill="#E98880"/>
<rect x="181.94" y="553.98" width="7.01" height="8.21" fill="#E98880"/>
<rect x="49.80" y="562.14" width="7.01" height="8.21" fill="#D25953"/>
<rect x="56.75" y="562.14" width="7.01" height="8.21" fill="#C84C4A"/>
<rect x="63.71" y="562.14" width="7.01" height="8.21" fill="#C84C4A"/>
<rect x="70.66" y="562.14" width="7.01" height="8.21" fill="#D25953"/>
<rect x="77.62" y="562.14" width="7.01" height="8.21" fill="#D25953"/>
<rect x="84.58" y="562.14" width="7.01" height="8.21" fill="#BC4040"/>
<rect x="91.53" y="562.14" width="7.01" height="8.21" fill="#BC4040"/>
<rect x="98.49" y="562.14" width="7.01" height="8.21" fill="#D25953"/>
<rect x="105.44" y="562.14" width="7.01" height="8.21" fill="#C84C4A"/>
<rect x="112.40" y="562.14" width="7.01" height="8.21" fill="#C84C4A"/>
<rect x="119.35" y="562.14" width="7.01" height="8.21" fill="#D25953"/>
<rect x="126.31" y="562.14" width="7.01" height="8.21" fill="#D25953"/>
<rect x="133.26" y="562.14" width="7.01" height="8.21" fill="#D25953"/>
<rect x="140.22" y="562.14" width="7.01" height="8.21" fill="#D25953"/>
<rect x="147.17" y="562.14" width="7.01" height="8.21" fill="#D25953"/>
<rect x="154.12" y="562.14" width="7.01" height="8.21" fill="#DB6761"/>
<rect x="161.08" y="562.14" width="7.01" height="8.21" fill="#DB6761"/>
<rect x="168.04" y="562.14" width="7.01" height="8.21" fill="#C84C4A"/>
<rect x="174.99" y="562.14" width="7.01" height="8.21" fill="#D25953"/>
<rect x="181.94" y="562.14" width="7.01" height="8.21" fill="#D25953"/>
<rect x="49.80" y="570.30" width="7.01" height="8.21" fill="#E2736C"/>
<rect x="56.75" y="570.30" width="7.01" height="8.21" fill="#E2736C"/>
<rect x="63.71" y="570.30" width="7.01" height="8.21" fill="#E2736C"/>
<rect x="70.66" y="570.30" width="7.01" height="8.21" fill="#E2736C"/>
<rect x="77.62" y="570.30" width="7.01" height="8.21" fill="#E2736C"/>
<rect x="84.58" y="570.30" width="7.01" height="8.21" fill="#DB6761"/>
<rect x="91.53" y="570.30" width="7.01" height="8.21" fill="#DB6761"/>
<rect x="98.49" y="570.30" width="7.01" height="8.21" fill="#E2736C"/>
<rect x="105.44" y="570.30" width="7.01" height="8.21" fill="#E2736C"/>
<rect x="112.40" y="570.30" width="7.01" height="8.21" fill="#E2736C"/>
<rect x="119.35" y="570.30" width="7.01" height="8.21" fill="#E2736C"/>
<rect x="126.31" y="570.30" width="7.01" height="8.21" fill="#E2736C"/>
<rect x="133.26" y="570.30" width="7.01" height="8.21" fill="#E2736C"/>
<rect x="140.22" y="570.30" width="7.01" height="8.21" fill="#E2736C"/>
<rect x="147.17" y="570.30" width="7.01" height="8.21" fill="#E2736C"/>
<rect x="154.12" y="570.30" width="7.01" height="8.21" fill="#E2736C"/>
<rect x="161.08" y="570.30" width="7.01" height="8.21" fill="#E2736C"/>
<rect x="168.04" y="570.30" width="7.01" height="8.21" fill="#E2736C"/>
<rect x="174.99" y="570.30" width="7.01" height="8.21" fill="#E98880"/>
<rect x="181.94" y="570.30" width="7.01" height="8.21" fill="#E2736C"/>
<rect x="49.80" y="578.46" width="7.01" height="8.21" fill="#D25953"/>
<rect x="56.75" y="578.46" width="7.01" height="8.21" fill="#D25953"/>
<rect x="63.71" y="578.46" width="7.01" height="8.21" fill="#D25953"/>
<rect x="70.66" y="578.46" width="7.01" height="8.21" fill="#D25953"/>
<rect x="77.62" y="578.46" width="7.01" height="8.21" fill="#DB6761"/>
<rect x="84.58" y="578.46" width="7.01" height="8.21" fill="#C84C4A"/>
<rect x="91.53" y="578.46" width="7.01" height="8.21" fill="#D25953"/>
<rect x="98.49" y="578.46" width="7.01" height="8.21" fill="#DB6761"/>
<rect x="105.44" y="578.46" width="7.01" height="8.21" fill="#D25953"/>
<rect x="112.40" y="578.46" width="7.01" height="8.21" fill="#D25953"/>
<rect x="119.35" y="578.46" width="7.01" height="8.21" fill="#DB6761"/>
<rect x="126.31" y="578.46" width="7.01" height="8.21" fill="#DB6761"/>
<rect x="133.26" y="578.46" width="7.01" height="8.21" fill="#DB6761"/>
<rect x="140.22" y="578.46" width="7.01" height="8.21" fill="#DB6761"/>
<rect x="147.17" y="578.46" width="7.01" height="8.21" fill="#DB6761"/>
<rect x="154.12" y="578.46" width="7.01" height="8.21" fill="#DB6761"/>
<rect x="161.08" y="578.46" width="7.01" height="8.21" fill="#E2736C"/>
<rect x="168.04" y="578.46" width="7.01" height="8.21" fill="#D25953"/>
<rect x="174.99" y="578.46" width="7.01" height="8.21" fill="#DB6761"/>
<rect x="181.94" y="578.46" width="7.01" height="8.21" fill="#DB6761"/>
<rect x="49.80" y="586.62" width="7.01" height="8.21" fill="#DB6761"/>
<rect x="56.75" y="586.62" width="7.01" height="8.21" fill="#DB6761"/>
<rect x="63.71" y="586.62" width="7.01" height="8.21" fill="#DB6761"/>
<rect x="70.66" y="586.62" width="7.01" height="8.21" fill="#DB6761"/>
<rect x="77.62" y="586.62" width="7.01" height="8.21" fill="#DB6761"/>
<rect x="84.58" y="586.62" width="7.01" height="8.21" fill="#D25953"/>
<rect x="91.53" y="586.62" width="7.01" height="8.21" fill="#D25953"/>
<rect x="98.49" y="586.62" width="7.01" height="8.21" fill="#DB6761"/>
<rect x="105.44" y="586.62" width="7.01" height="8.21" fill="#C84C4A"/>
<rect x="112.40" y="586.62" width="7.01" height="8.21" fill="#D25953"/>
<rect x="119.35" y="586.62" width="7.01" height="8.21" fill="#DB6761"/>
<rect x="126.31" y="586.62" width="7.01" height="8.21" fill="#DB6761"/>
<rect x="133.26" y="586.62" width="7.01" height="8.21" fill="#DB6761"/>
<rect x="140.22" y="586.62" width="7.01" height="8.21" fill="#DB6761"/>
<rect x="147.17" y="586.62" width="7.01" height="8.21" fill="#DB6761"/>
<rect x="154.12" y="586.62" width="7.01" height="8.21" fill="#E2736C"/>
<rect x="161.08" y="586.62" width="7.01" height="8.21" fill="#E2736C"/>
<rect x="168.04" y="586.62" width="7.01" height="8.21" fill="#DB6761"/>
<rect x="174.99" y="586.62" width="7.01" height="8.21" fill="#E2736C"/>
<rect x="181.94" y="586.62" width="7.01" height="8.21" fill="#DB6761"/>
<rect x="49.80" y="594.78" width="7.01" height="8.21" fill="#DB6761"/>
<rect x="56.75" y="594.78" width="7.01" height="8.21" fill="#E2736C"/>
<rect x="63.71" y="594.78" width="7.01" height="8.21" fill="#D25953"/>
<rect x="70.66" y="594.78" width="7.01" height="8.21" fill="#DB6761"/>
<rect x="77.62" y="594.78" width="7.01" height="8.21" fill="#DB6761"/>
<rect x="84.58" y="594.78" width="7.01" height="8.21" fill="#D25953"/>
<rect x="91.53" y="594.78" width="7.01" height="8.21" fill="#D25953"/>
<rect x="98.49" y="594.78" width="7.01" height="8.21" fill="#DB6761"/>
<rect x="105.44" y="594.78" width="7.01" height="8.21" fill="#D25953"/>
<rect x="112.40" y="594.78" width="7.01" height="8.21" fill="#D25953"/>
<rect x="119.35" y="594.78" width="7.01" height="8.21" fill="#DB6761"/>
<rect x="126.31" y="594.78" width="7.01" height="8.21" fill="#DB6761"/>
<rect x="133.26" y="594.78" width="7.01" height="8.21" fill="#DB6761"/>
<rect x="140.22" y="594.78" width="7.01" height="8.21" fill="#DB6761"/>
<rect x="147.17" y="594.78" width="7.01" height="8.21" fill="#DB6761"/>
<rect x="154.12" y="594.78" width="7.01" height="8.21" fill="#E2736C"/>
<rect x="161.08" y="594.78" width="7.01" height="8.21" fill="#E2736C"/>
<rect x="168.04" y="594.78" width="7.01" height="8.21" fill="#D25953"/>
<rect x="174.99" y="594.78" width="7.01" height="8.21" fill="#DB6761"/>
<rect x="181.94" y="594.78" width="7.01" height="8.21" fill="#DB6761"/>
<rect x="49.80" y="602.94" width="7.01" height="8.21" fill="#D25953"/>
<rect x="56.75" y="602.94" width="7.01" height="8.21" fill="#DB6761"/>
<rect x="63.71" y="602.94" width="7.01" height="8.21" fill="#D25953"/>
<rect x="70.66" y="602.94" width="7.01" height="8.21" fill="#DB6761"/>
<rect x="77.62" y="602.94" width="7.01" height="8.21" fill="#DB6761"/>
<rect x="84.58" y="602.94" width="7.01" height="8.21" fill="#D25953"/>
<rect x="91.53" y="602.94" width="7.01" height="8.21" fill="#C84C4A"/>
<rect x="98.49" y="602.94" width="7.01" height="8.21" fill="#DB6761"/>
<rect x="105.44" y="602.94" width="7.01" height="8.21" fill="#D25953"/>
<rect x="112.40" y="602.94" width="7.01" height="8.21" fill="#D25953"/>
<rect x="119.35" y="602.94" width="7.01" height="8.21" fill="#DB6761"/>
<rect x="126.31" y="602.94" width="7.01" height="8.21" fill="#DB6761"/>
<rect x="133.26" y="602.94" width="7.01" height="8.21" fill="#DB6761"/>
<rect x="140.22" y="602.94" width="7.01" height="8.21" fill="#DB6761"/>
<rect x="147.17" y="602.94" width="7.01" height="8.21" fill="#DB6761"/>
<rect x="154.12" y="602.94" width="7.01" height="8.21" fill="#E2736C"/>
<rect x="161.08" y="602.94" width="7.01" height="8.21" fill="#E2736C"/>
<rect x="168.04" y="602.94" width="7.01" height="8.21" fill="#DB6761"/>
<rect x="174.99" y="602.94" width="7.01" height="8.21" fill="#DB6761"/>
<rect x="181.94" y="602.94" width="7.01" height="8.21" fill="#DB6761"/>
</g>
<defs><linearGradient id="cb" x1="0" y1="0" x2="0" y2="1">
<stop offset="0" stop-color="#9E1A22"/>
<stop offset="0.25" stop-color="#C03A3C"/>
<stop offset="0.5" stop-color="#DE5A58"/>
<stop offset="0.75" stop-color="#EC9C9C"/>
<stop offset="1" stop-color="#F8ECEC"/>
</linearGradient></defs>
<rect x="11.9" y="357.9" width="10.6" height="80.6" fill="url(#cb)" stroke="#8a8a8a" stroke-width="0.5"/>
<g stroke="#333" stroke-width="0.6">
<line x1="22.8" y1="378.5" x2="24.2" y2="378.5"/>
<line x1="22.8" y1="398.4" x2="24.2" y2="398.4"/>
<line x1="22.8" y1="418.2" x2="24.2" y2="418.2"/>
</g>
<!-- panel d -->
<circle cx="477.8" cy="454.3" r="68.4" fill="#F1F1F1"/>
<path d="M571.34 451.05A93.60 93.60 0 0 0 413.95 385.86L429.45 401.36A71.70 71.70 0 0 1 549.43 451.05Z" fill="#8DC63A" stroke="#8DC63A" stroke-width="4" stroke-linejoin="round"/>
<path d="M409.36 390.45A93.60 93.60 0 0 0 392.62 415.50L412.87 423.89A71.70 71.70 0 0 1 424.86 405.95Z" fill="#44328A" stroke="#44328A" stroke-width="4" stroke-linejoin="round"/>
<path d="M390.13 421.50A93.60 93.60 0 0 0 384.26 451.05L406.17 451.05A71.70 71.70 0 0 1 410.38 429.89Z" fill="#CC6CB4" stroke="#CC6CB4" stroke-width="4" stroke-linejoin="round"/>
<path d="M384.26 457.55A93.60 93.60 0 0 0 390.13 487.10L410.38 478.71A71.70 71.70 0 0 1 406.17 457.55Z" fill="#6ED48E" stroke="#6ED48E" stroke-width="4" stroke-linejoin="round"/>
<path d="M392.62 493.10A93.60 93.60 0 0 0 409.36 518.15L424.86 502.65A71.70 71.70 0 0 1 412.87 484.71Z" fill="#C8A848" stroke="#C8A848" stroke-width="4" stroke-linejoin="round"/>
<path d="M413.95 522.74A93.60 93.60 0 0 0 571.34 457.55L549.43 457.55A71.70 71.70 0 0 1 429.45 507.24Z" fill="#B9ADD8" stroke="#B9ADD8" stroke-width="4" stroke-linejoin="round"/>
<g fill="none" stroke-width="1">
<polyline points="210.7,388.8 361.2,387.4 396.8,399.4" stroke="#3A3680" stroke-width="1.2"/>
<polyline points="210.9,455.4 362.8,455.3 382.2,434.2" stroke="#C46AAE" stroke-width="1.1"/>
<polyline points="247.9,514.4 360.4,514.4 382.2,473.9" stroke="#78C496" stroke-width="1.1"/>
<polyline points="247.6,555.4 361,555.4 394.5,505.6" stroke="#BDB070" stroke-width="1.1"/>
<path d="M531.6 373.4Q538 371 545.6 370.5L683 370.5" stroke="#9ACD60" stroke-width="1.1"/>
<polyline points="521.2,541.4 527.8,546.5 682,546.5" stroke="#A8A0C8"/>
</g>
<!-- logo -->
<g fill="none" stroke="#5AA5E0" stroke-width="1.5" stroke-linecap="round">
<path d="M422.5 435.8Q421.5 444 431 450Q440.5 456 439.5 461.8"/>
<path d="M439.5 435.8Q440.5 444 431 450Q421.5 456 422.5 461.8"/>
</g>
<g stroke="#5AA5E0" stroke-width="1.1">
<line x1="427.3" y1="436.4" x2="434.5" y2="436.4"/>
<line x1="425.5" y1="439" x2="436" y2="439"/>
<line x1="424.2" y1="441.5" x2="437.6" y2="441.5"/>
<line x1="424.2" y1="443.6" x2="437.6" y2="443.6"/>
<line x1="425.7" y1="446" x2="436.6" y2="446"/>
<line x1="428.3" y1="454" x2="434" y2="454"/>
<line x1="425.5" y1="457.3" x2="436" y2="457.3"/>
<line x1="427.3" y1="460.1" x2="434.5" y2="460.1"/>
</g>
<text id="pa" x="-0.60" y="10.40" style="font-family:'Liberation Sans',Arial,sans-serif;font-size:15px;font-weight:bold;fill:#000;white-space:pre">a</text>
<text id="pb" x="346.00" y="10.80" style="font-family:'Liberation Sans',Arial,sans-serif;font-size:14.5px;font-weight:bold;fill:#000;white-space:pre">b</text>
<text id="pc" x="-0.70" y="321.40" style="font-family:'Liberation Sans',Arial,sans-serif;font-size:15px;font-weight:bold;fill:#000;white-space:pre">c</text>
<text id="pd" x="230.40" y="321.60" style="font-family:'Liberation Sans',Arial,sans-serif;font-size:14.5px;font-weight:bold;fill:#000;white-space:pre">d</text>
<text id="t1" x="85.74" y="37.85" textLength="86.72" lengthAdjust="spacingAndGlyphs" style="font-family:'Liberation Sans',Arial,sans-serif;font-size:8.45px;font-weight:normal;fill:#1e1e1e;white-space:pre">HEK293T cells dataset</text>
<text id="t2" x="436.74" y="37.75" textLength="101.74" lengthAdjust="spacingAndGlyphs" style="font-family:'Liberation Sans',Arial,sans-serif;font-size:8.45px;font-weight:normal;fill:#1e1e1e;white-space:pre">MDA-MB-231 cells dataset</text>
<text id="t3" x="274.66" y="166.10" textLength="45.72" lengthAdjust="spacingAndGlyphs" style="font-family:'Liberation Sans',Arial,sans-serif;font-size:8.45px;font-weight:normal;fill:#1e1e1e;white-space:pre">Compounds</text>
<text id="t4" x="274.66" y="182.10" textLength="15.52" lengthAdjust="spacingAndGlyphs" style="font-family:'Liberation Sans',Arial,sans-serif;font-size:8.45px;font-weight:normal;fill:#1e1e1e;white-space:pre">JQ1</text>
<text id="t5" x="624.78" y="166.20" textLength="46.54" lengthAdjust="spacingAndGlyphs" style="font-family:'Liberation Sans',Arial,sans-serif;font-size:8.45px;font-weight:normal;fill:#1e1e1e;white-space:pre">Compounds</text>
<text id="t6" x="624.78" y="182.40" textLength="15.56" lengthAdjust="spacingAndGlyphs" style="font-family:'Liberation Sans',Arial,sans-serif;font-size:8.45px;font-weight:normal;fill:#1e1e1e;white-space:pre">JQ1</text>
<text id="t7" x="46.62" y="327.60" textLength="141.60" lengthAdjust="spacingAndGlyphs" style="font-family:'Liberation Sans',Arial,sans-serif;font-size:8.6px;font-weight:normal;fill:#1e1e1e;white-space:pre">Comparison of HiMAP-seq and HTS²</text>
<text id="t8" x="38.74" y="336.50" textLength="157.60" lengthAdjust="spacingAndGlyphs" style="font-family:'Liberation Sans',Arial,sans-serif;font-size:8.6px;font-weight:normal;fill:#1e1e1e;white-space:pre">in JQ1 perturbation of MDA-MB-231 cells</text>
<text id="t9" x="78.70" y="618.60" textLength="77.56" lengthAdjust="spacingAndGlyphs" style="font-family:'Liberation Sans',Arial,sans-serif;font-size:8.1px;font-weight:normal;fill:#1e1e1e;white-space:pre">HiMAP-seq samples</text>
<text id="r1" transform="translate(7.00,426.56) rotate(-90)" x="0" y="0" textLength="56.50" lengthAdjust="spacingAndGlyphs" style="font-family:'Liberation Sans',Arial,sans-serif;font-size:8.1px;font-weight:normal;fill:#1e1e1e;white-space:pre">Correlation (R)</text>
<text id="r2" transform="translate(42.95,506.86) rotate(-90)" x="0" y="0" textLength="55.56" lengthAdjust="spacingAndGlyphs" style="font-family:'Liberation Sans',Arial,sans-serif;font-size:8.2px;font-weight:normal;fill:#1e1e1e;white-space:pre">HTS² samples</text>
<text id="c1" transform="translate(34.30,362.94) rotate(-90)" x="0" y="0" textLength="17.48" lengthAdjust="spacingAndGlyphs" style="font-family:'Liberation Sans',Arial,sans-serif;font-size:8.2px;font-weight:normal;fill:#1e1e1e;white-space:pre">0.95</text>
<text id="c2" transform="translate(34.30,381.02) rotate(-90)" x="0" y="0" textLength="10.64" lengthAdjust="spacingAndGlyphs" style="font-family:'Liberation Sans',Arial,sans-serif;font-size:8.2px;font-weight:normal;fill:#1e1e1e;white-space:pre">0.9</text>
<text id="c3" transform="translate(34.30,402.94) rotate(-90)" x="0" y="0" textLength="16.54" lengthAdjust="spacingAndGlyphs" style="font-family:'Liberation Sans',Arial,sans-serif;font-size:8.2px;font-weight:normal;fill:#1e1e1e;white-space:pre">0.85</text>
<text id="c4" transform="translate(34.30,420.96) rotate(-90)" x="0" y="0" textLength="11.66" lengthAdjust="spacingAndGlyphs" style="font-family:'Liberation Sans',Arial,sans-serif;font-size:8.2px;font-weight:normal;fill:#1e1e1e;white-space:pre">0.8</text>
<text id="c5" transform="translate(34.30,443.00) rotate(-90)" x="0" y="0" textLength="16.60" lengthAdjust="spacingAndGlyphs" style="font-family:'Liberation Sans',Arial,sans-serif;font-size:8.2px;font-weight:normal;fill:#1e1e1e;white-space:pre">0.75</text>
<text id="b1" x="212.66" y="381.80" textLength="92.68" lengthAdjust="spacingAndGlyphs" style="font-family:'Liberation Sans',Arial,sans-serif;font-size:8.3px;font-weight:bold;fill:#262626;white-space:pre;stroke:#262626;stroke-width:0.15">1,865 TCM compounds</text>
<text id="b2" x="212.62" y="399.10" textLength="155.72" lengthAdjust="spacingAndGlyphs" style="font-family:'Liberation Sans',Arial,sans-serif;font-size:8.3px;font-weight:bold;fill:#262626;white-space:pre;stroke:#262626;stroke-width:0.15">10 µM,  MDA-MB-231 cells, HiMAP-seq</text>
<text id="b3" x="212.66" y="450.70" textLength="92.68" lengthAdjust="spacingAndGlyphs" style="font-family:'Liberation Sans',Arial,sans-serif;font-size:8.3px;font-weight:bold;fill:#262626;white-space:pre;stroke:#262626;stroke-width:0.15">1,865 TCM compounds</text>
<text id="b4" x="212.58" y="464.60" textLength="155.76" lengthAdjust="spacingAndGlyphs" style="font-family:'Liberation Sans',Arial,sans-serif;font-size:8.3px;font-weight:bold;fill:#262626;white-space:pre;stroke:#262626;stroke-width:0.15">20 µM,  MDA-MB-231 cells, HiMAP-seq</text>
<text id="b5" x="247.62" y="510.70" textLength="92.74" lengthAdjust="spacingAndGlyphs" style="font-family:'Liberation Sans',Arial,sans-serif;font-size:8.3px;font-weight:bold;fill:#262626;white-space:pre;stroke:#262626;stroke-width:0.15">1,865 TCM compounds</text>
<text id="b6" x="247.62" y="525.80" textLength="118.72" lengthAdjust="spacingAndGlyphs" style="font-family:'Liberation Sans',Arial,sans-serif;font-size:8.3px;font-weight:bold;fill:#262626;white-space:pre;stroke:#262626;stroke-width:0.15">10 µM,  HEK293T, HiMAP-seq</text>
<text id="b7" x="247.62" y="552.10" textLength="92.74" lengthAdjust="spacingAndGlyphs" style="font-family:'Liberation Sans',Arial,sans-serif;font-size:8.3px;font-weight:bold;fill:#262626;white-space:pre;stroke:#262626;stroke-width:0.15">1,865 TCM compounds</text>
<text id="b8" x="247.58" y="567.30" textLength="118.76" lengthAdjust="spacingAndGlyphs" style="font-family:'Liberation Sans',Arial,sans-serif;font-size:8.3px;font-weight:bold;fill:#262626;white-space:pre;stroke:#262626;stroke-width:0.15">20 µM,  HEK293T, HiMAP-seq</text>
<text id="b9" x="567.74" y="367.80" textLength="116.52" lengthAdjust="spacingAndGlyphs" style="font-family:'Liberation Sans',Arial,sans-serif;font-size:8.3px;font-weight:bold;fill:#262626;white-space:pre;stroke:#262626;stroke-width:0.15">11,356 bioactive compounds</text>
<text id="b10" x="553.74" y="381.20" textLength="131.56" lengthAdjust="spacingAndGlyphs" style="font-family:'Liberation Sans',Arial,sans-serif;font-size:8.3px;font-weight:bold;fill:#262626;white-space:pre;stroke:#262626;stroke-width:0.15">10 µM,  MDA-MB-231 cells, HTS²</text>
<text id="b11" x="567.70" y="541.80" textLength="115.70" lengthAdjust="spacingAndGlyphs" style="font-family:'Liberation Sans',Arial,sans-serif;font-size:8.3px;font-weight:bold;fill:#262626;white-space:pre;stroke:#262626;stroke-width:0.15">11,356 bioactive compounds</text>
<text id="b12" x="567.70" y="556.30" textLength="115.64" lengthAdjust="spacingAndGlyphs" style="font-family:'Liberation Sans',Arial,sans-serif;font-size:8.3px;font-weight:bold;fill:#262626;white-space:pre;stroke:#262626;stroke-width:0.15">10 µM,  HEK293T cells, HTS²</text>
<text id="g1" x="417.40" y="472.70" textLength="119.50" lengthAdjust="spacingAndGlyphs" style="font-family:'Liberation Sans',Arial,sans-serif;font-size:7.1px;font-weight:bold;fill:#66A8DE;white-space:pre">Chemical Induced Gene Signature</text>
<text id="g2" x="417.40" y="487.80" textLength="118.86" lengthAdjust="spacingAndGlyphs" style="font-family:'Liberation Sans',Arial,sans-serif;font-size:6.8px;font-weight:bold;fill:#4DB04F;white-space:pre">319,045,108 gene expression events</text>
<text id="L1" x="449.78" y="460.20" textLength="19.94" lengthAdjust="spacingAndGlyphs" style="font-family:'DejaVu Sans',sans-serif;font-size:32.1px;font-weight:bold;fill:#5AA5E0;white-space:pre;stroke:#5AA5E0;stroke-width:0.8;stroke-linejoin:round">C</text>
<text id="L2" x="472.92" y="460.20" textLength="11.16" lengthAdjust="spacingAndGlyphs" style="font-family:'DejaVu Sans',sans-serif;font-size:32.1px;font-weight:bold;fill:#5AA5E0;white-space:pre;stroke:#5AA5E0;stroke-width:0.8;stroke-linejoin:round">I</text>
<text id="L3" x="487.34" y="460.20" textLength="19.88" lengthAdjust="spacingAndGlyphs" style="font-family:'DejaVu Sans',sans-serif;font-size:32.1px;font-weight:bold;fill:#5AA5E0;white-space:pre;stroke:#5AA5E0;stroke-width:0.8;stroke-linejoin:round">G</text>
<text id="L4" x="511.66" y="460.20" textLength="22.36" lengthAdjust="spacingAndGlyphs" style="font-family:'DejaVu Sans',sans-serif;font-size:32.1px;font-weight:bold;fill:#5AA5E0;white-space:pre;stroke:#5AA5E0;stroke-width:0.8;stroke-linejoin:round">S</text>
</svg>
</body></html>
